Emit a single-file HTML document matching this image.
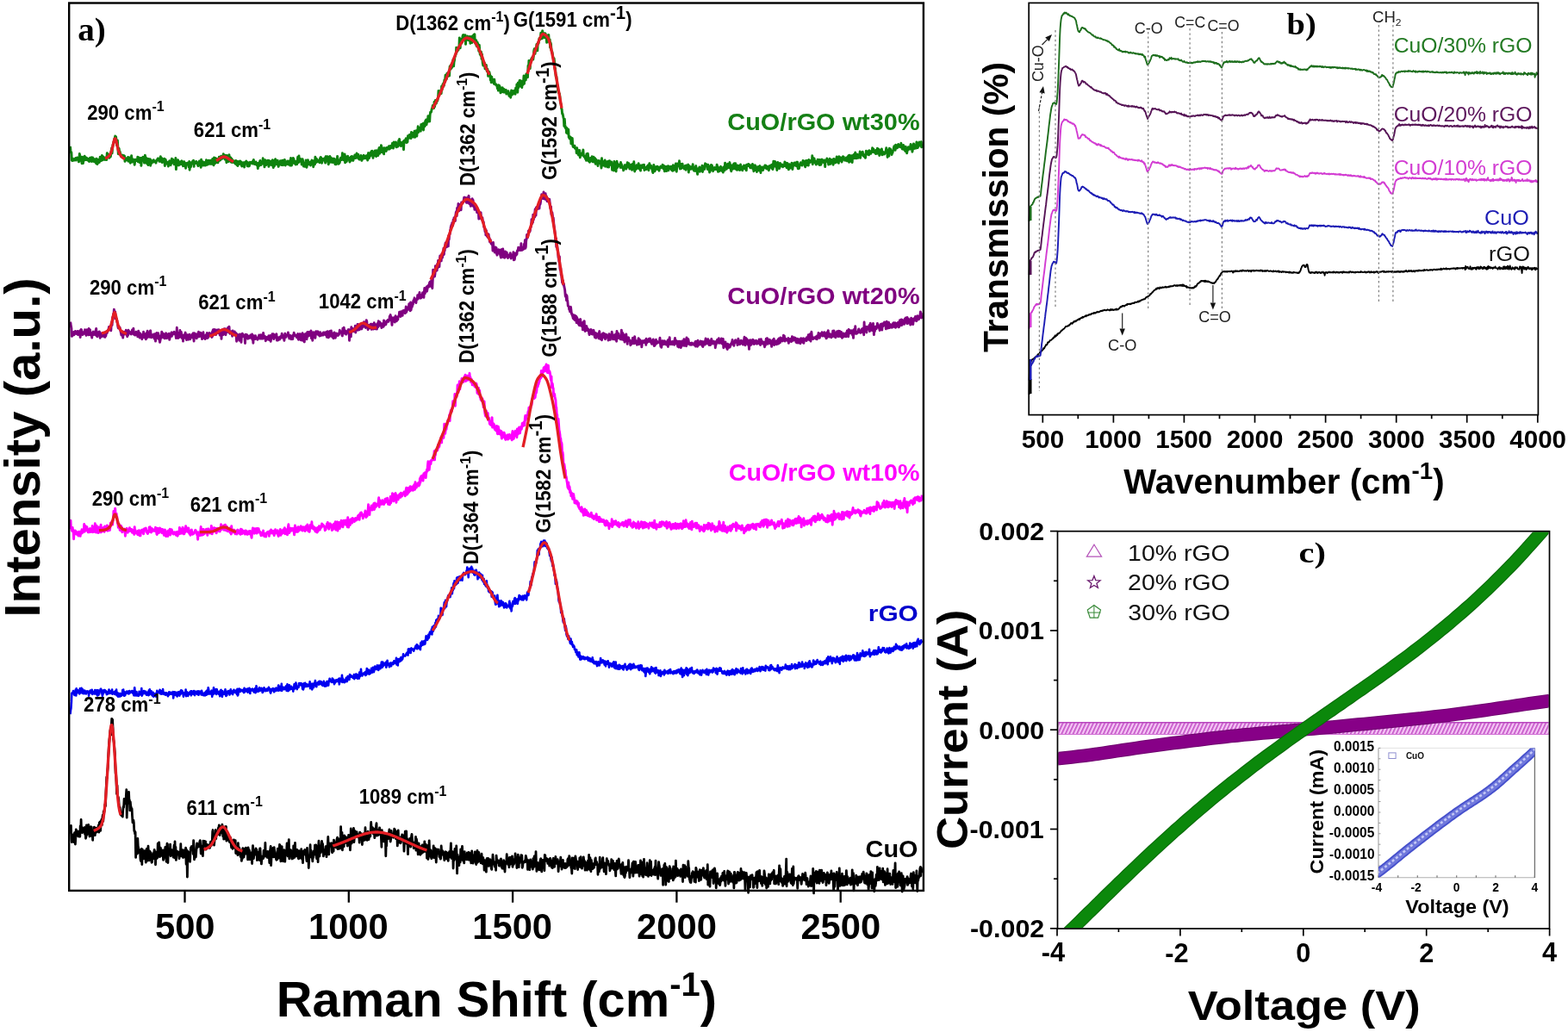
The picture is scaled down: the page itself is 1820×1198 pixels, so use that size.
<!DOCTYPE html>
<html><head><meta charset="utf-8"><title>Figure</title>
<style>html,body{margin:0;padding:0;background:#fff;width:1820px;height:1198px;overflow:hidden}svg{display:block}</style>
</head><body><svg width="1820" height="1198" viewBox="0 0 1820 1198"><rect width="100%" height="100%" fill="#fff"/><path d="M81.5 169.8L82.0 174.7 82.4 177.3 82.9 177.1 83.3 186.0 83.8 186.5 84.2 184.0 84.7 186.4 85.1 185.8 85.6 185.5 86.0 184.8 86.5 185.9 86.9 184.7 87.4 184.2 87.8 183.5 88.3 186.0 88.7 184.7 89.2 184.0 89.6 182.9 90.1 184.1 90.5 184.7 91.0 184.1 91.4 187.8 91.9 187.1 92.3 178.5 92.8 180.4 93.2 184.4 93.7 183.8 94.1 185.3 94.6 185.3 95.0 189.7 95.5 182.2 95.9 183.9 96.4 189.5 96.8 186.3 97.3 186.4 97.7 183.7 98.2 181.2 98.6 185.6 99.1 185.6 99.5 182.6 100.0 184.0 100.4 185.5 100.9 183.5 101.3 185.6 101.8 186.0 102.2 185.8 102.7 184.5 103.1 186.9 103.6 187.5 104.0 186.0 104.5 183.2 104.9 186.8 105.4 183.9 105.8 187.2 106.3 182.7 106.7 187.5 107.2 185.6 107.6 183.0 108.1 185.5 108.5 186.6 109.0 187.5 109.4 184.8 109.9 184.8 110.3 188.1 110.8 186.7 111.2 185.7 111.7 189.7 112.1 184.1 112.6 188.5 113.0 190.6 113.5 186.9 113.9 185.4 114.4 188.8 114.8 187.3 115.3 188.5 115.7 185.2 116.2 182.2 116.6 185.0 117.1 183.9 117.5 186.5 118.0 184.8 118.4 180.4 118.9 181.2 119.3 185.9 119.8 185.3 120.2 182.1 120.7 183.5 121.1 184.5 121.6 184.5 122.0 185.4 122.5 183.9 122.9 183.0 123.4 182.5 123.8 185.5 124.3 177.6 124.7 182.4 125.2 182.6 125.6 179.0 126.1 182.8 126.5 180.1 127.0 183.2 127.4 180.2 127.9 181.4 128.3 181.9 128.8 178.9 129.2 174.7 129.7 171.7 130.1 177.8 130.6 171.5 131.0 168.0 131.5 167.8 131.9 164.7 132.4 165.1 132.8 161.3 133.3 160.1 133.7 157.9 134.2 161.2 134.6 158.7 135.1 164.4 135.5 168.5 136.0 163.2 136.4 163.1 136.9 172.4 137.3 178.7 137.8 171.9 138.2 172.7 138.7 178.3 139.1 176.0 139.6 177.7 140.0 178.9 140.5 181.6 140.9 180.0 141.4 182.1 141.8 181.4 142.3 180.2 142.7 181.8 143.2 180.6 143.6 183.1 144.1 180.7 144.5 181.1 145.0 187.3 145.4 184.0 145.9 184.3 146.3 185.8 146.8 183.8 147.2 184.4 147.7 186.1 148.1 185.8 148.6 182.5 149.0 187.2 149.5 183.9 149.9 182.9 150.4 183.2 150.8 184.4 151.3 189.2 151.7 182.7 152.2 185.9 152.6 180.6 153.1 185.7 153.5 188.0 154.0 185.4 154.4 184.7 154.9 186.8 155.3 188.1 155.8 188.1 156.2 191.2 156.7 187.1 157.1 185.2 157.6 186.3 158.0 186.3 158.5 186.6 158.9 186.2 159.4 186.5 159.8 182.1 160.3 187.8 160.7 184.4 161.2 182.9 161.6 187.1 162.1 188.6 162.5 186.7 163.0 185.9 163.4 183.4 163.9 192.3 164.3 187.7 164.8 183.1 165.2 184.0 165.7 186.1 166.1 182.3 166.6 186.4 167.0 185.1 167.5 189.1 167.9 188.5 168.4 180.1 168.8 186.6 169.3 182.8 169.7 189.2 170.2 187.0 170.6 187.9 171.1 184.2 171.5 191.0 172.0 191.5 172.4 184.5 172.9 187.9 173.3 185.7 173.8 187.4 174.2 184.7 174.7 192.2 175.1 185.8 175.6 187.5 176.0 189.5 176.5 186.9 176.9 187.9 177.4 187.2 177.8 188.1 178.3 185.6 178.7 187.2 179.2 187.6 179.6 187.1 180.1 187.9 180.5 186.9 181.0 189.2 181.4 186.5 181.9 186.8 182.3 185.5 182.8 185.7 183.2 183.9 183.7 184.4 184.1 184.0 184.6 184.9 185.0 187.4 185.5 187.4 185.9 185.5 186.4 181.8 186.8 187.5 187.3 187.1 187.7 183.4 188.2 188.6 188.6 185.3 189.1 184.5 189.5 187.6 190.0 187.2 190.4 188.3 190.9 184.3 191.3 192.5 191.8 187.1 192.2 185.1 192.7 190.2 193.1 188.1 193.6 189.7 194.0 188.2 194.5 188.9 194.9 189.6 195.4 193.0 195.8 190.6 196.3 187.8 196.7 186.8 197.2 188.9 197.6 189.6 198.1 191.8 198.5 186.4 199.0 189.7 199.4 184.2 199.9 185.8 200.3 188.3 200.8 185.1 201.2 188.4 201.7 188.3 202.1 190.7 202.6 186.6 203.0 187.4 203.5 189.8 203.9 183.5 204.4 196.6 204.8 187.9 205.3 187.9 205.7 191.8 206.2 189.7 206.6 185.7 207.1 191.3 207.5 191.9 208.0 188.8 208.4 189.1 208.9 190.9 209.3 187.6 209.8 190.8 210.2 190.3 210.7 188.3 211.1 186.8 211.6 189.6 212.0 188.3 212.5 192.8 212.9 191.0 213.4 192.6 213.8 187.6 214.3 191.6 214.7 189.2 215.2 192.6 215.6 195.2 216.1 190.3 216.5 189.6 217.0 190.5 217.4 189.7 217.9 189.1 218.3 191.0 218.8 189.9 219.2 193.9 219.7 187.5 220.1 197.2 220.6 192.6 221.0 189.7 221.5 193.7 221.9 188.9 222.4 188.5 222.8 189.5 223.3 190.0 223.7 187.0 224.2 190.1 224.6 186.3 225.1 193.4 225.5 189.9 226.0 188.6 226.4 187.9 226.9 189.1 227.3 189.4 227.8 187.5 228.2 187.8 228.7 189.5 229.1 188.7 229.6 192.1 230.0 192.6 230.5 190.0 230.9 191.1 231.4 187.0 231.8 191.7 232.3 190.3 232.7 191.6 233.2 194.3 233.6 185.3 234.1 191.3 234.5 188.2 235.0 192.1 235.4 187.7 235.9 189.5 236.3 191.1 236.8 191.9 237.2 190.5 237.7 188.4 238.1 188.8 238.6 192.0 239.0 189.7 239.5 185.7 239.9 191.4 240.4 190.2 240.8 191.1 241.3 188.2 241.7 190.7 242.2 186.1 242.6 189.8 243.1 187.1 243.5 189.7 244.0 190.3 244.4 186.1 244.9 187.6 245.3 187.7 245.8 190.3 246.2 189.0 246.7 184.4 247.1 188.2 247.6 188.8 248.0 191.9 248.5 183.0 248.9 185.6 249.4 189.8 249.8 183.5 250.3 183.7 250.7 187.6 251.2 188.6 251.6 184.5 252.1 187.1 252.5 185.9 253.0 188.9 253.4 185.0 253.9 187.0 254.3 182.2 254.8 183.5 255.2 183.4 255.7 186.0 256.1 184.5 256.6 181.1 257.0 184.3 257.5 184.4 257.9 182.3 258.4 181.9 258.8 182.1 259.3 178.7 259.7 183.2 260.2 183.5 260.6 181.0 261.1 185.0 261.5 180.2 262.0 182.4 262.4 182.8 262.9 188.7 263.3 180.5 263.8 185.8 264.2 186.8 264.7 185.6 265.1 187.6 265.6 182.6 266.0 179.8 266.5 187.0 266.9 182.5 267.4 184.7 267.8 182.8 268.3 188.2 268.7 188.0 269.2 184.5 269.6 188.5 270.1 186.9 270.5 186.5 271.0 187.2 271.4 186.8 271.9 188.9 272.3 188.3 272.8 186.9 273.2 190.2 273.7 186.5 274.1 188.7 274.6 189.1 275.0 191.6 275.5 187.2 275.9 192.5 276.4 189.1 276.8 188.4 277.3 187.5 277.7 190.6 278.2 189.5 278.6 187.0 279.1 187.1 279.5 188.5 280.0 188.3 280.4 192.4 280.9 193.0 281.3 191.8 281.8 190.5 282.2 188.6 282.7 189.6 283.1 191.4 283.6 194.1 284.0 191.1 284.5 188.3 284.9 188.9 285.4 187.6 285.8 186.9 286.3 188.2 286.7 189.1 287.2 192.9 287.6 188.8 288.1 191.9 288.5 192.9 289.0 189.1 289.4 192.7 289.9 190.7 290.3 188.1 290.8 189.7 291.2 189.1 291.7 188.5 292.1 188.6 292.6 189.4 293.0 190.0 293.5 186.9 293.9 189.0 294.4 185.5 294.8 189.7 295.3 190.6 295.7 189.6 296.2 190.0 296.6 190.7 297.1 187.9 297.5 189.0 298.0 190.8 298.4 192.0 298.9 190.6 299.3 195.6 299.8 189.4 300.2 191.9 300.7 192.4 301.1 189.1 301.6 187.4 302.0 186.4 302.5 189.5 302.9 191.6 303.4 189.6 303.8 189.3 304.3 188.0 304.7 190.1 305.2 183.8 305.6 189.3 306.1 188.9 306.5 185.7 307.0 193.9 307.4 185.6 307.9 186.4 308.3 186.1 308.8 191.5 309.2 187.0 309.7 190.6 310.1 190.5 310.6 189.9 311.0 186.3 311.5 188.0 311.9 193.4 312.4 186.5 312.8 187.6 313.3 189.2 313.7 191.4 314.2 190.1 314.6 191.2 315.1 186.9 315.5 191.5 316.0 190.6 316.4 185.6 316.9 192.8 317.3 194.6 317.8 187.5 318.2 189.4 318.7 192.5 319.1 185.9 319.6 184.7 320.0 186.4 320.5 188.1 320.9 188.0 321.4 190.7 321.8 189.9 322.3 186.3 322.7 190.4 323.2 193.4 323.6 191.7 324.1 191.2 324.5 188.9 325.0 191.1 325.4 186.6 325.9 190.6 326.3 188.6 326.8 191.5 327.2 189.9 327.7 186.3 328.1 189.1 328.6 191.7 329.0 186.2 329.5 187.5 329.9 187.1 330.4 185.4 330.8 191.1 331.3 191.9 331.7 190.7 332.2 189.3 332.6 188.6 333.1 190.3 333.5 186.9 334.0 190.6 334.4 190.9 334.9 190.5 335.3 187.0 335.8 188.3 336.2 187.6 336.7 192.1 337.1 188.3 337.6 183.4 338.0 188.7 338.5 192.1 338.9 189.4 339.4 189.9 339.8 188.1 340.3 183.5 340.7 184.1 341.2 185.5 341.6 188.2 342.1 189.3 342.5 190.3 343.0 188.0 343.4 191.0 343.9 188.1 344.3 187.1 344.8 190.6 345.2 186.4 345.7 182.1 346.1 185.9 346.6 188.5 347.0 181.0 347.5 187.2 347.9 187.2 348.4 184.7 348.8 184.5 349.3 186.9 349.7 186.8 350.2 191.0 350.6 189.1 351.1 184.6 351.5 186.4 352.0 190.2 352.4 193.1 352.9 189.7 353.3 189.6 353.8 193.3 354.2 189.0 354.7 188.4 355.1 185.9 355.6 192.2 356.0 194.3 356.5 191.2 356.9 189.1 357.4 185.7 357.8 189.2 358.3 190.8 358.7 188.0 359.2 190.1 359.6 190.0 360.1 189.2 360.5 192.0 361.0 189.2 361.4 187.1 361.9 186.1 362.3 188.9 362.8 188.6 363.2 186.7 363.7 193.7 364.1 191.5 364.6 186.6 365.0 186.2 365.5 190.8 365.9 182.3 366.4 185.5 366.8 188.6 367.3 184.2 367.7 185.1 368.2 185.3 368.6 187.7 369.1 186.4 369.5 187.0 370.0 187.5 370.4 186.2 370.9 188.8 371.3 184.6 371.8 183.1 372.2 182.4 372.7 182.8 373.1 185.4 373.6 189.2 374.0 187.3 374.5 185.6 374.9 184.5 375.4 185.8 375.8 186.1 376.3 185.6 376.7 183.6 377.2 185.7 377.6 189.1 378.1 181.6 378.5 186.1 379.0 181.6 379.4 187.0 379.9 184.8 380.3 181.6 380.8 186.7 381.2 190.7 381.7 186.8 382.1 189.2 382.6 186.4 383.0 181.5 383.5 187.7 383.9 185.5 384.4 183.1 384.8 188.3 385.3 187.1 385.7 185.2 386.2 188.5 386.6 184.5 387.1 184.0 387.5 184.5 388.0 188.1 388.4 184.4 388.9 190.6 389.3 187.9 389.8 190.8 390.2 185.6 390.7 186.5 391.1 189.7 391.6 181.4 392.0 185.3 392.5 190.3 392.9 188.9 393.4 190.1 393.8 187.0 394.3 188.9 394.7 185.8 395.2 184.1 395.6 183.2 396.1 185.6 396.5 185.4 397.0 184.9 397.4 177.8 397.9 181.0 398.3 184.2 398.8 185.8 399.2 183.5 399.7 182.5 400.1 178.9 400.6 188.9 401.0 181.4 401.5 187.8 401.9 187.5 402.4 187.3 402.8 182.4 403.3 184.1 403.7 181.1 404.2 184.5 404.6 183.9 405.1 185.2 405.5 186.2 406.0 188.1 406.4 183.1 406.9 186.5 407.3 182.1 407.8 181.8 408.2 182.4 408.7 181.5 409.1 186.0 409.6 185.8 410.0 186.4 410.5 183.2 410.9 183.8 411.4 181.6 411.8 180.0 412.3 183.6 412.7 183.0 413.2 179.6 413.6 183.4 414.1 177.9 414.5 181.5 415.0 180.4 415.4 180.7 415.9 179.4 416.3 184.3 416.8 183.6 417.2 185.2 417.7 183.0 418.1 184.8 418.6 182.2 419.0 180.5 419.5 184.5 419.9 186.4 420.4 184.4 420.8 182.3 421.3 182.8 421.7 184.2 422.2 180.2 422.6 183.9 423.1 183.9 423.5 182.0 424.0 182.1 424.4 183.4 424.9 180.9 425.3 180.7 425.8 184.3 426.2 182.8 426.7 186.0 427.1 179.6 427.6 177.6 428.0 183.8 428.5 183.7 428.9 179.6 429.4 177.8 429.8 181.0 430.3 176.9 430.7 180.0 431.2 175.5 431.6 179.9 432.1 175.3 432.5 179.5 433.0 183.4 433.4 178.9 433.9 181.1 434.3 177.5 434.8 176.6 435.2 174.9 435.7 180.6 436.1 177.8 436.6 181.6 437.0 174.6 437.5 176.6 437.9 177.0 438.4 179.9 438.8 180.6 439.3 174.5 439.7 173.0 440.2 171.4 440.6 178.4 441.1 174.9 441.5 173.4 442.0 174.6 442.4 168.6 442.9 170.5 443.3 176.8 443.8 175.5 444.2 174.9 444.7 172.2 445.1 176.0 445.6 178.8 446.0 171.6 446.5 174.5 446.9 173.3 447.4 175.1 447.8 174.1 448.3 175.4 448.7 171.4 449.2 173.1 449.6 171.3 450.1 172.0 450.5 171.8 451.0 173.2 451.4 169.8 451.9 170.1 452.3 173.1 452.8 169.7 453.2 169.4 453.7 171.8 454.1 170.2 454.6 169.6 455.0 169.8 455.5 166.2 455.9 170.1 456.4 172.1 456.8 170.2 457.3 164.9 457.7 169.2 458.2 166.2 458.6 167.6 459.1 168.3 459.5 164.9 460.0 170.8 460.4 167.3 460.9 169.2 461.3 168.6 461.8 170.2 462.2 169.7 462.7 163.1 463.1 166.7 463.6 161.4 464.0 165.5 464.5 168.2 464.9 168.7 465.4 169.5 465.8 165.4 466.3 166.9 466.7 166.1 467.2 168.7 467.6 169.1 468.1 164.1 468.5 173.7 469.0 164.2 469.4 162.9 469.9 164.8 470.3 164.8 470.8 164.0 471.2 160.8 471.7 165.6 472.1 161.9 472.6 165.2 473.0 164.6 473.5 157.8 473.9 158.1 474.4 157.7 474.8 160.3 475.3 156.4 475.7 159.4 476.2 156.3 476.6 158.8 477.1 160.7 477.5 153.5 478.0 155.8 478.4 156.5 478.9 155.1 479.3 154.6 479.8 159.0 480.2 157.6 480.7 156.2 481.1 152.1 481.6 159.3 482.0 154.5 482.5 152.0 482.9 152.4 483.4 151.9 483.8 158.1 484.3 153.2 484.7 152.6 485.2 146.8 485.6 153.6 486.1 148.8 486.5 148.2 487.0 152.1 487.4 148.1 487.9 151.8 488.3 152.1 488.8 144.5 489.2 148.2 489.7 144.2 490.1 147.6 490.6 149.6 491.0 143.5 491.5 151.0 491.9 145.3 492.4 142.7 492.8 144.8 493.3 146.5 493.7 140.4 494.2 143.2 494.6 139.0 495.1 144.6 495.5 141.1 496.0 138.8 496.4 141.5 496.9 134.7 497.3 136.0 497.8 140.6 498.2 134.6 498.7 141.0 499.1 133.4 499.6 130.1 500.0 130.3 500.5 130.1 500.9 127.9 501.4 125.9 501.8 125.1 502.3 122.4 502.7 125.7 503.2 125.6 503.6 125.7 504.1 118.2 504.5 124.1 505.0 121.1 505.4 116.4 505.9 119.4 506.3 120.1 506.8 118.3 507.2 117.6 507.7 117.0 508.1 115.6 508.6 112.0 509.0 105.4 509.5 107.7 509.9 109.5 510.4 106.3 510.8 108.3 511.3 107.6 511.7 104.6 512.2 108.5 512.6 100.1 513.1 104.2 513.5 99.6 514.0 97.8 514.4 100.6 514.9 96.4 515.3 99.4 515.8 93.0 516.2 95.2 516.7 91.9 517.1 87.2 517.6 91.0 518.0 87.8 518.5 91.5 518.9 85.2 519.4 84.8 519.8 88.7 520.3 87.7 520.7 85.8 521.2 83.7 521.6 88.0 522.1 77.3 522.5 77.6 523.0 75.9 523.4 80.1 523.9 77.4 524.3 78.8 524.8 77.4 525.2 73.2 525.7 70.5 526.1 69.0 526.6 76.8 527.0 72.2 527.5 70.0 527.9 66.2 528.4 65.3 528.8 63.6 529.3 62.4 529.7 55.2 530.2 60.5 530.6 58.3 531.1 58.9 531.5 57.5 532.0 58.1 532.4 54.6 532.9 55.9 533.3 43.9 533.8 48.5 534.2 55.7 534.7 46.4 535.1 48.3 535.6 50.4 536.0 45.2 536.5 49.2 536.9 42.5 537.4 40.7 537.8 41.9 538.3 40.6 538.7 45.0 539.2 43.9 539.6 45.5 540.1 40.7 540.5 51.4 541.0 43.7 541.4 43.7 541.9 45.1 542.3 43.1 542.8 42.0 543.2 44.1 543.7 46.6 544.1 45.9 544.6 46.9 545.0 42.7 545.5 42.2 545.9 50.4 546.4 44.1 546.8 46.4 547.3 47.4 547.7 49.6 548.2 41.9 548.6 44.7 549.1 45.2 549.5 45.9 550.0 40.2 550.4 47.2 550.9 39.6 551.3 49.1 551.8 50.3 552.2 51.1 552.7 46.6 553.1 53.5 553.6 49.1 554.0 49.0 554.5 50.7 554.9 52.1 555.4 56.2 555.8 59.2 556.3 52.2 556.7 57.8 557.2 63.2 557.6 62.5 558.1 64.6 558.5 60.2 559.0 68.4 559.4 62.6 559.9 68.8 560.3 73.4 560.8 76.1 561.2 73.5 561.7 75.7 562.1 72.7 562.6 74.2 563.0 79.8 563.5 77.6 563.9 78.1 564.4 75.5 564.8 80.7 565.3 82.9 565.7 79.9 566.2 81.7 566.6 88.3 567.1 85.4 567.5 85.1 568.0 83.7 568.4 86.0 568.9 87.8 569.3 93.0 569.8 88.4 570.2 95.7 570.7 89.1 571.1 91.4 571.6 95.3 572.0 93.2 572.5 92.4 572.9 95.1 573.4 97.4 573.8 92.3 574.3 97.0 574.7 98.0 575.2 97.8 575.6 97.7 576.1 98.4 576.5 99.3 577.0 100.6 577.4 102.7 577.9 100.3 578.3 105.1 578.8 98.8 579.2 104.9 579.7 99.4 580.1 101.4 580.6 103.1 581.0 107.9 581.5 105.1 581.9 101.9 582.4 106.7 582.8 103.0 583.3 101.8 583.7 105.3 584.2 104.6 584.6 107.1 585.1 103.4 585.5 106.1 586.0 107.1 586.4 106.4 586.9 105.9 587.3 104.5 587.8 109.1 588.2 107.4 588.7 108.7 589.1 106.9 589.6 108.2 590.0 105.8 590.5 109.1 590.9 111.2 591.4 109.6 591.8 111.8 592.3 108.1 592.7 113.2 593.2 109.0 593.6 105.0 594.1 110.2 594.5 108.2 595.0 105.6 595.4 109.4 595.9 107.8 596.3 107.7 596.8 105.1 597.2 106.0 597.7 105.6 598.1 109.2 598.6 102.2 599.0 103.5 599.5 104.0 599.9 97.9 600.4 97.7 600.8 107.2 601.3 96.2 601.7 101.9 602.2 97.6 602.6 97.3 603.1 93.5 603.5 95.9 604.0 100.0 604.4 93.8 604.9 98.7 605.3 97.5 605.8 101.6 606.2 94.5 606.7 98.7 607.1 97.2 607.6 93.5 608.0 88.0 608.5 97.2 608.9 88.8 609.4 90.4 609.8 93.2 610.3 92.8 610.7 86.3 611.2 87.2 611.6 85.2 612.1 87.6 612.5 89.7 613.0 76.3 613.4 82.3 613.9 70.4 614.3 76.9 614.8 72.4 615.2 79.6 615.7 73.3 616.1 69.6 616.6 69.1 617.0 67.7 617.5 68.6 617.9 66.5 618.4 67.6 618.8 69.0 619.3 65.5 619.7 59.0 620.2 56.8 620.6 58.2 621.1 62.3 621.5 57.4 622.0 55.4 622.4 56.7 622.9 51.4 623.3 51.1 623.8 58.8 624.2 51.1 624.7 49.4 625.1 50.2 625.6 46.3 626.0 44.6 626.5 44.0 626.9 45.7 627.4 43.0 627.8 38.3 628.3 39.9 628.7 41.9 629.2 44.8 629.6 35.7 630.1 39.7 630.5 38.0 631.0 41.3 631.4 40.4 631.9 43.7 632.3 41.4 632.8 38.7 633.2 39.3 633.7 42.5 634.1 43.0 634.6 49.3 635.0 47.8 635.5 42.9 635.9 45.0 636.4 40.6 636.8 40.4 637.3 48.3 637.7 49.0 638.2 45.9 638.6 55.3 639.1 49.7 639.5 51.1 640.0 58.3 640.4 59.2 640.9 60.2 641.3 62.6 641.8 65.8 642.2 67.2 642.7 69.8 643.1 67.7 643.6 71.9 644.0 80.1 644.5 79.2 644.9 85.4 645.4 90.0 645.8 88.4 646.3 92.8 646.7 100.4 647.2 99.4 647.6 105.2 648.1 107.1 648.5 107.7 649.0 108.1 649.4 108.8 649.9 112.0 650.3 117.4 650.8 120.0 651.2 121.0 651.7 126.3 652.1 126.6 652.6 132.1 653.0 131.9 653.5 134.0 653.9 136.3 654.4 138.1 654.8 146.5 655.3 138.0 655.7 144.2 656.2 148.5 656.6 148.7 657.1 147.7 657.5 154.2 658.0 148.6 658.4 149.3 658.9 155.1 659.3 151.3 659.8 150.2 660.2 159.2 660.7 159.9 661.1 160.8 661.6 158.7 662.0 161.3 662.5 159.4 662.9 166.8 663.4 165.4 663.8 166.1 664.3 160.5 664.7 167.9 665.2 170.4 665.6 170.5 666.1 170.3 666.5 169.2 667.0 169.2 667.4 172.2 667.9 172.4 668.3 172.8 668.8 172.2 669.2 177.7 669.7 171.6 670.1 174.9 670.6 174.2 671.0 178.6 671.5 180.0 671.9 180.0 672.4 179.2 672.8 174.4 673.3 182.9 673.7 179.5 674.2 178.2 674.6 178.7 675.1 178.1 675.5 180.1 676.0 180.1 676.4 178.8 676.9 173.9 677.3 180.2 677.8 181.7 678.2 182.2 678.7 181.0 679.1 182.9 679.6 184.6 680.0 181.5 680.5 186.4 680.9 178.7 681.4 180.6 681.8 181.6 682.3 178.2 682.7 181.7 683.2 187.1 683.6 187.2 684.1 184.5 684.5 188.4 685.0 185.0 685.4 183.4 685.9 185.2 686.3 184.5 686.8 186.7 687.2 181.6 687.7 187.7 688.1 184.5 688.6 187.7 689.0 182.3 689.5 185.1 689.9 186.4 690.4 188.5 690.8 183.6 691.3 190.4 691.7 187.7 692.2 185.5 692.6 189.6 693.1 187.1 693.5 189.7 694.0 192.6 694.4 189.2 694.9 186.4 695.3 186.9 695.8 189.6 696.2 189.2 696.7 186.9 697.1 187.6 697.6 190.9 698.0 195.0 698.5 183.7 698.9 191.6 699.4 189.5 699.8 191.9 700.3 192.1 700.7 190.3 701.2 187.8 701.6 187.0 702.1 185.9 702.5 193.2 703.0 189.9 703.4 189.3 703.9 190.0 704.3 187.6 704.8 191.5 705.2 193.9 705.7 193.5 706.1 187.3 706.6 194.1 707.0 189.2 707.5 186.6 707.9 188.3 708.4 188.9 708.8 191.2 709.3 188.9 709.7 187.9 710.2 190.9 710.6 197.4 711.1 190.1 711.5 192.8 712.0 192.0 712.4 198.0 712.9 187.4 713.3 194.3 713.8 188.8 714.2 190.3 714.7 191.4 715.1 199.0 715.6 189.8 716.0 187.2 716.5 194.6 716.9 189.7 717.4 191.2 717.8 191.8 718.3 192.2 718.7 191.7 719.2 192.8 719.6 193.2 720.1 194.5 720.5 188.4 721.0 191.1 721.4 190.6 721.9 194.6 722.3 193.3 722.8 194.9 723.2 195.1 723.7 197.9 724.1 194.7 724.6 196.1 725.0 191.7 725.5 192.1 725.9 193.9 726.4 191.8 726.8 196.1 727.3 191.4 727.7 194.5 728.2 188.6 728.6 191.6 729.1 193.3 729.5 193.4 730.0 189.8 730.4 194.1 730.9 196.1 731.3 195.3 731.8 192.3 732.2 192.5 732.7 191.2 733.1 195.4 733.6 197.3 734.0 192.8 734.5 190.1 734.9 194.5 735.4 195.7 735.8 187.8 736.3 194.3 736.7 199.0 737.2 195.9 737.6 195.3 738.1 194.9 738.5 196.4 739.0 191.8 739.4 192.1 739.9 195.0 740.3 192.5 740.8 193.5 741.2 189.7 741.7 195.9 742.1 196.2 742.6 194.4 743.0 194.7 743.5 198.1 743.9 191.9 744.4 192.4 744.8 192.0 745.3 193.6 745.7 191.6 746.2 194.8 746.6 193.2 747.1 191.4 747.5 191.2 748.0 197.6 748.4 194.7 748.9 194.3 749.3 194.9 749.8 194.6 750.2 196.5 750.7 196.0 751.1 193.3 751.6 192.7 752.0 192.1 752.5 191.7 752.9 197.7 753.4 192.3 753.8 189.7 754.3 192.3 754.7 192.4 755.2 194.9 755.6 192.1 756.1 195.3 756.5 195.0 757.0 197.0 757.4 199.0 757.9 200.6 758.3 197.2 758.8 191.4 759.2 193.2 759.7 194.7 760.1 198.9 760.6 195.7 761.0 197.0 761.5 193.8 761.9 195.6 762.4 195.9 762.8 193.2 763.3 196.1 763.7 196.8 764.2 194.0 764.6 196.7 765.1 198.2 765.5 194.6 766.0 194.4 766.4 193.8 766.9 193.1 767.3 194.9 767.8 193.7 768.2 194.0 768.7 193.0 769.1 191.3 769.6 192.7 770.0 195.7 770.5 192.3 770.9 196.2 771.4 198.8 771.8 197.6 772.3 193.4 772.7 196.3 773.2 193.4 773.6 198.6 774.1 193.4 774.5 194.9 775.0 197.9 775.4 192.8 775.9 197.8 776.3 193.0 776.8 195.5 777.2 194.4 777.7 195.0 778.1 195.6 778.6 195.2 779.0 193.1 779.5 197.4 779.9 197.0 780.4 198.2 780.8 198.3 781.3 191.8 781.7 197.6 782.2 197.4 782.6 192.9 783.1 196.2 783.5 197.0 784.0 192.1 784.4 190.0 784.9 192.1 785.3 199.2 785.8 193.3 786.2 189.9 786.7 192.0 787.1 190.3 787.6 191.7 788.0 192.9 788.5 186.8 788.9 193.6 789.4 196.0 789.8 192.4 790.3 192.1 790.7 195.6 791.2 190.3 791.6 190.4 792.1 190.3 792.5 193.2 793.0 194.7 793.4 193.7 793.9 195.3 794.3 196.1 794.8 195.4 795.2 192.5 795.7 193.7 796.1 197.2 796.6 191.9 797.0 193.7 797.5 193.3 797.9 193.8 798.4 191.7 798.8 191.1 799.3 200.0 799.7 196.3 800.2 192.6 800.6 194.2 801.1 196.0 801.5 193.9 802.0 196.3 802.4 193.8 802.9 194.7 803.3 195.6 803.8 195.0 804.2 190.7 804.7 196.7 805.1 197.5 805.6 198.2 806.0 195.0 806.5 198.2 806.9 198.0 807.4 193.5 807.8 192.5 808.3 198.7 808.7 195.4 809.2 199.8 809.6 202.4 810.1 196.0 810.5 195.6 811.0 197.0 811.4 198.4 811.9 194.0 812.3 199.2 812.8 198.4 813.2 197.4 813.7 194.4 814.1 197.5 814.6 197.1 815.0 192.2 815.5 199.5 815.9 193.8 816.4 195.1 816.8 192.9 817.3 194.8 817.7 196.5 818.2 191.8 818.6 189.8 819.1 192.5 819.5 190.5 820.0 191.7 820.4 193.1 820.9 193.3 821.3 196.5 821.8 191.2 822.2 194.5 822.7 192.7 823.1 197.1 823.6 200.0 824.0 195.1 824.5 198.5 824.9 193.7 825.4 191.5 825.8 192.4 826.3 191.9 826.7 193.5 827.2 195.3 827.6 198.7 828.1 197.7 828.5 197.2 829.0 195.2 829.4 194.5 829.9 196.2 830.3 196.4 830.8 196.6 831.2 196.7 831.7 195.5 832.1 191.2 832.6 193.0 833.0 193.6 833.5 199.3 833.9 194.4 834.4 197.0 834.8 198.8 835.3 196.3 835.7 194.7 836.2 194.9 836.6 193.3 837.1 196.4 837.5 198.3 838.0 197.0 838.4 197.4 838.9 197.2 839.3 200.1 839.8 193.9 840.2 195.6 840.7 196.7 841.1 197.8 841.6 189.2 842.0 193.4 842.5 194.0 842.9 192.0 843.4 196.2 843.8 194.7 844.3 194.3 844.7 190.2 845.2 190.8 845.6 191.5 846.1 194.7 846.5 190.7 847.0 188.6 847.4 191.9 847.9 191.8 848.3 197.0 848.8 198.8 849.2 192.0 849.7 195.3 850.1 196.4 850.6 196.2 851.0 193.1 851.5 190.5 851.9 192.6 852.4 189.6 852.8 194.5 853.3 195.9 853.7 189.8 854.2 194.1 854.6 194.9 855.1 197.1 855.5 197.3 856.0 191.9 856.4 192.4 856.9 193.1 857.3 196.7 857.8 192.5 858.2 193.8 858.7 197.6 859.1 194.4 859.6 191.0 860.0 193.7 860.5 195.9 860.9 194.2 861.4 197.4 861.8 197.8 862.3 193.4 862.7 193.8 863.2 194.6 863.6 192.0 864.1 195.6 864.5 194.1 865.0 196.1 865.4 192.7 865.9 191.8 866.3 197.8 866.8 191.3 867.2 191.7 867.7 191.2 868.1 192.0 868.6 190.5 869.0 192.5 869.5 191.0 869.9 191.8 870.4 193.8 870.8 194.8 871.3 194.5 871.7 191.9 872.2 194.8 872.6 193.8 873.1 194.1 873.5 190.5 874.0 196.2 874.4 194.4 874.9 198.8 875.3 196.3 875.8 192.3 876.2 191.7 876.7 197.5 877.1 192.8 877.6 196.3 878.0 194.0 878.5 199.5 878.9 194.8 879.4 198.1 879.8 197.6 880.3 193.5 880.7 193.8 881.2 198.0 881.6 194.6 882.1 192.6 882.5 197.4 883.0 200.5 883.4 194.5 883.9 197.8 884.3 194.1 884.8 197.6 885.2 193.9 885.7 197.5 886.1 195.7 886.6 194.0 887.0 195.0 887.5 193.3 887.9 192.0 888.4 192.2 888.8 194.6 889.3 192.3 889.7 195.8 890.2 196.1 890.6 195.9 891.1 193.7 891.5 194.9 892.0 194.7 892.4 197.7 892.9 192.6 893.3 193.4 893.8 193.5 894.2 193.5 894.7 191.8 895.1 191.7 895.6 195.2 896.0 191.1 896.5 194.3 896.9 196.6 897.4 194.6 897.8 187.3 898.3 193.1 898.7 192.3 899.2 192.4 899.6 187.4 900.1 192.9 900.5 188.7 901.0 194.3 901.4 194.0 901.9 197.5 902.3 190.9 902.8 188.4 903.2 194.5 903.7 194.3 904.1 191.5 904.6 195.6 905.0 194.1 905.5 189.5 905.9 191.7 906.4 191.5 906.8 192.3 907.3 193.0 907.7 190.9 908.2 192.0 908.6 193.8 909.1 192.3 909.5 191.8 910.0 191.8 910.4 192.2 910.9 188.0 911.3 192.9 911.8 190.1 912.2 192.8 912.7 189.2 913.1 194.7 913.6 193.2 914.0 189.5 914.5 193.2 914.9 190.9 915.4 196.8 915.8 193.7 916.3 190.6 916.7 192.9 917.2 192.2 917.6 195.0 918.1 192.9 918.5 193.2 919.0 189.3 919.4 193.6 919.9 196.5 920.3 193.1 920.8 191.5 921.2 191.9 921.7 189.3 922.1 192.0 922.6 189.0 923.0 191.7 923.5 190.7 923.9 189.6 924.4 192.9 924.8 188.1 925.3 191.4 925.7 188.3 926.2 195.6 926.6 195.8 927.1 193.1 927.5 195.5 928.0 192.4 928.4 192.2 928.9 189.9 929.3 188.7 929.8 191.0 930.2 189.4 930.7 189.5 931.1 192.1 931.6 190.0 932.0 186.5 932.5 189.5 932.9 188.1 933.4 189.1 933.8 187.1 934.3 192.3 934.7 193.8 935.2 186.7 935.6 190.7 936.1 190.4 936.5 186.4 937.0 189.0 937.4 191.9 937.9 190.5 938.3 192.1 938.8 185.5 939.2 186.3 939.7 188.5 940.1 188.5 940.6 187.6 941.0 186.5 941.5 186.3 941.9 185.7 942.4 188.1 942.8 180.6 943.3 190.7 943.7 185.8 944.2 183.7 944.6 188.4 945.1 184.0 945.5 188.4 946.0 186.7 946.4 189.2 946.9 189.8 947.3 191.1 947.8 187.1 948.2 187.6 948.7 188.4 949.1 185.2 949.6 189.9 950.0 188.8 950.5 185.4 950.9 191.3 951.4 191.6 951.8 185.4 952.3 189.8 952.7 191.3 953.2 190.4 953.6 186.1 954.1 185.0 954.5 187.9 955.0 186.9 955.4 187.9 955.9 187.4 956.3 188.7 956.8 185.9 957.2 186.6 957.7 193.6 958.1 186.2 958.6 188.0 959.0 186.8 959.5 186.5 959.9 183.9 960.4 187.2 960.8 185.9 961.3 188.1 961.7 191.1 962.2 186.8 962.6 188.3 963.1 184.3 963.5 187.0 964.0 190.4 964.4 186.7 964.9 185.4 965.3 187.3 965.8 186.3 966.2 186.1 966.7 185.7 967.1 191.2 967.6 184.4 968.0 185.3 968.5 184.9 968.9 189.0 969.4 185.3 969.8 188.9 970.3 186.1 970.7 185.5 971.2 182.0 971.6 188.1 972.1 186.3 972.5 185.9 973.0 184.5 973.4 189.4 973.9 181.7 974.3 186.8 974.8 185.1 975.2 183.6 975.7 182.9 976.1 184.6 976.6 184.1 977.0 188.1 977.5 186.1 977.9 182.9 978.4 181.7 978.8 183.7 979.3 182.2 979.7 184.6 980.2 185.5 980.6 186.1 981.1 185.7 981.5 184.4 982.0 186.3 982.4 182.9 982.9 184.8 983.3 186.9 983.8 185.5 984.2 181.8 984.7 181.9 985.1 180.5 985.6 188.3 986.0 180.1 986.5 183.1 986.9 187.3 987.4 185.2 987.8 185.4 988.3 180.8 988.7 183.4 989.2 188.5 989.6 181.0 990.1 181.9 990.5 180.0 991.0 180.6 991.4 179.2 991.9 183.8 992.3 178.4 992.8 177.1 993.2 180.6 993.7 181.1 994.1 183.9 994.6 182.3 995.0 179.2 995.5 182.0 995.9 183.3 996.4 181.3 996.8 179.8 997.3 182.1 997.7 179.6 998.2 175.9 998.6 183.3 999.1 177.0 999.5 179.1 1000.0 179.1 1000.4 178.9 1000.9 179.0 1001.3 176.1 1001.8 180.7 1002.2 179.4 1002.7 179.4 1003.1 181.7 1003.6 181.7 1004.0 182.2 1004.5 183.3 1004.9 179.9 1005.4 175.1 1005.8 179.1 1006.3 178.4 1006.7 178.4 1007.2 176.6 1007.6 175.8 1008.1 179.6 1008.5 179.8 1009.0 174.7 1009.4 178.5 1009.9 176.7 1010.3 176.0 1010.8 178.4 1011.2 176.6 1011.7 175.3 1012.1 176.7 1012.6 171.7 1013.0 175.0 1013.5 175.3 1013.9 173.0 1014.4 176.7 1014.8 176.9 1015.3 174.8 1015.7 175.7 1016.2 177.7 1016.6 178.5 1017.1 174.1 1017.5 176.7 1018.0 178.3 1018.4 172.2 1018.9 173.9 1019.3 173.9 1019.8 174.9 1020.2 173.3 1020.7 180.5 1021.1 174.4 1021.6 176.7 1022.0 176.3 1022.5 177.4 1022.9 175.0 1023.4 172.9 1023.8 179.9 1024.3 175.8 1024.7 176.3 1025.2 176.5 1025.6 179.1 1026.1 177.9 1026.5 178.9 1027.0 178.1 1027.4 176.5 1027.9 176.8 1028.3 174.4 1028.8 171.6 1029.2 175.7 1029.7 173.8 1030.1 182.5 1030.6 180.1 1031.0 179.1 1031.5 175.0 1031.9 181.1 1032.4 172.1 1032.8 173.1 1033.3 174.0 1033.7 173.3 1034.2 175.7 1034.6 175.6 1035.1 179.5 1035.5 177.1 1036.0 177.4 1036.4 175.2 1036.9 173.6 1037.3 172.0 1037.8 169.8 1038.2 171.0 1038.7 171.8 1039.1 174.3 1039.6 168.1 1040.0 168.6 1040.5 172.1 1040.9 168.9 1041.4 171.9 1041.8 170.0 1042.3 169.0 1042.7 167.5 1043.2 170.3 1043.6 168.7 1044.1 168.9 1044.5 168.8 1045.0 170.7 1045.4 170.6 1045.9 166.2 1046.3 169.9 1046.8 171.4 1047.2 173.0 1047.7 172.6 1048.1 171.4 1048.6 168.4 1049.0 169.6 1049.5 173.8 1049.9 170.3 1050.4 174.6 1050.8 175.5 1051.3 170.1 1051.7 173.9 1052.2 172.7 1052.6 177.9 1053.1 175.1 1053.5 171.9 1054.0 174.0 1054.4 170.7 1054.9 172.4 1055.3 173.1 1055.8 172.8 1056.2 173.0 1056.7 169.9 1057.1 167.4 1057.6 170.7 1058.0 169.2 1058.5 169.5 1058.9 176.2 1059.4 173.5 1059.8 170.1 1060.3 166.9 1060.7 167.1 1061.2 170.9 1061.6 172.4 1062.1 169.0 1062.5 169.9 1063.0 170.1 1063.4 172.0 1063.9 164.9 1064.3 169.7 1064.8 170.2 1065.2 171.5 1065.7 170.0 1066.1 166.3 1066.6 167.4 1067.0 165.0 1067.5 168.9 1067.9 168.6 1068.4 169.1 1068.8 165.3 1069.3 164.6 1069.7 170.8 1070.2 167.3" fill="none" stroke="#0e820e" stroke-width="2.9" stroke-linejoin="round"/><path d="M122.0 183.9L123.0 183.5 124.0 183.0 125.0 182.4 126.0 181.5 127.0 180.4 128.0 178.8 129.0 176.5 130.0 173.4 131.0 169.4 132.0 164.8 133.0 161.2 134.0 160.9 135.0 164.0 136.0 168.6 137.0 172.9 138.0 176.2 139.0 178.7 140.0 180.5 141.0 181.8 142.0 182.7 143.0 183.5 144.0 184.0 145.0 184.5" fill="none" stroke="#e31e24" stroke-width="3.3" stroke-linejoin="round"/><path d="M251.0 186.6L252.0 186.0 253.0 185.4 254.0 184.7 255.0 184.0 256.0 183.3 257.0 182.8 258.0 182.3 259.0 182.1 260.0 182.0 261.0 182.1 262.0 182.4 263.0 182.8 264.0 183.4 265.0 184.1 266.0 184.8 267.0 185.5 268.0 186.2 269.0 186.8 270.0 187.3 271.0 187.8" fill="none" stroke="#e31e24" stroke-width="3.3" stroke-linejoin="round"/><path d="M502.0 126.2L503.0 124.2 504.0 122.3 505.0 120.4 506.0 118.4 507.0 116.4 508.0 114.4 509.0 112.3 510.0 110.2 511.0 108.0 512.0 105.7 513.0 103.4 514.0 101.0 515.0 98.5 516.0 96.1 517.0 93.6 518.0 91.1 519.0 88.5 520.0 85.8 521.0 83.2 522.0 80.5 523.0 77.8 524.0 75.1 525.0 72.6 526.0 70.0 527.0 67.4 528.0 64.8 529.0 62.2 530.0 59.8 531.0 57.6 532.0 55.6 533.0 54.0 534.0 52.3 535.0 50.7 536.0 49.1 537.0 47.6 538.0 46.4 539.0 45.3 540.0 44.5 541.0 44.1 542.0 44.0 543.0 44.1 544.0 44.4 545.0 44.8 546.0 45.3 547.0 45.9 548.0 46.5 549.0 47.3 550.0 48.0 551.0 48.9 552.0 50.0 553.0 51.5 554.0 53.3 555.0 55.2 556.0 57.4 557.0 59.6 558.0 61.8 559.0 64.2 560.0 66.9 561.0 69.9 562.0 72.9 563.0 75.8 564.0 78.4 565.0 80.6 566.0 82.8 567.0 84.8 568.0 86.8" fill="none" stroke="#e31e24" stroke-width="3.3" stroke-linejoin="round"/><path d="M612.0 85.7L613.0 82.5 614.0 79.2 615.0 76.2 616.0 73.3 617.0 70.3 618.0 67.4 619.0 64.5 620.0 61.6 621.0 58.9 622.0 56.3 623.0 53.9 624.0 51.3 625.0 48.7 626.0 46.1 627.0 43.7 628.0 41.7 629.0 40.2 630.0 39.5 631.0 39.6 632.0 40.0 633.0 40.7 634.0 41.6 635.0 42.8 636.0 44.1 637.0 45.9 638.0 49.2 639.0 53.5 640.0 58.2 641.0 62.9 642.0 68.1 643.0 73.9 644.0 79.9 645.0 85.9 646.0 91.6 647.0 97.3 648.0 103.1 649.0 108.7 650.0 114.3 651.0 120.0 652.0 125.6" fill="none" stroke="#e31e24" stroke-width="3.3" stroke-linejoin="round"/><path d="M81.5 373.7L82.0 375.3 82.4 378.8 82.9 380.9 83.3 390.4 83.8 390.2 84.2 386.5 84.7 388.9 85.1 387.6 85.6 385.5 86.0 388.9 86.5 385.7 86.9 385.6 87.4 384.4 87.8 387.3 88.3 386.0 88.7 387.5 89.2 384.9 89.6 386.7 90.1 384.4 90.5 388.5 91.0 387.1 91.4 387.5 91.9 387.7 92.3 384.4 92.8 388.6 93.2 391.5 93.7 382.8 94.1 382.5 94.6 382.9 95.0 388.2 95.5 386.4 95.9 388.5 96.4 387.5 96.8 386.2 97.3 386.2 97.7 385.0 98.2 387.4 98.6 382.6 99.1 384.2 99.5 385.8 100.0 389.4 100.4 383.5 100.9 382.8 101.3 384.1 101.8 387.8 102.2 385.0 102.7 388.8 103.1 381.4 103.6 388.5 104.0 388.4 104.5 382.7 104.9 386.5 105.4 389.1 105.8 386.5 106.3 388.8 106.7 392.1 107.2 387.3 107.6 386.1 108.1 385.1 108.5 388.5 109.0 386.6 109.4 386.7 109.9 386.9 110.3 388.7 110.8 384.7 111.2 383.6 111.7 381.4 112.1 390.0 112.6 387.4 113.0 390.8 113.5 387.3 113.9 385.7 114.4 388.7 114.8 387.5 115.3 384.9 115.7 385.9 116.2 392.3 116.6 389.1 117.1 389.3 117.5 387.8 118.0 386.9 118.4 390.6 118.9 388.3 119.3 386.7 119.8 388.2 120.2 386.3 120.7 388.9 121.1 391.0 121.6 386.3 122.0 391.4 122.5 386.3 122.9 389.8 123.4 385.3 123.8 386.3 124.3 386.5 124.7 384.8 125.2 383.6 125.6 383.0 126.1 381.9 126.5 379.4 127.0 381.6 127.4 382.2 127.9 382.4 128.3 380.7 128.8 383.7 129.2 377.2 129.7 373.7 130.1 377.5 130.6 368.5 131.0 371.3 131.5 364.7 131.9 366.1 132.4 359.1 132.8 365.4 133.3 363.0 133.7 361.9 134.2 369.9 134.6 369.6 135.1 370.0 135.5 370.2 136.0 374.0 136.4 375.5 136.9 379.3 137.3 380.9 137.8 378.7 138.2 380.1 138.7 381.2 139.1 380.1 139.6 382.7 140.0 384.6 140.5 387.0 140.9 389.0 141.4 384.5 141.8 388.0 142.3 386.0 142.7 392.1 143.2 387.2 143.6 388.6 144.1 385.2 144.5 385.4 145.0 387.7 145.4 386.2 145.9 387.9 146.3 383.3 146.8 388.4 147.2 384.6 147.7 390.7 148.1 386.0 148.6 389.2 149.0 383.3 149.5 387.6 149.9 384.5 150.4 385.3 150.8 386.5 151.3 385.6 151.7 386.9 152.2 388.0 152.6 387.7 153.1 385.9 153.5 382.9 154.0 384.2 154.4 385.7 154.9 381.3 155.3 388.2 155.8 386.0 156.2 386.1 156.7 389.1 157.1 388.7 157.6 387.8 158.0 385.2 158.5 388.5 158.9 388.8 159.4 386.1 159.8 390.8 160.3 389.8 160.7 384.2 161.2 389.3 161.6 386.3 162.1 392.1 162.5 391.5 163.0 387.2 163.4 387.8 163.9 390.2 164.3 389.5 164.8 393.7 165.2 391.8 165.7 389.4 166.1 391.4 166.6 385.2 167.0 390.6 167.5 391.7 167.9 389.2 168.4 387.8 168.8 390.7 169.3 393.8 169.7 389.6 170.2 386.4 170.6 392.2 171.1 384.3 171.5 389.8 172.0 387.2 172.4 390.6 172.9 386.4 173.3 391.4 173.8 389.0 174.2 384.3 174.7 383.8 175.1 387.8 175.6 391.8 176.0 389.3 176.5 389.4 176.9 388.9 177.4 391.4 177.8 390.8 178.3 390.8 178.7 388.0 179.2 393.2 179.6 393.7 180.1 387.6 180.5 396.1 181.0 392.5 181.4 389.7 181.9 386.4 182.3 392.4 182.8 392.2 183.2 389.5 183.7 386.7 184.1 393.5 184.6 389.5 185.0 393.5 185.5 397.4 185.9 395.7 186.4 392.9 186.8 389.6 187.3 392.2 187.7 385.3 188.2 390.9 188.6 388.9 189.1 387.7 189.5 387.1 190.0 392.0 190.4 391.1 190.9 391.3 191.3 392.9 191.8 389.0 192.2 388.1 192.7 386.8 193.1 390.1 193.6 392.7 194.0 390.5 194.5 392.2 194.9 387.9 195.4 389.4 195.8 388.6 196.3 387.3 196.7 394.4 197.2 391.9 197.6 388.0 198.1 387.9 198.5 389.4 199.0 386.0 199.4 390.3 199.9 386.2 200.3 388.3 200.8 386.7 201.2 387.9 201.7 385.9 202.1 385.3 202.6 386.7 203.0 387.3 203.5 388.2 203.9 389.0 204.4 392.5 204.8 390.8 205.3 380.3 205.7 390.8 206.2 387.5 206.6 392.6 207.1 390.6 207.5 386.3 208.0 391.5 208.4 391.5 208.9 383.4 209.3 388.0 209.8 388.6 210.2 385.3 210.7 387.3 211.1 392.5 211.6 391.0 212.0 390.6 212.5 396.1 212.9 389.1 213.4 392.8 213.8 390.0 214.3 391.0 214.7 387.8 215.2 386.1 215.6 388.9 216.1 392.5 216.5 394.5 217.0 392.2 217.4 391.9 217.9 388.7 218.3 394.2 218.8 393.7 219.2 389.3 219.7 390.4 220.1 388.1 220.6 393.9 221.0 391.4 221.5 390.3 221.9 391.6 222.4 391.7 222.8 389.8 223.3 387.9 223.7 387.9 224.2 386.8 224.6 391.9 225.1 396.0 225.5 386.8 226.0 391.0 226.4 391.5 226.9 388.1 227.3 390.8 227.8 387.6 228.2 392.8 228.7 388.5 229.1 389.9 229.6 391.1 230.0 388.4 230.5 385.1 230.9 387.9 231.4 390.8 231.8 388.7 232.3 389.4 232.7 386.3 233.2 389.2 233.6 390.6 234.1 389.1 234.5 393.6 235.0 388.8 235.4 386.9 235.9 385.7 236.3 392.3 236.8 389.5 237.2 392.1 237.7 390.8 238.1 393.5 238.6 392.6 239.0 388.7 239.5 390.1 239.9 391.9 240.4 386.4 240.8 392.6 241.3 392.0 241.7 391.4 242.2 388.6 242.6 389.7 243.1 386.4 243.5 389.2 244.0 387.6 244.4 389.2 244.9 387.8 245.3 389.5 245.8 391.5 246.2 385.4 246.7 390.4 247.1 383.3 247.6 382.6 248.0 387.0 248.5 387.0 248.9 387.7 249.4 382.5 249.8 385.9 250.3 386.1 250.7 388.6 251.2 385.2 251.6 386.6 252.1 382.9 252.5 384.7 253.0 384.0 253.4 386.6 253.9 382.6 254.3 382.9 254.8 386.1 255.2 389.0 255.7 385.6 256.1 385.4 256.6 383.8 257.0 393.4 257.5 385.9 257.9 388.7 258.4 385.4 258.8 382.4 259.3 388.5 259.7 382.3 260.2 381.7 260.6 387.6 261.1 386.5 261.5 381.6 262.0 388.7 262.4 385.1 262.9 382.3 263.3 385.5 263.8 384.5 264.2 382.9 264.7 380.2 265.1 385.0 265.6 385.8 266.0 379.2 266.5 386.8 266.9 387.2 267.4 384.9 267.8 386.5 268.3 385.8 268.7 384.7 269.2 386.0 269.6 390.2 270.1 383.9 270.5 388.0 271.0 388.1 271.4 386.2 271.9 387.0 272.3 385.0 272.8 386.4 273.2 388.6 273.7 389.5 274.1 386.8 274.6 396.2 275.0 387.9 275.5 389.6 275.9 388.9 276.4 388.7 276.8 392.8 277.3 388.8 277.7 395.2 278.2 392.9 278.6 388.0 279.1 393.0 279.5 389.3 280.0 397.4 280.4 390.4 280.9 389.3 281.3 387.2 281.8 388.8 282.2 390.6 282.7 389.8 283.1 389.3 283.6 390.6 284.0 391.8 284.5 398.5 284.9 388.2 285.4 390.8 285.8 389.8 286.3 388.4 286.7 388.9 287.2 389.6 287.6 393.3 288.1 391.1 288.5 390.2 289.0 392.7 289.4 391.9 289.9 390.6 290.3 391.9 290.8 389.0 291.2 392.3 291.7 391.9 292.1 389.9 292.6 388.0 293.0 394.4 293.5 391.2 293.9 398.2 294.4 389.6 294.8 393.3 295.3 390.4 295.7 392.1 296.2 393.6 296.6 389.8 297.1 391.5 297.5 392.2 298.0 392.1 298.4 393.3 298.9 394.2 299.3 393.8 299.8 392.4 300.2 390.9 300.7 389.0 301.1 389.8 301.6 390.3 302.0 393.1 302.5 390.6 302.9 388.6 303.4 393.0 303.8 389.7 304.3 389.9 304.7 391.2 305.2 393.0 305.6 386.4 306.1 389.5 306.5 392.6 307.0 391.5 307.4 390.3 307.9 391.1 308.3 395.7 308.8 391.4 309.2 394.1 309.7 394.3 310.1 391.4 310.6 393.5 311.0 391.4 311.5 391.0 311.9 389.8 312.4 394.5 312.8 391.5 313.3 391.0 313.7 389.6 314.2 396.3 314.6 393.6 315.1 391.4 315.5 389.9 316.0 387.7 316.4 391.8 316.9 391.7 317.3 387.6 317.8 393.6 318.2 392.7 318.7 388.6 319.1 389.7 319.6 390.1 320.0 391.6 320.5 391.0 320.9 387.7 321.4 395.1 321.8 392.5 322.3 394.8 322.7 394.9 323.2 391.6 323.6 393.0 324.1 393.9 324.5 394.1 325.0 391.9 325.4 390.8 325.9 392.3 326.3 390.3 326.8 390.8 327.2 387.2 327.7 392.0 328.1 389.2 328.6 390.2 329.0 391.1 329.5 391.8 329.9 395.3 330.4 391.2 330.8 387.3 331.3 390.8 331.7 389.1 332.2 391.3 332.6 388.8 333.1 388.7 333.5 389.1 334.0 388.8 334.4 386.0 334.9 388.7 335.3 390.2 335.8 393.0 336.2 389.5 336.7 389.3 337.1 391.5 337.6 391.3 338.0 393.8 338.5 391.4 338.9 390.0 339.4 393.1 339.8 393.6 340.3 388.9 340.7 390.4 341.2 386.1 341.6 389.2 342.1 388.1 342.5 389.7 343.0 389.1 343.4 389.9 343.9 390.1 344.3 391.6 344.8 391.0 345.2 389.2 345.7 387.6 346.1 393.6 346.6 394.1 347.0 389.9 347.5 392.3 347.9 387.6 348.4 387.6 348.8 390.7 349.3 394.8 349.7 388.9 350.2 389.4 350.6 395.1 351.1 386.8 351.5 392.7 352.0 392.2 352.4 390.5 352.9 396.3 353.3 396.9 353.8 388.0 354.2 389.8 354.7 389.8 355.1 388.6 355.6 387.0 356.0 393.7 356.5 390.3 356.9 385.5 357.4 387.3 357.8 390.1 358.3 389.9 358.7 385.4 359.2 388.4 359.6 389.1 360.1 389.3 360.5 389.2 361.0 384.0 361.4 392.6 361.9 388.8 362.3 392.6 362.8 395.2 363.2 388.2 363.7 385.7 364.1 390.6 364.6 388.2 365.0 387.5 365.5 386.0 365.9 392.3 366.4 387.2 366.8 384.8 367.3 386.8 367.7 385.0 368.2 387.9 368.6 386.5 369.1 384.8 369.5 388.6 370.0 385.7 370.4 388.8 370.9 390.1 371.3 386.3 371.8 385.7 372.2 387.7 372.7 389.4 373.1 387.4 373.6 387.8 374.0 387.5 374.5 388.3 374.9 389.1 375.4 386.0 375.8 386.5 376.3 387.7 376.7 386.0 377.2 387.8 377.6 388.7 378.1 387.3 378.5 385.9 379.0 385.4 379.4 391.3 379.9 389.3 380.3 384.6 380.8 385.4 381.2 391.8 381.7 391.1 382.1 388.0 382.6 390.5 383.0 384.4 383.5 388.1 383.9 389.9 384.4 383.9 384.8 386.6 385.3 390.3 385.7 391.3 386.2 387.3 386.6 389.5 387.1 392.7 387.5 388.1 388.0 386.0 388.4 389.0 388.9 388.2 389.3 392.2 389.8 389.4 390.2 387.0 390.7 388.6 391.1 387.3 391.6 389.3 392.0 389.5 392.5 389.5 392.9 387.7 393.4 388.4 393.8 386.6 394.3 383.2 394.7 385.9 395.2 385.8 395.6 385.8 396.1 386.5 396.5 384.8 397.0 389.3 397.4 389.9 397.9 381.1 398.3 386.3 398.8 384.6 399.2 380.1 399.7 387.0 400.1 384.5 400.6 384.9 401.0 384.1 401.5 388.0 401.9 388.1 402.4 385.6 402.8 386.4 403.3 384.4 403.7 385.6 404.2 382.6 404.6 384.4 405.1 382.6 405.5 395.3 406.0 386.3 406.4 385.1 406.9 387.3 407.3 390.9 407.8 379.7 408.2 384.8 408.7 383.4 409.1 383.7 409.6 381.6 410.0 384.9 410.5 384.0 410.9 383.0 411.4 383.7 411.8 382.7 412.3 378.3 412.7 386.0 413.2 382.4 413.6 380.5 414.1 383.1 414.5 380.4 415.0 376.4 415.4 383.2 415.9 376.7 416.3 379.8 416.8 380.2 417.2 382.8 417.7 382.0 418.1 379.2 418.6 376.6 419.0 377.2 419.5 380.5 419.9 381.9 420.4 378.7 420.8 375.7 421.3 379.6 421.7 376.2 422.2 376.1 422.6 373.6 423.1 378.6 423.5 377.8 424.0 379.6 424.4 380.4 424.9 378.5 425.3 371.7 425.8 373.3 426.2 377.7 426.7 377.2 427.1 382.6 427.6 377.5 428.0 377.4 428.5 380.2 428.9 380.8 429.4 377.9 429.8 379.8 430.3 376.3 430.7 376.9 431.2 382.3 431.6 376.1 432.1 381.8 432.5 381.3 433.0 381.6 433.4 382.0 433.9 381.2 434.3 374.7 434.8 377.4 435.2 378.3 435.7 381.8 436.1 376.8 436.6 377.7 437.0 378.3 437.5 382.0 437.9 376.6 438.4 375.2 438.8 379.6 439.3 372.8 439.7 378.5 440.2 376.4 440.6 373.6 441.1 376.2 441.5 374.7 442.0 377.4 442.4 377.9 442.9 380.5 443.3 376.9 443.8 377.2 444.2 375.5 444.7 376.8 445.1 379.2 445.6 371.9 446.0 377.8 446.5 374.7 446.9 375.8 447.4 376.0 447.8 376.8 448.3 374.8 448.7 372.8 449.2 373.9 449.6 372.6 450.1 371.6 450.5 372.1 451.0 373.3 451.4 371.1 451.9 370.9 452.3 367.2 452.8 369.8 453.2 365.5 453.7 371.7 454.1 367.7 454.6 373.2 455.0 377.4 455.5 369.3 455.9 373.6 456.4 370.7 456.8 371.1 457.3 368.6 457.7 372.0 458.2 374.0 458.6 371.4 459.1 366.7 459.5 367.6 460.0 369.3 460.4 372.8 460.9 369.8 461.3 369.5 461.8 371.2 462.2 367.3 462.7 367.2 463.1 366.5 463.6 362.2 464.0 367.1 464.5 366.6 464.9 367.5 465.4 361.8 465.8 362.3 466.3 366.1 466.7 364.2 467.2 366.4 467.6 360.6 468.1 362.8 468.5 360.4 469.0 362.5 469.4 360.3 469.9 362.6 470.3 363.6 470.8 362.4 471.2 356.0 471.7 362.4 472.1 360.9 472.6 356.9 473.0 356.8 473.5 358.5 473.9 359.3 474.4 356.2 474.8 352.7 475.3 356.8 475.7 355.9 476.2 360.8 476.6 351.0 477.1 359.8 477.5 357.3 478.0 353.2 478.4 356.1 478.9 351.8 479.3 353.5 479.8 348.9 480.2 350.6 480.7 347.5 481.1 345.8 481.6 348.7 482.0 347.4 482.5 350.2 482.9 351.5 483.4 347.6 483.8 347.8 484.3 347.7 484.7 342.6 485.2 347.0 485.6 345.9 486.1 345.3 486.5 342.2 487.0 339.5 487.4 343.3 487.9 344.2 488.3 346.2 488.8 345.2 489.2 345.4 489.7 342.1 490.1 343.6 490.6 339.6 491.0 341.1 491.5 341.4 491.9 345.3 492.4 338.7 492.8 334.4 493.3 340.7 493.7 334.7 494.2 336.1 494.6 335.1 495.1 333.0 495.5 338.2 496.0 335.8 496.4 332.1 496.9 333.2 497.3 331.2 497.8 333.1 498.2 329.7 498.7 327.8 499.1 327.2 499.6 326.8 500.0 327.6 500.5 332.5 500.9 324.6 501.4 325.0 501.8 334.7 502.3 324.0 502.7 313.1 503.2 318.5 503.6 317.9 504.1 318.8 504.5 321.1 505.0 317.9 505.4 308.8 505.9 314.6 506.3 313.0 506.8 312.6 507.2 314.0 507.7 306.3 508.1 310.9 508.6 302.4 509.0 305.8 509.5 305.6 509.9 309.6 510.4 300.6 510.8 297.0 511.3 302.4 511.7 297.8 512.2 302.8 512.6 295.7 513.1 294.3 513.5 299.0 514.0 294.7 514.4 296.1 514.9 288.3 515.3 295.5 515.8 288.2 516.2 290.8 516.7 284.6 517.1 281.9 517.6 284.2 518.0 284.2 518.5 286.8 518.9 282.2 519.4 281.9 519.8 280.4 520.3 285.9 520.7 273.6 521.2 277.9 521.6 272.5 522.1 272.1 522.5 268.3 523.0 265.6 523.4 263.1 523.9 261.3 524.3 262.8 524.8 258.6 525.2 262.4 525.7 261.5 526.1 255.3 526.6 258.3 527.0 252.8 527.5 253.3 527.9 252.3 528.4 256.5 528.8 250.1 529.3 246.5 529.7 245.5 530.2 250.6 530.6 241.4 531.1 243.9 531.5 243.3 532.0 236.4 532.4 241.2 532.9 244.7 533.3 241.6 533.8 237.5 534.2 241.3 534.7 240.0 535.1 243.7 535.6 235.0 536.0 235.5 536.5 236.2 536.9 235.1 537.4 235.3 537.8 234.3 538.3 232.2 538.7 229.2 539.2 231.9 539.6 229.1 540.1 229.9 540.5 231.2 541.0 234.2 541.4 235.2 541.9 229.7 542.3 233.7 542.8 235.3 543.2 233.0 543.7 228.5 544.1 227.3 544.6 236.2 545.0 236.9 545.5 235.3 545.9 231.7 546.4 239.3 546.8 238.9 547.3 235.5 547.7 235.3 548.2 230.6 548.6 238.9 549.1 232.3 549.5 239.4 550.0 240.0 550.4 238.6 550.9 243.4 551.3 238.9 551.8 241.7 552.2 243.0 552.7 242.1 553.1 241.0 553.6 246.6 554.0 245.2 554.5 244.3 554.9 245.2 555.4 247.0 555.8 254.1 556.3 248.8 556.7 248.7 557.2 247.3 557.6 247.8 558.1 246.8 558.5 253.9 559.0 254.4 559.4 252.6 559.9 252.6 560.3 257.2 560.8 258.1 561.2 257.4 561.7 263.3 562.1 264.2 562.6 265.1 563.0 268.8 563.5 266.1 563.9 272.9 564.4 267.4 564.8 272.8 565.3 274.2 565.7 272.7 566.2 275.4 566.6 271.8 567.1 272.1 567.5 275.6 568.0 276.1 568.4 280.6 568.9 279.9 569.3 278.3 569.8 282.4 570.2 282.9 570.7 283.4 571.1 282.9 571.6 283.5 572.0 291.1 572.5 281.5 572.9 286.6 573.4 290.5 573.8 289.6 574.3 293.0 574.7 291.3 575.2 286.9 575.6 290.0 576.1 287.6 576.5 294.5 577.0 296.2 577.4 291.5 577.9 294.5 578.3 292.2 578.8 289.8 579.2 292.8 579.7 290.1 580.1 293.2 580.6 295.6 581.0 297.3 581.5 299.1 581.9 289.6 582.4 296.7 582.8 297.4 583.3 297.9 583.7 288.9 584.2 294.6 584.6 298.9 585.1 293.8 585.5 297.6 586.0 299.2 586.4 291.9 586.9 296.5 587.3 297.7 587.8 297.1 588.2 293.0 588.7 298.1 589.1 295.7 589.6 299.5 590.0 298.6 590.5 296.1 590.9 298.1 591.4 295.9 591.8 296.0 592.3 293.6 592.7 297.3 593.2 300.0 593.6 298.1 594.1 297.6 594.5 295.7 595.0 295.8 595.4 298.9 595.9 292.6 596.3 301.9 596.8 295.2 597.2 301.5 597.7 298.5 598.1 293.9 598.6 296.6 599.0 294.9 599.5 295.0 599.9 295.3 600.4 291.1 600.8 290.4 601.3 290.3 601.7 287.1 602.2 289.5 602.6 290.4 603.1 290.0 603.5 289.4 604.0 287.6 604.4 290.6 604.9 282.7 605.3 287.1 605.8 287.1 606.2 290.3 606.7 289.5 607.1 289.6 607.6 287.1 608.0 289.1 608.5 283.2 608.9 285.5 609.4 278.7 609.8 288.2 610.3 286.7 610.7 279.4 611.2 277.4 611.6 272.4 612.1 272.5 612.5 275.5 613.0 273.2 613.4 268.0 613.9 269.2 614.3 267.3 614.8 269.0 615.2 268.3 615.7 264.4 616.1 263.9 616.6 262.1 617.0 254.8 617.5 259.7 617.9 257.5 618.4 258.2 618.8 249.3 619.3 255.2 619.7 249.7 620.2 250.9 620.6 252.2 621.1 243.2 621.5 242.4 622.0 250.1 622.4 240.8 622.9 240.4 623.3 243.0 623.8 240.0 624.2 242.5 624.7 240.0 625.1 237.9 625.6 239.7 626.0 242.0 626.5 234.0 626.9 237.4 627.4 235.1 627.8 230.9 628.3 230.8 628.7 225.8 629.2 225.9 629.6 228.0 630.1 226.7 630.5 230.6 631.0 222.9 631.4 226.0 631.9 225.3 632.3 227.0 632.8 231.3 633.2 224.8 633.7 231.3 634.1 227.6 634.6 229.0 635.0 233.5 635.5 230.3 635.9 233.8 636.4 232.8 636.8 232.9 637.3 233.6 637.7 231.1 638.2 235.7 638.6 240.2 639.1 242.4 639.5 239.6 640.0 249.0 640.4 249.9 640.9 246.6 641.3 249.6 641.8 256.4 642.2 252.6 642.7 258.2 643.1 263.0 643.6 265.7 644.0 268.9 644.5 273.2 644.9 280.7 645.4 276.7 645.8 286.7 646.3 280.2 646.7 285.8 647.2 290.3 647.6 291.3 648.1 299.4 648.5 299.2 649.0 304.0 649.4 297.8 649.9 310.7 650.3 313.3 650.8 311.0 651.2 319.1 651.7 319.1 652.1 323.4 652.6 328.2 653.0 326.3 653.5 325.8 653.9 330.6 654.4 329.4 654.8 332.6 655.3 334.7 655.7 336.8 656.2 343.4 656.6 344.4 657.1 341.8 657.5 348.7 658.0 343.3 658.4 347.5 658.9 350.3 659.3 355.1 659.8 355.3 660.2 355.9 660.7 359.2 661.1 359.0 661.6 361.7 662.0 357.5 662.5 356.3 662.9 359.7 663.4 364.4 663.8 364.0 664.3 366.4 664.7 366.8 665.2 369.6 665.6 368.7 666.1 365.7 666.5 370.8 667.0 366.4 667.4 371.7 667.9 366.5 668.3 371.7 668.8 367.2 669.2 374.7 669.7 368.5 670.1 372.8 670.6 372.2 671.0 370.9 671.5 376.4 671.9 372.7 672.4 377.7 672.8 372.1 673.3 370.9 673.7 370.5 674.2 377.0 674.6 378.2 675.1 376.9 675.5 376.3 676.0 374.8 676.4 382.9 676.9 379.4 677.3 373.6 677.8 377.6 678.2 372.6 678.7 383.0 679.1 384.5 679.6 383.8 680.0 380.7 680.5 379.9 680.9 378.6 681.4 383.6 681.8 381.1 682.3 382.4 682.7 382.2 683.2 383.3 683.6 386.5 684.1 388.6 684.5 385.2 685.0 385.1 685.4 382.6 685.9 382.5 686.3 383.0 686.8 387.7 687.2 386.3 687.7 388.1 688.1 386.9 688.6 385.1 689.0 383.3 689.5 385.5 689.9 388.9 690.4 391.5 690.8 387.7 691.3 386.5 691.7 392.3 692.2 387.0 692.6 389.5 693.1 388.1 693.5 389.6 694.0 388.1 694.4 390.4 694.9 392.8 695.3 386.7 695.8 384.6 696.2 393.2 696.7 390.5 697.1 392.3 697.6 389.6 698.0 394.0 698.5 394.7 698.9 387.7 699.4 392.0 699.8 389.0 700.3 386.7 700.7 389.8 701.2 391.9 701.6 387.4 702.1 387.7 702.5 393.7 703.0 391.0 703.4 391.9 703.9 388.4 704.3 389.6 704.8 391.5 705.2 391.7 705.7 391.6 706.1 395.1 706.6 391.7 707.0 387.7 707.5 389.3 707.9 391.2 708.4 394.3 708.8 389.7 709.3 390.4 709.7 391.3 710.2 385.2 710.6 389.5 711.1 390.9 711.5 393.9 712.0 392.7 712.4 391.0 712.9 392.6 713.3 388.7 713.8 394.1 714.2 393.4 714.7 392.3 715.1 387.7 715.6 396.2 716.0 384.4 716.5 388.8 716.9 388.9 717.4 392.5 717.8 387.2 718.3 391.2 718.7 390.2 719.2 389.8 719.6 392.5 720.1 393.8 720.5 391.4 721.0 389.8 721.4 383.1 721.9 394.1 722.3 390.0 722.8 386.5 723.2 391.4 723.7 394.6 724.1 391.0 724.6 388.8 725.0 397.1 725.5 393.5 725.9 393.2 726.4 395.1 726.8 388.0 727.3 393.2 727.7 393.4 728.2 399.4 728.6 393.1 729.1 393.5 729.5 391.8 730.0 393.4 730.4 395.0 730.9 396.3 731.3 395.4 731.8 400.7 732.2 397.2 732.7 397.5 733.1 399.3 733.6 397.5 734.0 394.7 734.5 392.3 734.9 396.7 735.4 393.9 735.8 398.9 736.3 394.0 736.7 390.6 737.2 395.9 737.6 398.4 738.1 395.5 738.5 396.5 739.0 397.1 739.4 400.3 739.9 397.0 740.3 396.2 740.8 395.0 741.2 392.6 741.7 399.8 742.1 399.2 742.6 394.3 743.0 398.0 743.5 397.4 743.9 395.8 744.4 396.1 744.8 402.9 745.3 399.2 745.7 395.8 746.2 396.9 746.6 397.1 747.1 396.6 747.5 397.6 748.0 395.4 748.4 395.0 748.9 397.2 749.3 395.6 749.8 400.3 750.2 393.3 750.7 395.8 751.1 397.8 751.6 395.4 752.0 395.2 752.5 394.6 752.9 396.6 753.4 393.2 753.8 395.8 754.3 395.9 754.7 392.9 755.2 397.2 755.6 395.8 756.1 397.8 756.5 399.3 757.0 398.3 757.4 394.9 757.9 398.5 758.3 394.0 758.8 395.9 759.2 401.5 759.7 397.5 760.1 401.0 760.6 396.7 761.0 397.0 761.5 394.3 761.9 399.0 762.4 396.2 762.8 398.0 763.3 397.6 763.7 397.8 764.2 397.4 764.6 396.6 765.1 396.8 765.5 395.3 766.0 392.1 766.4 398.4 766.9 402.3 767.3 400.1 767.8 403.2 768.2 399.0 768.7 395.7 769.1 395.7 769.6 399.8 770.0 398.8 770.5 397.6 770.9 399.6 771.4 395.7 771.8 398.9 772.3 396.9 772.7 397.8 773.2 400.1 773.6 397.0 774.1 400.4 774.5 400.3 775.0 395.3 775.4 402.5 775.9 394.2 776.3 396.8 776.8 398.8 777.2 391.7 777.7 399.5 778.1 399.7 778.6 396.8 779.0 397.8 779.5 397.7 779.9 396.7 780.4 399.8 780.8 396.5 781.3 397.3 781.7 398.4 782.2 399.6 782.6 400.3 783.1 394.3 783.5 392.5 784.0 397.6 784.4 397.9 784.9 395.5 785.3 398.9 785.8 399.7 786.2 399.2 786.7 402.3 787.1 396.1 787.6 398.6 788.0 403.1 788.5 400.3 788.9 396.1 789.4 399.2 789.8 401.5 790.3 403.6 790.7 400.2 791.2 401.4 791.6 396.0 792.1 397.9 792.5 401.1 793.0 396.0 793.4 397.9 793.9 393.6 794.3 401.3 794.8 397.4 795.2 398.9 795.7 394.0 796.1 394.4 796.6 401.7 797.0 391.9 797.5 396.3 797.9 398.9 798.4 399.2 798.8 393.6 799.3 396.1 799.7 398.8 800.2 399.0 800.6 400.0 801.1 398.5 801.5 399.0 802.0 400.3 802.4 398.3 802.9 398.0 803.3 398.7 803.8 400.0 804.2 399.6 804.7 398.8 805.1 399.3 805.6 399.7 806.0 400.5 806.5 400.6 806.9 396.8 807.4 402.1 807.8 396.1 808.3 401.1 808.7 398.2 809.2 401.2 809.6 402.2 810.1 395.3 810.5 400.9 811.0 400.0 811.4 398.1 811.9 399.9 812.3 397.7 812.8 398.9 813.2 396.0 813.7 400.1 814.1 399.5 814.6 399.8 815.0 396.5 815.5 402.2 815.9 402.4 816.4 397.6 816.8 396.8 817.3 396.8 817.7 399.3 818.2 400.1 818.6 395.9 819.1 392.9 819.5 398.7 820.0 397.5 820.4 398.0 820.9 398.8 821.3 395.1 821.8 393.7 822.2 396.9 822.7 398.5 823.1 400.5 823.6 397.6 824.0 395.7 824.5 400.5 824.9 399.3 825.4 397.2 825.8 393.5 826.3 395.7 826.7 398.1 827.2 399.0 827.6 396.5 828.1 398.7 828.5 396.2 829.0 396.7 829.4 398.9 829.9 397.0 830.3 403.7 830.8 399.5 831.2 400.1 831.7 396.0 832.1 396.8 832.6 394.2 833.0 394.2 833.5 397.9 833.9 395.9 834.4 392.8 834.8 398.3 835.3 395.1 835.7 396.4 836.2 398.1 836.6 398.1 837.1 397.2 837.5 392.9 838.0 399.0 838.4 396.6 838.9 395.0 839.3 393.4 839.8 403.8 840.2 399.5 840.7 399.8 841.1 401.2 841.6 399.9 842.0 396.9 842.5 402.1 842.9 403.0 843.4 402.1 843.8 404.6 844.3 405.5 844.7 399.3 845.2 400.2 845.6 403.3 846.1 401.6 846.5 401.6 847.0 403.2 847.4 402.6 847.9 399.6 848.3 400.7 848.8 398.5 849.2 399.3 849.7 396.9 850.1 394.5 850.6 397.5 851.0 396.9 851.5 400.0 851.9 401.3 852.4 397.4 852.8 398.2 853.3 395.5 853.7 394.7 854.2 396.1 854.6 396.0 855.1 397.3 855.5 396.9 856.0 400.5 856.4 396.3 856.9 393.1 857.3 397.3 857.8 395.6 858.2 397.7 858.7 399.9 859.1 395.9 859.6 397.2 860.0 398.6 860.5 395.3 860.9 398.0 861.4 398.7 861.8 399.3 862.3 400.0 862.7 398.7 863.2 398.3 863.6 394.2 864.1 391.3 864.5 395.3 865.0 400.8 865.4 397.9 865.9 392.5 866.3 396.8 866.8 398.8 867.2 393.8 867.7 399.4 868.1 395.6 868.6 400.7 869.0 398.4 869.5 405.4 869.9 395.2 870.4 398.9 870.8 394.7 871.3 400.7 871.7 398.2 872.2 399.9 872.6 397.8 873.1 394.7 873.5 395.8 874.0 394.3 874.4 394.7 874.9 397.4 875.3 399.5 875.8 399.0 876.2 398.2 876.7 395.8 877.1 398.3 877.6 395.2 878.0 397.7 878.5 399.2 878.9 396.9 879.4 396.3 879.8 396.3 880.3 398.7 880.7 396.5 881.2 393.9 881.6 396.2 882.1 394.6 882.5 400.5 883.0 397.1 883.4 393.7 883.9 397.8 884.3 398.9 884.8 398.2 885.2 396.6 885.7 397.8 886.1 398.2 886.6 399.9 887.0 398.4 887.5 402.7 887.9 397.0 888.4 400.9 888.8 397.3 889.3 393.2 889.7 394.3 890.2 392.6 890.6 392.7 891.1 399.4 891.5 395.0 892.0 397.9 892.4 394.5 892.9 396.5 893.3 394.2 893.8 398.7 894.2 396.3 894.7 396.0 895.1 396.8 895.6 402.3 896.0 398.4 896.5 399.4 896.9 394.7 897.4 396.1 897.8 398.3 898.3 393.3 898.7 400.6 899.2 398.0 899.6 397.3 900.1 396.7 900.5 396.5 901.0 395.7 901.4 399.9 901.9 398.1 902.3 399.2 902.8 395.5 903.2 394.0 903.7 399.0 904.1 392.9 904.6 394.1 905.0 397.0 905.5 397.7 905.9 392.0 906.4 394.3 906.8 394.9 907.3 394.4 907.7 392.6 908.2 396.1 908.6 393.3 909.1 393.9 909.5 389.2 910.0 394.1 910.4 389.9 910.9 396.0 911.3 395.5 911.8 393.1 912.2 394.7 912.7 394.6 913.1 394.0 913.6 395.2 914.0 394.1 914.5 393.3 914.9 392.6 915.4 398.3 915.8 394.9 916.3 394.4 916.7 396.0 917.2 393.5 917.6 393.4 918.1 395.8 918.5 396.6 919.0 395.7 919.4 390.7 919.9 394.2 920.3 394.0 920.8 395.2 921.2 392.1 921.7 391.8 922.1 394.1 922.6 392.5 923.0 392.2 923.5 394.7 923.9 397.1 924.4 395.5 924.8 397.9 925.3 393.2 925.7 397.2 926.2 398.0 926.6 393.8 927.1 394.9 927.5 393.9 928.0 395.5 928.4 394.3 928.9 398.9 929.3 395.1 929.8 392.6 930.2 395.3 930.7 396.5 931.1 394.7 931.6 397.2 932.0 392.9 932.5 392.8 932.9 398.3 933.4 394.3 933.8 395.3 934.3 395.0 934.7 394.9 935.2 393.5 935.6 392.8 936.1 395.5 936.5 391.7 937.0 393.0 937.4 394.1 937.9 391.4 938.3 388.7 938.8 393.1 939.2 394.4 939.7 392.4 940.1 387.9 940.6 393.1 941.0 396.1 941.5 388.0 941.9 385.3 942.4 391.0 942.8 391.8 943.3 393.4 943.7 393.5 944.2 391.9 944.6 393.0 945.1 392.5 945.5 392.0 946.0 391.6 946.4 391.3 946.9 393.2 947.3 392.5 947.8 390.5 948.2 393.8 948.7 389.6 949.1 390.6 949.6 391.3 950.0 386.5 950.5 389.8 950.9 392.4 951.4 392.1 951.8 387.4 952.3 388.0 952.7 387.3 953.2 389.1 953.6 389.4 954.1 385.8 954.5 390.1 955.0 389.6 955.4 389.3 955.9 388.0 956.3 389.1 956.8 385.6 957.2 390.3 957.7 390.3 958.1 389.7 958.6 387.3 959.0 392.9 959.5 392.5 959.9 385.7 960.4 390.8 960.8 390.1 961.3 383.8 961.7 390.8 962.2 390.9 962.6 391.0 963.1 389.6 963.5 387.7 964.0 388.0 964.4 390.3 964.9 391.8 965.3 388.0 965.8 388.4 966.2 390.6 966.7 384.1 967.1 390.0 967.6 388.4 968.0 383.9 968.5 390.6 968.9 386.8 969.4 387.3 969.8 391.9 970.3 385.9 970.7 385.9 971.2 388.6 971.6 384.6 972.1 390.2 972.5 389.0 973.0 390.7 973.4 384.3 973.9 388.9 974.3 389.5 974.8 384.4 975.2 390.5 975.7 385.4 976.1 388.9 976.6 385.5 977.0 390.3 977.5 392.3 977.9 389.2 978.4 388.3 978.8 391.0 979.3 386.9 979.7 387.8 980.2 389.3 980.6 388.1 981.1 390.5 981.5 389.4 982.0 390.8 982.4 386.1 982.9 388.5 983.3 383.9 983.8 387.7 984.2 389.5 984.7 390.8 985.1 382.5 985.6 384.9 986.0 387.0 986.5 383.4 986.9 386.7 987.4 386.8 987.8 384.5 988.3 384.5 988.7 383.7 989.2 386.6 989.6 388.9 990.1 386.7 990.5 392.4 991.0 382.6 991.4 384.6 991.9 387.4 992.3 383.1 992.8 378.7 993.2 387.3 993.7 385.7 994.1 385.4 994.6 387.2 995.0 385.8 995.5 386.4 995.9 385.9 996.4 383.0 996.8 381.9 997.3 383.5 997.7 384.7 998.2 383.7 998.6 386.3 999.1 384.6 999.5 386.1 1000.0 384.0 1000.4 381.9 1000.9 385.3 1001.3 384.3 1001.8 380.9 1002.2 381.6 1002.7 388.7 1003.1 374.0 1003.6 384.2 1004.0 381.4 1004.5 380.8 1004.9 380.1 1005.4 379.4 1005.8 386.0 1006.3 379.4 1006.7 379.7 1007.2 382.3 1007.6 381.3 1008.1 380.1 1008.5 379.9 1009.0 377.5 1009.4 384.6 1009.9 378.3 1010.3 375.1 1010.8 383.2 1011.2 382.6 1011.7 381.6 1012.1 379.5 1012.6 383.5 1013.0 378.1 1013.5 375.4 1013.9 380.8 1014.4 388.6 1014.8 381.6 1015.3 384.9 1015.7 381.9 1016.2 379.3 1016.6 379.3 1017.1 381.8 1017.5 379.5 1018.0 379.4 1018.4 375.5 1018.9 379.0 1019.3 376.6 1019.8 380.2 1020.2 379.9 1020.7 381.2 1021.1 383.6 1021.6 378.8 1022.0 382.4 1022.5 376.2 1022.9 379.1 1023.4 380.8 1023.8 383.0 1024.3 375.7 1024.7 377.6 1025.2 378.4 1025.6 377.8 1026.1 375.7 1026.5 374.0 1027.0 375.0 1027.4 377.6 1027.9 374.6 1028.3 381.9 1028.8 380.6 1029.2 373.1 1029.7 376.5 1030.1 380.7 1030.6 381.0 1031.0 380.2 1031.5 374.2 1031.9 377.2 1032.4 380.6 1032.8 377.8 1033.3 376.5 1033.7 378.8 1034.2 380.0 1034.6 377.9 1035.1 378.2 1035.5 380.2 1036.0 376.2 1036.4 375.4 1036.9 379.4 1037.3 374.7 1037.8 378.7 1038.2 375.8 1038.7 379.5 1039.1 374.7 1039.6 380.3 1040.0 378.2 1040.5 376.8 1040.9 375.5 1041.4 377.1 1041.8 375.2 1042.3 374.4 1042.7 379.7 1043.2 378.3 1043.6 379.7 1044.1 373.3 1044.5 371.6 1045.0 372.3 1045.4 377.4 1045.9 377.5 1046.3 371.0 1046.8 377.6 1047.2 375.0 1047.7 371.8 1048.1 374.3 1048.6 375.6 1049.0 373.5 1049.5 376.3 1049.9 371.5 1050.4 369.9 1050.8 372.2 1051.3 369.0 1051.7 374.1 1052.2 370.5 1052.6 375.5 1053.1 368.5 1053.5 375.6 1054.0 370.0 1054.4 370.0 1054.9 372.9 1055.3 374.3 1055.8 372.1 1056.2 371.4 1056.7 377.0 1057.1 373.5 1057.6 369.3 1058.0 371.5 1058.5 376.1 1058.9 372.7 1059.4 373.8 1059.8 376.5 1060.3 370.0 1060.7 372.2 1061.2 369.5 1061.6 370.9 1062.1 372.0 1062.5 367.4 1063.0 370.8 1063.4 370.7 1063.9 372.7 1064.3 368.6 1064.8 366.8 1065.2 370.7 1065.7 366.9 1066.1 369.9 1066.6 370.6 1067.0 367.0 1067.5 368.7 1067.9 366.4 1068.4 362.0 1068.8 365.3 1069.3 363.8 1069.7 369.0 1070.2 366.5" fill="none" stroke="#800080" stroke-width="2.9" stroke-linejoin="round"/><path d="M118.0 386.8L119.0 386.6 120.0 386.4 121.0 386.1 122.0 385.8 123.0 385.3 124.0 384.8 125.0 384.0 126.0 383.0 127.0 381.5 128.0 379.6 129.0 376.8 130.0 373.2 131.0 368.7 132.0 364.4 133.0 362.6 134.0 364.5 135.0 368.8 136.0 373.3 137.0 377.0 138.0 379.8 139.0 381.9 140.0 383.3 141.0 384.4 142.0 385.2 143.0 385.9 144.0 386.3 145.0 386.7 146.0 387.1 147.0 387.3" fill="none" stroke="#e31e24" stroke-width="3.3" stroke-linejoin="round"/><path d="M243.0 389.9L244.0 389.8 245.0 389.6 246.0 389.3 247.0 388.9 248.0 388.5 249.0 388.1 250.0 387.5 251.0 386.9 252.0 386.3 253.0 385.6 254.0 384.9 255.0 384.2 256.0 383.7 257.0 383.2 258.0 382.8 259.0 382.6 260.0 382.5 261.0 382.6 262.0 382.8 263.0 383.2 264.0 383.7 265.0 384.3 266.0 385.0 267.0 385.7 268.0 386.4 269.0 387.1 270.0 387.7 271.0 388.3 272.0 388.8 273.0 389.2 274.0 389.5 275.0 389.8" fill="none" stroke="#e31e24" stroke-width="3.3" stroke-linejoin="round"/><path d="M405.0 385.7L406.0 385.4 407.0 385.1 408.0 384.7 409.0 384.2 410.0 383.6 411.0 382.9 412.0 382.1 413.0 381.1 414.0 380.2 415.0 379.1 416.0 378.1 417.0 377.2 418.0 376.4 419.0 375.7 420.0 375.3 421.0 375.2 422.0 375.2 423.0 375.5 424.0 376.0 425.0 376.6 426.0 377.3 427.0 378.0 428.0 378.7 429.0 379.3 430.0 379.9 431.0 380.2 432.0 380.5 433.0 380.6 434.0 380.5 435.0 380.3 436.0 380.1 437.0 379.7" fill="none" stroke="#e31e24" stroke-width="3.3" stroke-linejoin="round"/><path d="M500.0 324.5L501.0 322.2 502.0 320.1 503.0 318.0 504.0 315.9 505.0 313.8 506.0 311.7 507.0 309.6 508.0 307.4 509.0 305.1 510.0 302.8 511.0 300.4 512.0 298.0 513.0 295.4 514.0 292.9 515.0 290.2 516.0 287.6 517.0 284.9 518.0 282.2 519.0 279.4 520.0 276.5 521.0 273.6 522.0 270.7 523.0 267.8 524.0 265.0 525.0 262.2 526.0 259.4 527.0 256.6 528.0 253.8 529.0 251.0 530.0 248.4 531.0 246.0 532.0 243.9 533.0 242.1 534.0 240.3 535.0 238.5 536.0 236.8 537.0 235.3 538.0 233.9 539.0 232.7 540.0 231.9 541.0 231.4 542.0 231.3 543.0 231.5 544.0 231.8 545.0 232.2 546.0 232.7 547.0 233.4 548.0 234.1 549.0 234.8 550.0 235.7 551.0 236.6 552.0 237.8 553.0 239.4 554.0 241.3 555.0 243.5 556.0 245.7 557.0 248.1 558.0 250.5 559.0 253.1 560.0 256.1 561.0 259.3 562.0 262.6 563.0 265.7 564.0 268.4 565.0 270.9 566.0 273.2 567.0 275.4 568.0 277.5 569.0 279.5 570.0 281.3" fill="none" stroke="#e31e24" stroke-width="3.3" stroke-linejoin="round"/><path d="M612.0 276.4L613.0 272.9 614.0 269.4 615.0 266.1 616.0 263.0 617.0 259.8 618.0 256.6 619.0 253.4 620.0 250.3 621.0 247.4 622.0 244.6 623.0 242.0 624.0 239.3 625.0 236.4 626.0 233.6 627.0 231.0 628.0 228.8 629.0 227.3 630.0 226.5 631.0 226.6 632.0 227.0 633.0 227.7 634.0 228.7 635.0 230.0 636.0 231.4 637.0 233.4 638.0 236.9 639.0 241.5 640.0 246.7 641.0 251.8 642.0 257.4 643.0 263.6 644.0 270.1 645.0 276.5 646.0 282.7 647.0 288.9 648.0 295.1 649.0 301.2 650.0 307.3 651.0 313.4 652.0 319.5 653.0 325.3 654.0 330.6" fill="none" stroke="#e31e24" stroke-width="3.3" stroke-linejoin="round"/><path d="M81.5 612.7L82.0 604.1 82.4 613.1 82.9 612.9 83.3 615.2 83.8 616.6 84.2 612.5 84.7 616.6 85.1 615.2 85.6 625.7 86.0 617.8 86.5 616.5 86.9 616.8 87.4 616.0 87.8 619.8 88.3 616.9 88.7 619.1 89.2 617.6 89.6 620.5 90.1 617.9 90.5 618.5 91.0 622.0 91.4 619.7 91.9 617.2 92.3 617.8 92.8 619.3 93.2 622.3 93.7 617.0 94.1 616.8 94.6 619.4 95.0 614.8 95.5 615.9 95.9 618.3 96.4 617.3 96.8 615.9 97.3 616.9 97.7 608.5 98.2 617.2 98.6 612.4 99.1 610.5 99.5 614.9 100.0 615.8 100.4 613.1 100.9 611.7 101.3 614.3 101.8 614.3 102.2 617.8 102.7 616.5 103.1 615.5 103.6 617.8 104.0 615.0 104.5 613.6 104.9 617.2 105.4 617.4 105.8 615.6 106.3 614.3 106.7 616.7 107.2 610.4 107.6 617.7 108.1 617.1 108.5 612.1 109.0 616.0 109.4 613.5 109.9 617.4 110.3 607.8 110.8 613.4 111.2 617.0 111.7 618.0 112.1 610.3 112.6 614.0 113.0 615.9 113.5 613.6 113.9 618.6 114.4 612.0 114.8 615.5 115.3 612.1 115.7 617.7 116.2 614.2 116.6 613.3 117.1 609.1 117.5 617.9 118.0 615.8 118.4 615.7 118.9 616.6 119.3 614.8 119.8 612.6 120.2 612.3 120.7 612.3 121.1 617.4 121.6 610.9 122.0 612.9 122.5 613.6 122.9 614.8 123.4 615.5 123.8 611.2 124.3 609.9 124.7 613.7 125.2 616.2 125.6 614.8 126.1 613.1 126.5 611.4 127.0 612.2 127.4 615.5 127.9 611.9 128.3 607.3 128.8 608.5 129.2 606.8 129.7 607.1 130.1 605.0 130.6 609.0 131.0 604.9 131.5 603.3 131.9 593.4 132.4 596.0 132.8 594.4 133.3 596.6 133.7 590.1 134.2 599.1 134.6 600.2 135.1 596.2 135.5 598.8 136.0 601.0 136.4 607.4 136.9 607.7 137.3 612.3 137.8 608.3 138.2 608.5 138.7 610.9 139.1 615.4 139.6 613.7 140.0 615.7 140.5 610.5 140.9 613.1 141.4 612.1 141.8 617.9 142.3 616.3 142.7 614.5 143.2 614.5 143.6 616.9 144.1 614.5 144.5 614.1 145.0 617.5 145.4 622.2 145.9 616.0 146.3 615.3 146.8 613.9 147.2 613.4 147.7 617.7 148.1 618.3 148.6 616.3 149.0 617.0 149.5 616.4 149.9 616.5 150.4 612.6 150.8 615.1 151.3 616.4 151.7 614.4 152.2 615.2 152.6 614.4 153.1 615.6 153.5 618.4 154.0 615.5 154.4 616.1 154.9 618.3 155.3 617.9 155.8 620.4 156.2 611.6 156.7 618.4 157.1 615.4 157.6 616.8 158.0 618.5 158.5 619.1 158.9 619.1 159.4 617.2 159.8 620.6 160.3 616.3 160.7 616.6 161.2 618.8 161.6 615.7 162.1 621.9 162.5 619.2 163.0 621.8 163.4 616.6 163.9 615.7 164.3 616.8 164.8 618.0 165.2 614.9 165.7 617.0 166.1 616.0 166.6 619.7 167.0 614.4 167.5 613.8 167.9 614.3 168.4 613.6 168.8 614.1 169.3 613.0 169.7 616.1 170.2 618.1 170.6 616.1 171.1 617.2 171.5 619.5 172.0 616.4 172.4 616.2 172.9 615.1 173.3 612.0 173.8 617.4 174.2 611.6 174.7 617.1 175.1 615.5 175.6 618.0 176.0 615.3 176.5 613.6 176.9 616.4 177.4 614.4 177.8 615.4 178.3 616.2 178.7 616.0 179.2 616.1 179.6 614.9 180.1 616.6 180.5 612.3 181.0 617.0 181.4 614.8 181.9 620.2 182.3 620.5 182.8 613.1 183.2 617.9 183.7 617.2 184.1 614.9 184.6 618.5 185.0 616.1 185.5 613.0 185.9 616.4 186.4 616.6 186.8 617.2 187.3 614.1 187.7 618.4 188.2 618.7 188.6 614.4 189.1 615.6 189.5 617.0 190.0 615.9 190.4 621.3 190.9 617.8 191.3 615.0 191.8 615.5 192.2 617.2 192.7 622.6 193.1 616.9 193.6 617.6 194.0 618.5 194.5 617.2 194.9 622.5 195.4 616.0 195.8 618.9 196.3 617.5 196.7 618.5 197.2 614.3 197.6 621.0 198.1 616.6 198.5 616.9 199.0 614.7 199.4 615.2 199.9 618.2 200.3 619.3 200.8 618.9 201.2 620.1 201.7 619.1 202.1 617.7 202.6 619.8 203.0 619.4 203.5 617.9 203.9 619.9 204.4 621.3 204.8 618.8 205.3 617.4 205.7 619.7 206.2 622.2 206.6 617.1 207.1 617.2 207.5 616.8 208.0 619.7 208.4 612.4 208.9 617.2 209.3 618.9 209.8 614.1 210.2 619.3 210.7 617.0 211.1 614.4 211.6 616.1 212.0 612.1 212.5 614.3 212.9 619.8 213.4 613.6 213.8 619.9 214.3 615.5 214.7 618.0 215.2 615.8 215.6 610.6 216.1 614.5 216.5 616.9 217.0 613.4 217.4 613.1 217.9 617.2 218.3 615.1 218.8 612.9 219.2 615.4 219.7 619.2 220.1 616.3 220.6 619.7 221.0 621.3 221.5 618.0 221.9 615.4 222.4 615.1 222.8 618.1 223.3 620.3 223.7 619.0 224.2 619.7 224.6 618.5 225.1 619.3 225.5 617.6 226.0 618.0 226.4 615.9 226.9 615.4 227.3 618.0 227.8 616.7 228.2 617.1 228.7 620.9 229.1 619.2 229.6 626.2 230.0 621.6 230.5 618.0 230.9 621.2 231.4 620.1 231.8 617.6 232.3 621.5 232.7 617.0 233.2 611.5 233.6 620.1 234.1 616.6 234.5 621.2 235.0 616.0 235.4 614.6 235.9 620.6 236.3 614.4 236.8 617.1 237.2 619.8 237.7 616.6 238.1 616.1 238.6 616.4 239.0 618.0 239.5 614.2 239.9 617.4 240.4 617.3 240.8 621.3 241.3 615.2 241.7 613.8 242.2 617.7 242.6 615.1 243.1 616.8 243.5 616.5 244.0 619.0 244.4 614.8 244.9 616.2 245.3 610.5 245.8 614.3 246.2 619.8 246.7 613.9 247.1 614.5 247.6 613.1 248.0 617.1 248.5 616.0 248.9 612.7 249.4 616.8 249.8 615.7 250.3 616.7 250.7 613.4 251.2 618.8 251.6 615.6 252.1 614.3 252.5 613.3 253.0 613.9 253.4 616.4 253.9 613.7 254.3 616.7 254.8 615.4 255.2 617.0 255.7 615.5 256.1 613.3 256.6 608.8 257.0 613.7 257.5 614.6 257.9 613.0 258.4 613.8 258.8 611.2 259.3 611.3 259.7 610.0 260.2 615.3 260.6 612.5 261.1 611.0 261.5 609.1 262.0 612.0 262.4 615.8 262.9 613.7 263.3 611.1 263.8 616.3 264.2 616.6 264.7 615.8 265.1 615.6 265.6 616.7 266.0 615.6 266.5 616.4 266.9 613.0 267.4 618.5 267.8 615.7 268.3 620.0 268.7 610.7 269.2 617.2 269.6 618.0 270.1 615.0 270.5 617.0 271.0 617.8 271.4 617.6 271.9 615.1 272.3 616.2 272.8 619.0 273.2 619.8 273.7 617.3 274.1 617.4 274.6 617.9 275.0 620.0 275.5 615.4 275.9 615.0 276.4 618.5 276.8 615.8 277.3 617.1 277.7 618.7 278.2 619.6 278.6 616.0 279.1 620.3 279.5 614.3 280.0 619.5 280.4 614.5 280.9 615.1 281.3 619.5 281.8 617.0 282.2 616.0 282.7 616.8 283.1 618.9 283.6 617.6 284.0 617.6 284.5 620.1 284.9 615.9 285.4 616.4 285.8 616.3 286.3 620.1 286.7 619.7 287.2 620.4 287.6 617.4 288.1 617.1 288.5 619.6 289.0 616.8 289.4 619.8 289.9 619.7 290.3 616.5 290.8 618.1 291.2 618.1 291.7 622.7 292.1 624.4 292.6 618.2 293.0 616.0 293.5 612.9 293.9 618.5 294.4 617.8 294.8 615.1 295.3 619.2 295.7 613.6 296.2 616.5 296.6 617.1 297.1 613.8 297.5 618.6 298.0 619.0 298.4 613.4 298.9 613.4 299.3 618.1 299.8 616.7 300.2 613.8 300.7 616.3 301.1 616.9 301.6 616.9 302.0 619.3 302.5 618.4 302.9 621.7 303.4 620.9 303.8 619.5 304.3 618.1 304.7 621.4 305.2 620.1 305.6 615.9 306.1 620.8 306.5 619.2 307.0 622.8 307.4 619.4 307.9 620.4 308.3 619.9 308.8 623.0 309.2 619.4 309.7 618.3 310.1 619.4 310.6 617.5 311.0 618.7 311.5 618.2 311.9 618.6 312.4 622.3 312.8 616.8 313.3 617.7 313.7 617.2 314.2 619.1 314.6 614.9 315.1 616.1 315.5 617.7 316.0 619.1 316.4 617.8 316.9 616.9 317.3 616.2 317.8 619.4 318.2 621.6 318.7 619.1 319.1 618.8 319.6 614.8 320.0 616.3 320.5 617.7 320.9 617.9 321.4 619.2 321.8 618.5 322.3 615.8 322.7 621.2 323.2 622.5 323.6 617.9 324.1 619.3 324.5 618.9 325.0 619.9 325.4 614.5 325.9 621.4 326.3 616.4 326.8 620.1 327.2 617.2 327.7 616.0 328.1 616.4 328.6 618.8 329.0 614.6 329.5 615.8 329.9 615.5 330.4 612.7 330.8 619.7 331.3 618.1 331.7 616.8 332.2 619.6 332.6 614.7 333.1 616.7 333.5 620.8 334.0 619.0 334.4 611.5 334.9 608.8 335.3 613.9 335.8 618.5 336.2 615.0 336.7 615.2 337.1 616.9 337.6 613.2 338.0 615.6 338.5 613.7 338.9 615.9 339.4 615.7 339.8 613.4 340.3 615.9 340.7 613.8 341.2 617.9 341.6 620.8 342.1 613.2 342.5 610.0 343.0 614.0 343.4 615.8 343.9 617.3 344.3 617.3 344.8 612.8 345.2 612.6 345.7 617.2 346.1 611.6 346.6 616.4 347.0 613.2 347.5 612.3 347.9 615.0 348.4 615.0 348.8 615.0 349.3 610.8 349.7 613.7 350.2 613.1 350.6 613.8 351.1 616.1 351.5 612.7 352.0 611.8 352.4 611.9 352.9 612.9 353.3 615.5 353.8 611.9 354.2 616.5 354.7 614.5 355.1 613.2 355.6 610.5 356.0 614.0 356.5 614.9 356.9 609.0 357.4 615.6 357.8 616.4 358.3 613.1 358.7 615.0 359.2 617.4 359.6 614.5 360.1 609.4 360.5 611.3 361.0 610.9 361.4 610.9 361.9 605.8 362.3 613.2 362.8 610.1 363.2 612.1 363.7 611.7 364.1 614.3 364.6 611.9 365.0 612.1 365.5 614.4 365.9 616.8 366.4 613.1 366.8 617.3 367.3 614.9 367.7 613.2 368.2 618.0 368.6 612.5 369.1 616.6 369.5 612.9 370.0 614.8 370.4 610.6 370.9 611.1 371.3 615.1 371.8 612.7 372.2 612.0 372.7 610.6 373.1 612.4 373.6 608.0 374.0 608.5 374.5 610.7 374.9 609.2 375.4 609.6 375.8 611.2 376.3 611.2 376.7 611.2 377.2 615.7 377.6 614.3 378.1 614.8 378.5 611.9 379.0 610.7 379.4 608.3 379.9 610.7 380.3 606.4 380.8 609.6 381.2 612.5 381.7 614.2 382.1 612.5 382.6 608.0 383.0 611.0 383.5 607.9 383.9 611.5 384.4 609.3 384.8 611.5 385.3 615.5 385.7 611.6 386.2 614.9 386.6 609.8 387.1 608.5 387.5 612.3 388.0 613.2 388.4 607.8 388.9 609.2 389.3 605.6 389.8 615.1 390.2 611.0 390.7 608.8 391.1 607.7 391.6 605.8 392.0 616.1 392.5 611.2 392.9 609.3 393.4 610.1 393.8 606.5 394.3 613.6 394.7 609.4 395.2 609.1 395.6 611.1 396.1 604.2 396.5 609.0 397.0 608.7 397.4 609.7 397.9 611.9 398.3 609.7 398.8 604.2 399.2 607.5 399.7 608.7 400.1 608.5 400.6 605.1 401.0 604.1 401.5 609.2 401.9 608.7 402.4 606.6 402.8 603.7 403.3 611.8 403.7 600.7 404.2 606.5 404.6 612.1 405.1 606.7 405.5 607.4 406.0 603.8 406.4 609.5 406.9 603.0 407.3 606.4 407.8 605.9 408.2 602.8 408.7 607.1 409.1 601.4 409.6 602.9 410.0 604.1 410.5 603.0 410.9 602.2 411.4 605.6 411.8 602.5 412.3 601.7 412.7 601.5 413.2 601.6 413.6 604.1 414.1 601.4 414.5 602.6 415.0 601.1 415.4 599.0 415.9 602.7 416.3 597.9 416.8 600.0 417.2 603.2 417.7 596.8 418.1 599.0 418.6 595.1 419.0 597.4 419.5 594.9 419.9 597.4 420.4 596.9 420.8 598.4 421.3 601.8 421.7 598.6 422.2 599.5 422.6 597.7 423.1 597.1 423.5 595.5 424.0 593.0 424.4 597.1 424.9 600.5 425.3 597.3 425.8 594.5 426.2 599.2 426.7 593.8 427.1 592.8 427.6 585.7 428.0 591.1 428.5 592.4 428.9 597.5 429.4 591.8 429.8 589.5 430.3 590.2 430.7 590.8 431.2 586.9 431.6 591.0 432.1 592.0 432.5 590.7 433.0 591.0 433.4 586.0 433.9 584.6 434.3 591.5 434.8 590.6 435.2 584.0 435.7 587.9 436.1 587.2 436.6 588.2 437.0 587.1 437.5 585.2 437.9 586.7 438.4 586.3 438.8 585.6 439.3 580.9 439.7 577.8 440.2 588.5 440.6 580.4 441.1 584.6 441.5 585.4 442.0 584.0 442.4 582.1 442.9 582.9 443.3 585.4 443.8 580.6 444.2 584.5 444.7 583.9 445.1 582.7 445.6 585.5 446.0 582.6 446.5 584.1 446.9 579.5 447.4 579.8 447.8 579.0 448.3 582.5 448.7 579.0 449.2 581.3 449.6 578.3 450.1 583.6 450.5 585.4 451.0 581.4 451.4 584.8 451.9 582.1 452.3 585.9 452.8 580.7 453.2 576.5 453.7 583.8 454.1 579.6 454.6 577.1 455.0 577.8 455.5 572.8 455.9 578.4 456.4 575.9 456.8 581.9 457.3 579.6 457.7 573.6 458.2 573.8 458.6 575.9 459.1 572.4 459.5 576.7 460.0 583.3 460.4 574.7 460.9 575.2 461.3 577.6 461.8 579.8 462.2 579.9 462.7 576.2 463.1 578.1 463.6 574.0 464.0 576.8 464.5 573.2 464.9 577.3 465.4 572.2 465.8 572.7 466.3 574.8 466.7 575.9 467.2 573.1 467.6 572.6 468.1 573.9 468.5 573.9 469.0 570.9 469.4 573.0 469.9 571.9 470.3 575.8 470.8 573.5 471.2 568.6 471.7 566.2 472.1 571.7 472.6 574.1 473.0 571.3 473.5 572.7 473.9 568.9 474.4 566.3 474.8 571.2 475.3 569.1 475.7 570.2 476.2 564.7 476.6 568.2 477.1 565.8 477.5 569.1 478.0 565.4 478.4 565.1 478.9 564.9 479.3 569.3 479.8 565.9 480.2 566.6 480.7 562.8 481.1 562.4 481.6 568.3 482.0 559.7 482.5 561.7 482.9 565.0 483.4 565.9 483.8 562.1 484.3 563.9 484.7 563.4 485.2 563.4 485.6 560.5 486.1 564.0 486.5 559.9 487.0 562.7 487.4 555.5 487.9 560.1 488.3 554.0 488.8 552.8 489.2 557.3 489.7 553.4 490.1 556.1 490.6 551.7 491.0 558.0 491.5 553.3 491.9 549.8 492.4 552.6 492.8 553.7 493.3 548.8 493.7 551.3 494.2 554.5 494.6 550.6 495.1 547.4 495.5 545.1 496.0 547.1 496.4 540.7 496.9 535.8 497.3 541.0 497.8 539.0 498.2 545.4 498.7 540.3 499.1 536.5 499.6 535.2 500.0 538.6 500.5 534.3 500.9 534.0 501.4 534.3 501.8 533.8 502.3 532.8 502.7 531.8 503.2 531.9 503.6 533.8 504.1 523.8 504.5 533.9 505.0 526.4 505.4 528.3 505.9 522.1 506.3 524.0 506.8 522.8 507.2 521.7 507.7 522.8 508.1 521.4 508.6 516.2 509.0 517.7 509.5 519.1 509.9 518.0 510.4 514.3 510.8 513.4 511.3 512.6 511.7 508.9 512.2 507.3 512.6 513.9 513.1 507.3 513.5 507.4 514.0 503.9 514.4 508.3 514.9 508.3 515.3 501.6 515.8 492.1 516.2 497.7 516.7 503.4 517.1 499.9 517.6 493.8 518.0 498.4 518.5 494.7 518.9 493.6 519.4 492.2 519.8 488.1 520.3 487.1 520.7 489.0 521.2 485.7 521.6 481.7 522.1 488.6 522.5 480.7 523.0 478.1 523.4 476.1 523.9 478.4 524.3 477.5 524.8 473.9 525.2 474.1 525.7 465.8 526.1 467.6 526.6 465.9 527.0 465.9 527.5 468.8 527.9 457.5 528.4 471.2 528.8 458.4 529.3 460.8 529.7 461.1 530.2 460.1 530.6 457.2 531.1 447.0 531.5 451.2 532.0 455.4 532.4 449.3 532.9 447.7 533.3 442.6 533.8 451.9 534.2 448.6 534.7 443.2 535.1 444.4 535.6 443.4 536.0 439.4 536.5 441.0 536.9 441.8 537.4 442.0 537.8 443.6 538.3 439.5 538.7 437.7 539.2 440.1 539.6 437.0 540.1 435.2 540.5 442.5 541.0 438.0 541.4 439.6 541.9 441.3 542.3 436.1 542.8 441.3 543.2 440.8 543.7 439.2 544.1 440.8 544.6 437.5 545.0 433.3 545.5 439.3 545.9 437.7 546.4 443.4 546.8 442.0 547.3 440.2 547.7 442.4 548.2 446.9 548.6 446.8 549.1 445.2 549.5 446.0 550.0 444.6 550.4 445.7 550.9 448.6 551.3 447.3 551.8 449.4 552.2 446.0 552.7 445.1 553.1 445.9 553.6 450.4 554.0 456.3 554.5 456.7 554.9 451.0 555.4 450.2 555.8 457.9 556.3 457.7 556.7 453.2 557.2 461.2 557.6 459.7 558.1 464.0 558.5 462.3 559.0 465.1 559.4 464.8 559.9 462.6 560.3 466.3 560.8 466.8 561.2 472.8 561.7 469.3 562.1 466.0 562.6 477.5 563.0 480.4 563.5 482.7 563.9 483.1 564.4 477.0 564.8 480.5 565.3 482.0 565.7 484.5 566.2 479.4 566.6 486.2 567.1 487.8 567.5 485.0 568.0 488.6 568.4 492.1 568.9 489.5 569.3 493.0 569.8 493.4 570.2 492.3 570.7 492.7 571.1 484.6 571.6 496.1 572.0 491.8 572.5 491.6 572.9 496.0 573.4 492.5 573.8 496.2 574.3 498.5 574.7 498.6 575.2 497.1 575.6 499.9 576.1 500.1 576.5 494.4 577.0 495.6 577.4 503.5 577.9 503.8 578.3 495.1 578.8 497.6 579.2 501.8 579.7 499.5 580.1 503.8 580.6 503.0 581.0 504.4 581.5 500.1 581.9 505.3 582.4 509.1 582.8 501.8 583.3 507.8 583.7 507.1 584.2 506.5 584.6 504.9 585.1 502.2 585.5 503.3 586.0 508.2 586.4 509.2 586.9 510.3 587.3 510.0 587.8 506.0 588.2 506.8 588.7 505.0 589.1 509.0 589.6 510.0 590.0 508.9 590.5 504.6 590.9 507.2 591.4 504.5 591.8 508.8 592.3 505.4 592.7 507.5 593.2 508.6 593.6 507.8 594.1 510.8 594.5 503.8 595.0 500.4 595.4 508.6 595.9 509.5 596.3 509.2 596.8 505.7 597.2 506.1 597.7 504.6 598.1 500.3 598.6 502.0 599.0 504.6 599.5 501.3 599.9 507.7 600.4 497.9 600.8 500.5 601.3 504.0 601.7 499.1 602.2 497.2 602.6 496.1 603.1 497.3 603.5 502.8 604.0 499.2 604.4 498.8 604.9 495.2 605.3 498.2 605.8 495.3 606.2 491.5 606.7 491.8 607.1 492.7 607.6 494.3 608.0 489.9 608.5 490.4 608.9 493.6 609.4 484.7 609.8 482.4 610.3 487.6 610.7 485.0 611.2 482.4 611.6 482.4 612.1 481.7 612.5 481.1 613.0 477.7 613.4 479.9 613.9 473.3 614.3 473.3 614.8 475.0 615.2 472.4 615.7 474.8 616.1 471.7 616.6 469.3 617.0 470.3 617.5 467.0 617.9 462.8 618.4 462.6 618.8 462.1 619.3 461.6 619.7 461.6 620.2 462.4 620.6 459.7 621.1 461.6 621.5 458.5 622.0 452.5 622.4 456.3 622.9 453.4 623.3 447.0 623.8 447.8 624.2 448.8 624.7 445.0 625.1 446.1 625.6 443.2 626.0 443.1 626.5 438.9 626.9 439.9 627.4 436.6 627.8 438.6 628.3 430.4 628.7 435.4 629.2 437.1 629.6 434.1 630.1 431.4 630.5 432.2 631.0 427.3 631.4 426.6 631.9 427.5 632.3 427.7 632.8 430.8 633.2 425.0 633.7 430.7 634.1 423.0 634.6 425.7 635.0 428.5 635.5 432.6 635.9 428.0 636.4 424.2 636.8 432.9 637.3 432.6 637.7 430.6 638.2 432.0 638.6 434.4 639.1 438.3 639.5 441.6 640.0 436.9 640.4 449.9 640.9 444.8 641.3 445.6 641.8 450.5 642.2 450.9 642.7 459.8 643.1 458.8 643.6 457.3 644.0 460.3 644.5 463.1 644.9 464.2 645.4 473.2 645.8 472.9 646.3 482.8 646.7 481.4 647.2 491.0 647.6 491.1 648.1 486.1 648.5 492.1 649.0 499.4 649.4 500.9 649.9 504.1 650.3 508.4 650.8 509.0 651.2 513.5 651.7 513.6 652.1 515.6 652.6 527.3 653.0 524.8 653.5 528.6 653.9 537.4 654.4 539.7 654.8 538.6 655.3 541.5 655.7 545.4 656.2 545.7 656.6 551.9 657.1 553.1 657.5 555.1 658.0 558.8 658.4 560.6 658.9 565.4 659.3 566.3 659.8 559.9 660.2 568.0 660.7 564.4 661.1 565.1 661.6 571.7 662.0 569.4 662.5 571.4 662.9 575.8 663.4 572.4 663.8 572.6 664.3 576.3 664.7 579.2 665.2 578.0 665.6 573.5 666.1 576.3 666.5 578.2 667.0 583.9 667.4 582.0 667.9 582.6 668.3 584.2 668.8 581.3 669.2 582.7 669.7 584.7 670.1 581.9 670.6 585.0 671.0 587.2 671.5 583.9 671.9 589.1 672.4 589.6 672.8 590.8 673.3 591.2 673.7 589.6 674.2 593.3 674.6 592.1 675.1 588.7 675.5 591.5 676.0 594.7 676.4 591.4 676.9 592.5 677.3 598.4 677.8 592.5 678.2 592.7 678.7 590.9 679.1 592.2 679.6 597.7 680.0 594.3 680.5 592.3 680.9 593.3 681.4 596.0 681.8 598.3 682.3 595.0 682.7 598.9 683.2 596.3 683.6 598.6 684.1 599.1 684.5 599.5 685.0 597.1 685.4 597.8 685.9 599.5 686.3 595.3 686.8 598.9 687.2 598.6 687.7 601.2 688.1 598.9 688.6 598.7 689.0 599.8 689.5 602.6 689.9 599.6 690.4 601.4 690.8 601.4 691.3 598.6 691.7 600.7 692.2 596.7 692.6 603.9 693.1 601.0 693.5 603.1 694.0 600.2 694.4 602.7 694.9 604.2 695.3 605.6 695.8 600.2 696.2 605.6 696.7 603.4 697.1 602.1 697.6 605.3 698.0 603.7 698.5 603.9 698.9 603.2 699.4 605.6 699.8 605.4 700.3 605.2 700.7 603.6 701.2 604.9 701.6 607.2 702.1 609.5 702.5 606.6 703.0 610.1 703.4 606.8 703.9 604.4 704.3 608.6 704.8 604.9 705.2 608.3 705.7 610.0 706.1 606.9 706.6 607.6 707.0 613.7 707.5 608.6 707.9 608.8 708.4 610.1 708.8 608.1 709.3 608.2 709.7 609.3 710.2 602.7 710.6 611.6 711.1 605.8 711.5 605.7 712.0 609.4 712.4 608.2 712.9 605.2 713.3 608.6 713.8 605.5 714.2 606.5 714.7 604.7 715.1 606.3 715.6 609.1 716.0 608.5 716.5 608.9 716.9 610.3 717.4 608.0 717.8 606.6 718.3 607.4 718.7 611.9 719.2 608.1 719.6 608.8 720.1 607.9 720.5 608.7 721.0 609.2 721.4 608.3 721.9 608.0 722.3 606.6 722.8 606.5 723.2 609.5 723.7 610.3 724.1 610.7 724.6 608.6 725.0 606.5 725.5 609.8 725.9 609.6 726.4 604.6 726.8 609.8 727.3 609.2 727.7 611.6 728.2 605.0 728.6 604.6 729.1 609.4 729.5 603.4 730.0 605.9 730.4 605.1 730.9 605.4 731.3 603.4 731.8 607.4 732.2 610.4 732.7 609.3 733.1 609.6 733.6 607.9 734.0 612.3 734.5 610.4 734.9 611.9 735.4 606.0 735.8 610.6 736.3 607.2 736.7 610.8 737.2 610.6 737.6 607.6 738.1 610.7 738.5 613.0 739.0 611.6 739.4 611.9 739.9 608.5 740.3 609.0 740.8 605.7 741.2 611.0 741.7 613.5 742.1 611.8 742.6 610.7 743.0 608.0 743.5 611.5 743.9 609.8 744.4 605.7 744.8 605.9 745.3 608.9 745.7 607.4 746.2 613.1 746.6 609.1 747.1 606.4 747.5 607.6 748.0 612.3 748.4 606.3 748.9 610.2 749.3 609.4 749.8 611.9 750.2 609.7 750.7 607.6 751.1 609.8 751.6 608.7 752.0 610.9 752.5 608.5 752.9 613.2 753.4 608.3 753.8 609.6 754.3 607.0 754.7 608.8 755.2 608.6 755.6 608.9 756.1 610.7 756.5 607.5 757.0 606.9 757.4 611.7 757.9 608.7 758.3 608.0 758.8 612.5 759.2 611.9 759.7 604.1 760.1 609.6 760.6 612.4 761.0 612.6 761.5 609.5 761.9 614.2 762.4 608.7 762.8 609.8 763.3 610.4 763.7 609.8 764.2 611.4 764.6 611.6 765.1 608.8 765.5 611.7 766.0 606.5 766.4 607.3 766.9 611.4 767.3 607.4 767.8 610.6 768.2 605.8 768.7 606.0 769.1 608.2 769.6 607.1 770.0 606.0 770.5 607.0 770.9 608.8 771.4 610.3 771.8 608.1 772.3 609.7 772.7 610.7 773.2 606.4 773.6 605.6 774.1 613.2 774.5 612.8 775.0 610.0 775.4 610.8 775.9 607.8 776.3 606.8 776.8 610.8 777.2 606.5 777.7 612.0 778.1 608.3 778.6 610.5 779.0 614.3 779.5 614.1 779.9 609.1 780.4 612.2 780.8 611.5 781.3 608.5 781.7 610.8 782.2 613.3 782.6 608.8 783.1 611.5 783.5 610.6 784.0 607.5 784.4 610.1 784.9 613.9 785.3 610.1 785.8 611.4 786.2 612.0 786.7 608.3 787.1 612.7 787.6 613.2 788.0 613.3 788.5 612.6 788.9 608.4 789.4 608.2 789.8 607.8 790.3 607.7 790.7 608.1 791.2 612.5 791.6 613.8 792.1 609.2 792.5 612.8 793.0 607.9 793.4 604.8 793.9 609.1 794.3 607.7 794.8 611.6 795.2 611.6 795.7 610.4 796.1 603.8 796.6 608.9 797.0 610.8 797.5 609.6 797.9 611.4 798.4 608.0 798.8 611.2 799.3 611.8 799.7 613.5 800.2 613.1 800.6 611.1 801.1 609.1 801.5 606.5 802.0 610.8 802.4 614.2 802.9 614.8 803.3 605.1 803.8 609.3 804.2 610.3 804.7 608.7 805.1 611.6 805.6 611.2 806.0 609.9 806.5 611.0 806.9 607.3 807.4 608.7 807.8 608.9 808.3 613.1 808.7 607.2 809.2 610.5 809.6 612.9 810.1 611.0 810.5 613.1 811.0 609.8 811.4 612.4 811.9 613.5 812.3 616.6 812.8 613.1 813.2 614.7 813.7 611.4 814.1 611.5 814.6 614.9 815.0 612.6 815.5 614.5 815.9 612.9 816.4 616.2 816.8 616.8 817.3 609.4 817.7 615.8 818.2 612.6 818.6 612.8 819.1 611.5 819.5 613.6 820.0 609.4 820.4 610.3 820.9 610.3 821.3 612.8 821.8 614.2 822.2 607.3 822.7 612.9 823.1 610.7 823.6 608.0 824.0 613.1 824.5 612.6 824.9 613.2 825.4 615.8 825.8 612.3 826.3 612.4 826.7 607.6 827.2 614.4 827.6 613.1 828.1 611.5 828.5 614.1 829.0 610.6 829.4 611.7 829.9 617.3 830.3 614.2 830.8 614.4 831.2 613.8 831.7 613.3 832.1 612.0 832.6 616.7 833.0 611.1 833.5 612.9 833.9 610.6 834.4 610.3 834.8 605.5 835.3 606.8 835.7 615.0 836.2 615.0 836.6 610.7 837.1 611.8 837.5 613.4 838.0 609.9 838.4 616.4 838.9 610.0 839.3 610.9 839.8 606.2 840.2 616.2 840.7 612.9 841.1 616.6 841.6 610.5 842.0 613.6 842.5 613.0 842.9 613.3 843.4 617.6 843.8 618.1 844.3 616.0 844.7 611.8 845.2 614.8 845.6 615.9 846.1 614.0 846.5 614.0 847.0 613.8 847.4 610.5 847.9 613.1 848.3 616.2 848.8 610.1 849.2 612.5 849.7 614.2 850.1 609.1 850.6 611.9 851.0 608.3 851.5 610.8 851.9 609.0 852.4 610.2 852.8 611.2 853.3 611.7 853.7 611.9 854.2 606.8 854.6 616.1 855.1 607.5 855.5 609.9 856.0 610.9 856.4 613.1 856.9 610.0 857.3 611.4 857.8 611.2 858.2 613.6 858.7 610.6 859.1 613.4 859.6 613.2 860.0 612.1 860.5 615.4 860.9 612.6 861.4 610.0 861.8 613.5 862.3 613.3 862.7 613.1 863.2 613.8 863.6 618.9 864.1 614.1 864.5 614.7 865.0 613.1 865.4 616.7 865.9 613.5 866.3 611.7 866.8 610.6 867.2 614.5 867.7 614.9 868.1 609.4 868.6 611.3 869.0 614.3 869.5 615.1 869.9 609.6 870.4 611.6 870.8 614.4 871.3 611.1 871.7 611.2 872.2 610.9 872.6 608.9 873.1 611.9 873.5 612.3 874.0 608.1 874.4 611.4 874.9 613.6 875.3 611.3 875.8 612.3 876.2 609.3 876.7 613.7 877.1 608.7 877.6 614.9 878.0 609.4 878.5 608.7 878.9 608.3 879.4 609.3 879.8 609.0 880.3 608.4 880.7 609.1 881.2 611.2 881.6 611.5 882.1 608.5 882.5 611.9 883.0 606.4 883.4 606.1 883.9 605.6 884.3 609.4 884.8 604.2 885.2 604.3 885.7 610.4 886.1 611.2 886.6 610.2 887.0 603.5 887.5 606.9 887.9 608.8 888.4 607.1 888.8 603.1 889.3 606.2 889.7 603.1 890.2 604.3 890.6 612.3 891.1 609.1 891.5 604.2 892.0 604.2 892.4 607.7 892.9 606.6 893.3 609.5 893.8 606.7 894.2 607.8 894.7 608.9 895.1 606.0 895.6 603.9 896.0 605.7 896.5 606.9 896.9 608.1 897.4 608.5 897.8 608.5 898.3 609.9 898.7 606.7 899.2 612.1 899.6 613.5 900.1 609.7 900.5 609.3 901.0 611.7 901.4 610.3 901.9 609.1 902.3 608.1 902.8 606.7 903.2 605.5 903.7 609.7 904.1 610.8 904.6 605.4 905.0 607.6 905.5 608.2 905.9 606.7 906.4 605.9 906.8 606.8 907.3 603.2 907.7 607.8 908.2 607.4 908.6 613.2 909.1 610.5 909.5 607.6 910.0 608.5 910.4 612.5 910.9 612.2 911.3 608.8 911.8 607.9 912.2 604.7 912.7 607.1 913.1 607.3 913.6 605.7 914.0 611.3 914.5 602.7 914.9 606.7 915.4 607.9 915.8 607.9 916.3 610.9 916.7 603.7 917.2 605.2 917.6 607.2 918.1 607.3 918.5 606.1 919.0 605.2 919.4 609.4 919.9 604.3 920.3 605.3 920.8 609.9 921.2 608.4 921.7 608.1 922.1 603.8 922.6 603.5 923.0 602.5 923.5 602.3 923.9 603.8 924.4 607.5 924.8 604.9 925.3 602.5 925.7 602.4 926.2 601.4 926.6 607.0 927.1 599.5 927.5 605.0 928.0 601.1 928.4 602.1 928.9 601.3 929.3 607.2 929.8 605.0 930.2 611.8 930.7 603.2 931.1 603.3 931.6 607.4 932.0 607.6 932.5 605.8 932.9 601.8 933.4 610.1 933.8 608.1 934.3 607.7 934.7 605.3 935.2 608.0 935.6 605.0 936.1 606.3 936.5 605.5 937.0 608.6 937.4 604.4 937.9 604.5 938.3 607.7 938.8 605.5 939.2 604.8 939.7 604.2 940.1 607.0 940.6 603.2 941.0 605.7 941.5 609.3 941.9 605.3 942.4 602.4 942.8 601.2 943.3 604.1 943.7 600.6 944.2 599.5 944.6 601.2 945.1 600.1 945.5 604.5 946.0 598.9 946.4 605.9 946.9 600.2 947.3 602.2 947.8 603.4 948.2 602.3 948.7 603.4 949.1 599.4 949.6 596.3 950.0 601.1 950.5 597.6 950.9 600.1 951.4 603.6 951.8 600.8 952.3 599.8 952.7 598.5 953.2 600.4 953.6 600.7 954.1 597.3 954.5 601.8 955.0 598.6 955.4 601.7 955.9 600.2 956.3 603.8 956.8 603.6 957.2 601.8 957.7 601.6 958.1 603.1 958.6 605.5 959.0 604.8 959.5 602.7 959.9 603.1 960.4 606.1 960.8 598.4 961.3 603.5 961.7 599.9 962.2 605.1 962.6 600.5 963.1 601.1 963.5 598.6 964.0 600.9 964.4 602.5 964.9 604.4 965.3 597.2 965.8 599.0 966.2 609.2 966.7 602.0 967.1 599.7 967.6 600.9 968.0 593.3 968.5 603.4 968.9 599.9 969.4 596.1 969.8 602.3 970.3 598.0 970.7 597.0 971.2 600.6 971.6 600.3 972.1 598.2 972.5 599.1 973.0 596.1 973.4 595.9 973.9 601.5 974.3 602.5 974.8 600.3 975.2 600.2 975.7 598.3 976.1 598.9 976.6 596.8 977.0 603.1 977.5 594.4 977.9 599.5 978.4 598.2 978.8 594.7 979.3 602.4 979.7 596.6 980.2 595.5 980.6 597.5 981.1 594.9 981.5 597.0 982.0 594.6 982.4 598.3 982.9 597.0 983.3 593.7 983.8 599.4 984.2 597.4 984.7 594.3 985.1 597.7 985.6 597.8 986.0 601.1 986.5 594.5 986.9 598.5 987.4 596.0 987.8 597.5 988.3 595.1 988.7 595.4 989.2 596.4 989.6 592.0 990.1 589.5 990.5 594.2 991.0 592.8 991.4 593.8 991.9 594.9 992.3 592.6 992.8 595.8 993.2 592.8 993.7 593.1 994.1 594.9 994.6 594.4 995.0 592.9 995.5 593.6 995.9 591.6 996.4 592.1 996.8 593.9 997.3 595.7 997.7 592.7 998.2 595.8 998.6 598.4 999.1 598.9 999.5 593.7 1000.0 596.1 1000.4 594.9 1000.9 595.3 1001.3 595.3 1001.8 594.4 1002.2 595.1 1002.7 593.4 1003.1 592.3 1003.6 593.4 1004.0 594.0 1004.5 595.7 1004.9 593.6 1005.4 594.5 1005.8 596.1 1006.3 590.4 1006.7 592.0 1007.2 593.9 1007.6 592.6 1008.1 590.0 1008.5 594.8 1009.0 592.1 1009.4 589.8 1009.9 596.6 1010.3 588.9 1010.8 591.8 1011.2 590.1 1011.7 591.9 1012.1 592.8 1012.6 589.4 1013.0 591.0 1013.5 590.8 1013.9 588.5 1014.4 593.5 1014.8 590.9 1015.3 589.6 1015.7 588.4 1016.2 589.0 1016.6 589.9 1017.1 588.2 1017.5 592.0 1018.0 582.6 1018.4 583.4 1018.9 587.7 1019.3 583.7 1019.8 587.8 1020.2 586.1 1020.7 588.9 1021.1 588.4 1021.6 590.4 1022.0 589.3 1022.5 590.0 1022.9 588.1 1023.4 589.0 1023.8 588.0 1024.3 585.4 1024.7 583.8 1025.2 584.0 1025.6 588.1 1026.1 581.3 1026.5 587.6 1027.0 585.4 1027.4 589.1 1027.9 587.9 1028.3 585.6 1028.8 587.4 1029.2 581.8 1029.7 587.9 1030.1 588.3 1030.6 582.6 1031.0 588.9 1031.5 586.4 1031.9 587.0 1032.4 582.9 1032.8 587.7 1033.3 587.5 1033.7 585.9 1034.2 583.4 1034.6 587.4 1035.1 588.4 1035.5 586.2 1036.0 587.4 1036.4 583.3 1036.9 584.9 1037.3 585.1 1037.8 584.3 1038.2 590.5 1038.7 584.5 1039.1 581.9 1039.6 585.2 1040.0 580.5 1040.5 584.0 1040.9 585.1 1041.4 582.2 1041.8 582.9 1042.3 581.6 1042.7 584.5 1043.2 582.8 1043.6 588.9 1044.1 586.4 1044.5 584.5 1045.0 581.7 1045.4 590.2 1045.9 588.5 1046.3 586.5 1046.8 585.8 1047.2 585.7 1047.7 584.0 1048.1 589.7 1048.6 585.5 1049.0 581.4 1049.5 583.3 1049.9 578.5 1050.4 586.3 1050.8 586.5 1051.3 588.9 1051.7 589.7 1052.2 582.6 1052.6 585.7 1053.1 594.7 1053.5 586.2 1054.0 582.9 1054.4 585.9 1054.9 585.0 1055.3 586.9 1055.8 583.3 1056.2 582.7 1056.7 581.8 1057.1 582.0 1057.6 580.9 1058.0 581.9 1058.5 583.8 1058.9 583.6 1059.4 585.5 1059.8 584.8 1060.3 583.5 1060.7 578.9 1061.2 582.8 1061.6 584.0 1062.1 577.7 1062.5 577.9 1063.0 578.1 1063.4 577.6 1063.9 579.3 1064.3 577.5 1064.8 580.6 1065.2 576.6 1065.7 579.2 1066.1 578.2 1066.6 577.0 1067.0 581.9 1067.5 579.4 1067.9 580.7 1068.4 578.5 1068.8 581.0 1069.3 580.7 1069.7 578.7 1070.2 574.6" fill="none" stroke="#ff00ff" stroke-width="2.9" stroke-linejoin="round"/><path d="M115.0 615.8L116.0 615.7 117.0 615.7 118.0 615.6 119.0 615.4 120.0 615.3 121.0 615.1 122.0 614.9 123.0 614.6 124.0 614.2 125.0 613.6 126.0 613.0 127.0 612.0 128.0 610.7 129.0 608.9 130.0 606.5 131.0 603.3 132.0 599.7 133.0 597.2 134.0 597.2 135.0 599.8 136.0 603.3 137.0 606.6 138.0 609.0 139.0 610.9 140.0 612.2 141.0 613.1 142.0 613.9 143.0 614.4 144.0 614.8 145.0 615.2 146.0 615.4 147.0 615.6" fill="none" stroke="#e31e24" stroke-width="3.3" stroke-linejoin="round"/><path d="M232.0 617.7L233.0 617.7 234.0 617.7 235.0 617.7 236.0 617.7 237.0 617.7 238.0 617.7 239.0 617.7 240.0 617.7 241.0 617.7 242.0 617.6 243.0 617.5 244.0 617.4 245.0 617.2 246.0 617.0 247.0 616.8 248.0 616.5 249.0 616.1 250.0 615.7 251.0 615.3 252.0 614.8 253.0 614.3 254.0 613.8 255.0 613.3 256.0 612.8 257.0 612.5 258.0 612.2 259.0 612.0 260.0 612.0 261.0 612.1 262.0 612.2 263.0 612.5 264.0 612.9 265.0 613.4 266.0 613.9 267.0 614.4 268.0 615.0 269.0 615.5 270.0 616.0 271.0 616.4 272.0 616.8 273.0 617.1 274.0 617.4" fill="none" stroke="#e31e24" stroke-width="3.3" stroke-linejoin="round"/><path d="M502.0 532.9L503.0 530.6 504.0 528.3 505.0 525.9 506.0 523.5 507.0 521.0 508.0 518.5 509.0 516.0 510.0 513.4 511.0 510.9 512.0 508.4 513.0 506.0 514.0 503.5 515.0 501.1 516.0 498.7 517.0 496.2 518.0 493.7 519.0 491.2 520.0 488.6 521.0 486.0 522.0 483.2 523.0 480.3 524.0 477.2 525.0 474.0 526.0 470.8 527.0 467.7 528.0 464.6 529.0 461.6 530.0 458.9 531.0 456.4 532.0 453.9 533.0 451.2 534.0 448.5 535.0 445.9 536.0 443.6 537.0 441.5 538.0 439.9 539.0 438.9 540.0 438.5 541.0 438.6 542.0 438.8 543.0 439.1 544.0 439.6 545.0 440.1 546.0 440.7 547.0 441.4 548.0 442.2 549.0 442.9 550.0 443.9 551.0 445.2 552.0 446.8 553.0 448.7 554.0 450.8 555.0 453.0 556.0 455.4 557.0 457.9 558.0 460.3 559.0 462.8 560.0 465.6 561.0 468.8 562.0 472.2 563.0 475.7 564.0 479.2 565.0 482.4 566.0 485.4 567.0 487.8" fill="none" stroke="#e31e24" stroke-width="3.3" stroke-linejoin="round"/><path d="M607.0 519.2L608.0 514.6 609.0 509.9 610.0 505.0 611.0 500.1 612.0 495.0 613.0 489.6 614.0 483.8 615.0 477.9 616.0 472.2 617.0 466.8 618.0 462.0 619.0 457.5 620.0 453.1 621.0 448.9 622.0 445.1 623.0 442.1 624.0 440.0 625.0 438.5 626.0 437.1 627.0 436.0 628.0 435.2 629.0 435.0 630.0 435.3 631.0 436.1 632.0 437.2 633.0 438.5 634.0 440.0 635.0 441.9 636.0 444.7 637.0 448.0 638.0 451.8 639.0 455.9 640.0 460.0 641.0 464.4 642.0 469.2 643.0 474.5 644.0 480.1 645.0 486.0 646.0 492.0 647.0 498.5 648.0 505.7 649.0 513.1 650.0 520.3 651.0 527.0 652.0 533.2 653.0 539.1 654.0 544.8 655.0 550.3 656.0 555.5" fill="none" stroke="#e31e24" stroke-width="3.3" stroke-linejoin="round"/><path d="M81.5 829.2L82.0 824.6 82.4 822.5 82.9 814.9 83.3 804.8 83.8 805.2 84.2 803.9 84.7 805.2 85.1 802.1 85.6 804.9 86.0 804.7 86.5 807.0 86.9 804.4 87.4 804.6 87.8 800.6 88.3 807.5 88.7 799.4 89.2 805.1 89.6 801.2 90.1 801.1 90.5 801.5 91.0 801.5 91.4 803.4 91.9 802.5 92.3 805.5 92.8 799.2 93.2 802.7 93.7 801.1 94.1 804.3 94.6 798.8 95.0 802.3 95.5 803.4 95.9 800.2 96.4 805.0 96.8 803.6 97.3 805.2 97.7 805.2 98.2 801.6 98.6 802.1 99.1 803.3 99.5 805.1 100.0 805.4 100.4 802.5 100.9 802.7 101.3 802.3 101.8 802.7 102.2 803.3 102.7 803.5 103.1 807.6 103.6 802.6 104.0 802.9 104.5 804.2 104.9 801.5 105.4 802.6 105.8 803.2 106.3 804.7 106.7 800.7 107.2 805.9 107.6 802.6 108.1 803.7 108.5 805.0 109.0 804.7 109.4 805.5 109.9 803.9 110.3 801.0 110.8 804.2 111.2 801.7 111.7 805.9 112.1 802.1 112.6 801.2 113.0 807.5 113.5 803.3 113.9 801.3 114.4 807.0 114.8 802.8 115.3 805.4 115.7 801.8 116.2 802.8 116.6 800.1 117.1 799.6 117.5 801.4 118.0 803.1 118.4 804.8 118.9 808.0 119.3 801.5 119.8 805.5 120.2 802.5 120.7 803.5 121.1 801.0 121.6 801.1 122.0 802.4 122.5 801.7 122.9 803.9 123.4 802.5 123.8 806.1 124.3 803.9 124.7 803.8 125.2 805.5 125.6 804.2 126.1 803.0 126.5 800.5 127.0 802.7 127.4 804.9 127.9 804.4 128.3 804.7 128.8 804.5 129.2 802.0 129.7 804.1 130.1 800.5 130.6 805.8 131.0 803.5 131.5 803.8 131.9 804.6 132.4 803.5 132.8 803.1 133.3 805.9 133.7 803.9 134.2 802.0 134.6 804.6 135.1 800.6 135.5 807.1 136.0 803.8 136.4 804.3 136.9 808.7 137.3 808.7 137.8 805.0 138.2 806.1 138.7 807.2 139.1 808.5 139.6 805.1 140.0 805.8 140.5 807.9 140.9 806.2 141.4 807.1 141.8 806.8 142.3 801.0 142.7 804.0 143.2 800.5 143.6 804.9 144.1 807.8 144.5 803.0 145.0 807.3 145.4 806.7 145.9 804.6 146.3 804.5 146.8 804.5 147.2 802.6 147.7 803.6 148.1 803.9 148.6 805.1 149.0 805.3 149.5 802.3 149.9 805.2 150.4 802.1 150.8 803.1 151.3 804.1 151.7 803.3 152.2 803.0 152.6 803.7 153.1 802.2 153.5 802.0 154.0 802.9 154.4 805.1 154.9 803.2 155.3 807.2 155.8 804.1 156.2 798.2 156.7 803.2 157.1 807.4 157.6 804.4 158.0 803.8 158.5 803.1 158.9 807.4 159.4 806.9 159.8 806.4 160.3 807.5 160.7 807.9 161.2 806.7 161.6 802.8 162.1 806.5 162.5 805.3 163.0 804.0 163.4 806.2 163.9 804.8 164.3 799.1 164.8 807.6 165.2 806.6 165.7 804.3 166.1 803.8 166.6 804.9 167.0 802.0 167.5 805.0 167.9 804.0 168.4 803.7 168.8 802.6 169.3 803.0 169.7 806.3 170.2 806.7 170.6 805.1 171.1 804.0 171.5 803.6 172.0 805.5 172.4 807.2 172.9 801.2 173.3 806.6 173.8 800.4 174.2 804.0 174.7 805.5 175.1 802.3 175.6 802.2 176.0 805.6 176.5 807.0 176.9 804.5 177.4 808.0 177.8 803.9 178.3 808.7 178.7 805.5 179.2 805.6 179.6 806.1 180.1 805.4 180.5 808.2 181.0 808.7 181.4 805.4 181.9 803.9 182.3 801.8 182.8 802.5 183.2 803.8 183.7 803.5 184.1 803.5 184.6 803.6 185.0 804.4 185.5 800.9 185.9 801.4 186.4 805.5 186.8 804.9 187.3 802.3 187.7 805.8 188.2 802.0 188.6 802.9 189.1 800.0 189.5 805.2 190.0 803.7 190.4 805.9 190.9 805.3 191.3 804.3 191.8 804.6 192.2 806.7 192.7 804.2 193.1 804.3 193.6 804.8 194.0 806.2 194.5 806.4 194.9 808.3 195.4 804.5 195.8 807.0 196.3 803.3 196.7 805.7 197.2 804.8 197.6 805.6 198.1 805.7 198.5 803.7 199.0 805.7 199.4 805.4 199.9 804.2 200.3 804.3 200.8 803.2 201.2 810.4 201.7 805.5 202.1 807.2 202.6 803.3 203.0 803.5 203.5 805.3 203.9 805.4 204.4 807.2 204.8 803.8 205.3 806.7 205.7 808.4 206.2 803.7 206.6 807.0 207.1 803.2 207.5 805.5 208.0 805.3 208.4 807.6 208.9 802.8 209.3 804.2 209.8 805.6 210.2 801.3 210.7 803.4 211.1 801.7 211.6 802.0 212.0 804.7 212.5 804.9 212.9 808.6 213.4 806.5 213.8 806.5 214.3 804.0 214.7 803.9 215.2 804.9 215.6 800.5 216.1 808.1 216.5 803.8 217.0 803.2 217.4 804.4 217.9 807.0 218.3 807.8 218.8 804.7 219.2 805.0 219.7 805.4 220.1 803.6 220.6 805.8 221.0 805.5 221.5 802.4 221.9 807.3 222.4 802.2 222.8 805.5 223.3 802.9 223.7 803.2 224.2 803.3 224.6 805.9 225.1 802.0 225.5 803.9 226.0 807.1 226.4 802.8 226.9 804.0 227.3 805.2 227.8 802.8 228.2 804.8 228.7 802.7 229.1 806.0 229.6 804.1 230.0 802.3 230.5 806.8 230.9 804.0 231.4 803.7 231.8 802.5 232.3 803.4 232.7 804.2 233.2 804.7 233.6 806.5 234.1 801.9 234.5 803.7 235.0 806.6 235.4 804.7 235.9 805.1 236.3 807.3 236.8 804.8 237.2 805.0 237.7 804.0 238.1 807.4 238.6 806.0 239.0 802.7 239.5 806.7 239.9 801.8 240.4 806.1 240.8 805.3 241.3 803.7 241.7 798.2 242.2 800.6 242.6 805.5 243.1 805.3 243.5 803.5 244.0 805.5 244.4 802.9 244.9 803.0 245.3 802.8 245.8 801.6 246.2 808.8 246.7 803.8 247.1 803.5 247.6 805.9 248.0 798.2 248.5 804.1 248.9 802.4 249.4 802.3 249.8 805.0 250.3 800.3 250.7 804.2 251.2 805.9 251.6 800.1 252.1 801.7 252.5 804.3 253.0 804.7 253.4 803.6 253.9 805.7 254.3 805.6 254.8 802.7 255.2 808.1 255.7 802.9 256.1 801.4 256.6 800.8 257.0 807.2 257.5 804.9 257.9 808.8 258.4 802.2 258.8 804.3 259.3 805.5 259.7 804.6 260.2 805.8 260.6 805.1 261.1 803.6 261.5 800.3 262.0 802.9 262.4 807.9 262.9 805.9 263.3 807.0 263.8 803.1 264.2 803.7 264.7 802.2 265.1 804.4 265.6 803.6 266.0 804.2 266.5 806.6 266.9 801.5 267.4 804.4 267.8 800.3 268.3 805.0 268.7 802.0 269.2 802.7 269.6 803.2 270.1 806.1 270.5 802.9 271.0 802.1 271.4 800.8 271.9 803.6 272.3 801.5 272.8 802.1 273.2 803.0 273.7 804.2 274.1 801.5 274.6 804.1 275.0 806.0 275.5 799.7 275.9 807.5 276.4 806.4 276.8 801.1 277.3 803.3 277.7 799.5 278.2 802.8 278.6 801.6 279.1 802.9 279.5 800.6 280.0 800.9 280.4 801.7 280.9 801.3 281.3 801.6 281.8 802.5 282.2 800.9 282.7 802.8 283.1 804.0 283.6 798.7 284.0 803.4 284.5 801.5 284.9 800.7 285.4 800.1 285.8 800.9 286.3 800.9 286.7 802.7 287.2 799.5 287.6 803.6 288.1 800.4 288.5 802.6 289.0 803.2 289.4 798.7 289.9 803.0 290.3 805.0 290.8 800.0 291.2 801.9 291.7 800.5 292.1 800.9 292.6 800.3 293.0 799.7 293.5 802.0 293.9 802.3 294.4 800.6 294.8 803.5 295.3 802.6 295.7 801.9 296.2 799.1 296.6 804.1 297.1 803.0 297.5 796.4 298.0 798.3 298.4 799.6 298.9 802.3 299.3 802.9 299.8 800.1 300.2 801.1 300.7 802.1 301.1 798.4 301.6 802.0 302.0 800.4 302.5 801.3 302.9 800.9 303.4 798.7 303.8 799.1 304.3 801.0 304.7 804.0 305.2 800.3 305.6 802.7 306.1 799.9 306.5 798.2 307.0 799.7 307.4 799.9 307.9 799.9 308.3 802.3 308.8 801.0 309.2 801.9 309.7 801.1 310.1 799.5 310.6 801.8 311.0 799.3 311.5 800.3 311.9 797.9 312.4 800.0 312.8 799.3 313.3 800.7 313.7 803.5 314.2 804.6 314.6 802.1 315.1 800.2 315.5 801.9 316.0 800.8 316.4 799.3 316.9 800.4 317.3 800.1 317.8 799.5 318.2 803.3 318.7 799.7 319.1 799.8 319.6 802.1 320.0 799.5 320.5 798.6 320.9 799.2 321.4 801.6 321.8 801.3 322.3 801.1 322.7 799.5 323.2 795.6 323.6 801.8 324.1 797.2 324.5 799.4 325.0 797.1 325.4 798.8 325.9 799.2 326.3 801.7 326.8 793.9 327.2 801.9 327.7 797.6 328.1 799.9 328.6 798.8 329.0 797.9 329.5 799.2 329.9 800.2 330.4 799.1 330.8 797.9 331.3 799.6 331.7 799.4 332.2 796.3 332.6 801.7 333.1 799.5 333.5 794.4 334.0 797.3 334.4 802.1 334.9 801.7 335.3 799.1 335.8 795.3 336.2 798.0 336.7 800.4 337.1 799.0 337.6 798.8 338.0 796.8 338.5 799.7 338.9 797.7 339.4 798.6 339.8 798.9 340.3 802.7 340.7 798.1 341.2 798.2 341.6 794.2 342.1 799.5 342.5 798.9 343.0 797.0 343.4 792.5 343.9 795.5 344.3 796.5 344.8 800.2 345.2 797.1 345.7 797.3 346.1 797.2 346.6 798.0 347.0 793.2 347.5 793.7 347.9 793.0 348.4 794.7 348.8 794.6 349.3 795.5 349.7 793.4 350.2 795.6 350.6 793.8 351.1 799.6 351.5 794.5 352.0 800.5 352.4 798.8 352.9 793.4 353.3 797.5 353.8 796.9 354.2 792.8 354.7 797.0 355.1 795.7 355.6 796.6 356.0 794.3 356.5 795.9 356.9 796.8 357.4 795.7 357.8 794.9 358.3 795.8 358.7 794.3 359.2 796.8 359.6 791.3 360.1 799.1 360.5 796.3 361.0 797.1 361.4 797.8 361.9 793.7 362.3 800.4 362.8 793.8 363.2 796.8 363.7 796.4 364.1 798.1 364.6 795.4 365.0 792.5 365.5 795.7 365.9 790.1 366.4 794.3 366.8 793.6 367.3 797.3 367.7 794.0 368.2 793.2 368.6 792.5 369.1 792.2 369.5 792.7 370.0 794.8 370.4 791.1 370.9 793.3 371.3 790.9 371.8 793.4 372.2 794.1 372.7 791.4 373.1 792.8 373.6 794.1 374.0 795.4 374.5 795.8 374.9 793.7 375.4 792.0 375.8 790.8 376.3 795.4 376.7 796.5 377.2 794.5 377.6 796.6 378.1 792.5 378.5 792.5 379.0 796.3 379.4 791.0 379.9 793.9 380.3 793.3 380.8 792.7 381.2 795.6 381.7 790.4 382.1 791.1 382.6 787.8 383.0 789.7 383.5 790.6 383.9 790.8 384.4 791.1 384.8 792.0 385.3 790.1 385.7 787.5 386.2 791.5 386.6 791.9 387.1 788.8 387.5 789.4 388.0 794.2 388.4 792.7 388.9 792.7 389.3 791.8 389.8 790.6 390.2 789.3 390.7 791.3 391.1 789.7 391.6 789.1 392.0 789.8 392.5 789.6 392.9 791.4 393.4 787.8 393.8 794.4 394.3 787.6 394.7 788.7 395.2 791.3 395.6 787.8 396.1 788.5 396.5 789.5 397.0 783.7 397.4 792.0 397.9 787.6 398.3 789.0 398.8 790.4 399.2 790.6 399.7 792.2 400.1 792.0 400.6 791.1 401.0 788.9 401.5 790.9 401.9 786.7 402.4 788.3 402.8 791.1 403.3 789.6 403.7 785.1 404.2 786.4 404.6 786.3 405.1 788.3 405.5 788.9 406.0 783.1 406.4 783.9 406.9 785.6 407.3 784.0 407.8 785.7 408.2 785.6 408.7 786.2 409.1 785.2 409.6 786.5 410.0 787.0 410.5 785.8 410.9 783.1 411.4 788.1 411.8 786.0 412.3 786.5 412.7 786.0 413.2 782.5 413.6 786.7 414.1 784.2 414.5 783.0 415.0 787.8 415.4 784.5 415.9 785.4 416.3 786.4 416.8 787.6 417.2 780.6 417.7 782.5 418.1 785.1 418.6 782.2 419.0 776.9 419.5 783.5 419.9 783.5 420.4 784.5 420.8 783.2 421.3 781.8 421.7 783.0 422.2 782.4 422.6 781.3 423.1 782.7 423.5 782.8 424.0 780.0 424.4 784.0 424.9 783.4 425.3 783.2 425.8 776.1 426.2 781.6 426.7 780.9 427.1 779.0 427.6 781.9 428.0 777.5 428.5 782.6 428.9 780.6 429.4 778.5 429.8 782.0 430.3 779.8 430.7 779.3 431.2 775.7 431.6 779.1 432.1 780.6 432.5 779.7 433.0 774.8 433.4 779.9 433.9 780.1 434.3 778.5 434.8 775.9 435.2 773.5 435.7 774.5 436.1 775.0 436.6 776.6 437.0 777.0 437.5 774.3 437.9 772.4 438.4 774.7 438.8 772.8 439.3 777.9 439.7 772.6 440.2 775.8 440.6 776.3 441.1 772.5 441.5 776.2 442.0 773.6 442.4 772.0 442.9 768.5 443.3 772.5 443.8 774.7 444.2 768.5 444.7 773.2 445.1 771.4 445.6 769.9 446.0 771.0 446.5 771.0 446.9 770.8 447.4 772.4 447.8 768.9 448.3 774.7 448.7 772.5 449.2 769.5 449.6 766.8 450.1 770.6 450.5 769.8 451.0 772.0 451.4 772.0 451.9 774.3 452.3 770.2 452.8 772.0 453.2 769.5 453.7 769.5 454.1 773.3 454.6 769.9 455.0 769.9 455.5 769.3 455.9 770.6 456.4 771.0 456.8 769.5 457.3 767.3 457.7 770.1 458.2 767.6 458.6 768.4 459.1 769.3 459.5 769.1 460.0 763.7 460.4 771.5 460.9 769.5 461.3 771.5 461.8 772.4 462.2 765.1 462.7 765.6 463.1 767.0 463.6 768.1 464.0 764.8 464.5 764.9 464.9 767.4 465.4 763.1 465.8 765.0 466.3 766.4 466.7 763.3 467.2 765.0 467.6 762.8 468.1 759.4 468.5 761.2 469.0 761.5 469.4 760.8 469.9 761.1 470.3 761.5 470.8 760.8 471.2 760.2 471.7 758.5 472.1 758.5 472.6 757.8 473.0 757.0 473.5 760.6 473.9 753.5 474.4 757.4 474.8 753.2 475.3 755.0 475.7 757.5 476.2 754.9 476.6 758.0 477.1 752.9 477.5 752.4 478.0 753.1 478.4 754.2 478.9 753.3 479.3 753.6 479.8 753.8 480.2 755.8 480.7 753.7 481.1 753.3 481.6 752.5 482.0 751.5 482.5 749.8 482.9 750.4 483.4 752.5 483.8 748.2 484.3 753.3 484.7 750.8 485.2 749.5 485.6 750.3 486.1 752.1 486.5 751.2 487.0 750.6 487.4 753.3 487.9 754.1 488.3 746.2 488.8 750.2 489.2 746.3 489.7 744.6 490.1 745.9 490.6 748.6 491.0 745.4 491.5 744.6 491.9 748.1 492.4 745.8 492.8 744.1 493.3 747.6 493.7 744.4 494.2 741.5 494.6 738.3 495.1 741.2 495.5 741.9 496.0 743.0 496.4 742.2 496.9 740.1 497.3 736.7 497.8 740.5 498.2 738.0 498.7 734.8 499.1 733.7 499.6 736.0 500.0 735.5 500.5 735.7 500.9 730.6 501.4 736.5 501.8 727.8 502.3 730.8 502.7 732.9 503.2 731.5 503.6 726.4 504.1 728.9 504.5 729.4 505.0 727.5 505.4 722.9 505.9 727.7 506.3 719.7 506.8 722.4 507.2 719.0 507.7 719.5 508.1 718.8 508.6 719.6 509.0 714.9 509.5 717.3 509.9 718.8 510.4 715.4 510.8 715.7 511.3 714.6 511.7 705.7 512.2 711.3 512.6 711.4 513.1 711.5 513.5 714.0 514.0 708.1 514.4 706.6 514.9 705.6 515.3 703.2 515.8 699.3 516.2 706.2 516.7 703.4 517.1 696.8 517.6 700.1 518.0 704.3 518.5 699.1 518.9 698.2 519.4 696.5 519.8 693.3 520.3 691.4 520.7 691.2 521.2 692.4 521.6 690.5 522.1 691.7 522.5 693.1 523.0 689.5 523.4 689.1 523.9 685.4 524.3 682.3 524.8 689.3 525.2 685.1 525.7 685.3 526.1 680.8 526.6 677.0 527.0 683.2 527.5 674.4 527.9 678.3 528.4 676.7 528.8 677.8 529.3 678.6 529.7 678.0 530.2 670.7 530.6 677.4 531.1 670.1 531.5 676.8 532.0 672.7 532.4 670.6 532.9 671.6 533.3 669.3 533.8 671.9 534.2 673.6 534.7 672.8 535.1 670.5 535.6 672.4 536.0 670.5 536.5 673.8 536.9 669.4 537.4 666.3 537.8 666.5 538.3 664.9 538.7 665.6 539.2 665.5 539.6 667.1 540.1 667.1 540.5 665.1 541.0 665.8 541.4 662.9 541.9 663.2 542.3 658.5 542.8 662.4 543.2 662.9 543.7 670.1 544.1 660.7 544.6 664.0 545.0 662.9 545.5 659.9 545.9 664.1 546.4 663.4 546.8 659.8 547.3 657.7 547.7 663.0 548.2 659.7 548.6 664.6 549.1 662.4 549.5 664.4 550.0 662.6 550.4 667.2 550.9 665.4 551.3 667.6 551.8 664.6 552.2 662.3 552.7 661.7 553.1 664.2 553.6 666.5 554.0 664.6 554.5 672.3 554.9 666.6 555.4 668.1 555.8 667.5 556.3 664.5 556.7 670.3 557.2 669.6 557.6 670.5 558.1 666.6 558.5 669.3 559.0 669.7 559.4 673.1 559.9 667.7 560.3 673.2 560.8 675.3 561.2 673.3 561.7 672.0 562.1 677.8 562.6 676.1 563.0 678.9 563.5 678.9 563.9 680.4 564.4 678.2 564.8 674.4 565.3 681.5 565.7 679.2 566.2 682.8 566.6 680.8 567.1 686.5 567.5 682.9 568.0 686.1 568.4 687.6 568.9 685.6 569.3 687.4 569.8 687.5 570.2 686.3 570.7 692.7 571.1 688.1 571.6 687.5 572.0 690.9 572.5 693.3 572.9 694.0 573.4 694.0 573.8 694.6 574.3 691.5 574.7 698.6 575.2 701.8 575.6 696.8 576.1 694.9 576.5 701.1 577.0 699.3 577.4 690.8 577.9 698.2 578.3 696.6 578.8 697.2 579.2 704.3 579.7 702.0 580.1 699.3 580.6 699.7 581.0 703.3 581.5 697.3 581.9 701.5 582.4 698.5 582.8 702.1 583.3 700.9 583.7 698.9 584.2 703.3 584.6 702.3 585.1 705.5 585.5 700.7 586.0 702.1 586.4 700.4 586.9 704.9 587.3 700.5 587.8 702.3 588.2 705.4 588.7 703.7 589.1 703.1 589.6 703.1 590.0 703.3 590.5 704.0 590.9 701.8 591.4 697.9 591.8 705.5 592.3 700.0 592.7 706.6 593.2 702.9 593.6 709.4 594.1 704.7 594.5 702.7 595.0 703.6 595.4 698.0 595.9 701.3 596.3 699.7 596.8 698.9 597.2 695.0 597.7 694.2 598.1 700.9 598.6 698.5 599.0 696.9 599.5 697.3 599.9 695.6 600.4 695.6 600.8 701.0 601.3 695.6 601.7 697.4 602.2 693.9 602.6 691.1 603.1 693.5 603.5 695.5 604.0 692.0 604.4 693.5 604.9 693.0 605.3 696.2 605.8 695.8 606.2 696.3 606.7 691.8 607.1 694.3 607.6 696.4 608.0 693.7 608.5 693.0 608.9 691.2 609.4 694.8 609.8 693.0 610.3 694.6 610.7 691.6 611.2 696.4 611.6 691.0 612.1 687.6 612.5 690.3 613.0 690.2 613.4 691.0 613.9 685.6 614.3 684.0 614.8 683.0 615.2 680.9 615.7 675.0 616.1 679.7 616.6 679.0 617.0 672.3 617.5 669.8 617.9 669.8 618.4 666.3 618.8 668.3 619.3 663.1 619.7 664.3 620.2 658.2 620.6 652.3 621.1 652.3 621.5 651.8 622.0 654.2 622.4 653.0 622.9 649.1 623.3 647.0 623.8 639.0 624.2 645.2 624.7 637.6 625.1 642.3 625.6 643.7 626.0 636.8 626.5 637.4 626.9 636.5 627.4 631.0 627.8 630.7 628.3 628.9 628.7 631.0 629.2 634.2 629.6 632.0 630.1 634.2 630.5 629.9 631.0 627.5 631.4 631.1 631.9 630.9 632.3 627.5 632.8 633.9 633.2 629.3 633.7 630.4 634.1 633.3 634.6 630.8 635.0 635.9 635.5 636.2 635.9 637.3 636.4 637.3 636.8 637.2 637.3 637.7 637.7 641.5 638.2 645.3 638.6 645.2 639.1 645.6 639.5 648.8 640.0 651.3 640.4 646.9 640.9 651.8 641.3 657.0 641.8 654.4 642.2 657.0 642.7 661.9 643.1 662.1 643.6 667.8 644.0 666.5 644.5 670.9 644.9 677.8 645.4 676.8 645.8 673.4 646.3 676.7 646.7 679.4 647.2 684.3 647.6 683.9 648.1 691.2 648.5 696.6 649.0 698.9 649.4 696.1 649.9 699.8 650.3 702.2 650.8 703.3 651.2 711.2 651.7 707.9 652.1 709.0 652.6 714.2 653.0 716.0 653.5 720.6 653.9 722.5 654.4 720.5 654.8 718.2 655.3 726.1 655.7 728.2 656.2 732.1 656.6 726.5 657.1 729.0 657.5 736.5 658.0 738.2 658.4 739.0 658.9 737.5 659.3 741.6 659.8 738.8 660.2 738.4 660.7 741.8 661.1 742.1 661.6 745.4 662.0 746.8 662.5 741.5 662.9 746.6 663.4 747.9 663.8 745.0 664.3 747.9 664.7 749.4 665.2 751.0 665.6 749.1 666.1 750.5 666.5 750.3 667.0 754.1 667.4 753.5 667.9 753.7 668.3 757.1 668.8 756.1 669.2 754.2 669.7 760.2 670.1 760.5 670.6 760.0 671.0 757.5 671.5 762.5 671.9 759.4 672.4 757.2 672.8 761.3 673.3 765.6 673.7 761.3 674.2 765.5 674.6 765.5 675.1 763.2 675.5 762.4 676.0 763.2 676.4 764.5 676.9 762.3 677.3 764.2 677.8 764.8 678.2 763.0 678.7 765.3 679.1 765.1 679.6 763.5 680.0 763.9 680.5 764.6 680.9 764.3 681.4 764.3 681.8 762.8 682.3 765.3 682.7 766.7 683.2 766.7 683.6 763.9 684.1 767.0 684.5 767.3 685.0 764.5 685.4 767.6 685.9 766.5 686.3 766.4 686.8 767.9 687.2 767.2 687.7 763.4 688.1 768.6 688.6 766.2 689.0 768.5 689.5 770.2 689.9 768.6 690.4 768.3 690.8 769.7 691.3 770.5 691.7 768.0 692.2 768.5 692.6 770.8 693.1 773.1 693.5 769.9 694.0 771.6 694.4 768.4 694.9 772.1 695.3 769.8 695.8 772.4 696.2 769.4 696.7 768.9 697.1 764.0 697.6 768.8 698.0 769.4 698.5 769.2 698.9 769.3 699.4 766.5 699.8 766.3 700.3 769.0 700.7 767.2 701.2 768.1 701.6 771.6 702.1 767.6 702.5 768.9 703.0 773.4 703.4 769.7 703.9 768.1 704.3 770.8 704.8 770.8 705.2 770.8 705.7 767.3 706.1 771.2 706.6 771.4 707.0 774.8 707.5 772.0 707.9 769.8 708.4 771.3 708.8 772.1 709.3 770.5 709.7 770.8 710.2 773.7 710.6 772.1 711.1 772.3 711.5 769.6 712.0 772.6 712.4 768.3 712.9 774.8 713.3 771.7 713.8 774.2 714.2 775.9 714.7 768.5 715.1 775.9 715.6 774.2 716.0 776.2 716.5 773.3 716.9 772.7 717.4 776.6 717.8 774.9 718.3 774.2 718.7 771.9 719.2 776.8 719.6 773.5 720.1 773.8 720.5 772.9 721.0 774.2 721.4 775.4 721.9 774.1 722.3 774.0 722.8 773.1 723.2 777.0 723.7 777.3 724.1 773.5 724.6 772.3 725.0 774.5 725.5 770.8 725.9 774.4 726.4 774.4 726.8 774.2 727.3 777.0 727.7 777.5 728.2 774.8 728.6 773.3 729.1 774.4 729.5 776.3 730.0 771.8 730.4 772.7 730.9 773.6 731.3 770.9 731.8 771.9 732.2 777.2 732.7 771.5 733.1 775.5 733.6 772.2 734.0 775.6 734.5 774.2 734.9 775.3 735.4 770.8 735.8 774.1 736.3 772.4 736.7 775.1 737.2 775.1 737.6 774.2 738.1 773.8 738.5 774.1 739.0 774.8 739.4 773.5 739.9 773.8 740.3 773.5 740.8 772.9 741.2 777.1 741.7 772.7 742.1 777.9 742.6 776.9 743.0 772.4 743.5 772.3 743.9 776.0 744.4 774.0 744.8 772.6 745.3 778.2 745.7 777.1 746.2 776.1 746.6 776.2 747.1 779.5 747.5 776.0 748.0 780.1 748.4 780.8 748.9 776.3 749.3 785.0 749.8 780.5 750.2 775.9 750.7 778.2 751.1 779.5 751.6 775.6 752.0 778.4 752.5 778.0 752.9 776.8 753.4 780.8 753.8 777.6 754.3 782.3 754.7 779.3 755.2 776.5 755.6 778.4 756.1 774.3 756.5 779.4 757.0 779.1 757.4 775.5 757.9 777.0 758.3 778.8 758.8 778.1 759.2 776.1 759.7 780.3 760.1 780.9 760.6 775.6 761.0 781.6 761.5 775.0 761.9 780.7 762.4 778.2 762.8 778.7 763.3 780.4 763.7 778.0 764.2 780.3 764.6 784.0 765.1 781.8 765.5 784.0 766.0 782.9 766.4 778.3 766.9 785.0 767.3 783.3 767.8 783.0 768.2 781.1 768.7 780.8 769.1 779.8 769.6 781.5 770.0 782.0 770.5 781.4 770.9 783.5 771.4 777.7 771.8 779.8 772.3 779.5 772.7 781.4 773.2 779.8 773.6 779.6 774.1 780.4 774.5 779.2 775.0 779.4 775.4 782.0 775.9 779.5 776.3 778.0 776.8 780.8 777.2 781.2 777.7 780.8 778.1 777.1 778.6 781.4 779.0 779.6 779.5 779.8 779.9 779.7 780.4 780.3 780.8 780.4 781.3 782.2 781.7 779.9 782.2 779.2 782.6 780.6 783.1 779.2 783.5 781.5 784.0 779.8 784.4 781.0 784.9 778.6 785.3 781.5 785.8 780.9 786.2 778.1 786.7 779.1 787.1 779.9 787.6 777.2 788.0 777.7 788.5 780.6 788.9 780.6 789.4 782.1 789.8 777.1 790.3 778.8 790.7 775.6 791.2 782.8 791.6 777.0 792.1 786.0 792.5 783.3 793.0 782.4 793.4 778.1 793.9 784.1 794.3 780.7 794.8 777.9 795.2 780.3 795.7 780.9 796.1 780.8 796.6 775.4 797.0 782.8 797.5 776.1 797.9 778.6 798.4 784.1 798.8 779.5 799.3 778.6 799.7 777.5 800.2 779.7 800.6 781.2 801.1 776.1 801.5 779.5 802.0 778.1 802.4 778.1 802.9 775.0 803.3 779.6 803.8 781.0 804.2 779.1 804.7 781.5 805.1 779.9 805.6 782.0 806.0 780.1 806.5 779.2 806.9 779.0 807.4 780.2 807.8 780.6 808.3 778.6 808.7 779.8 809.2 777.5 809.6 778.2 810.1 781.3 810.5 780.7 811.0 781.7 811.4 780.2 811.9 780.4 812.3 783.3 812.8 778.2 813.2 780.3 813.7 781.2 814.1 783.6 814.6 780.8 815.0 779.5 815.5 777.8 815.9 779.5 816.4 780.1 816.8 779.8 817.3 780.8 817.7 780.9 818.2 779.0 818.6 778.2 819.1 779.3 819.5 780.7 820.0 783.0 820.4 776.8 820.9 781.9 821.3 779.4 821.8 782.0 822.2 783.5 822.7 780.9 823.1 777.8 823.6 779.1 824.0 780.5 824.5 779.1 824.9 779.5 825.4 778.0 825.8 778.9 826.3 778.0 826.7 780.6 827.2 779.4 827.6 780.1 828.1 775.5 828.5 777.6 829.0 777.0 829.4 777.5 829.9 776.6 830.3 776.9 830.8 781.2 831.2 777.7 831.7 775.9 832.1 777.7 832.6 782.6 833.0 779.7 833.5 776.7 833.9 778.0 834.4 778.4 834.8 778.7 835.3 775.2 835.7 777.0 836.2 778.6 836.6 775.8 837.1 778.8 837.5 779.4 838.0 779.2 838.4 781.6 838.9 779.4 839.3 780.3 839.8 781.3 840.2 782.0 840.7 780.4 841.1 778.9 841.6 781.5 842.0 782.1 842.5 780.8 842.9 781.6 843.4 783.6 843.8 779.7 844.3 779.3 844.7 778.6 845.2 781.2 845.6 782.3 846.1 779.5 846.5 783.7 847.0 779.1 847.4 780.6 847.9 779.7 848.3 782.4 848.8 778.6 849.2 782.7 849.7 779.2 850.1 777.0 850.6 778.4 851.0 779.1 851.5 782.5 851.9 778.4 852.4 779.2 852.8 783.1 853.3 779.5 853.7 778.0 854.2 777.7 854.6 776.2 855.1 779.8 855.5 781.4 856.0 778.4 856.4 777.2 856.9 779.7 857.3 779.3 857.8 779.1 858.2 780.2 858.7 779.5 859.1 778.8 859.6 781.4 860.0 776.0 860.5 777.4 860.9 779.0 861.4 777.0 861.8 782.3 862.3 775.4 862.7 780.9 863.2 780.7 863.6 780.3 864.1 780.5 864.5 778.7 865.0 778.4 865.4 782.5 865.9 779.5 866.3 777.0 866.8 777.4 867.2 776.8 867.7 780.1 868.1 781.6 868.6 778.7 869.0 779.5 869.5 778.1 869.9 780.6 870.4 780.4 870.8 780.4 871.3 782.0 871.7 776.2 872.2 780.0 872.6 775.5 873.1 779.8 873.5 779.9 874.0 779.7 874.4 779.8 874.9 778.0 875.3 777.0 875.8 777.0 876.2 776.8 876.7 779.1 877.1 777.2 877.6 778.2 878.0 778.0 878.5 775.8 878.9 776.6 879.4 778.9 879.8 777.2 880.3 778.0 880.7 776.0 881.2 777.2 881.6 774.1 882.1 775.4 882.5 779.2 883.0 777.8 883.4 776.7 883.9 776.9 884.3 774.1 884.8 777.3 885.2 774.2 885.7 775.1 886.1 777.7 886.6 774.9 887.0 775.3 887.5 776.0 887.9 776.3 888.4 778.6 888.8 772.8 889.3 775.2 889.7 775.3 890.2 775.0 890.6 775.1 891.1 774.2 891.5 775.1 892.0 776.9 892.4 778.0 892.9 776.3 893.3 778.2 893.8 775.8 894.2 772.6 894.7 777.1 895.1 772.0 895.6 775.8 896.0 776.0 896.5 774.0 896.9 775.9 897.4 775.4 897.8 776.9 898.3 776.2 898.7 778.0 899.2 776.3 899.6 778.3 900.1 777.2 900.5 777.6 901.0 777.4 901.4 776.2 901.9 779.0 902.3 777.9 902.8 772.4 903.2 774.2 903.7 779.4 904.1 775.6 904.6 781.2 905.0 776.7 905.5 776.7 905.9 775.0 906.4 775.5 906.8 776.2 907.3 777.7 907.7 776.3 908.2 776.1 908.6 774.4 909.1 775.5 909.5 775.6 910.0 776.1 910.4 775.0 910.9 774.3 911.3 775.7 911.8 771.6 912.2 773.2 912.7 774.4 913.1 776.4 913.6 774.2 914.0 773.3 914.5 776.4 914.9 774.7 915.4 777.2 915.8 774.1 916.3 773.0 916.7 773.5 917.2 777.3 917.6 776.8 918.1 774.1 918.5 775.7 919.0 771.1 919.4 776.0 919.9 774.2 920.3 773.4 920.8 773.6 921.2 774.0 921.7 772.6 922.1 772.7 922.6 771.1 923.0 776.2 923.5 771.6 923.9 772.9 924.4 775.1 924.8 775.4 925.3 775.8 925.7 772.0 926.2 772.2 926.6 772.8 927.1 769.4 927.5 774.4 928.0 769.6 928.4 772.3 928.9 774.1 929.3 773.8 929.8 771.3 930.2 773.7 930.7 773.9 931.1 768.6 931.6 771.2 932.0 772.8 932.5 772.4 932.9 771.2 933.4 771.3 933.8 775.9 934.3 770.9 934.7 773.5 935.2 769.3 935.6 772.5 936.1 773.5 936.5 771.8 937.0 770.3 937.4 774.9 937.9 771.0 938.3 773.2 938.8 768.5 939.2 774.3 939.7 767.3 940.1 769.2 940.6 769.7 941.0 770.7 941.5 771.1 941.9 773.7 942.4 774.5 942.8 774.1 943.3 772.1 943.7 770.9 944.2 766.5 944.6 771.5 945.1 769.0 945.5 771.2 946.0 768.0 946.4 768.2 946.9 768.2 947.3 770.7 947.8 769.7 948.2 767.4 948.7 766.0 949.1 768.2 949.6 768.0 950.0 768.2 950.5 769.3 950.9 770.5 951.4 770.7 951.8 767.9 952.3 767.7 952.7 772.0 953.2 768.7 953.6 770.4 954.1 769.4 954.5 769.7 955.0 771.9 955.4 768.3 955.9 770.8 956.3 769.6 956.8 768.2 957.2 767.4 957.7 767.2 958.1 770.2 958.6 769.8 959.0 766.2 959.5 768.4 959.9 764.1 960.4 767.6 960.8 771.3 961.3 762.2 961.7 767.8 962.2 766.0 962.6 767.2 963.1 765.0 963.5 767.2 964.0 762.4 964.4 766.2 964.9 766.0 965.3 766.3 965.8 770.2 966.2 764.1 966.7 765.0 967.1 763.7 967.6 767.3 968.0 766.4 968.5 764.2 968.9 766.3 969.4 767.0 969.8 769.3 970.3 768.0 970.7 766.7 971.2 765.0 971.6 762.3 972.1 765.2 972.5 768.4 973.0 765.7 973.4 764.4 973.9 766.4 974.3 767.2 974.8 770.9 975.2 763.5 975.7 764.6 976.1 763.0 976.6 763.6 977.0 766.6 977.5 764.5 977.9 761.8 978.4 767.1 978.8 767.8 979.3 765.9 979.7 762.3 980.2 762.1 980.6 766.5 981.1 761.9 981.5 762.7 982.0 760.8 982.4 767.2 982.9 762.2 983.3 763.1 983.8 762.0 984.2 762.1 984.7 761.3 985.1 765.7 985.6 762.4 986.0 766.6 986.5 761.5 986.9 765.0 987.4 766.0 987.8 762.0 988.3 764.7 988.7 763.2 989.2 762.1 989.6 763.4 990.1 760.5 990.5 763.4 991.0 760.5 991.4 764.9 991.9 766.4 992.3 766.0 992.8 761.7 993.2 762.6 993.7 766.6 994.1 765.0 994.6 763.6 995.0 758.0 995.5 761.4 995.9 766.2 996.4 762.6 996.8 760.7 997.3 761.5 997.7 765.9 998.2 763.6 998.6 758.4 999.1 758.6 999.5 760.8 1000.0 761.5 1000.4 759.1 1000.9 759.4 1001.3 755.4 1001.8 759.2 1002.2 761.6 1002.7 761.6 1003.1 757.5 1003.6 761.9 1004.0 758.6 1004.5 757.4 1004.9 761.1 1005.4 756.7 1005.8 758.8 1006.3 757.9 1006.7 759.1 1007.2 759.6 1007.6 758.1 1008.1 757.1 1008.5 757.6 1009.0 753.7 1009.4 758.1 1009.9 762.3 1010.3 758.9 1010.8 760.4 1011.2 758.1 1011.7 758.1 1012.1 759.0 1012.6 759.4 1013.0 759.4 1013.5 756.4 1013.9 758.1 1014.4 755.0 1014.8 760.0 1015.3 757.7 1015.7 757.1 1016.2 755.0 1016.6 758.4 1017.1 759.3 1017.5 758.2 1018.0 759.3 1018.4 755.4 1018.9 758.7 1019.3 756.7 1019.8 751.2 1020.2 757.0 1020.7 754.3 1021.1 755.8 1021.6 754.6 1022.0 754.0 1022.5 757.6 1022.9 754.2 1023.4 755.4 1023.8 756.3 1024.3 753.9 1024.7 752.0 1025.2 754.5 1025.6 754.0 1026.1 752.3 1026.5 754.4 1027.0 756.7 1027.4 756.1 1027.9 757.4 1028.3 757.2 1028.8 754.9 1029.2 754.6 1029.7 752.5 1030.1 757.2 1030.6 753.8 1031.0 756.2 1031.5 758.4 1031.9 755.3 1032.4 752.1 1032.8 752.9 1033.3 754.3 1033.7 757.6 1034.2 754.2 1034.6 754.5 1035.1 752.5 1035.5 755.3 1036.0 754.7 1036.4 756.0 1036.9 752.3 1037.3 755.2 1037.8 750.9 1038.2 752.2 1038.7 752.2 1039.1 752.7 1039.6 753.7 1040.0 747.9 1040.5 752.3 1040.9 751.5 1041.4 749.5 1041.8 751.4 1042.3 752.9 1042.7 751.0 1043.2 751.0 1043.6 753.4 1044.1 750.5 1044.5 754.2 1045.0 752.9 1045.4 753.0 1045.9 753.4 1046.3 754.7 1046.8 750.7 1047.2 754.5 1047.7 750.2 1048.1 752.7 1048.6 753.0 1049.0 751.9 1049.5 749.1 1049.9 748.7 1050.4 748.8 1050.8 750.8 1051.3 751.1 1051.7 751.7 1052.2 747.3 1052.6 752.4 1053.1 752.2 1053.5 750.3 1054.0 749.8 1054.4 751.4 1054.9 752.8 1055.3 752.5 1055.8 752.4 1056.2 746.6 1056.7 752.0 1057.1 748.3 1057.6 750.6 1058.0 747.6 1058.5 749.5 1058.9 747.6 1059.4 748.1 1059.8 752.6 1060.3 746.2 1060.7 750.6 1061.2 748.6 1061.6 746.1 1062.1 750.9 1062.5 748.1 1063.0 746.6 1063.4 748.2 1063.9 745.6 1064.3 750.3 1064.8 743.5 1065.2 745.2 1065.7 741.8 1066.1 746.1 1066.6 747.0 1067.0 747.0 1067.5 748.1 1067.9 744.8 1068.4 743.8 1068.8 746.5 1069.3 743.4 1069.7 745.3 1070.2 743.7" fill="none" stroke="#0000f0" stroke-width="2.6" stroke-linejoin="round"/><path d="M502.0 732.1L503.0 730.5 504.0 728.9 505.0 727.2 506.0 725.5 507.0 723.7 508.0 721.8 509.0 719.9 510.0 718.0 511.0 715.9 512.0 713.7 513.0 711.4 514.0 709.0 515.0 706.5 516.0 704.0 517.0 701.5 518.0 699.0 519.0 696.6 520.0 694.2 521.0 692.0 522.0 690.0 523.0 688.0 524.0 686.1 525.0 684.2 526.0 682.3 527.0 680.5 528.0 678.8 529.0 677.2 530.0 675.7 531.0 674.3 532.0 673.0 533.0 671.8 534.0 670.6 535.0 669.5 536.0 668.5 537.0 667.5 538.0 666.7 539.0 666.0 540.0 665.5 541.0 665.1 542.0 664.7 543.0 664.3 544.0 664.0 545.0 663.8 546.0 663.6 547.0 663.5 548.0 663.5 549.0 663.7 550.0 663.9 551.0 664.3 552.0 664.7 553.0 665.2 554.0 665.8 555.0 666.4 556.0 667.0 557.0 667.8 558.0 668.8 559.0 670.0 560.0 671.4 561.0 672.9 562.0 674.5 563.0 676.2 564.0 677.8 565.0 679.5 566.0 681.0 567.0 682.6 568.0 684.4 569.0 686.3 570.0 688.3 571.0 690.3 572.0 692.3 573.0 694.2 574.0 695.9 575.0 697.4 576.0 698.6 577.0 699.5 578.0 700.0" fill="none" stroke="#e31e24" stroke-width="3.3" stroke-linejoin="round"/><path d="M613.0 688.1L614.0 685.9 615.0 682.8 616.0 679.1 617.0 674.8 618.0 670.4 619.0 666.0 620.0 662.0 621.0 657.9 622.0 653.3 623.0 648.7 624.0 644.3 625.0 640.7 626.0 638.0 627.0 636.0 628.0 634.1 629.0 632.4 630.0 631.0 631.0 630.1 632.0 629.8 633.0 630.2 634.0 631.4 635.0 633.1 636.0 635.2 637.0 637.5 638.0 640.0 639.0 643.0 640.0 646.8 641.0 651.3 642.0 656.3 643.0 661.6 644.0 666.9 645.0 672.0 646.0 677.2 647.0 682.8 648.0 688.5 649.0 694.3 650.0 699.9 651.0 705.2 652.0 710.0 653.0 714.5 654.0 718.9 655.0 723.2 656.0 727.3 657.0 731.2 658.0 734.8 659.0 738.1 660.0 741.0 661.0 743.5" fill="none" stroke="#e31e24" stroke-width="3.3" stroke-linejoin="round"/><path d="M81.5 967.7L82.0 967.6 82.4 958.5 82.9 974.0 83.3 977.7 83.8 972.9 84.2 969.9 84.7 968.9 85.1 976.6 85.6 977.5 86.0 974.2 86.5 966.7 86.9 967.8 87.4 980.0 87.8 972.7 88.3 962.8 88.7 970.3 89.2 964.5 89.6 966.6 90.1 966.8 90.5 965.3 91.0 971.0 91.4 967.7 91.9 964.8 92.3 969.4 92.8 971.2 93.2 958.9 93.7 965.5 94.1 951.5 94.6 965.7 95.0 960.2 95.5 966.6 95.9 966.3 96.4 965.1 96.8 961.6 97.3 964.9 97.7 961.6 98.2 960.5 98.6 968.4 99.1 962.0 99.5 973.3 100.0 971.2 100.4 958.0 100.9 969.1 101.3 962.3 101.8 967.8 102.2 967.7 102.7 957.5 103.1 965.8 103.6 965.4 104.0 971.0 104.5 960.1 104.9 969.0 105.4 959.6 105.8 963.0 106.3 960.1 106.7 971.0 107.2 966.4 107.6 975.3 108.1 966.4 108.5 967.3 109.0 967.2 109.4 960.1 109.9 962.8 110.3 969.7 110.8 961.2 111.2 964.0 111.7 963.0 112.1 966.0 112.6 961.2 113.0 962.1 113.5 963.8 113.9 962.9 114.4 957.9 114.8 966.2 115.3 955.0 115.7 955.0 116.2 954.0 116.6 964.3 117.1 957.0 117.5 953.1 118.0 951.2 118.4 957.6 118.9 948.9 119.3 946.1 119.8 953.3 120.2 942.0 120.7 943.5 121.1 941.8 121.6 936.0 122.0 933.6 122.5 935.6 122.9 921.0 123.4 911.4 123.8 902.1 124.3 903.2 124.7 895.2 125.2 890.7 125.6 879.6 126.1 872.1 126.5 863.9 127.0 858.4 127.4 855.9 127.9 848.3 128.3 846.8 128.8 853.0 129.2 844.6 129.7 834.4 130.1 851.8 130.6 835.4 131.0 844.6 131.5 858.3 131.9 859.4 132.4 862.4 132.8 869.0 133.3 874.2 133.7 886.3 134.2 898.3 134.6 898.3 135.1 908.4 135.5 921.5 136.0 911.8 136.4 923.8 136.9 925.3 137.3 925.3 137.8 928.5 138.2 936.0 138.7 940.3 139.1 937.1 139.6 941.2 140.0 945.3 140.5 943.7 140.9 946.5 141.4 943.9 141.8 943.0 142.3 948.2 142.7 940.6 143.2 936.3 143.6 937.2 144.1 927.3 144.5 928.2 145.0 932.0 145.4 929.7 145.9 932.9 146.3 924.4 146.8 916.7 147.2 949.2 147.7 929.4 148.1 919.6 148.6 932.5 149.0 927.1 149.5 919.4 149.9 927.8 150.4 929.0 150.8 940.9 151.3 931.0 151.7 935.4 152.2 937.1 152.6 938.8 153.1 938.8 153.5 947.3 154.0 954.8 154.4 953.9 154.9 952.2 155.3 954.9 155.8 964.8 156.2 964.3 156.7 968.1 157.1 966.0 157.6 995.4 158.0 984.1 158.5 976.9 158.9 987.7 159.4 991.0 159.8 973.3 160.3 982.7 160.7 984.0 161.2 989.6 161.6 986.4 162.1 986.4 162.5 987.8 163.0 997.6 163.4 999.6 163.9 986.9 164.3 985.4 164.8 1003.5 165.2 985.9 165.7 988.2 166.1 991.5 166.6 993.9 167.0 996.8 167.5 993.8 167.9 987.7 168.4 994.5 168.8 993.2 169.3 1001.2 169.7 991.9 170.2 985.4 170.6 986.9 171.1 999.2 171.5 989.6 172.0 982.1 172.4 989.7 172.9 992.8 173.3 998.8 173.8 988.1 174.2 996.4 174.7 997.1 175.1 989.6 175.6 992.0 176.0 1001.3 176.5 1000.8 176.9 996.2 177.4 993.3 177.8 996.9 178.3 990.3 178.7 990.3 179.2 986.4 179.6 990.4 180.1 989.9 180.5 1003.8 181.0 989.2 181.4 996.4 181.9 996.6 182.3 989.1 182.8 995.7 183.2 979.2 183.7 990.3 184.1 993.9 184.6 977.9 185.0 983.9 185.5 994.7 185.9 988.3 186.4 984.2 186.8 987.8 187.3 987.0 187.7 993.4 188.2 992.2 188.6 988.7 189.1 986.9 189.5 998.3 190.0 996.8 190.4 992.0 190.9 993.3 191.3 989.3 191.8 983.5 192.2 986.0 192.7 992.4 193.1 1000.3 193.6 984.0 194.0 979.1 194.5 980.2 194.9 1001.5 195.4 985.3 195.8 985.2 196.3 988.1 196.7 988.2 197.2 991.5 197.6 980.1 198.1 993.8 198.5 991.5 199.0 986.3 199.4 988.0 199.9 991.0 200.3 987.4 200.8 992.0 201.2 995.2 201.7 985.8 202.1 981.2 202.6 995.8 203.0 976.9 203.5 993.4 203.9 983.4 204.4 998.4 204.8 993.5 205.3 989.3 205.7 988.2 206.2 990.6 206.6 989.3 207.1 988.9 207.5 989.6 208.0 996.7 208.4 990.5 208.9 991.3 209.3 991.5 209.8 979.6 210.2 993.9 210.7 989.7 211.1 990.0 211.6 991.7 212.0 986.6 212.5 995.5 212.9 987.9 213.4 986.9 213.8 987.1 214.3 992.2 214.7 995.1 215.2 988.6 215.6 984.2 216.1 1003.3 216.5 986.5 217.0 997.6 217.4 1018.0 217.9 988.2 218.3 994.5 218.8 993.5 219.2 995.3 219.7 989.7 220.1 995.0 220.6 1000.3 221.0 988.8 221.5 984.0 221.9 984.3 222.4 982.5 222.8 986.0 223.3 985.4 223.7 982.3 224.2 991.3 224.6 975.7 225.1 981.7 225.5 997.8 226.0 992.6 226.4 989.7 226.9 989.0 227.3 995.0 227.8 988.5 228.2 983.7 228.7 978.9 229.1 984.1 229.6 980.4 230.0 980.1 230.5 979.7 230.9 982.6 231.4 980.9 231.8 976.9 232.3 975.6 232.7 981.1 233.2 991.0 233.6 982.0 234.1 987.8 234.5 989.4 235.0 988.7 235.4 993.6 235.9 976.1 236.3 981.9 236.8 981.8 237.2 976.4 237.7 982.1 238.1 978.6 238.6 976.9 239.0 986.2 239.5 985.1 239.9 981.9 240.4 980.4 240.8 982.2 241.3 982.5 241.7 982.0 242.2 983.2 242.6 980.8 243.1 984.3 243.5 984.4 244.0 982.9 244.4 977.3 244.9 977.0 245.3 981.5 245.8 977.8 246.2 977.9 246.7 965.3 247.1 963.5 247.6 977.7 248.0 976.9 248.5 981.2 248.9 977.0 249.4 973.6 249.8 971.6 250.3 963.5 250.7 973.7 251.2 965.3 251.6 969.7 252.1 967.1 252.5 966.5 253.0 968.6 253.4 961.0 253.9 960.8 254.3 957.9 254.8 959.8 255.2 969.5 255.7 959.4 256.1 967.0 256.6 964.7 257.0 965.0 257.5 965.7 257.9 957.2 258.4 964.4 258.8 970.8 259.3 960.0 259.7 974.2 260.2 961.0 260.6 966.4 261.1 960.0 261.5 973.7 262.0 964.5 262.4 959.3 262.9 976.2 263.3 972.2 263.8 971.1 264.2 971.9 264.7 968.2 265.1 969.5 265.6 974.9 266.0 976.6 266.5 977.5 266.9 974.7 267.4 972.2 267.8 974.3 268.3 981.5 268.7 983.9 269.2 975.9 269.6 976.1 270.1 985.3 270.5 983.5 271.0 984.1 271.4 975.0 271.9 980.3 272.3 980.2 272.8 984.3 273.2 975.6 273.7 990.5 274.1 986.2 274.6 987.2 275.0 986.1 275.5 985.6 275.9 992.6 276.4 978.7 276.8 988.1 277.3 990.4 277.7 983.9 278.2 991.6 278.6 986.4 279.1 994.4 279.5 991.4 280.0 990.3 280.4 999.4 280.9 994.0 281.3 996.6 281.8 984.6 282.2 987.4 282.7 994.7 283.1 995.1 283.6 990.3 284.0 989.2 284.5 985.0 284.9 991.0 285.4 984.2 285.8 991.2 286.3 987.0 286.7 986.1 287.2 989.4 287.6 997.9 288.1 984.0 288.5 986.0 289.0 994.3 289.4 987.0 289.9 997.8 290.3 990.3 290.8 989.7 291.2 991.1 291.7 997.9 292.1 995.8 292.6 1002.5 293.0 990.6 293.5 981.6 293.9 984.9 294.4 996.5 294.8 993.2 295.3 991.7 295.7 992.3 296.2 986.6 296.6 991.0 297.1 985.0 297.5 991.5 298.0 986.3 298.4 998.7 298.9 992.6 299.3 989.1 299.8 994.2 300.2 993.6 300.7 993.4 301.1 998.5 301.6 985.1 302.0 984.7 302.5 995.8 302.9 997.5 303.4 1002.9 303.8 996.8 304.3 997.2 304.7 993.8 305.2 996.8 305.6 996.3 306.1 987.4 306.5 988.5 307.0 992.3 307.4 994.2 307.9 978.4 308.3 993.1 308.8 993.9 309.2 992.0 309.7 994.3 310.1 995.3 310.6 988.3 311.0 995.5 311.5 992.4 311.9 989.2 312.4 995.1 312.8 1001.6 313.3 987.4 313.7 986.6 314.2 982.4 314.6 1004.6 315.1 993.7 315.5 994.6 316.0 990.8 316.4 989.9 316.9 984.3 317.3 994.8 317.8 994.9 318.2 983.6 318.7 987.8 319.1 989.0 319.6 992.2 320.0 993.3 320.5 997.4 320.9 998.3 321.4 996.6 321.8 997.7 322.3 985.2 322.7 988.0 323.2 996.2 323.6 991.8 324.1 990.4 324.5 980.5 325.0 981.1 325.4 993.9 325.9 999.8 326.3 989.1 326.8 988.8 327.2 982.6 327.7 999.3 328.1 989.3 328.6 999.8 329.0 992.2 329.5 991.0 329.9 986.6 330.4 997.9 330.8 1000.2 331.3 988.7 331.7 992.9 332.2 991.8 332.6 988.3 333.1 978.8 333.5 989.1 334.0 993.8 334.4 983.7 334.9 986.7 335.3 974.6 335.8 996.9 336.2 992.9 336.7 990.5 337.1 988.7 337.6 986.6 338.0 989.1 338.5 987.7 338.9 997.0 339.4 988.7 339.8 989.4 340.3 996.4 340.7 981.8 341.2 990.4 341.6 986.4 342.1 995.3 342.5 978.5 343.0 993.5 343.4 986.0 343.9 987.5 344.3 993.7 344.8 986.3 345.2 991.9 345.7 991.5 346.1 995.9 346.6 996.9 347.0 987.7 347.5 996.4 347.9 991.4 348.4 987.8 348.8 990.7 349.3 995.5 349.7 985.7 350.2 992.9 350.6 997.4 351.1 990.2 351.5 1001.6 352.0 988.1 352.4 992.8 352.9 989.4 353.3 988.8 353.8 986.4 354.2 989.3 354.7 991.7 355.1 988.1 355.6 996.4 356.0 999.5 356.5 984.5 356.9 996.1 357.4 992.9 357.8 993.1 358.3 1007.5 358.7 997.6 359.2 993.2 359.6 992.3 360.1 980.7 360.5 994.9 361.0 987.2 361.4 991.5 361.9 990.8 362.3 994.8 362.8 999.8 363.2 994.4 363.7 995.5 364.1 987.8 364.6 990.9 365.0 992.2 365.5 981.1 365.9 990.9 366.4 984.0 366.8 981.0 367.3 994.9 367.7 996.9 368.2 982.7 368.6 982.8 369.1 1000.7 369.5 985.6 370.0 976.2 370.4 981.4 370.9 994.0 371.3 987.2 371.8 987.5 372.2 989.8 372.7 987.1 373.1 982.4 373.6 976.4 374.0 986.7 374.5 979.4 374.9 985.0 375.4 993.9 375.8 988.7 376.3 986.6 376.7 986.8 377.2 990.2 377.6 991.2 378.1 982.6 378.5 987.3 379.0 994.6 379.4 989.5 379.9 981.6 380.3 981.8 380.8 971.5 381.2 980.5 381.7 991.9 382.1 983.4 382.6 979.2 383.0 980.3 383.5 982.3 383.9 982.2 384.4 980.8 384.8 978.6 385.3 988.7 385.7 989.8 386.2 979.4 386.6 979.6 387.1 988.1 387.5 975.1 388.0 979.4 388.4 980.4 388.9 983.1 389.3 981.0 389.8 978.0 390.2 983.8 390.7 976.4 391.1 973.7 391.6 972.2 392.0 985.7 392.5 973.4 392.9 983.9 393.4 984.8 393.8 985.2 394.3 980.1 394.7 978.0 395.2 980.7 395.6 959.6 396.1 973.1 396.5 985.1 397.0 966.4 397.4 986.8 397.9 980.2 398.3 975.0 398.8 979.1 399.2 982.7 399.7 969.8 400.1 971.9 400.6 971.2 401.0 977.1 401.5 978.3 401.9 976.4 402.4 972.1 402.8 973.7 403.3 982.0 403.7 981.6 404.2 976.6 404.6 969.3 405.1 978.5 405.5 976.5 406.0 975.9 406.4 986.8 406.9 977.8 407.3 961.8 407.8 968.0 408.2 979.0 408.7 972.8 409.1 975.6 409.6 970.3 410.0 965.8 410.5 961.5 410.9 977.6 411.4 971.6 411.8 964.3 412.3 968.2 412.7 967.2 413.2 970.6 413.6 970.9 414.1 965.6 414.5 971.4 415.0 968.4 415.4 971.1 415.9 971.1 416.3 969.2 416.8 971.6 417.2 978.2 417.7 966.1 418.1 974.7 418.6 973.1 419.0 967.3 419.5 974.5 419.9 969.6 420.4 980.5 420.8 974.1 421.3 972.1 421.7 967.9 422.2 969.4 422.6 975.5 423.1 967.8 423.5 974.8 424.0 960.7 424.4 971.9 424.9 974.8 425.3 972.3 425.8 970.5 426.2 975.3 426.7 966.0 427.1 965.3 427.6 970.4 428.0 974.7 428.5 971.7 428.9 968.4 429.4 970.6 429.8 971.0 430.3 962.5 430.7 954.5 431.2 962.9 431.6 960.2 432.1 964.2 432.5 960.7 433.0 961.9 433.4 967.8 433.9 965.7 434.3 964.7 434.8 972.6 435.2 961.9 435.7 962.0 436.1 969.9 436.6 958.2 437.0 955.7 437.5 970.2 437.9 965.7 438.4 967.2 438.8 967.8 439.3 969.4 439.7 963.1 440.2 965.5 440.6 960.9 441.1 967.5 441.5 968.5 442.0 965.6 442.4 971.6 442.9 983.3 443.3 963.6 443.8 973.8 444.2 974.7 444.7 975.7 445.1 966.8 445.6 976.9 446.0 974.4 446.5 970.6 446.9 969.6 447.4 972.4 447.8 993.8 448.3 975.3 448.7 981.9 449.2 968.8 449.6 973.3 450.1 967.9 450.5 973.7 451.0 970.3 451.4 966.6 451.9 963.0 452.3 965.8 452.8 970.8 453.2 977.0 453.7 973.8 454.1 964.3 454.6 968.0 455.0 970.8 455.5 970.3 455.9 971.4 456.4 968.5 456.8 972.4 457.3 968.1 457.7 962.1 458.2 971.0 458.6 963.5 459.1 971.1 459.5 973.5 460.0 965.5 460.4 971.5 460.9 970.7 461.3 981.9 461.8 975.1 462.2 963.9 462.7 975.6 463.1 975.9 463.6 978.2 464.0 972.8 464.5 978.0 464.9 978.7 465.4 977.9 465.8 971.2 466.3 975.1 466.7 968.8 467.2 969.2 467.6 973.7 468.1 971.2 468.5 974.2 469.0 988.2 469.4 978.3 469.9 971.4 470.3 965.1 470.8 971.4 471.2 968.6 471.7 965.0 472.1 979.4 472.6 973.7 473.0 978.5 473.5 991.7 473.9 978.1 474.4 977.6 474.8 978.9 475.3 976.0 475.7 973.3 476.2 976.4 476.6 983.2 477.1 976.4 477.5 971.1 478.0 968.3 478.4 973.0 478.9 978.3 479.3 980.8 479.8 981.0 480.2 984.7 480.7 978.1 481.1 983.5 481.6 981.3 482.0 983.5 482.5 971.5 482.9 987.1 483.4 973.9 483.8 976.4 484.3 986.2 484.7 980.9 485.2 991.9 485.6 984.3 486.1 978.8 486.5 984.8 487.0 982.6 487.4 991.8 487.9 992.3 488.3 990.5 488.8 982.4 489.2 990.9 489.7 989.7 490.1 980.8 490.6 981.1 491.0 989.4 491.5 989.1 491.9 984.6 492.4 984.7 492.8 976.8 493.3 988.4 493.7 986.3 494.2 980.2 494.6 981.9 495.1 983.2 495.5 996.2 496.0 991.4 496.4 981.7 496.9 997.5 497.3 995.1 497.8 983.6 498.2 975.9 498.7 993.8 499.1 986.3 499.6 988.7 500.0 986.8 500.5 995.6 500.9 996.7 501.4 990.3 501.8 988.7 502.3 990.8 502.7 992.5 503.2 981.8 503.6 995.7 504.1 988.1 504.5 991.1 505.0 984.6 505.4 994.4 505.9 995.3 506.3 1001.0 506.8 988.5 507.2 985.9 507.7 990.9 508.1 987.1 508.6 990.4 509.0 986.2 509.5 990.8 509.9 994.7 510.4 995.1 510.8 991.1 511.3 997.1 511.7 996.5 512.2 982.0 512.6 988.4 513.1 991.5 513.5 989.3 514.0 987.9 514.4 991.4 514.9 993.4 515.3 993.1 515.8 998.7 516.2 992.3 516.7 989.5 517.1 988.8 517.6 996.8 518.0 989.2 518.5 993.4 518.9 994.9 519.4 997.5 519.8 994.9 520.3 999.3 520.7 989.8 521.2 995.2 521.6 988.6 522.1 992.7 522.5 992.3 523.0 987.1 523.4 978.9 523.9 996.4 524.3 993.6 524.8 992.7 525.2 988.7 525.7 990.7 526.1 1008.0 526.6 993.0 527.0 998.8 527.5 994.0 527.9 985.5 528.4 997.0 528.8 991.1 529.3 995.6 529.7 982.0 530.2 993.2 530.6 1013.9 531.1 992.2 531.5 995.4 532.0 998.5 532.4 996.1 532.9 1004.6 533.3 994.6 533.8 995.0 534.2 1000.9 534.7 986.0 535.1 988.1 535.6 998.1 536.0 993.7 536.5 982.4 536.9 994.1 537.4 993.9 537.8 999.5 538.3 995.6 538.7 1001.9 539.2 988.6 539.6 995.7 540.1 996.6 540.5 995.8 541.0 996.5 541.4 997.8 541.9 992.9 542.3 990.0 542.8 997.7 543.2 993.3 543.7 998.0 544.1 989.3 544.6 995.1 545.0 990.1 545.5 993.7 545.9 999.2 546.4 994.6 546.8 1001.8 547.3 996.5 547.7 987.8 548.2 993.6 548.6 996.2 549.1 1002.1 549.5 995.0 550.0 994.9 550.4 992.7 550.9 1000.2 551.3 988.9 551.8 993.1 552.2 1000.8 552.7 1003.5 553.1 995.6 553.6 1001.6 554.0 987.4 554.5 1001.1 554.9 999.1 555.4 991.9 555.8 989.3 556.3 995.7 556.7 999.5 557.2 1000.0 557.6 998.7 558.1 1001.8 558.5 1001.4 559.0 991.1 559.4 995.9 559.9 995.3 560.3 1002.9 560.8 995.6 561.2 1003.1 561.7 998.8 562.1 1010.2 562.6 998.7 563.0 999.3 563.5 999.0 563.9 1000.6 564.4 1012.1 564.8 998.0 565.3 996.5 565.7 1000.0 566.2 1004.4 566.6 996.5 567.1 1005.3 567.5 1005.2 568.0 1000.7 568.4 1000.3 568.9 997.7 569.3 1000.2 569.8 1002.5 570.2 1007.6 570.7 1009.4 571.1 1000.0 571.6 1001.2 572.0 992.1 572.5 998.8 572.9 1003.1 573.4 1002.9 573.8 1002.4 574.3 1006.1 574.7 1002.6 575.2 1000.4 575.6 1010.3 576.1 993.2 576.5 997.1 577.0 999.1 577.4 999.2 577.9 998.9 578.3 1001.5 578.8 999.0 579.2 1004.8 579.7 1005.2 580.1 1002.4 580.6 1002.9 581.0 997.8 581.5 996.9 581.9 1001.1 582.4 1007.2 582.8 1004.6 583.3 1008.2 583.7 1008.1 584.2 1008.3 584.6 998.7 585.1 1002.3 585.5 1005.9 586.0 1012.0 586.4 1004.4 586.9 1002.7 587.3 1000.0 587.8 1001.0 588.2 991.7 588.7 998.1 589.1 998.7 589.6 1003.4 590.0 1003.9 590.5 998.7 590.9 1006.8 591.4 995.3 591.8 1003.6 592.3 995.5 592.7 997.7 593.2 1000.6 593.6 1002.8 594.1 996.3 594.5 993.9 595.0 1006.3 595.4 999.8 595.9 1002.8 596.3 1003.3 596.8 1002.4 597.2 997.4 597.7 997.9 598.1 990.9 598.6 999.2 599.0 996.1 599.5 998.2 599.9 1007.5 600.4 1001.8 600.8 998.8 601.3 992.2 601.7 1002.5 602.2 1006.6 602.6 995.5 603.1 1001.8 603.5 997.5 604.0 999.4 604.4 998.6 604.9 992.7 605.3 998.1 605.8 992.8 606.2 1007.3 606.7 1005.6 607.1 1000.6 607.6 1001.6 608.0 1000.4 608.5 1001.0 608.9 1000.9 609.4 998.8 609.8 999.5 610.3 993.4 610.7 995.1 611.2 997.1 611.6 1001.1 612.1 998.4 612.5 1009.4 613.0 999.4 613.4 998.7 613.9 1002.6 614.3 1005.5 614.8 1009.6 615.2 1005.4 615.7 998.0 616.1 1000.1 616.6 1006.1 617.0 1002.4 617.5 1005.1 617.9 1000.9 618.4 1009.0 618.8 996.7 619.3 1006.9 619.7 1002.3 620.2 993.9 620.6 995.3 621.1 1003.6 621.5 1005.4 622.0 988.6 622.4 1000.6 622.9 1011.4 623.3 1008.1 623.8 1001.4 624.2 1007.1 624.7 1004.4 625.1 1003.3 625.6 1009.7 626.0 1009.8 626.5 1001.7 626.9 999.5 627.4 997.5 627.8 996.7 628.3 1009.5 628.7 1011.8 629.2 1003.5 629.6 1007.2 630.1 998.5 630.5 1001.1 631.0 1005.5 631.4 1002.3 631.9 1010.6 632.3 992.3 632.8 993.1 633.2 997.9 633.7 997.1 634.1 999.3 634.6 996.6 635.0 998.7 635.5 1000.1 635.9 1002.4 636.4 1000.5 636.8 997.7 637.3 999.2 637.7 1005.1 638.2 999.9 638.6 996.4 639.1 998.7 639.5 1002.5 640.0 1003.8 640.4 1006.9 640.9 999.5 641.3 1007.6 641.8 999.4 642.2 996.4 642.7 998.4 643.1 1003.7 643.6 1006.3 644.0 1001.3 644.5 999.2 644.9 994.3 645.4 1002.4 645.8 1000.1 646.3 1000.8 646.7 998.8 647.2 997.6 647.6 999.6 648.1 1011.7 648.5 1006.1 649.0 1001.4 649.4 1003.0 649.9 1000.5 650.3 1000.9 650.8 995.1 651.2 1005.9 651.7 1004.7 652.1 1009.0 652.6 999.4 653.0 1003.2 653.5 998.5 653.9 1004.4 654.4 1003.0 654.8 1007.1 655.3 1003.5 655.7 1007.5 656.2 1002.3 656.6 1007.6 657.1 1003.3 657.5 1002.7 658.0 1005.1 658.4 1006.2 658.9 997.6 659.3 996.8 659.8 1004.7 660.2 1003.3 660.7 993.7 661.1 995.0 661.6 999.3 662.0 1004.3 662.5 1003.7 662.9 1007.5 663.4 1008.2 663.8 1014.0 664.3 995.9 664.7 1002.6 665.2 1007.9 665.6 996.9 666.1 996.2 666.5 1003.7 667.0 1007.9 667.4 1008.5 667.9 993.9 668.3 996.4 668.8 1001.4 669.2 999.1 669.7 1003.0 670.1 1001.9 670.6 1009.5 671.0 1000.7 671.5 1001.8 671.9 1001.3 672.4 1006.3 672.8 995.8 673.3 1003.1 673.7 997.7 674.2 994.7 674.6 1007.1 675.1 1004.0 675.5 1008.2 676.0 1002.8 676.4 1004.7 676.9 1002.2 677.3 994.9 677.8 999.6 678.2 1005.3 678.7 999.5 679.1 1010.1 679.6 1001.2 680.0 1006.5 680.5 1003.2 680.9 1005.0 681.4 1010.2 681.8 1004.0 682.3 999.1 682.7 1005.0 683.2 1007.1 683.6 992.4 684.1 1008.9 684.5 1009.5 685.0 995.7 685.4 1003.4 685.9 1011.7 686.3 998.3 686.8 1001.7 687.2 1001.9 687.7 1006.0 688.1 1008.5 688.6 1002.8 689.0 1005.8 689.5 1007.2 689.9 1005.3 690.4 1002.1 690.8 997.3 691.3 995.9 691.7 1003.5 692.2 1000.9 692.6 1000.6 693.1 1004.1 693.5 1003.5 694.0 1015.3 694.4 1006.7 694.9 1005.5 695.3 1011.9 695.8 1009.0 696.2 995.2 696.7 1004.9 697.1 1008.0 697.6 1001.6 698.0 1006.0 698.5 1002.5 698.9 1006.6 699.4 997.0 699.8 995.6 700.3 1006.0 700.7 1006.3 701.2 1011.8 701.6 1004.1 702.1 1002.0 702.5 1010.1 703.0 1006.0 703.4 1014.6 703.9 1005.5 704.3 996.6 704.8 1002.1 705.2 1001.4 705.7 999.3 706.1 1002.3 706.6 1002.8 707.0 1004.9 707.5 1003.7 707.9 1010.8 708.4 1008.6 708.8 1007.5 709.3 1007.7 709.7 997.7 710.2 998.7 710.6 1002.5 711.1 1007.8 711.5 999.3 712.0 1004.2 712.4 1007.1 712.9 1009.8 713.3 1006.6 713.8 1002.4 714.2 1010.0 714.7 1016.9 715.1 1002.8 715.6 1009.5 716.0 999.5 716.5 1004.8 716.9 1002.3 717.4 1008.3 717.8 998.5 718.3 997.0 718.7 1002.7 719.2 1003.7 719.6 1005.7 720.1 1004.2 720.5 1008.6 721.0 1014.4 721.4 1008.7 721.9 1003.0 722.3 1014.1 722.8 1001.4 723.2 1008.1 723.7 1015.9 724.1 1006.3 724.6 1017.9 725.0 1018.5 725.5 1016.7 725.9 1011.0 726.4 1013.5 726.8 1006.1 727.3 1010.4 727.7 1010.6 728.2 1008.7 728.6 1009.0 729.1 1007.2 729.5 998.7 730.0 1010.3 730.4 1010.0 730.9 1018.6 731.3 1012.1 731.8 1009.1 732.2 1013.2 732.7 1012.0 733.1 1009.0 733.6 1007.3 734.0 1002.0 734.5 1009.8 734.9 1017.1 735.4 1000.1 735.8 1000.3 736.3 1012.9 736.7 1010.2 737.2 1013.0 737.6 1000.4 738.1 1006.7 738.5 1012.2 739.0 1012.8 739.4 1011.5 739.9 1005.8 740.3 1012.9 740.8 1004.5 741.2 1005.7 741.7 1004.5 742.1 1017.1 742.6 1007.9 743.0 1010.0 743.5 998.8 743.9 1014.6 744.4 1011.4 744.8 1000.9 745.3 1001.1 745.7 1017.0 746.2 1004.4 746.6 1018.1 747.1 1007.0 747.5 997.4 748.0 1015.2 748.4 1012.5 748.9 1013.7 749.3 1008.1 749.8 1009.9 750.2 1015.8 750.7 1007.2 751.1 1001.7 751.6 1015.8 752.0 1008.3 752.5 1017.4 752.9 1008.6 753.4 1008.7 753.8 1009.3 754.3 998.7 754.7 1015.7 755.2 1006.6 755.6 1000.2 756.1 1016.5 756.5 1009.8 757.0 1013.6 757.4 1010.9 757.9 1013.1 758.3 1010.7 758.8 1015.2 759.2 1008.6 759.7 1012.0 760.1 1006.4 760.6 1015.7 761.0 999.2 761.5 1010.8 761.9 1011.7 762.4 1011.5 762.8 1009.8 763.3 1016.4 763.7 1020.2 764.2 1006.9 764.6 1000.6 765.1 1004.7 765.5 1006.3 766.0 1009.8 766.4 1010.5 766.9 1016.4 767.3 1009.4 767.8 1011.8 768.2 1013.0 768.7 1008.6 769.1 1011.8 769.6 1027.3 770.0 1013.8 770.5 1009.9 770.9 1004.2 771.4 1020.1 771.8 1002.4 772.3 1012.1 772.7 1027.2 773.2 1022.2 773.6 1006.7 774.1 1013.2 774.5 1019.7 775.0 1018.8 775.4 1009.1 775.9 1023.2 776.3 1023.5 776.8 1008.9 777.2 1005.7 777.7 1007.5 778.1 1017.6 778.6 1019.6 779.0 1015.2 779.5 1011.4 779.9 1013.9 780.4 1017.2 780.8 1008.4 781.3 1021.9 781.7 1005.9 782.2 1020.2 782.6 1015.0 783.1 1014.9 783.5 1010.4 784.0 1018.0 784.4 999.1 784.9 1012.8 785.3 1010.1 785.8 1012.2 786.2 1008.3 786.7 1016.6 787.1 1012.6 787.6 1010.2 788.0 1015.7 788.5 1013.1 788.9 1015.8 789.4 1010.7 789.8 1017.4 790.3 1009.0 790.7 1012.5 791.2 1012.2 791.6 1014.9 792.1 1012.2 792.5 1023.5 793.0 1004.2 793.4 1015.5 793.9 1012.4 794.3 1018.0 794.8 1004.6 795.2 1018.7 795.7 1006.1 796.1 1016.6 796.6 1016.1 797.0 1014.1 797.5 1010.8 797.9 1010.9 798.4 1017.4 798.8 999.7 799.3 1006.7 799.7 1007.8 800.2 1020.8 800.6 1021.2 801.1 1024.1 801.5 1017.6 802.0 1024.5 802.4 1019.8 802.9 1018.6 803.3 1013.5 803.8 1013.7 804.2 1011.6 804.7 1017.9 805.1 1012.3 805.6 1016.3 806.0 1023.4 806.5 1015.0 806.9 1021.4 807.4 1024.1 807.8 1007.3 808.3 1009.0 808.7 1018.0 809.2 1012.0 809.6 1014.6 810.1 1018.3 810.5 1012.1 811.0 1018.4 811.4 1022.5 811.9 1018.7 812.3 1009.6 812.8 1013.0 813.2 1011.0 813.7 1021.3 814.1 1012.6 814.6 1010.2 815.0 1013.8 815.5 1016.1 815.9 1011.9 816.4 1007.7 816.8 1013.9 817.3 1017.7 817.7 1019.0 818.2 1015.8 818.6 1012.4 819.1 1016.8 819.5 1010.7 820.0 1020.5 820.4 1017.1 820.9 1016.7 821.3 1003.7 821.8 1027.2 822.2 1022.7 822.7 1021.7 823.1 1016.1 823.6 1018.6 824.0 1029.2 824.5 1011.8 824.9 1018.8 825.4 1018.1 825.8 1015.9 826.3 1017.0 826.7 1010.7 827.2 1019.0 827.6 1009.7 828.1 1025.5 828.5 1021.0 829.0 1013.4 829.4 1007.8 829.9 1010.4 830.3 1021.5 830.8 1014.6 831.2 1030.8 831.7 1021.5 832.1 1018.2 832.6 1013.8 833.0 1020.2 833.5 1020.0 833.9 1024.2 834.4 1026.1 834.8 1021.1 835.3 1023.0 835.7 1027.6 836.2 1023.4 836.6 1018.9 837.1 1022.9 837.5 1017.1 838.0 1021.5 838.4 1019.3 838.9 1013.4 839.3 1021.5 839.8 1018.7 840.2 1021.7 840.7 1011.4 841.1 1023.2 841.6 1023.2 842.0 1028.3 842.5 1016.8 842.9 1017.3 843.4 1016.9 843.8 1020.9 844.3 1013.3 844.7 1011.0 845.2 1015.5 845.6 1026.0 846.1 1014.9 846.5 1012.0 847.0 1012.6 847.4 1018.1 847.9 1023.3 848.3 1014.2 848.8 1018.9 849.2 1019.3 849.7 1020.8 850.1 1019.4 850.6 1024.0 851.0 1022.3 851.5 1016.0 851.9 1030.9 852.4 1012.3 852.8 1012.5 853.3 1023.9 853.7 1019.7 854.2 1025.1 854.6 1019.4 855.1 1024.5 855.5 1015.9 856.0 1014.6 856.4 1012.3 856.9 1012.9 857.3 1013.0 857.8 1022.2 858.2 1017.8 858.7 1018.9 859.1 1013.4 859.6 1021.3 860.0 1008.5 860.5 1018.6 860.9 1019.9 861.4 1013.9 861.8 1012.0 862.3 1019.8 862.7 1014.1 863.2 1013.4 863.6 1017.9 864.1 1012.7 864.5 1017.7 865.0 1033.9 865.4 1019.9 865.9 1023.0 866.3 1013.5 866.8 1019.1 867.2 1017.4 867.7 1018.0 868.1 1022.6 868.6 1036.3 869.0 1018.5 869.5 1025.6 869.9 1021.1 870.4 1029.9 870.8 1017.4 871.3 1016.4 871.7 1019.1 872.2 1016.5 872.6 1020.5 873.1 1015.6 873.5 1021.0 874.0 1022.1 874.4 1030.3 874.9 1030.0 875.3 1024.1 875.8 1019.2 876.2 1024.6 876.7 1025.6 877.1 1020.6 877.6 1017.3 878.0 1012.6 878.5 1021.0 878.9 1030.5 879.4 1011.6 879.8 1022.7 880.3 1022.4 880.7 1022.8 881.2 1019.0 881.6 1010.3 882.1 1019.2 882.5 1021.6 883.0 1019.2 883.4 1025.5 883.9 1017.7 884.3 1024.1 884.8 1028.3 885.2 1018.6 885.7 1020.3 886.1 1019.0 886.6 1024.6 887.0 1010.8 887.5 1014.5 887.9 1020.6 888.4 1026.7 888.8 1025.7 889.3 1019.0 889.7 1031.0 890.2 1023.8 890.6 1020.1 891.1 1025.7 891.5 1029.3 892.0 1022.3 892.4 1014.9 892.9 1019.3 893.3 1022.1 893.8 1025.9 894.2 1016.1 894.7 1022.1 895.1 1014.8 895.6 1020.8 896.0 1013.8 896.5 1018.0 896.9 1012.7 897.4 1015.3 897.8 1012.2 898.3 1010.3 898.7 1025.8 899.2 1025.4 899.6 1021.7 900.1 1017.3 900.5 1025.9 901.0 1017.0 901.4 1020.1 901.9 1023.2 902.3 1018.4 902.8 1024.2 903.2 1016.0 903.7 1026.6 904.1 1017.1 904.6 1004.8 905.0 1011.3 905.5 1020.6 905.9 1008.7 906.4 1023.1 906.8 1019.3 907.3 1024.3 907.7 1022.7 908.2 1022.4 908.6 1028.4 909.1 1019.9 909.5 1020.0 910.0 1026.2 910.4 1017.5 910.9 1026.2 911.3 1023.9 911.8 1017.9 912.2 1013.8 912.7 997.1 913.1 1028.8 913.6 1012.1 914.0 1013.4 914.5 1023.5 914.9 1021.5 915.4 1020.3 915.8 1019.7 916.3 1017.3 916.7 1015.0 917.2 1016.0 917.6 1022.6 918.1 1025.0 918.5 1025.5 919.0 1019.5 919.4 1008.5 919.9 1021.9 920.3 1027.6 920.8 1006.0 921.2 1025.9 921.7 1020.8 922.1 1018.7 922.6 1019.9 923.0 1019.6 923.5 1020.2 923.9 1019.7 924.4 1019.3 924.8 1022.1 925.3 1021.1 925.7 1031.3 926.2 1020.2 926.6 1017.1 927.1 1016.7 927.5 1021.5 928.0 1020.2 928.4 1020.7 928.9 1018.5 929.3 1018.6 929.8 1023.2 930.2 1026.3 930.7 1021.4 931.1 1019.4 931.6 1014.5 932.0 1014.8 932.5 1021.1 932.9 1020.0 933.4 1021.1 933.8 1016.5 934.3 1021.8 934.7 1013.2 935.2 1017.2 935.6 1019.5 936.1 1026.6 936.5 1020.9 937.0 1019.5 937.4 1025.6 937.9 1024.0 938.3 1029.1 938.8 1026.2 939.2 1025.7 939.7 1023.7 940.1 1027.8 940.6 1020.9 941.0 1016.8 941.5 1028.5 941.9 1025.3 942.4 1023.8 942.8 1026.4 943.3 1028.0 943.7 1008.4 944.2 1017.1 944.6 1036.9 945.1 1013.1 945.5 1023.5 946.0 1019.0 946.4 1016.0 946.9 1012.9 947.3 1011.5 947.8 1021.5 948.2 1025.0 948.7 1012.0 949.1 1015.5 949.6 1024.5 950.0 1020.3 950.5 1016.8 950.9 1025.4 951.4 1010.1 951.8 1016.9 952.3 1018.7 952.7 1016.7 953.2 1022.3 953.6 1010.2 954.1 1018.7 954.5 1014.6 955.0 1024.5 955.4 1023.8 955.9 1015.0 956.3 1013.3 956.8 1020.0 957.2 1014.6 957.7 1016.0 958.1 1020.9 958.6 1016.5 959.0 1027.6 959.5 1021.2 959.9 1016.0 960.4 1013.0 960.8 1015.9 961.3 1023.8 961.7 1021.0 962.2 1025.4 962.6 1023.1 963.1 1021.1 963.5 1015.0 964.0 1017.8 964.4 1019.1 964.9 1010.8 965.3 1020.7 965.8 1014.1 966.2 1018.9 966.7 1016.9 967.1 1022.4 967.6 1032.6 968.0 1013.8 968.5 1019.7 968.9 1029.3 969.4 1015.3 969.8 1018.9 970.3 1019.6 970.7 1021.7 971.2 1012.3 971.6 1021.9 972.1 1021.5 972.5 1033.1 973.0 1020.3 973.4 1017.9 973.9 1021.4 974.3 1008.0 974.8 1026.1 975.2 1028.4 975.7 1020.6 976.1 1020.5 976.6 1019.4 977.0 1021.1 977.5 1014.2 977.9 1027.8 978.4 1017.7 978.8 1017.6 979.3 1027.8 979.7 1019.6 980.2 1017.3 980.6 1027.4 981.1 1020.2 981.5 1023.9 982.0 1016.5 982.4 1010.7 982.9 1020.4 983.3 1026.8 983.8 1017.7 984.2 1022.0 984.7 1024.0 985.1 1022.0 985.6 1021.3 986.0 1025.0 986.5 1022.5 986.9 1019.1 987.4 1027.1 987.8 1021.0 988.3 1024.3 988.7 1026.2 989.2 1009.9 989.6 1024.5 990.1 1023.5 990.5 1013.7 991.0 1033.9 991.4 1025.6 991.9 1021.8 992.3 1022.2 992.8 1025.4 993.2 1024.0 993.7 1016.1 994.1 1021.9 994.6 1025.9 995.0 1026.6 995.5 1027.6 995.9 1017.8 996.4 1019.7 996.8 1024.3 997.3 1019.2 997.7 1023.0 998.2 1017.6 998.6 1024.3 999.1 1021.5 999.5 1023.8 1000.0 1020.8 1000.4 1016.5 1000.9 1014.1 1001.3 1020.1 1001.8 1016.6 1002.2 1012.1 1002.7 1016.5 1003.1 1022.9 1003.6 1024.9 1004.0 1022.5 1004.5 1025.3 1004.9 1016.8 1005.4 1017.9 1005.8 1014.0 1006.3 1015.0 1006.7 1026.8 1007.2 1021.2 1007.6 1022.5 1008.1 1032.4 1008.5 1028.5 1009.0 1015.7 1009.4 1025.0 1009.9 1016.7 1010.3 1025.5 1010.8 1011.6 1011.2 1016.4 1011.7 1016.7 1012.1 1031.2 1012.6 1012.8 1013.0 1027.2 1013.5 1027.2 1013.9 1022.6 1014.4 1026.2 1014.8 1034.8 1015.3 1023.3 1015.7 1020.5 1016.2 1028.4 1016.6 1025.3 1017.1 1015.5 1017.5 1021.7 1018.0 1021.9 1018.4 1006.5 1018.9 1015.1 1019.3 1016.2 1019.8 1013.3 1020.2 1021.6 1020.7 1020.4 1021.1 1007.8 1021.6 1016.8 1022.0 1019.7 1022.5 1012.3 1022.9 1017.8 1023.4 1020.8 1023.8 1011.1 1024.3 1018.2 1024.7 1008.2 1025.2 1023.9 1025.6 1016.7 1026.1 1013.4 1026.5 1011.6 1027.0 1012.7 1027.4 1027.4 1027.9 1017.0 1028.3 1018.4 1028.8 1019.4 1029.2 1013.8 1029.7 1025.9 1030.1 1008.7 1030.6 1025.5 1031.0 1017.1 1031.5 1020.9 1031.9 1022.0 1032.4 1024.6 1032.8 1014.1 1033.3 1023.2 1033.7 1026.5 1034.2 1019.3 1034.6 1018.6 1035.1 1025.6 1035.5 1022.4 1036.0 1026.4 1036.4 1019.4 1036.9 1010.3 1037.3 1019.8 1037.8 1023.6 1038.2 1015.9 1038.7 1012.2 1039.1 1001.8 1039.6 1030.6 1040.0 1016.2 1040.5 1021.8 1040.9 1015.6 1041.4 1023.2 1041.8 1029.3 1042.3 1013.8 1042.7 1020.8 1043.2 1017.3 1043.6 1011.8 1044.1 1016.8 1044.5 1021.5 1045.0 1027.7 1045.4 1028.0 1045.9 1021.7 1046.3 1013.7 1046.8 1025.5 1047.2 1035.0 1047.7 1022.4 1048.1 1016.8 1048.6 1021.8 1049.0 1032.4 1049.5 1030.1 1049.9 1028.9 1050.4 1025.8 1050.8 1020.4 1051.3 1022.4 1051.7 1023.0 1052.2 1024.1 1052.6 1020.3 1053.1 1017.6 1053.5 1027.4 1054.0 1019.7 1054.4 1025.7 1054.9 1020.4 1055.3 1024.6 1055.8 1023.6 1056.2 1024.7 1056.7 1024.3 1057.1 1016.1 1057.6 1014.0 1058.0 1020.5 1058.5 1029.0 1058.9 1016.5 1059.4 1015.9 1059.8 1031.9 1060.3 1012.6 1060.7 1017.4 1061.2 1018.0 1061.6 1016.5 1062.1 1016.5 1062.5 1024.9 1063.0 1020.5 1063.4 1023.1 1063.9 1010.9 1064.3 1022.9 1064.8 1034.5 1065.2 1019.2 1065.7 1022.3 1066.1 1019.3 1066.6 1017.0 1067.0 1018.5 1067.5 1011.9 1067.9 1008.0 1068.4 1006.4 1068.8 1016.7 1069.3 1007.3 1069.7 1010.1 1070.2 1013.4" fill="none" stroke="#000" stroke-width="2.8" stroke-linejoin="round"/><path d="M108.8 964.4L109.5 964.1 110.2 963.8 110.9 963.4 111.6 963.1 112.3 962.7 113.0 962.3 113.7 961.9 114.4 961.4 115.1 960.8 115.8 960.2 116.5 959.4 117.2 958.3 117.9 956.9 118.6 955.0 119.3 952.5 120.0 949.1 120.7 944.7 121.4 939.2 122.1 932.4 122.8 924.3 123.5 914.9 124.2 904.4 124.9 893.1 125.6 881.6 126.3 870.4 127.0 860.1 127.7 851.6 128.4 845.4 129.1 841.9 129.8 841.6 130.5 844.3 131.2 849.9 131.9 857.8 132.6 867.5 133.3 878.3 134.0 889.4 134.7 900.3 135.4 910.4 136.1 919.4 136.8 927.0 137.5 933.2 138.2 938.1 138.9 941.7 139.6 944.3 140.3 946.0" fill="none" stroke="#e31e24" stroke-width="3.3" stroke-linejoin="round"/><path d="M236.6 986.1L237.3 985.9 238.0 985.6 238.7 985.4 239.4 985.1 240.1 984.8 240.8 984.4 241.5 984.0 242.2 983.5 242.9 983.0 243.6 982.3 244.3 981.6 245.0 980.8 245.7 979.9 246.4 978.8 247.1 977.7 247.8 976.5 248.5 975.3 249.2 973.9 249.9 972.5 250.6 971.1 251.3 969.6 252.0 968.2 252.7 966.8 253.4 965.4 254.1 964.2 254.8 963.1 255.5 962.1 256.2 961.3 256.9 960.6 257.6 960.2 258.3 960.0 259.0 960.0 259.7 960.3 260.4 960.7 261.1 961.4 261.8 962.3 262.5 963.3 263.2 964.5 263.9 965.8 264.6 967.2 265.3 968.7 266.0 970.2 266.7 971.7 267.4 973.2 268.1 974.7 268.8 976.1 269.5 977.4 270.2 978.7 270.9 979.8 271.6 980.9 272.3 981.9 273.0 982.8 273.7 983.6 274.4 984.3 275.1 984.9 275.8 985.4 276.5 985.9 277.2 986.4 277.9 986.7 278.6 987.0 279.3 987.3 280.0 987.6 280.7 987.8 281.4 988.0" fill="none" stroke="#e31e24" stroke-width="3.3" stroke-linejoin="round"/><path d="M386.3 982.0L387.0 981.7 387.7 981.5 388.4 981.3 389.1 981.0 389.8 980.8 390.5 980.6 391.2 980.3 391.9 980.1 392.6 979.8 393.3 979.6 394.0 979.3 394.7 979.0 395.4 978.8 396.1 978.5 396.8 978.2 397.5 978.0 398.2 977.7 398.9 977.4 399.6 977.1 400.3 976.8 401.0 976.6 401.7 976.3 402.4 976.0 403.1 975.7 403.8 975.4 404.5 975.1 405.2 974.8 405.9 974.5 406.6 974.2 407.3 973.9 408.0 973.6 408.7 973.3 409.4 973.0 410.1 972.8 410.8 972.5 411.5 972.2 412.2 971.9 412.9 971.6 413.6 971.3 414.3 971.1 415.0 970.8 415.7 970.5 416.4 970.3 417.1 970.0 417.8 969.8 418.5 969.5 419.2 969.3 419.9 969.1 420.6 968.8 421.3 968.6 422.0 968.4 422.7 968.2 423.4 968.0 424.1 967.8 424.8 967.6 425.5 967.4 426.2 967.3 426.9 967.1 427.6 967.0 428.3 966.8 429.0 966.7 429.7 966.6 430.4 966.5 431.1 966.4 431.8 966.3 432.5 966.2 433.2 966.2 433.9 966.1 434.6 966.1 435.3 966.0 436.0 966.0 436.7 966.0 437.4 966.0 438.1 966.0 438.8 966.0 439.5 966.1 440.2 966.1 440.9 966.2 441.6 966.3 442.3 966.4 443.0 966.5 443.7 966.6 444.4 966.7 445.1 966.8 445.8 967.0 446.5 967.1 447.2 967.3 447.9 967.5 448.6 967.6 449.3 967.8 450.0 968.0 450.7 968.2 451.4 968.5 452.1 968.7 452.8 968.9 453.5 969.2 454.2 969.4 454.9 969.7 455.6 969.9 456.3 970.2 457.0 970.5 457.7 970.8 458.4 971.1 459.1 971.3 459.8 971.6 460.5 971.9 461.2 972.2 461.9 972.5 462.6 972.9 463.3 973.2 464.0 973.5 464.7 973.8 465.4 974.1 466.1 974.4 466.8 974.7 467.5 975.0 468.2 975.4 468.9 975.7 469.6 976.0 470.3 976.3 471.0 976.6 471.7 976.9 472.4 977.3 473.1 977.6 473.8 977.9 474.5 978.2 475.2 978.6 475.9 978.9 476.6 979.2 477.3 979.5 478.0 979.9 478.7 980.2 479.4 980.5 480.1 980.8 480.8 981.1 481.5 981.5 482.2 981.8 482.9 982.1 483.6 982.4 484.3 982.7 485.0 983.0 485.7 983.3 486.4 983.6 487.1 983.9 487.8 984.2 488.5 984.4 489.2 984.7 489.9 985.0 490.6 985.3 491.3 985.5 492.0 985.8 492.7 986.0 493.4 986.3 494.1 986.5 494.8 986.8 495.5 987.0" fill="none" stroke="#e31e24" stroke-width="3.3" stroke-linejoin="round"/><rect x="80.2" y="3.5" width="991.7" height="1030.4" fill="none" stroke="#000" stroke-width="2.4"/><line x1="214.5" y1="1034" x2="214.5" y2="1047.7" stroke="#000" stroke-width="2.3"/><line x1="404.8" y1="1034" x2="404.8" y2="1047.7" stroke="#000" stroke-width="2.3"/><line x1="595.1" y1="1034" x2="595.1" y2="1047.7" stroke="#000" stroke-width="2.3"/><line x1="785.4" y1="1034" x2="785.4" y2="1047.7" stroke="#000" stroke-width="2.3"/><line x1="975.7" y1="1034" x2="975.7" y2="1047.7" stroke="#000" stroke-width="2.3"/><text transform="translate(179.98,1090.18) scale(0.9874,1)" font-family='"Liberation Sans", Arial, sans-serif' font-weight="bold" fill="#000"><tspan x="0.00" y="-0.00" font-size="42.25">500</tspan></text><text transform="translate(357.97,1090.18) scale(0.9874,1)" font-family='"Liberation Sans", Arial, sans-serif' font-weight="bold" fill="#000"><tspan x="0.00" y="-0.00" font-size="42.25">1000</tspan></text><text transform="translate(548.27,1090.18) scale(0.9874,1)" font-family='"Liberation Sans", Arial, sans-serif' font-weight="bold" fill="#000"><tspan x="0.00" y="-0.00" font-size="42.25">1500</tspan></text><text transform="translate(739.09,1090.18) scale(0.9874,1)" font-family='"Liberation Sans", Arial, sans-serif' font-weight="bold" fill="#000"><tspan x="0.00" y="-0.00" font-size="42.25">2000</tspan></text><text transform="translate(929.39,1090.18) scale(0.9874,1)" font-family='"Liberation Sans", Arial, sans-serif' font-weight="bold" fill="#000"><tspan x="0.00" y="-0.00" font-size="42.25">2500</tspan></text><text transform="translate(90.13,47.25) scale(1.0190,1)" font-family='"Liberation Serif", "Times New Roman", serif' font-weight="bold" fill="#000"><tspan x="0.00" y="-0.00" font-size="38.35">a)</tspan></text><text transform="translate(320.84,1179.67) scale(1.0178,1)" font-family='"Liberation Sans", Arial, sans-serif' font-weight="bold" fill="#000"><tspan x="0.00" y="0.00" font-size="56.83">Raman Shift (cm</tspan><tspan x="448.43" y="-23.87" font-size="39.21">-1</tspan><tspan x="483.29" y="0.00" font-size="56.83">)</tspan></text><text transform="translate(45.87,716.78) rotate(-90) scale(1.0080,1)" font-family='"Liberation Sans", Arial, sans-serif' font-weight="bold" fill="#000"><tspan x="0.00" y="-0.00" font-size="57.75">Intensity (a.u.)</tspan></text><text transform="translate(844.34,151.46) scale(1.0771,1)" font-family='"Liberation Sans", Arial, sans-serif' font-weight="bold" fill="#158015"><tspan x="0.00" y="-0.00" font-size="26.85">CuO/rGO wt30%</tspan></text><text transform="translate(844.34,353.16) scale(1.0771,1)" font-family='"Liberation Sans", Arial, sans-serif' font-weight="bold" fill="#800080"><tspan x="0.00" y="-0.00" font-size="26.85">CuO/rGO wt20%</tspan></text><text transform="translate(845.65,557.64) scale(1.0296,1)" font-family='"Liberation Sans", Arial, sans-serif' font-weight="bold" fill="#ff00ff"><tspan x="0.00" y="-0.00" font-size="27.92">CuO/rGO wt10%</tspan></text><text transform="translate(1007.76,721.44) scale(1.1339,1)" font-family='"Liberation Sans", Arial, sans-serif' font-weight="bold" fill="#0000cc"><tspan x="0.00" y="-0.00" font-size="26.34">rGO</tspan></text><text transform="translate(1004.55,995.42) scale(1.0248,1)" font-family='"Liberation Sans", Arial, sans-serif' font-weight="bold" fill="#000"><tspan x="0.00" y="-0.00" font-size="28.17">CuO</tspan></text><text transform="translate(459.26,34.60) scale(0.9604,1)" font-family='"Liberation Sans", Arial, sans-serif' font-weight="bold" fill="#000"><tspan x="0.00" y="0.00" font-size="23.09">D(1362 cm</tspan><tspan x="115.54" y="-9.24" font-size="16.63">-1</tspan><tspan x="130.33" y="0.00" font-size="23.09">)</tspan></text><text transform="translate(595.81,31.30) scale(0.9604,1)" font-family='"Liberation Sans", Arial, sans-serif' font-weight="bold" fill="#000"><tspan x="0.00" y="0.00" font-size="23.09">G(1591 cm</tspan><tspan x="116.82" y="-9.24" font-size="21.25">-1</tspan><tspan x="135.72" y="0.00" font-size="23.09">)</tspan></text><text transform="translate(101.22,138.70) scale(0.9604,1)" font-family='"Liberation Sans", Arial, sans-serif' font-weight="bold" fill="#000"><tspan x="0.00" y="0.00" font-size="23.09">290 cm</tspan><tspan x="78.33" y="-9.24" font-size="16.63">-1</tspan></text><text transform="translate(224.82,158.80) scale(0.9604,1)" font-family='"Liberation Sans", Arial, sans-serif' font-weight="bold" fill="#000"><tspan x="0.00" y="0.00" font-size="23.09">621 cm</tspan><tspan x="78.33" y="-9.24" font-size="16.63">-1</tspan></text><text transform="translate(103.92,341.50) scale(0.9604,1)" font-family='"Liberation Sans", Arial, sans-serif' font-weight="bold" fill="#000"><tspan x="0.00" y="0.00" font-size="23.09">290 cm</tspan><tspan x="78.33" y="-9.24" font-size="16.63">-1</tspan></text><text transform="translate(230.22,359.30) scale(0.9604,1)" font-family='"Liberation Sans", Arial, sans-serif' font-weight="bold" fill="#000"><tspan x="0.00" y="0.00" font-size="23.09">621 cm</tspan><tspan x="78.33" y="-9.24" font-size="16.63">-1</tspan></text><text transform="translate(369.87,358.00) scale(0.9604,1)" font-family='"Liberation Sans", Arial, sans-serif' font-weight="bold" fill="#000"><tspan x="0.00" y="0.00" font-size="23.09">1042 cm</tspan><tspan x="91.17" y="-9.24" font-size="16.63">-1</tspan></text><text transform="translate(106.72,586.80) scale(0.9604,1)" font-family='"Liberation Sans", Arial, sans-serif' font-weight="bold" fill="#000"><tspan x="0.00" y="0.00" font-size="23.09">290 cm</tspan><tspan x="78.33" y="-9.24" font-size="16.63">-1</tspan></text><text transform="translate(220.72,593.70) scale(0.9604,1)" font-family='"Liberation Sans", Arial, sans-serif' font-weight="bold" fill="#000"><tspan x="0.00" y="0.00" font-size="23.09">621 cm</tspan><tspan x="78.33" y="-9.24" font-size="16.63">-1</tspan></text><text transform="translate(97.12,826.00) scale(0.9604,1)" font-family='"Liberation Sans", Arial, sans-serif' font-weight="bold" fill="#000"><tspan x="0.00" y="0.00" font-size="23.09">278 cm</tspan><tspan x="78.33" y="-9.24" font-size="16.63">-1</tspan></text><text transform="translate(216.62,945.60) scale(0.9604,1)" font-family='"Liberation Sans", Arial, sans-serif' font-weight="bold" fill="#000"><tspan x="0.00" y="0.00" font-size="23.09">611 cm</tspan><tspan x="77.05" y="-9.24" font-size="16.63">-1</tspan></text><text transform="translate(416.67,933.20) scale(0.9604,1)" font-family='"Liberation Sans", Arial, sans-serif' font-weight="bold" fill="#000"><tspan x="0.00" y="0.00" font-size="23.09">1089 cm</tspan><tspan x="91.17" y="-9.24" font-size="16.63">-1</tspan></text><text transform="translate(551.10,216.04) rotate(-90) scale(0.9604,1)" font-family='"Liberation Sans", Arial, sans-serif' font-weight="bold" fill="#000"><tspan x="0.00" y="0.00" font-size="23.09">D(1362 cm</tspan><tspan x="115.54" y="-9.24" font-size="16.63">-1</tspan><tspan x="130.33" y="0.00" font-size="23.09">)</tspan></text><text transform="translate(646.20,209.09) rotate(-90) scale(0.9604,1)" font-family='"Liberation Sans", Arial, sans-serif' font-weight="bold" fill="#000"><tspan x="0.00" y="0.00" font-size="23.09">G(1592 cm</tspan><tspan x="116.82" y="-9.24" font-size="21.25">-1</tspan><tspan x="135.72" y="0.00" font-size="23.09">)</tspan></text><text transform="translate(550.40,421.74) rotate(-90) scale(0.9604,1)" font-family='"Liberation Sans", Arial, sans-serif' font-weight="bold" fill="#000"><tspan x="0.00" y="0.00" font-size="23.09">D(1362 cm</tspan><tspan x="115.54" y="-9.24" font-size="16.63">-1</tspan><tspan x="130.33" y="0.00" font-size="23.09">)</tspan></text><text transform="translate(645.50,414.79) rotate(-90) scale(0.9604,1)" font-family='"Liberation Sans", Arial, sans-serif' font-weight="bold" fill="#000"><tspan x="0.00" y="0.00" font-size="23.09">G(1588 cm</tspan><tspan x="116.82" y="-9.24" font-size="21.25">-1</tspan><tspan x="135.72" y="0.00" font-size="23.09">)</tspan></text><text transform="translate(555.10,655.14) rotate(-90) scale(0.9604,1)" font-family='"Liberation Sans", Arial, sans-serif' font-weight="bold" fill="#000"><tspan x="0.00" y="0.00" font-size="23.09">D(1364 cm</tspan><tspan x="115.54" y="-9.24" font-size="16.63">-1</tspan><tspan x="130.33" y="0.00" font-size="23.09">)</tspan></text><text transform="translate(638.60,618.69) rotate(-90) scale(0.9604,1)" font-family='"Liberation Sans", Arial, sans-serif' font-weight="bold" fill="#000"><tspan x="0.00" y="0.00" font-size="23.09">G(1582 cm</tspan><tspan x="116.82" y="-9.24" font-size="21.25">-1</tspan><tspan x="135.72" y="0.00" font-size="23.09">)</tspan></text><path d="M1194.6 457.9L1195.1 430.4 1195.6 423.7 1196.1 420.9 1196.6 419.9 1197.1 418.7 1197.6 417.9 1198.1 417.3 1198.6 416.9 1199.1 417.2 1199.6 416.5 1200.1 416.3 1200.6 415.7 1201.1 415.2 1201.6 414.7 1202.1 414.3 1202.6 414.3 1203.1 413.6 1203.6 413.0 1204.1 412.5 1204.6 411.6 1205.1 412.1 1205.6 410.8 1206.1 410.7 1206.6 410.9 1207.1 408.8 1207.6 408.7 1208.1 408.4 1208.6 408.2 1209.1 406.9 1209.6 406.9 1210.1 406.3 1210.6 405.8 1211.1 404.2 1211.6 404.7 1212.1 404.3 1212.6 403.2 1213.1 402.2 1213.6 401.5 1214.1 400.2 1214.6 400.6 1215.1 400.3 1215.6 399.4 1216.1 397.5 1216.6 397.8 1217.1 397.3 1217.6 396.6 1218.1 396.7 1218.6 395.2 1219.1 395.1 1219.6 395.1 1220.1 394.8 1220.6 394.1 1221.1 393.9 1221.6 393.3 1222.1 392.4 1222.6 392.8 1223.1 391.8 1223.6 391.0 1224.1 391.3 1224.6 389.4 1225.1 390.7 1225.6 390.3 1226.1 389.7 1226.6 388.3 1227.1 389.0 1227.6 388.4 1228.1 387.0 1228.6 387.2 1229.1 386.7 1229.6 386.9 1230.1 386.1 1230.6 385.7 1231.1 385.2 1231.6 384.2 1232.1 383.5 1232.6 383.7 1233.1 383.1 1233.6 382.7 1234.1 382.2 1234.6 381.6 1235.1 381.6 1235.6 381.0 1236.1 380.3 1236.6 379.5 1237.1 378.9 1237.6 378.9 1238.1 379.0 1238.6 379.0 1239.1 378.2 1239.6 378.3 1240.1 378.1 1240.6 378.2 1241.1 377.1 1241.6 377.3 1242.1 376.5 1242.6 375.7 1243.1 375.0 1243.6 375.6 1244.1 375.5 1244.6 375.8 1245.1 374.4 1245.6 374.5 1246.1 374.0 1246.6 373.0 1247.1 373.6 1247.6 373.1 1248.1 372.5 1248.6 373.3 1249.1 372.2 1249.6 372.3 1250.1 371.7 1250.6 371.3 1251.1 371.2 1251.6 371.3 1252.1 370.5 1252.6 369.9 1253.1 370.9 1253.6 370.1 1254.1 369.4 1254.6 369.4 1255.1 368.7 1255.6 368.9 1256.1 369.0 1256.6 367.8 1257.1 368.6 1257.6 368.3 1258.1 367.7 1258.6 367.6 1259.1 367.3 1259.6 367.0 1260.1 366.3 1260.6 367.3 1261.1 366.3 1261.6 366.4 1262.1 366.1 1262.6 366.2 1263.1 366.0 1263.6 365.3 1264.1 365.6 1264.6 365.2 1265.1 364.8 1265.6 365.4 1266.1 365.2 1266.6 364.3 1267.1 364.4 1267.6 364.0 1268.1 363.8 1268.6 363.7 1269.1 364.1 1269.6 363.2 1270.1 363.0 1270.6 363.5 1271.1 363.0 1271.6 363.5 1272.1 362.6 1272.6 362.7 1273.1 362.4 1273.6 361.7 1274.1 362.5 1274.6 362.4 1275.1 362.4 1275.6 361.8 1276.1 362.0 1276.6 361.5 1277.1 361.4 1277.6 361.0 1278.1 361.1 1278.6 360.7 1279.1 361.1 1279.6 360.5 1280.1 360.3 1280.6 360.5 1281.1 360.4 1281.6 359.7 1282.1 359.8 1282.6 359.9 1283.1 360.2 1283.6 360.2 1284.1 360.2 1284.6 359.8 1285.1 359.6 1285.6 359.3 1286.1 359.8 1286.6 359.6 1287.1 359.9 1287.6 360.0 1288.1 360.4 1288.6 359.3 1289.1 359.8 1289.6 359.0 1290.1 360.0 1290.6 359.2 1291.1 359.5 1291.6 359.2 1292.1 360.1 1292.6 359.7 1293.1 359.8 1293.6 359.4 1294.1 359.5 1294.6 359.0 1295.1 359.1 1295.6 359.7 1296.1 358.5 1296.6 359.2 1297.1 359.5 1297.6 359.4 1298.1 358.9 1298.6 358.3 1299.1 358.2 1299.6 357.2 1300.1 356.9 1300.6 356.1 1301.1 356.5 1301.6 356.1 1302.1 356.0 1302.6 355.0 1303.1 355.2 1303.6 355.4 1304.1 354.8 1304.6 355.3 1305.1 355.6 1305.6 354.7 1306.1 354.7 1306.6 354.2 1307.1 354.1 1307.6 353.5 1308.1 354.1 1308.6 352.8 1309.1 353.4 1309.6 353.2 1310.1 352.8 1310.6 352.8 1311.1 352.9 1311.6 353.2 1312.1 352.6 1312.6 353.0 1313.1 352.5 1313.6 352.3 1314.1 352.3 1314.6 351.9 1315.1 352.1 1315.6 351.7 1316.1 351.6 1316.6 352.0 1317.1 351.0 1317.6 350.8 1318.1 351.0 1318.6 350.9 1319.1 350.6 1319.6 350.9 1320.1 350.5 1320.6 350.4 1321.1 349.6 1321.6 350.5 1322.1 349.8 1322.6 349.3 1323.1 349.8 1323.6 349.2 1324.1 348.7 1324.6 348.4 1325.1 348.6 1325.6 348.1 1326.1 347.8 1326.6 347.9 1327.1 347.6 1327.6 347.2 1328.1 347.4 1328.6 347.3 1329.1 347.0 1329.6 346.0 1330.1 345.6 1330.6 344.9 1331.1 345.0 1331.6 344.4 1332.1 344.5 1332.6 343.9 1333.1 343.9 1333.6 343.3 1334.1 343.1 1334.6 342.7 1335.1 341.2 1335.6 341.2 1336.1 341.1 1336.6 340.4 1337.1 339.9 1337.6 339.1 1338.1 339.0 1338.6 338.1 1339.1 337.6 1339.6 337.0 1340.1 337.0 1340.6 336.6 1341.1 336.0 1341.6 335.9 1342.1 334.8 1342.6 335.7 1343.1 334.5 1343.6 334.9 1344.1 334.1 1344.6 334.6 1345.1 334.4 1345.6 335.2 1346.1 334.0 1346.6 333.4 1347.1 334.3 1347.6 334.0 1348.1 334.4 1348.6 334.2 1349.1 333.3 1349.6 333.6 1350.1 333.6 1350.6 333.7 1351.1 333.4 1351.6 333.4 1352.1 333.5 1352.6 332.7 1353.1 332.9 1353.6 333.7 1354.1 333.5 1354.6 333.1 1355.1 333.2 1355.6 333.2 1356.1 333.3 1356.6 332.7 1357.1 332.4 1357.6 333.0 1358.1 332.4 1358.6 332.1 1359.1 332.5 1359.6 332.2 1360.1 332.1 1360.6 332.1 1361.1 332.3 1361.6 332.0 1362.1 331.9 1362.6 331.3 1363.1 331.2 1363.6 331.3 1364.1 331.4 1364.6 331.9 1365.1 331.3 1365.6 331.3 1366.1 332.1 1366.6 331.4 1367.1 331.1 1367.6 331.5 1368.1 331.2 1368.6 331.7 1369.1 331.4 1369.6 330.8 1370.1 331.5 1370.6 330.7 1371.1 331.8 1371.6 331.3 1372.1 330.4 1372.6 331.9 1373.1 330.9 1373.6 330.5 1374.1 332.1 1374.6 331.3 1375.1 331.8 1375.6 332.0 1376.1 332.4 1376.6 332.8 1377.1 332.1 1377.6 333.9 1378.1 333.4 1378.6 333.3 1379.1 333.6 1379.6 333.6 1380.1 334.0 1380.6 334.1 1381.1 334.3 1381.6 334.3 1382.1 334.2 1382.6 334.4 1383.1 334.3 1383.6 334.6 1384.1 334.0 1384.6 333.9 1385.1 334.5 1385.6 333.5 1386.1 333.8 1386.6 333.6 1387.1 332.2 1387.6 332.6 1388.1 332.7 1388.6 331.4 1389.1 331.6 1389.6 330.1 1390.1 329.2 1390.6 329.2 1391.1 328.7 1391.6 328.8 1392.1 327.9 1392.6 327.3 1393.1 326.9 1393.6 327.3 1394.1 325.9 1394.6 325.9 1395.1 326.0 1395.6 326.1 1396.1 326.4 1396.6 326.6 1397.1 325.9 1397.6 326.4 1398.1 325.8 1398.6 327.2 1399.1 326.3 1399.6 325.8 1400.1 326.8 1400.6 326.5 1401.1 327.0 1401.6 327.0 1402.1 326.2 1402.6 327.2 1403.1 327.0 1403.6 327.1 1404.1 327.5 1404.6 327.6 1405.1 327.9 1405.6 328.3 1406.1 328.2 1406.6 328.4 1407.1 328.9 1407.6 328.4 1408.1 328.7 1408.6 328.7 1409.1 329.0 1409.6 328.0 1410.1 328.0 1410.6 327.7 1411.1 326.8 1411.6 326.2 1412.1 325.2 1412.6 324.7 1413.1 323.9 1413.6 323.6 1414.1 322.5 1414.6 321.6 1415.1 321.0 1415.6 320.0 1416.1 320.2 1416.6 318.7 1417.1 317.8 1417.6 317.0 1418.1 316.8 1418.6 315.8 1419.1 315.5 1419.6 315.3 1420.1 315.3 1420.6 315.3 1421.1 315.0 1421.6 315.4 1422.1 314.9 1422.6 315.4 1423.1 315.6 1423.6 315.0 1424.1 315.0 1424.6 315.5 1425.1 314.9 1425.6 315.2 1426.1 315.1 1426.6 315.0 1427.1 314.8 1427.6 315.3 1428.1 315.1 1428.6 314.9 1429.1 314.9 1429.6 314.6 1430.1 315.2 1430.6 315.2 1431.1 316.5 1431.6 314.7 1432.1 315.6 1432.6 315.0 1433.1 315.4 1433.6 314.3 1434.1 315.0 1434.6 315.1 1435.1 314.3 1435.6 315.0 1436.1 315.1 1436.6 314.5 1437.1 315.1 1437.6 314.9 1438.1 315.1 1438.6 314.6 1439.1 314.3 1439.6 314.5 1440.1 314.7 1440.6 313.9 1441.1 314.7 1441.6 314.6 1442.1 314.5 1442.6 313.5 1443.1 314.1 1443.6 314.4 1444.1 314.3 1444.6 314.6 1445.1 314.1 1445.6 314.2 1446.1 314.7 1446.6 314.6 1447.1 314.3 1447.6 314.2 1448.1 313.7 1448.6 314.5 1449.1 314.2 1449.6 314.9 1450.1 314.1 1450.6 314.3 1451.1 314.1 1451.6 314.4 1452.1 315.3 1452.6 314.2 1453.1 314.0 1453.6 314.4 1454.1 314.4 1454.6 313.7 1455.1 314.6 1455.6 313.9 1456.1 314.6 1456.6 314.3 1457.1 314.1 1457.6 314.4 1458.1 314.1 1458.6 313.8 1459.1 314.1 1459.6 314.3 1460.1 313.9 1460.6 314.3 1461.1 314.0 1461.6 314.6 1462.1 314.4 1462.6 314.3 1463.1 313.6 1463.6 314.5 1464.1 313.7 1464.6 314.2 1465.1 313.9 1465.6 315.0 1466.1 314.4 1466.6 314.5 1467.1 314.7 1467.6 314.4 1468.1 314.8 1468.6 314.1 1469.1 314.9 1469.6 314.8 1470.1 314.6 1470.6 313.9 1471.1 314.0 1471.6 314.2 1472.1 314.5 1472.6 314.9 1473.1 314.6 1473.6 314.6 1474.1 314.7 1474.6 314.5 1475.1 314.5 1475.6 314.7 1476.1 315.1 1476.6 314.9 1477.1 315.0 1477.6 315.4 1478.1 314.3 1478.6 314.6 1479.1 315.1 1479.6 315.1 1480.1 314.8 1480.6 314.5 1481.1 315.0 1481.6 315.1 1482.1 315.4 1482.6 314.8 1483.1 315.2 1483.6 314.7 1484.1 314.5 1484.6 315.9 1485.1 315.1 1485.6 315.6 1486.1 315.5 1486.6 315.4 1487.1 315.8 1487.6 316.1 1488.1 315.3 1488.6 315.5 1489.1 315.1 1489.6 315.6 1490.1 315.8 1490.6 315.5 1491.1 315.6 1491.6 315.5 1492.1 315.7 1492.6 316.2 1493.1 315.8 1493.6 315.8 1494.1 315.6 1494.6 316.1 1495.1 316.1 1495.6 315.9 1496.1 316.6 1496.6 315.6 1497.1 316.5 1497.6 316.3 1498.1 315.8 1498.6 316.4 1499.1 316.8 1499.6 316.6 1500.1 316.5 1500.6 316.8 1501.1 315.9 1501.6 316.4 1502.1 316.0 1502.6 316.3 1503.1 316.4 1503.6 316.4 1504.1 316.5 1504.6 316.4 1505.1 316.5 1505.6 316.6 1506.1 317.0 1506.6 316.5 1507.1 317.0 1507.6 316.2 1508.1 316.6 1508.6 315.8 1509.1 314.6 1509.6 314.0 1510.1 311.9 1510.6 310.9 1511.1 309.5 1511.6 308.8 1512.1 308.1 1512.6 308.2 1513.1 307.7 1513.6 307.7 1514.1 308.8 1514.6 310.0 1515.1 309.8 1515.6 310.0 1516.1 308.5 1516.6 307.1 1517.1 307.0 1517.6 307.5 1518.1 310.1 1518.6 312.7 1519.1 314.9 1519.6 316.1 1520.1 316.7 1520.6 316.3 1521.1 316.1 1521.6 317.0 1522.1 316.5 1522.6 316.0 1523.1 316.3 1523.6 316.3 1524.1 316.5 1524.6 316.3 1525.1 316.8 1525.6 316.7 1526.1 317.1 1526.6 315.7 1527.1 316.3 1527.6 316.4 1528.1 315.6 1528.6 316.2 1529.1 317.1 1529.6 316.3 1530.1 316.6 1530.6 316.5 1531.1 315.7 1531.6 316.1 1532.1 316.6 1532.6 316.8 1533.1 317.0 1533.6 316.1 1534.1 316.6 1534.6 316.1 1535.1 316.3 1535.6 315.6 1536.1 316.5 1536.6 317.0 1537.1 316.5 1537.6 319.7 1538.1 316.5 1538.6 316.5 1539.1 315.9 1539.6 316.6 1540.1 316.1 1540.6 317.0 1541.1 316.6 1541.6 316.3 1542.1 316.3 1542.6 315.4 1543.1 316.3 1543.6 316.3 1544.1 316.2 1544.6 316.0 1545.1 316.4 1545.6 316.4 1546.1 316.1 1546.6 316.2 1547.1 315.6 1547.6 316.5 1548.1 316.0 1548.6 315.5 1549.1 316.2 1549.6 316.2 1550.1 316.7 1550.6 316.1 1551.1 315.6 1551.6 315.7 1552.1 316.5 1552.6 316.1 1553.1 315.8 1553.6 316.3 1554.1 316.7 1554.6 316.4 1555.1 316.0 1555.6 316.3 1556.1 315.7 1556.6 315.8 1557.1 316.1 1557.6 315.7 1558.1 316.8 1558.6 316.4 1559.1 315.3 1559.6 315.9 1560.1 315.5 1560.6 316.2 1561.1 315.8 1561.6 316.2 1562.1 316.4 1562.6 315.9 1563.1 316.0 1563.6 316.4 1564.1 316.2 1564.6 316.5 1565.1 316.2 1565.6 315.6 1566.1 316.5 1566.6 315.5 1567.1 315.6 1567.6 315.2 1568.1 315.5 1568.6 316.2 1569.1 315.8 1569.6 316.1 1570.1 315.5 1570.6 316.0 1571.1 316.3 1571.6 316.3 1572.1 315.9 1572.6 316.2 1573.1 316.6 1573.6 315.7 1574.1 316.1 1574.6 316.0 1575.1 315.9 1575.6 315.7 1576.1 315.7 1576.6 315.9 1577.1 316.2 1577.6 315.9 1578.1 316.0 1578.6 316.0 1579.1 316.1 1579.6 315.1 1580.1 315.6 1580.6 315.7 1581.1 315.8 1581.6 316.1 1582.1 316.1 1582.6 316.1 1583.1 316.0 1583.6 315.6 1584.1 315.4 1584.6 315.6 1585.1 316.4 1585.6 315.7 1586.1 315.7 1586.6 316.3 1587.1 315.9 1587.6 315.5 1588.1 315.8 1588.6 315.4 1589.1 315.2 1589.6 316.0 1590.1 316.5 1590.6 316.2 1591.1 315.4 1591.6 315.3 1592.1 316.2 1592.6 316.0 1593.1 316.0 1593.6 316.1 1594.1 315.6 1594.6 316.5 1595.1 315.5 1595.6 316.4 1596.1 315.8 1596.6 315.6 1597.1 315.8 1597.6 315.1 1598.1 315.2 1598.6 315.8 1599.1 315.4 1599.6 315.9 1600.1 317.2 1600.6 315.9 1601.1 315.5 1601.6 315.9 1602.1 315.6 1602.6 315.5 1603.1 315.6 1603.6 315.5 1604.1 315.1 1604.6 314.9 1605.1 314.8 1605.6 315.6 1606.1 314.7 1606.6 315.9 1607.1 315.3 1607.6 315.4 1608.1 315.7 1608.6 316.0 1609.1 315.2 1609.6 315.2 1610.1 315.6 1610.6 315.2 1611.1 315.7 1611.6 315.1 1612.1 315.5 1612.6 315.4 1613.1 315.2 1613.6 315.2 1614.1 315.1 1614.6 315.5 1615.1 315.3 1615.6 315.8 1616.1 314.8 1616.6 315.6 1617.1 315.6 1617.6 315.9 1618.1 315.3 1618.6 315.8 1619.1 315.4 1619.6 315.3 1620.1 315.9 1620.6 315.6 1621.1 315.2 1621.6 314.9 1622.1 315.7 1622.6 315.6 1623.1 314.8 1623.6 315.3 1624.1 315.8 1624.6 315.2 1625.1 315.9 1625.6 315.4 1626.1 314.8 1626.6 315.0 1627.1 315.6 1627.6 315.3 1628.1 315.7 1628.6 314.9 1629.1 315.1 1629.6 315.8 1630.1 315.2 1630.6 314.5 1631.1 315.1 1631.6 314.9 1632.1 313.9 1632.6 315.0 1633.1 315.1 1633.6 315.4 1634.1 314.7 1634.6 315.1 1635.1 314.1 1635.6 315.1 1636.1 314.7 1636.6 314.3 1637.1 314.7 1637.6 314.9 1638.1 314.0 1638.6 315.0 1639.1 315.3 1639.6 314.7 1640.1 315.1 1640.6 314.4 1641.1 314.2 1641.6 314.7 1642.1 315.4 1642.6 314.6 1643.1 314.1 1643.6 314.2 1644.1 314.5 1644.6 314.3 1645.1 313.9 1645.6 314.6 1646.1 314.1 1646.6 314.5 1647.1 313.5 1647.6 314.3 1648.1 313.8 1648.6 314.1 1649.1 314.3 1649.6 314.4 1650.1 314.0 1650.6 314.0 1651.1 313.9 1651.6 313.7 1652.1 314.3 1652.6 314.2 1653.1 313.0 1653.6 313.7 1654.1 313.9 1654.6 313.7 1655.1 313.5 1655.6 313.4 1656.1 313.3 1656.6 313.2 1657.1 313.9 1657.6 313.7 1658.1 313.6 1658.6 313.7 1659.1 313.5 1659.6 313.5 1660.1 313.1 1660.6 313.6 1661.1 313.1 1661.6 313.3 1662.1 313.3 1662.6 313.7 1663.1 313.3 1663.6 313.2 1664.1 312.8 1664.6 312.9 1665.1 312.8 1665.6 313.0 1666.1 313.2 1666.6 313.2 1667.1 312.8 1667.6 312.7 1668.1 313.3 1668.6 312.9 1669.1 312.5 1669.6 312.8 1670.1 312.8 1670.6 312.7 1671.1 312.7 1671.6 312.3 1672.1 313.1 1672.6 311.7 1673.1 313.1 1673.6 312.2 1674.1 312.6 1674.6 312.3 1675.1 312.1 1675.6 311.6 1676.1 312.3 1676.6 311.9 1677.1 312.4 1677.6 312.3 1678.1 312.1 1678.6 311.3 1679.1 312.5 1679.6 312.4 1680.1 312.1 1680.6 312.2 1681.1 312.0 1681.6 312.2 1682.1 312.0 1682.6 312.6 1683.1 312.1 1683.6 312.2 1684.1 311.6 1684.6 311.7 1685.1 311.8 1685.6 311.7 1686.1 311.8 1686.6 311.5 1687.1 311.3 1687.6 311.8 1688.1 311.9 1688.6 311.4 1689.1 311.5 1689.6 312.4 1690.1 311.5 1690.6 311.8 1691.1 310.9 1691.6 312.0 1692.1 311.1 1692.6 311.5 1693.1 311.5 1693.6 311.6 1694.1 311.3 1694.6 311.4 1695.1 311.5 1695.6 311.4 1696.1 311.1 1696.6 311.3 1697.1 311.0 1697.6 311.7 1698.1 310.9 1698.6 311.2 1699.1 311.1 1699.6 311.0 1700.1 310.7 1700.6 313.1 1701.1 309.0 1701.6 312.3 1702.1 310.8 1702.6 310.0 1703.1 310.6 1703.6 309.8 1704.1 311.3 1704.6 311.8 1705.1 311.9 1705.6 312.0 1706.1 311.0 1706.6 309.3 1707.1 312.0 1707.6 312.8 1708.1 312.6 1708.6 312.2 1709.1 310.6 1709.6 312.5 1710.1 311.3 1710.6 311.4 1711.1 310.7 1711.6 310.8 1712.1 311.0 1712.6 312.2 1713.1 310.7 1713.6 312.7 1714.1 310.3 1714.6 311.3 1715.1 311.3 1715.6 310.0 1716.1 310.1 1716.6 312.2 1717.1 311.3 1717.6 310.6 1718.1 311.7 1718.6 309.4 1719.1 310.7 1719.6 310.2 1720.1 311.0 1720.6 312.1 1721.1 310.9 1721.6 312.1 1722.1 310.0 1722.6 311.0 1723.1 309.8 1723.6 311.4 1724.1 311.8 1724.6 310.9 1725.1 310.7 1725.6 312.7 1726.1 312.5 1726.6 309.8 1727.1 312.1 1727.6 309.0 1728.1 309.8 1728.6 310.9 1729.1 311.2 1729.6 309.8 1730.1 311.2 1730.6 311.2 1731.1 311.0 1731.6 310.6 1732.1 311.2 1732.6 311.9 1733.1 311.1 1733.6 310.4 1734.1 311.1 1734.6 310.6 1735.1 310.6 1735.6 309.4 1736.1 311.2 1736.6 310.9 1737.1 311.4 1737.6 311.6 1738.1 311.7 1738.6 312.7 1739.1 311.3 1739.6 310.4 1740.1 311.1 1740.6 310.0 1741.1 312.6 1741.6 311.8 1742.1 311.6 1742.6 310.9 1743.1 311.5 1743.6 312.3 1744.1 312.2 1744.6 310.9 1745.1 309.5 1745.6 312.4 1746.1 311.1 1746.6 309.4 1747.1 311.4 1747.6 312.1 1748.1 310.4 1748.6 309.8 1749.1 310.8 1749.6 312.2 1750.1 308.7 1750.6 310.4 1751.1 310.8 1751.6 312.7 1752.1 309.9 1752.6 308.5 1753.1 310.0 1753.6 311.9 1754.1 312.6 1754.6 312.7 1755.1 311.5 1755.6 310.3 1756.1 311.5 1756.6 311.9 1757.1 311.3 1757.6 311.0 1758.1 312.8 1758.6 310.3 1759.1 310.3 1759.6 311.3 1760.1 310.5 1760.6 310.4 1761.1 310.4 1761.6 312.2 1762.1 312.2 1762.6 312.5 1763.1 312.6 1763.6 312.7 1764.1 309.4 1764.6 309.7 1765.1 311.0 1765.6 310.0 1766.1 313.1 1766.6 317.0 1767.1 310.3 1767.6 309.4 1768.1 309.8 1768.6 310.6 1769.1 312.5 1769.6 310.4 1770.1 312.1 1770.6 312.3 1771.1 310.7 1771.6 313.0 1772.1 312.2 1772.6 312.1 1773.1 310.6 1773.6 309.8 1774.1 310.3 1774.6 311.1 1775.1 312.3 1775.6 311.5 1776.1 311.2 1776.6 311.2 1777.1 312.5 1777.6 311.3 1778.1 313.2 1778.6 311.2 1779.1 311.1 1779.6 312.2 1780.1 312.0 1780.6 311.0 1781.1 311.6 1781.6 310.8 1782.1 313.4 1782.6 312.9 1783.1 311.1 1783.6 311.5 1784.1 312.2 1784.6 311.3" fill="none" stroke="#000" stroke-width="1.9" stroke-linejoin="round"/><path d="M1194.6 257.0L1195.1 244.5 1195.6 241.5 1196.1 239.5 1196.6 238.8 1197.1 238.1 1197.6 238.1 1198.1 237.3 1198.6 236.8 1199.1 234.9 1199.6 234.9 1200.1 233.2 1200.6 232.3 1201.1 231.1 1201.6 230.4 1202.1 230.2 1202.6 230.0 1203.1 229.3 1203.6 229.1 1204.1 229.2 1204.6 228.5 1205.1 228.2 1205.6 228.8 1206.1 228.3 1206.6 227.7 1207.1 227.9 1207.6 227.7 1208.1 224.4 1208.6 219.3 1209.1 215.2 1209.6 211.5 1210.1 207.1 1210.6 202.9 1211.1 199.3 1211.6 195.4 1212.1 191.0 1212.6 187.3 1213.1 183.4 1213.6 178.9 1214.1 174.7 1214.6 171.1 1215.1 167.1 1215.6 163.5 1216.1 158.8 1216.6 154.9 1217.1 150.5 1217.6 145.7 1218.1 141.8 1218.6 137.7 1219.1 133.2 1219.6 130.3 1220.1 127.0 1220.6 124.5 1221.1 122.9 1221.6 121.8 1222.1 119.9 1222.6 119.9 1223.1 119.7 1223.6 119.0 1224.1 119.9 1224.6 120.0 1225.1 120.7 1225.6 120.7 1226.1 120.9 1226.6 118.3 1227.1 112.6 1227.6 106.9 1228.1 97.1 1228.6 85.2 1229.1 72.3 1229.6 58.2 1230.1 43.5 1230.6 33.5 1231.1 27.2 1231.6 22.6 1232.1 20.3 1232.6 17.9 1233.1 17.9 1233.6 17.1 1234.1 16.4 1234.6 15.5 1235.1 15.8 1235.6 14.6 1236.1 15.2 1236.6 15.5 1237.1 14.6 1237.6 15.2 1238.1 15.1 1238.6 15.9 1239.1 16.7 1239.6 17.2 1240.1 16.2 1240.6 16.9 1241.1 17.7 1241.6 18.3 1242.1 18.2 1242.6 18.1 1243.1 18.7 1243.6 18.8 1244.1 19.0 1244.6 19.0 1245.1 19.7 1245.6 19.9 1246.1 20.1 1246.6 20.5 1247.1 20.6 1247.6 21.4 1248.1 22.6 1248.6 23.3 1249.1 24.8 1249.6 27.9 1250.1 29.6 1250.6 32.6 1251.1 34.5 1251.6 36.2 1252.1 36.5 1252.6 37.3 1253.1 37.3 1253.6 35.6 1254.1 35.2 1254.6 34.6 1255.1 33.0 1255.6 32.2 1256.1 31.9 1256.6 32.1 1257.1 32.6 1257.6 32.5 1258.1 33.1 1258.6 33.0 1259.1 33.7 1259.6 33.2 1260.1 33.9 1260.6 35.1 1261.1 35.1 1261.6 35.9 1262.1 36.3 1262.6 36.9 1263.1 37.1 1263.6 37.6 1264.1 37.6 1264.6 37.8 1265.1 38.2 1265.6 38.7 1266.1 38.9 1266.6 39.5 1267.1 40.1 1267.6 40.6 1268.1 40.7 1268.6 40.5 1269.1 41.5 1269.6 41.9 1270.1 42.4 1270.6 42.5 1271.1 42.3 1271.6 42.5 1272.1 43.6 1272.6 43.4 1273.1 43.9 1273.6 44.2 1274.1 43.4 1274.6 44.0 1275.1 44.2 1275.6 44.4 1276.1 44.5 1276.6 44.6 1277.1 44.7 1277.6 44.3 1278.1 45.0 1278.6 45.0 1279.1 45.4 1279.6 45.4 1280.1 45.9 1280.6 46.2 1281.1 46.2 1281.6 46.3 1282.1 46.4 1282.6 46.4 1283.1 46.7 1283.6 46.7 1284.1 47.3 1284.6 47.3 1285.1 47.8 1285.6 47.3 1286.1 48.4 1286.6 48.1 1287.1 48.4 1287.6 49.0 1288.1 49.3 1288.6 50.0 1289.1 50.2 1289.6 50.4 1290.1 51.0 1290.6 52.2 1291.1 52.2 1291.6 52.3 1292.1 53.1 1292.6 53.0 1293.1 54.6 1293.6 53.9 1294.1 55.1 1294.6 55.6 1295.1 55.4 1295.6 56.4 1296.1 57.1 1296.6 57.3 1297.1 57.6 1297.6 58.1 1298.1 58.1 1298.6 58.4 1299.1 57.0 1299.6 58.9 1300.1 58.6 1300.6 59.3 1301.1 59.0 1301.6 59.0 1302.1 59.7 1302.6 60.3 1303.1 60.1 1303.6 59.7 1304.1 60.3 1304.6 60.0 1305.1 60.2 1305.6 60.4 1306.1 59.6 1306.6 60.6 1307.1 60.2 1307.6 60.4 1308.1 60.2 1308.6 60.3 1309.1 60.5 1309.6 61.2 1310.1 61.6 1310.6 61.1 1311.1 61.5 1311.6 61.1 1312.1 60.6 1312.6 61.4 1313.1 61.5 1313.6 61.3 1314.1 61.6 1314.6 61.8 1315.1 61.3 1315.6 61.2 1316.1 61.7 1316.6 61.7 1317.1 61.7 1317.6 62.3 1318.1 62.6 1318.6 61.9 1319.1 62.4 1319.6 62.5 1320.1 62.5 1320.6 62.7 1321.1 62.3 1321.6 62.7 1322.1 63.3 1322.6 62.9 1323.1 62.5 1323.6 63.0 1324.1 63.4 1324.6 63.2 1325.1 63.0 1325.6 63.9 1326.1 63.1 1326.6 64.0 1327.1 64.3 1327.6 64.5 1328.1 66.0 1328.6 66.5 1329.1 65.7 1329.6 68.7 1330.1 70.0 1330.6 71.3 1331.1 73.3 1331.6 74.8 1332.1 75.2 1332.6 74.7 1333.1 74.0 1333.6 73.1 1334.1 71.8 1334.6 71.2 1335.1 69.9 1335.6 68.8 1336.1 67.6 1336.6 65.7 1337.1 64.7 1337.6 64.7 1338.1 64.1 1338.6 63.9 1339.1 64.2 1339.6 63.9 1340.1 64.3 1340.6 64.0 1341.1 64.4 1341.6 63.9 1342.1 65.0 1342.6 64.5 1343.1 64.2 1343.6 64.8 1344.1 64.9 1344.6 65.2 1345.1 64.9 1345.6 65.5 1346.1 66.8 1346.6 65.2 1347.1 66.0 1347.6 65.9 1348.1 66.3 1348.6 65.8 1349.1 66.2 1349.6 67.0 1350.1 67.0 1350.6 68.0 1351.1 67.6 1351.6 68.4 1352.1 69.9 1352.6 69.0 1353.1 69.4 1353.6 69.9 1354.1 70.0 1354.6 70.2 1355.1 69.7 1355.6 69.0 1356.1 69.0 1356.6 69.5 1357.1 68.7 1357.6 67.1 1358.1 68.0 1358.6 67.7 1359.1 68.2 1359.6 66.8 1360.1 68.7 1360.6 68.3 1361.1 68.3 1361.6 68.1 1362.1 68.0 1362.6 68.1 1363.1 68.5 1363.6 68.3 1364.1 68.1 1364.6 68.8 1365.1 68.5 1365.6 68.6 1366.1 68.5 1366.6 68.7 1367.1 68.9 1367.6 68.3 1368.1 69.8 1368.6 69.8 1369.1 69.7 1369.6 70.3 1370.1 70.2 1370.6 70.3 1371.1 69.5 1371.6 70.4 1372.1 70.9 1372.6 71.5 1373.1 71.7 1373.6 71.8 1374.1 71.1 1374.6 70.9 1375.1 72.1 1375.6 72.1 1376.1 72.6 1376.6 72.4 1377.1 72.6 1377.6 72.2 1378.1 73.0 1378.6 72.7 1379.1 73.1 1379.6 73.2 1380.1 73.0 1380.6 73.1 1381.1 73.0 1381.6 73.2 1382.1 73.1 1382.6 72.7 1383.1 72.6 1383.6 73.4 1384.1 72.7 1384.6 73.0 1385.1 72.8 1385.6 72.4 1386.1 72.2 1386.6 72.5 1387.1 72.5 1387.6 72.5 1388.1 71.8 1388.6 72.0 1389.1 72.1 1389.6 71.7 1390.1 71.2 1390.6 72.1 1391.1 71.7 1391.6 71.9 1392.1 71.5 1392.6 71.7 1393.1 72.1 1393.6 71.6 1394.1 71.5 1394.6 71.4 1395.1 71.0 1395.6 71.3 1396.1 71.0 1396.6 70.8 1397.1 71.0 1397.6 70.9 1398.1 71.3 1398.6 71.0 1399.1 70.8 1399.6 71.6 1400.1 71.4 1400.6 71.6 1401.1 71.4 1401.6 71.2 1402.1 71.2 1402.6 71.3 1403.1 71.8 1403.6 71.6 1404.1 71.1 1404.6 71.7 1405.1 71.3 1405.6 72.0 1406.1 71.6 1406.6 71.7 1407.1 72.3 1407.6 72.4 1408.1 71.9 1408.6 72.9 1409.1 73.5 1409.6 72.4 1410.1 73.7 1410.6 72.9 1411.1 73.1 1411.6 73.4 1412.1 73.1 1412.6 74.3 1413.1 74.2 1413.6 74.0 1414.1 74.4 1414.6 74.2 1415.1 74.9 1415.6 75.9 1416.1 75.6 1416.6 76.7 1417.1 77.5 1417.6 78.2 1418.1 78.5 1418.6 77.2 1419.1 75.9 1419.6 74.9 1420.1 73.2 1420.6 72.2 1421.1 72.4 1421.6 72.5 1422.1 72.0 1422.6 71.8 1423.1 72.0 1423.6 71.1 1424.1 71.7 1424.6 71.3 1425.1 72.5 1425.6 71.9 1426.1 71.6 1426.6 71.5 1427.1 70.7 1427.6 71.8 1428.1 72.1 1428.6 71.3 1429.1 71.7 1429.6 71.8 1430.1 71.0 1430.6 71.8 1431.1 72.0 1431.6 71.6 1432.1 71.5 1432.6 71.9 1433.1 71.1 1433.6 71.7 1434.1 72.1 1434.6 71.3 1435.1 72.1 1435.6 71.6 1436.1 71.1 1436.6 71.8 1437.1 71.6 1437.6 72.0 1438.1 71.3 1438.6 72.3 1439.1 71.7 1439.6 72.1 1440.1 71.8 1440.6 71.9 1441.1 72.4 1441.6 72.0 1442.1 71.7 1442.6 71.4 1443.1 72.1 1443.6 71.9 1444.1 71.4 1444.6 71.5 1445.1 70.9 1445.6 70.8 1446.1 70.7 1446.6 71.0 1447.1 70.9 1447.6 70.4 1448.1 70.7 1448.6 70.5 1449.1 70.0 1449.6 70.0 1450.1 69.2 1450.6 68.9 1451.1 68.9 1451.6 68.5 1452.1 68.8 1452.6 68.3 1453.1 69.8 1453.6 69.7 1454.1 70.7 1454.6 71.0 1455.1 72.3 1455.6 72.9 1456.1 72.9 1456.6 72.6 1457.1 71.4 1457.6 71.2 1458.1 70.8 1458.6 70.1 1459.1 70.3 1459.6 69.3 1460.1 68.5 1460.6 68.0 1461.1 67.2 1461.6 67.4 1462.1 68.0 1462.6 69.4 1463.1 70.3 1463.6 71.2 1464.1 72.0 1464.6 71.6 1465.1 72.3 1465.6 72.9 1466.1 72.8 1466.6 73.4 1467.1 74.2 1467.6 74.5 1468.1 74.6 1468.6 74.3 1469.1 74.2 1469.6 74.7 1470.1 74.2 1470.6 74.4 1471.1 74.8 1471.6 74.2 1472.1 74.1 1472.6 74.3 1473.1 74.5 1473.6 74.5 1474.1 74.4 1474.6 74.5 1475.1 73.7 1475.6 74.0 1476.1 74.4 1476.6 74.0 1477.1 73.8 1477.6 73.9 1478.1 74.0 1478.6 74.2 1479.1 73.8 1479.6 73.9 1480.1 73.9 1480.6 72.8 1481.1 72.8 1481.6 72.0 1482.1 71.2 1482.6 71.4 1483.1 71.2 1483.6 71.9 1484.1 71.5 1484.6 72.6 1485.1 72.6 1485.6 72.0 1486.1 73.2 1486.6 73.7 1487.1 73.1 1487.6 73.8 1488.1 72.9 1488.6 73.5 1489.1 72.6 1489.6 73.1 1490.1 72.1 1490.6 71.6 1491.1 72.6 1491.6 73.5 1492.1 72.9 1492.6 74.0 1493.1 74.3 1493.6 74.6 1494.1 75.3 1494.6 75.8 1495.1 75.0 1495.6 75.8 1496.1 75.9 1496.6 75.4 1497.1 76.6 1497.6 76.8 1498.1 75.9 1498.6 77.0 1499.1 76.5 1499.6 76.5 1500.1 77.2 1500.6 76.9 1501.1 77.0 1501.6 77.6 1502.1 77.6 1502.6 77.7 1503.1 77.0 1503.6 77.2 1504.1 78.4 1504.6 78.0 1505.1 78.8 1505.6 78.7 1506.1 79.4 1506.6 79.3 1507.1 80.7 1507.6 80.0 1508.1 80.5 1508.6 80.7 1509.1 81.2 1509.6 80.3 1510.1 80.8 1510.6 80.7 1511.1 81.0 1511.6 80.9 1512.1 80.6 1512.6 80.8 1513.1 80.6 1513.6 80.9 1514.1 80.7 1514.6 80.5 1515.1 80.7 1515.6 80.8 1516.1 81.4 1516.6 80.4 1517.1 80.7 1517.6 81.0 1518.1 79.8 1518.6 79.4 1519.1 78.9 1519.6 78.3 1520.1 78.4 1520.6 77.2 1521.1 77.4 1521.6 76.9 1522.1 76.1 1522.6 76.2 1523.1 77.4 1523.6 77.1 1524.1 76.6 1524.6 77.4 1525.1 76.5 1525.6 77.5 1526.1 77.6 1526.6 76.8 1527.1 76.7 1527.6 77.4 1528.1 76.8 1528.6 77.5 1529.1 76.8 1529.6 77.5 1530.1 77.3 1530.6 77.1 1531.1 77.0 1531.6 77.4 1532.1 76.7 1532.6 77.3 1533.1 77.3 1533.6 77.7 1534.1 77.0 1534.6 78.1 1535.1 77.4 1535.6 77.2 1536.1 78.1 1536.6 78.2 1537.1 77.6 1537.6 77.4 1538.1 77.7 1538.6 77.5 1539.1 77.6 1539.6 78.3 1540.1 77.9 1540.6 77.9 1541.1 78.0 1541.6 77.9 1542.1 78.2 1542.6 78.2 1543.1 77.8 1543.6 78.0 1544.1 78.9 1544.6 78.2 1545.1 78.0 1545.6 78.8 1546.1 78.1 1546.6 77.8 1547.1 78.4 1547.6 77.9 1548.1 78.0 1548.6 78.4 1549.1 78.2 1549.6 78.0 1550.1 78.1 1550.6 78.2 1551.1 78.8 1551.6 78.2 1552.1 78.3 1552.6 79.2 1553.1 78.3 1553.6 79.1 1554.1 79.0 1554.6 78.6 1555.1 78.2 1555.6 78.8 1556.1 79.0 1556.6 79.1 1557.1 78.8 1557.6 79.2 1558.1 79.3 1558.6 78.5 1559.1 79.4 1559.6 79.0 1560.1 78.8 1560.6 78.9 1561.1 79.7 1561.6 79.5 1562.1 78.5 1562.6 79.2 1563.1 79.2 1563.6 79.2 1564.1 79.2 1564.6 78.9 1565.1 79.7 1565.6 79.2 1566.1 79.4 1566.6 79.4 1567.1 79.4 1567.6 79.9 1568.1 79.9 1568.6 79.6 1569.1 79.5 1569.6 79.7 1570.1 80.3 1570.6 80.1 1571.1 80.1 1571.6 80.0 1572.1 80.1 1572.6 80.3 1573.1 79.7 1573.6 80.9 1574.1 80.1 1574.6 80.3 1575.1 81.0 1575.6 80.7 1576.1 80.7 1576.6 80.5 1577.1 80.3 1577.6 80.9 1578.1 81.4 1578.6 80.7 1579.1 81.6 1579.6 80.7 1580.1 81.0 1580.6 81.5 1581.1 81.4 1581.6 81.7 1582.1 81.2 1582.6 81.2 1583.1 81.0 1583.6 81.3 1584.1 81.4 1584.6 81.4 1585.1 82.1 1585.6 81.8 1586.1 81.4 1586.6 83.1 1587.1 82.0 1587.6 82.0 1588.1 83.0 1588.6 83.1 1589.1 82.4 1589.6 82.4 1590.1 82.7 1590.6 83.6 1591.1 83.3 1591.6 83.3 1592.1 83.8 1592.6 84.5 1593.1 83.8 1593.6 84.4 1594.1 84.4 1594.6 85.9 1595.1 86.1 1595.6 86.1 1596.1 86.0 1596.6 86.7 1597.1 86.2 1597.6 87.5 1598.1 87.5 1598.6 88.0 1599.1 88.7 1599.6 89.3 1600.1 89.9 1600.6 90.2 1601.1 90.1 1601.6 89.5 1602.1 89.8 1602.6 89.1 1603.1 89.1 1603.6 87.9 1604.1 86.9 1604.6 87.4 1605.1 88.3 1605.6 87.8 1606.1 87.9 1606.6 88.7 1607.1 89.2 1607.6 89.8 1608.1 90.2 1608.6 91.1 1609.1 91.9 1609.6 92.3 1610.1 92.7 1610.6 93.9 1611.1 94.9 1611.6 95.7 1612.1 96.5 1612.6 97.4 1613.1 99.0 1613.6 99.0 1614.1 100.0 1614.6 100.9 1615.1 100.7 1615.6 101.0 1616.1 101.3 1616.6 100.7 1617.1 98.6 1617.6 96.7 1618.1 94.6 1618.6 91.7 1619.1 89.7 1619.6 86.9 1620.1 85.3 1620.6 85.3 1621.1 84.3 1621.6 84.2 1622.1 84.3 1622.6 83.7 1623.1 84.2 1623.6 83.1 1624.1 83.6 1624.6 83.5 1625.1 83.7 1625.6 83.3 1626.1 82.9 1626.6 82.8 1627.1 82.6 1627.6 83.0 1628.1 83.1 1628.6 82.8 1629.1 82.6 1629.6 82.7 1630.1 82.5 1630.6 83.4 1631.1 82.4 1631.6 82.7 1632.1 82.7 1632.6 82.8 1633.1 82.8 1633.6 82.8 1634.1 83.0 1634.6 82.1 1635.1 82.7 1635.6 82.2 1636.1 82.8 1636.6 82.3 1637.1 82.4 1637.6 82.7 1638.1 83.2 1638.6 82.9 1639.1 82.9 1639.6 83.3 1640.1 82.5 1640.6 82.1 1641.1 82.7 1641.6 82.7 1642.1 83.3 1642.6 83.6 1643.1 82.4 1643.6 83.8 1644.1 83.5 1644.6 83.2 1645.1 83.1 1645.6 83.8 1646.1 83.0 1646.6 82.8 1647.1 83.1 1647.6 82.5 1648.1 83.2 1648.6 83.0 1649.1 83.2 1649.6 83.2 1650.1 82.8 1650.6 83.6 1651.1 82.8 1651.6 83.5 1652.1 82.6 1652.6 83.4 1653.1 83.0 1653.6 83.3 1654.1 83.1 1654.6 82.5 1655.1 82.9 1655.6 83.4 1656.1 83.6 1656.6 82.9 1657.1 82.7 1657.6 83.1 1658.1 83.4 1658.6 83.3 1659.1 83.2 1659.6 83.8 1660.1 83.9 1660.6 83.8 1661.1 83.3 1661.6 83.6 1662.1 83.6 1662.6 83.1 1663.1 84.0 1663.6 83.7 1664.1 83.5 1664.6 84.2 1665.1 84.0 1665.6 84.1 1666.1 84.2 1666.6 84.1 1667.1 83.4 1667.6 83.7 1668.1 84.2 1668.6 83.6 1669.1 83.9 1669.6 84.1 1670.1 84.4 1670.6 84.4 1671.1 84.3 1671.6 83.9 1672.1 84.3 1672.6 84.2 1673.1 84.0 1673.6 84.5 1674.1 84.2 1674.6 83.8 1675.1 84.5 1675.6 84.0 1676.1 84.3 1676.6 83.6 1677.1 84.1 1677.6 83.8 1678.1 83.8 1678.6 83.5 1679.1 84.9 1679.6 84.1 1680.1 84.3 1680.6 84.6 1681.1 84.2 1681.6 84.4 1682.1 83.8 1682.6 84.3 1683.1 84.1 1683.6 84.4 1684.1 84.3 1684.6 83.8 1685.1 83.6 1685.6 83.9 1686.1 84.6 1686.6 84.5 1687.1 84.5 1687.6 85.0 1688.1 83.4 1688.6 84.1 1689.1 84.2 1689.6 84.1 1690.1 84.5 1690.6 84.3 1691.1 84.0 1691.6 84.1 1692.1 84.4 1692.6 84.4 1693.1 84.4 1693.6 85.2 1694.1 84.3 1694.6 84.5 1695.1 84.1 1695.6 84.3 1696.1 84.6 1696.6 84.7 1697.1 84.4 1697.6 84.6 1698.1 84.5 1698.6 83.8 1699.1 83.3 1699.6 85.3 1700.1 84.4 1700.6 87.2 1701.1 84.5 1701.6 83.4 1702.1 83.9 1702.6 83.9 1703.1 84.9 1703.6 84.3 1704.1 84.3 1704.6 86.5 1705.1 83.9 1705.6 85.1 1706.1 84.9 1706.6 84.5 1707.1 85.6 1707.6 85.2 1708.1 84.3 1708.6 85.0 1709.1 84.1 1709.6 84.7 1710.1 85.4 1710.6 84.4 1711.1 85.4 1711.6 84.0 1712.1 84.3 1712.6 84.0 1713.1 84.7 1713.6 83.3 1714.1 85.1 1714.6 83.3 1715.1 85.4 1715.6 84.0 1716.1 84.4 1716.6 84.2 1717.1 84.8 1717.6 85.5 1718.1 83.0 1718.6 84.8 1719.1 84.6 1719.6 84.8 1720.1 84.7 1720.6 83.5 1721.1 84.8 1721.6 85.5 1722.1 85.7 1722.6 83.7 1723.1 84.6 1723.6 85.0 1724.1 84.4 1724.6 84.2 1725.1 84.1 1725.6 86.0 1726.1 84.9 1726.6 84.7 1727.1 85.5 1727.6 84.9 1728.1 85.3 1728.6 85.0 1729.1 84.4 1729.6 84.5 1730.1 86.1 1730.6 85.2 1731.1 85.1 1731.6 86.0 1732.1 85.3 1732.6 85.0 1733.1 85.1 1733.6 86.0 1734.1 84.5 1734.6 84.5 1735.1 85.4 1735.6 85.3 1736.1 85.7 1736.6 84.1 1737.1 85.4 1737.6 85.6 1738.1 84.7 1738.6 83.9 1739.1 85.1 1739.6 85.6 1740.1 84.6 1740.6 84.8 1741.1 86.3 1741.6 85.6 1742.1 85.3 1742.6 85.1 1743.1 84.8 1743.6 84.7 1744.1 85.1 1744.6 83.4 1745.1 85.1 1745.6 86.0 1746.1 85.6 1746.6 84.5 1747.1 86.0 1747.6 85.8 1748.1 84.7 1748.6 84.8 1749.1 84.9 1749.6 84.9 1750.1 85.9 1750.6 85.5 1751.1 84.6 1751.6 85.2 1752.1 84.7 1752.6 85.4 1753.1 85.8 1753.6 85.0 1754.1 86.0 1754.6 84.5 1755.1 86.2 1755.6 84.1 1756.1 84.9 1756.6 85.9 1757.1 85.5 1757.6 85.3 1758.1 85.2 1758.6 83.6 1759.1 86.1 1759.6 85.8 1760.1 85.4 1760.6 86.8 1761.1 86.0 1761.6 86.2 1762.1 84.9 1762.6 85.8 1763.1 85.4 1763.6 85.9 1764.1 85.3 1764.6 86.0 1765.1 85.2 1765.6 86.6 1766.1 85.4 1766.6 85.6 1767.1 85.8 1767.6 86.0 1768.1 86.7 1768.6 86.0 1769.1 84.1 1769.6 85.8 1770.1 84.6 1770.6 85.3 1771.1 85.7 1771.6 85.9 1772.1 86.5 1772.6 85.9 1773.1 87.2 1773.6 85.0 1774.1 85.7 1774.6 85.1 1775.1 85.9 1775.6 86.0 1776.1 86.1 1776.6 84.7 1777.1 86.7 1777.6 86.0 1778.1 84.6 1778.6 86.5 1779.1 85.3 1779.6 85.1 1780.1 86.0 1780.6 85.8 1781.1 85.6 1781.6 89.7 1782.1 86.6 1782.6 87.4 1783.1 86.2 1783.6 84.2 1784.1 86.0 1784.6 86.7" fill="none" stroke="#1d6e1d" stroke-width="1.9" stroke-linejoin="round"/><path d="M1194.6 319.1L1195.1 306.5 1195.6 303.4 1196.1 302.0 1196.6 301.5 1197.1 300.0 1197.6 299.8 1198.1 299.0 1198.6 298.6 1199.1 298.0 1199.6 296.5 1200.1 295.5 1200.6 293.5 1201.1 293.3 1201.6 292.3 1202.1 292.8 1202.6 292.1 1203.1 291.9 1203.6 291.2 1204.1 291.3 1204.6 291.1 1205.1 290.7 1205.6 290.6 1206.1 290.6 1206.6 290.3 1207.1 290.1 1207.6 289.8 1208.1 286.6 1208.6 282.1 1209.1 276.7 1209.6 273.6 1210.1 269.1 1210.6 265.1 1211.1 260.8 1211.6 257.2 1212.1 253.2 1212.6 249.3 1213.1 245.0 1213.6 241.1 1214.1 237.7 1214.6 233.2 1215.1 228.9 1215.6 225.5 1216.1 221.3 1216.6 217.4 1217.1 213.1 1217.6 208.2 1218.1 203.2 1218.6 199.5 1219.1 195.7 1219.6 191.8 1220.1 189.0 1220.6 186.8 1221.1 184.6 1221.6 184.0 1222.1 183.1 1222.6 182.2 1223.1 182.0 1223.6 182.1 1224.1 182.7 1224.6 182.2 1225.1 182.5 1225.6 183.2 1226.1 182.7 1226.6 179.8 1227.1 174.7 1227.6 168.9 1228.1 159.4 1228.6 146.6 1229.1 133.9 1229.6 119.8 1230.1 105.3 1230.6 95.6 1231.1 89.4 1231.6 84.7 1232.1 81.9 1232.6 80.8 1233.1 79.3 1233.6 78.6 1234.1 78.6 1234.6 78.2 1235.1 77.8 1235.6 77.4 1236.1 77.4 1236.6 77.4 1237.1 76.7 1237.6 77.2 1238.1 77.8 1238.6 78.1 1239.1 77.7 1239.6 79.0 1240.1 78.7 1240.6 79.1 1241.1 79.6 1241.6 80.1 1242.1 79.7 1242.6 80.8 1243.1 80.7 1243.6 80.6 1244.1 81.0 1244.6 80.6 1245.1 81.4 1245.6 82.0 1246.1 82.0 1246.6 82.5 1247.1 83.0 1247.6 83.6 1248.1 84.6 1248.6 85.5 1249.1 87.3 1249.6 89.7 1250.1 92.2 1250.6 93.8 1251.1 96.7 1251.6 98.0 1252.1 99.6 1252.6 99.1 1253.1 99.0 1253.6 98.0 1254.1 97.1 1254.6 96.8 1255.1 95.6 1255.6 94.1 1256.1 93.6 1256.6 94.3 1257.1 94.3 1257.6 95.5 1258.1 94.7 1258.6 95.1 1259.1 95.6 1259.6 95.5 1260.1 96.2 1260.6 97.5 1261.1 97.4 1261.6 97.6 1262.1 97.7 1262.6 98.7 1263.1 99.2 1263.6 99.4 1264.1 99.6 1264.6 100.2 1265.1 100.7 1265.6 100.7 1266.1 101.6 1266.6 101.1 1267.1 101.7 1267.6 102.5 1268.1 102.9 1268.6 102.9 1269.1 103.7 1269.6 104.3 1270.1 104.3 1270.6 104.5 1271.1 104.9 1271.6 105.0 1272.1 104.6 1272.6 105.2 1273.1 105.9 1273.6 105.2 1274.1 105.8 1274.6 105.8 1275.1 105.8 1275.6 105.9 1276.1 106.5 1276.6 106.7 1277.1 106.9 1277.6 106.4 1278.1 107.0 1278.6 107.4 1279.1 107.8 1279.6 107.9 1280.1 108.1 1280.6 108.4 1281.1 108.4 1281.6 108.0 1282.1 108.5 1282.6 108.4 1283.1 108.0 1283.6 108.4 1284.1 110.0 1284.6 109.0 1285.1 108.9 1285.6 109.7 1286.1 110.7 1286.6 110.4 1287.1 110.9 1287.6 111.1 1288.1 111.5 1288.6 112.5 1289.1 112.7 1289.6 112.9 1290.1 113.7 1290.6 114.2 1291.1 114.2 1291.6 114.9 1292.1 115.3 1292.6 115.4 1293.1 116.5 1293.6 116.5 1294.1 116.8 1294.6 116.9 1295.1 117.5 1295.6 118.9 1296.1 118.4 1296.6 119.4 1297.1 119.5 1297.6 120.1 1298.1 120.4 1298.6 120.1 1299.1 120.5 1299.6 120.8 1300.1 121.0 1300.6 121.1 1301.1 121.2 1301.6 121.7 1302.1 122.1 1302.6 121.9 1303.1 121.6 1303.6 122.1 1304.1 122.1 1304.6 122.4 1305.1 123.0 1305.6 122.3 1306.1 122.5 1306.6 122.3 1307.1 122.6 1307.6 122.6 1308.1 123.4 1308.6 123.0 1309.1 122.8 1309.6 123.7 1310.1 122.6 1310.6 123.5 1311.1 123.6 1311.6 123.5 1312.1 123.3 1312.6 123.4 1313.1 123.4 1313.6 123.8 1314.1 122.8 1314.6 123.5 1315.1 123.8 1315.6 123.6 1316.1 123.2 1316.6 123.8 1317.1 123.7 1317.6 124.3 1318.1 124.6 1318.6 124.2 1319.1 123.6 1319.6 124.2 1320.1 124.1 1320.6 124.7 1321.1 125.1 1321.6 124.7 1322.1 125.4 1322.6 125.3 1323.1 125.1 1323.6 124.6 1324.1 125.1 1324.6 124.7 1325.1 125.7 1325.6 125.5 1326.1 126.2 1326.6 126.1 1327.1 125.8 1327.6 127.3 1328.1 128.1 1328.6 129.1 1329.1 129.0 1329.6 130.3 1330.1 132.3 1330.6 133.7 1331.1 135.2 1331.6 136.5 1332.1 138.0 1332.6 136.6 1333.1 135.7 1333.6 135.0 1334.1 134.0 1334.6 133.4 1335.1 132.3 1335.6 131.1 1336.1 129.5 1336.6 128.3 1337.1 126.9 1337.6 125.8 1338.1 126.8 1338.6 126.0 1339.1 126.5 1339.6 126.1 1340.1 126.3 1340.6 126.3 1341.1 126.0 1341.6 126.6 1342.1 126.8 1342.6 127.1 1343.1 127.1 1343.6 127.4 1344.1 127.3 1344.6 127.3 1345.1 126.7 1345.6 127.3 1346.1 128.2 1346.6 127.9 1347.1 128.3 1347.6 128.1 1348.1 128.1 1348.6 129.2 1349.1 128.9 1349.6 129.5 1350.1 129.4 1350.6 129.4 1351.1 129.2 1351.6 130.5 1352.1 130.4 1352.6 130.7 1353.1 132.3 1353.6 132.3 1354.1 132.3 1354.6 132.0 1355.1 131.7 1355.6 131.6 1356.1 131.1 1356.6 130.7 1357.1 130.6 1357.6 129.3 1358.1 130.4 1358.6 129.9 1359.1 130.4 1359.6 130.5 1360.1 129.8 1360.6 130.4 1361.1 130.4 1361.6 129.9 1362.1 129.9 1362.6 130.2 1363.1 129.4 1363.6 130.1 1364.1 130.4 1364.6 130.3 1365.1 130.0 1365.6 130.6 1366.1 131.4 1366.6 131.5 1367.1 131.1 1367.6 131.1 1368.1 131.5 1368.6 131.7 1369.1 131.6 1369.6 131.9 1370.1 132.3 1370.6 132.6 1371.1 131.6 1371.6 133.0 1372.1 132.8 1372.6 133.4 1373.1 133.2 1373.6 133.5 1374.1 134.2 1374.6 132.7 1375.1 134.5 1375.6 134.2 1376.1 133.7 1376.6 133.6 1377.1 134.8 1377.6 134.4 1378.1 135.2 1378.6 135.1 1379.1 135.0 1379.6 135.4 1380.1 135.2 1380.6 135.4 1381.1 135.4 1381.6 135.2 1382.1 135.3 1382.6 135.3 1383.1 134.5 1383.6 134.8 1384.1 134.8 1384.6 134.7 1385.1 134.2 1385.6 134.5 1386.1 134.7 1386.6 134.6 1387.1 135.0 1387.6 134.2 1388.1 134.2 1388.6 134.1 1389.1 134.1 1389.6 133.9 1390.1 133.4 1390.6 134.1 1391.1 134.3 1391.6 134.3 1392.1 133.4 1392.6 133.7 1393.1 134.3 1393.6 133.5 1394.1 133.6 1394.6 133.3 1395.1 133.7 1395.6 133.6 1396.1 134.0 1396.6 133.3 1397.1 133.3 1397.6 132.7 1398.1 133.0 1398.6 132.9 1399.1 133.0 1399.6 132.7 1400.1 133.6 1400.6 132.9 1401.1 133.4 1401.6 132.9 1402.1 133.5 1402.6 134.1 1403.1 133.3 1403.6 133.8 1404.1 133.7 1404.6 133.9 1405.1 134.1 1405.6 133.8 1406.1 134.1 1406.6 134.1 1407.1 134.1 1407.6 134.1 1408.1 135.0 1408.6 134.5 1409.1 135.1 1409.6 135.2 1410.1 134.8 1410.6 135.6 1411.1 135.1 1411.6 135.8 1412.1 136.2 1412.6 135.7 1413.1 135.8 1413.6 136.0 1414.1 137.4 1414.6 136.7 1415.1 136.7 1415.6 137.9 1416.1 138.2 1416.6 138.9 1417.1 139.2 1417.6 139.2 1418.1 139.8 1418.6 139.1 1419.1 137.7 1419.6 136.5 1420.1 135.1 1420.6 134.7 1421.1 134.3 1421.6 134.2 1422.1 133.8 1422.6 133.5 1423.1 134.0 1423.6 134.0 1424.1 134.1 1424.6 133.7 1425.1 133.7 1425.6 133.8 1426.1 133.3 1426.6 133.4 1427.1 133.9 1427.6 133.2 1428.1 133.6 1428.6 133.9 1429.1 133.7 1429.6 133.7 1430.1 133.2 1430.6 133.6 1431.1 133.5 1431.6 133.8 1432.1 133.8 1432.6 133.7 1433.1 134.4 1433.6 133.9 1434.1 133.7 1434.6 133.6 1435.1 133.8 1435.6 133.7 1436.1 134.5 1436.6 134.2 1437.1 133.9 1437.6 133.8 1438.1 133.7 1438.6 134.0 1439.1 134.6 1439.6 134.4 1440.1 134.1 1440.6 134.1 1441.1 133.4 1441.6 134.3 1442.1 133.9 1442.6 134.4 1443.1 133.8 1443.6 133.6 1444.1 133.7 1444.6 133.3 1445.1 133.9 1445.6 133.4 1446.1 133.3 1446.6 133.1 1447.1 132.7 1447.6 132.9 1448.1 132.6 1448.6 133.0 1449.1 132.1 1449.6 131.9 1450.1 131.2 1450.6 131.0 1451.1 130.7 1451.6 131.1 1452.1 130.7 1452.6 131.2 1453.1 131.3 1453.6 132.0 1454.1 132.2 1454.6 133.9 1455.1 134.9 1455.6 134.5 1456.1 135.1 1456.6 134.7 1457.1 133.8 1457.6 133.9 1458.1 132.8 1458.6 132.4 1459.1 132.5 1459.6 131.4 1460.1 130.2 1460.6 130.5 1461.1 129.3 1461.6 129.8 1462.1 130.3 1462.6 131.3 1463.1 132.0 1463.6 132.6 1464.1 134.4 1464.6 133.8 1465.1 134.3 1465.6 134.2 1466.1 135.4 1466.6 136.2 1467.1 136.5 1467.6 137.2 1468.1 136.9 1468.6 136.6 1469.1 136.4 1469.6 136.9 1470.1 136.4 1470.6 136.5 1471.1 136.1 1471.6 136.5 1472.1 137.1 1472.6 136.4 1473.1 136.6 1473.6 135.6 1474.1 136.9 1474.6 136.6 1475.1 136.9 1475.6 136.5 1476.1 136.1 1476.6 136.0 1477.1 136.6 1477.6 136.4 1478.1 136.1 1478.6 136.4 1479.1 136.0 1479.6 136.2 1480.1 135.3 1480.6 134.5 1481.1 134.0 1481.6 133.8 1482.1 134.2 1482.6 133.4 1483.1 133.2 1483.6 133.8 1484.1 133.9 1484.6 134.3 1485.1 134.6 1485.6 134.4 1486.1 135.0 1486.6 135.2 1487.1 135.0 1487.6 135.4 1488.1 135.7 1488.6 134.9 1489.1 134.9 1489.6 134.9 1490.1 134.8 1490.6 134.8 1491.1 134.1 1491.6 134.9 1492.1 135.4 1492.6 136.3 1493.1 136.2 1493.6 136.5 1494.1 136.6 1494.6 137.5 1495.1 138.0 1495.6 137.4 1496.1 138.0 1496.6 138.3 1497.1 138.4 1497.6 138.1 1498.1 138.6 1498.6 138.4 1499.1 138.2 1499.6 138.8 1500.1 138.9 1500.6 138.6 1501.1 139.2 1501.6 139.8 1502.1 138.8 1502.6 139.7 1503.1 140.0 1503.6 139.9 1504.1 140.3 1504.6 140.4 1505.1 141.3 1505.6 140.9 1506.1 141.5 1506.6 141.2 1507.1 142.3 1507.6 142.6 1508.1 142.1 1508.6 142.5 1509.1 143.1 1509.6 142.7 1510.1 142.5 1510.6 142.0 1511.1 143.0 1511.6 143.5 1512.1 142.7 1512.6 143.0 1513.1 143.0 1513.6 142.8 1514.1 142.8 1514.6 142.8 1515.1 142.5 1515.6 143.6 1516.1 143.7 1516.6 142.8 1517.1 143.3 1517.6 142.3 1518.1 142.5 1518.6 142.5 1519.1 141.0 1519.6 140.0 1520.1 139.7 1520.6 138.4 1521.1 139.7 1521.6 139.4 1522.1 139.2 1522.6 139.3 1523.1 138.8 1523.6 138.8 1524.1 139.4 1524.6 139.5 1525.1 139.2 1525.6 139.2 1526.1 139.0 1526.6 139.7 1527.1 138.7 1527.6 139.0 1528.1 139.1 1528.6 138.8 1529.1 138.9 1529.6 139.0 1530.1 139.7 1530.6 140.0 1531.1 139.5 1531.6 138.9 1532.1 139.3 1532.6 139.5 1533.1 139.4 1533.6 139.4 1534.1 139.8 1534.6 138.9 1535.1 139.4 1535.6 139.7 1536.1 139.9 1536.6 139.8 1537.1 139.8 1537.6 139.7 1538.1 139.6 1538.6 139.9 1539.1 139.8 1539.6 139.6 1540.1 140.3 1540.6 140.4 1541.1 139.8 1541.6 140.2 1542.1 140.4 1542.6 140.1 1543.1 140.1 1543.6 140.3 1544.1 139.5 1544.6 139.6 1545.1 140.4 1545.6 140.3 1546.1 140.7 1546.6 140.1 1547.1 140.7 1547.6 140.7 1548.1 141.0 1548.6 140.1 1549.1 140.3 1549.6 140.5 1550.1 140.5 1550.6 140.1 1551.1 140.3 1551.6 140.1 1552.1 141.4 1552.6 140.6 1553.1 140.6 1553.6 140.5 1554.1 140.7 1554.6 141.0 1555.1 140.6 1555.6 140.8 1556.1 141.6 1556.6 141.2 1557.1 141.0 1557.6 140.8 1558.1 141.0 1558.6 140.8 1559.1 141.1 1559.6 140.9 1560.1 140.9 1560.6 141.0 1561.1 140.8 1561.6 141.3 1562.1 142.2 1562.6 141.1 1563.1 140.8 1563.6 141.7 1564.1 141.4 1564.6 142.2 1565.1 141.7 1565.6 141.9 1566.1 141.4 1566.6 141.1 1567.1 141.7 1567.6 142.0 1568.1 141.5 1568.6 141.3 1569.1 141.7 1569.6 141.8 1570.1 141.9 1570.6 142.1 1571.1 143.0 1571.6 142.2 1572.1 142.1 1572.6 141.9 1573.1 142.7 1573.6 141.9 1574.1 143.0 1574.6 142.6 1575.1 142.1 1575.6 142.8 1576.1 142.7 1576.6 143.2 1577.1 142.4 1577.6 143.0 1578.1 143.0 1578.6 143.4 1579.1 142.8 1579.6 142.9 1580.1 144.0 1580.6 143.6 1581.1 142.9 1581.6 143.6 1582.1 143.3 1582.6 143.4 1583.1 143.3 1583.6 144.1 1584.1 143.7 1584.6 144.0 1585.1 144.0 1585.6 143.6 1586.1 143.9 1586.6 144.6 1587.1 143.8 1587.6 144.6 1588.1 144.6 1588.6 144.9 1589.1 145.1 1589.6 145.3 1590.1 145.1 1590.6 145.3 1591.1 145.2 1591.6 145.5 1592.1 146.2 1592.6 145.9 1593.1 146.7 1593.6 147.0 1594.1 146.6 1594.6 147.4 1595.1 147.2 1595.6 147.9 1596.1 147.9 1596.6 148.6 1597.1 149.0 1597.6 149.1 1598.1 150.8 1598.6 150.9 1599.1 150.5 1599.6 151.6 1600.1 151.7 1600.6 152.7 1601.1 152.1 1601.6 152.1 1602.1 151.6 1602.6 151.4 1603.1 150.6 1603.6 150.0 1604.1 149.7 1604.6 149.5 1605.1 149.8 1605.6 149.8 1606.1 149.9 1606.6 150.4 1607.1 150.7 1607.6 151.8 1608.1 151.7 1608.6 153.1 1609.1 154.3 1609.6 154.5 1610.1 154.8 1610.6 155.9 1611.1 156.4 1611.6 157.3 1612.1 158.6 1612.6 159.1 1613.1 160.8 1613.6 161.2 1614.1 161.6 1614.6 162.1 1615.1 162.7 1615.6 162.2 1616.1 163.1 1616.6 162.6 1617.1 160.8 1617.6 158.5 1618.1 156.9 1618.6 154.5 1619.1 151.4 1619.6 149.2 1620.1 148.3 1620.6 147.6 1621.1 146.9 1621.6 146.7 1622.1 146.4 1622.6 145.5 1623.1 145.9 1623.6 145.7 1624.1 144.0 1624.6 144.8 1625.1 145.9 1625.6 145.1 1626.1 145.4 1626.6 144.7 1627.1 145.3 1627.6 144.9 1628.1 144.5 1628.6 144.8 1629.1 145.2 1629.6 145.5 1630.1 144.9 1630.6 144.5 1631.1 144.4 1631.6 145.0 1632.1 145.1 1632.6 144.8 1633.1 144.7 1633.6 145.0 1634.1 144.9 1634.6 144.9 1635.1 144.2 1635.6 144.7 1636.1 145.4 1636.6 144.8 1637.1 145.7 1637.6 145.0 1638.1 144.7 1638.6 144.9 1639.1 145.1 1639.6 144.6 1640.1 145.0 1640.6 144.7 1641.1 144.9 1641.6 144.8 1642.1 145.0 1642.6 144.4 1643.1 144.5 1643.6 145.0 1644.1 144.7 1644.6 144.9 1645.1 145.1 1645.6 145.2 1646.1 144.6 1646.6 145.0 1647.1 145.3 1647.6 144.9 1648.1 144.7 1648.6 144.9 1649.1 145.7 1649.6 145.2 1650.1 145.8 1650.6 145.1 1651.1 145.7 1651.6 144.8 1652.1 145.2 1652.6 145.4 1653.1 146.0 1653.6 145.5 1654.1 145.8 1654.6 145.3 1655.1 145.3 1655.6 145.9 1656.1 146.0 1656.6 145.9 1657.1 145.9 1657.6 145.3 1658.1 146.3 1658.6 145.6 1659.1 146.0 1659.6 145.9 1660.1 145.0 1660.6 145.0 1661.1 145.1 1661.6 145.7 1662.1 146.1 1662.6 145.7 1663.1 146.1 1663.6 145.3 1664.1 145.6 1664.6 145.5 1665.1 145.9 1665.6 145.5 1666.1 145.8 1666.6 146.1 1667.1 145.8 1667.6 145.6 1668.1 145.8 1668.6 145.5 1669.1 145.6 1669.6 146.3 1670.1 146.1 1670.6 145.5 1671.1 146.0 1671.6 146.2 1672.1 146.4 1672.6 146.3 1673.1 146.5 1673.6 146.1 1674.1 146.2 1674.6 146.1 1675.1 146.6 1675.6 146.5 1676.1 146.8 1676.6 147.0 1677.1 146.0 1677.6 145.7 1678.1 145.8 1678.6 146.0 1679.1 146.5 1679.6 145.8 1680.1 145.6 1680.6 146.2 1681.1 146.6 1681.6 146.6 1682.1 146.9 1682.6 146.3 1683.1 146.2 1683.6 146.3 1684.1 145.9 1684.6 146.1 1685.1 146.8 1685.6 147.1 1686.1 146.8 1686.6 146.5 1687.1 146.3 1687.6 146.5 1688.1 145.8 1688.6 146.6 1689.1 146.7 1689.6 146.4 1690.1 146.5 1690.6 145.9 1691.1 146.7 1691.6 146.8 1692.1 145.5 1692.6 146.3 1693.1 146.6 1693.6 147.1 1694.1 146.2 1694.6 146.5 1695.1 147.0 1695.6 146.7 1696.1 146.5 1696.6 146.4 1697.1 146.6 1697.6 146.3 1698.1 146.9 1698.6 146.3 1699.1 146.8 1699.6 146.9 1700.1 146.4 1700.6 145.8 1701.1 146.3 1701.6 146.5 1702.1 146.1 1702.6 146.9 1703.1 146.5 1703.6 146.1 1704.1 146.9 1704.6 146.3 1705.1 146.2 1705.6 146.1 1706.1 147.8 1706.6 146.2 1707.1 146.6 1707.6 146.6 1708.1 146.5 1708.6 147.3 1709.1 147.6 1709.6 146.4 1710.1 148.4 1710.6 146.9 1711.1 146.9 1711.6 146.5 1712.1 145.5 1712.6 147.3 1713.1 146.6 1713.6 147.4 1714.1 146.7 1714.6 146.6 1715.1 146.7 1715.6 146.3 1716.1 147.0 1716.6 146.7 1717.1 147.3 1717.6 147.6 1718.1 146.5 1718.6 146.9 1719.1 148.4 1719.6 147.0 1720.1 148.0 1720.6 146.8 1721.1 146.6 1721.6 147.2 1722.1 147.8 1722.6 147.6 1723.1 147.3 1723.6 144.9 1724.1 147.3 1724.6 146.6 1725.1 146.8 1725.6 145.9 1726.1 146.6 1726.6 146.9 1727.1 146.7 1727.6 147.0 1728.1 148.0 1728.6 147.8 1729.1 147.2 1729.6 147.7 1730.1 147.2 1730.6 147.0 1731.1 145.7 1731.6 146.0 1732.1 147.5 1732.6 148.0 1733.1 146.3 1733.6 148.4 1734.1 147.5 1734.6 147.1 1735.1 146.7 1735.6 147.2 1736.1 148.0 1736.6 146.5 1737.1 146.4 1737.6 146.4 1738.1 145.4 1738.6 146.7 1739.1 146.8 1739.6 147.0 1740.1 146.5 1740.6 146.6 1741.1 148.5 1741.6 146.9 1742.1 146.4 1742.6 147.0 1743.1 147.9 1743.6 147.6 1744.1 147.0 1744.6 147.3 1745.1 148.4 1745.6 147.3 1746.1 147.4 1746.6 147.4 1747.1 147.5 1747.6 146.6 1748.1 147.4 1748.6 147.2 1749.1 146.8 1749.6 147.4 1750.1 148.2 1750.6 147.3 1751.1 147.7 1751.6 148.2 1752.1 147.8 1752.6 147.5 1753.1 147.8 1753.6 148.0 1754.1 147.4 1754.6 147.1 1755.1 146.5 1755.6 147.5 1756.1 147.8 1756.6 147.5 1757.1 147.5 1757.6 147.8 1758.1 148.3 1758.6 147.1 1759.1 146.8 1759.6 147.9 1760.1 147.1 1760.6 147.4 1761.1 147.2 1761.6 147.3 1762.1 146.7 1762.6 148.1 1763.1 148.1 1763.6 146.9 1764.1 147.7 1764.6 147.6 1765.1 148.1 1765.6 146.7 1766.1 146.3 1766.6 149.2 1767.1 146.7 1767.6 148.0 1768.1 147.8 1768.6 147.7 1769.1 148.7 1769.6 148.2 1770.1 148.1 1770.6 148.2 1771.1 148.7 1771.6 148.4 1772.1 148.8 1772.6 147.6 1773.1 148.6 1773.6 148.2 1774.1 148.5 1774.6 149.3 1775.1 147.2 1775.6 148.0 1776.1 148.7 1776.6 147.3 1777.1 148.4 1777.6 148.1 1778.1 146.7 1778.6 147.4 1779.1 148.7 1779.6 147.7 1780.1 147.6 1780.6 147.4 1781.1 147.1 1781.6 148.4 1782.1 147.9 1782.6 148.8 1783.1 148.8 1783.6 148.5 1784.1 149.1 1784.6 149.2" fill="none" stroke="#561456" stroke-width="1.9" stroke-linejoin="round"/><path d="M1194.6 381.6L1195.1 367.0 1195.6 365.4 1196.1 363.7 1196.6 363.3 1197.1 362.5 1197.6 362.6 1198.1 361.4 1198.6 360.4 1199.1 359.7 1199.6 358.5 1200.1 357.1 1200.6 356.0 1201.1 355.4 1201.6 354.7 1202.1 353.9 1202.6 353.6 1203.1 352.8 1203.6 353.8 1204.1 352.9 1204.6 353.3 1205.1 352.9 1205.6 353.3 1206.1 353.1 1206.6 352.5 1207.1 352.7 1207.6 351.5 1208.1 349.2 1208.6 343.3 1209.1 339.3 1209.6 335.6 1210.1 331.3 1210.6 327.1 1211.1 322.9 1211.6 319.1 1212.1 315.5 1212.6 311.4 1213.1 306.9 1213.6 302.6 1214.1 299.2 1214.6 294.5 1215.1 290.8 1215.6 286.8 1216.1 283.5 1216.6 279.2 1217.1 274.9 1217.6 270.4 1218.1 265.6 1218.6 261.7 1219.1 257.9 1219.6 253.8 1220.1 250.9 1220.6 248.3 1221.1 247.1 1221.6 245.7 1222.1 244.7 1222.6 243.8 1223.1 244.1 1223.6 243.5 1224.1 243.7 1224.6 243.8 1225.1 244.7 1225.6 244.6 1226.1 244.7 1226.6 242.5 1227.1 237.4 1227.6 230.8 1228.1 220.2 1228.6 208.7 1229.1 196.1 1229.6 181.4 1230.1 167.1 1230.6 158.2 1231.1 150.9 1231.6 145.9 1232.1 143.9 1232.6 142.5 1233.1 141.6 1233.6 140.7 1234.1 140.4 1234.6 140.0 1235.1 138.7 1235.6 138.5 1236.1 139.4 1236.6 139.3 1237.1 139.0 1237.6 139.0 1238.1 139.5 1238.6 139.4 1239.1 140.0 1239.6 141.0 1240.1 140.8 1240.6 141.5 1241.1 141.4 1241.6 141.9 1242.1 142.5 1242.6 141.9 1243.1 142.4 1243.6 142.7 1244.1 143.1 1244.6 143.8 1245.1 143.8 1245.6 143.3 1246.1 144.1 1246.6 144.2 1247.1 144.7 1247.6 146.2 1248.1 145.8 1248.6 147.5 1249.1 149.0 1249.6 151.7 1250.1 153.5 1250.6 155.9 1251.1 158.4 1251.6 160.8 1252.1 160.7 1252.6 160.6 1253.1 160.0 1253.6 160.4 1254.1 159.3 1254.6 158.1 1255.1 157.1 1255.6 157.2 1256.1 156.0 1256.6 156.4 1257.1 156.4 1257.6 156.5 1258.1 156.5 1258.6 157.0 1259.1 157.4 1259.6 157.2 1260.1 159.3 1260.6 159.2 1261.1 159.3 1261.6 159.6 1262.1 159.8 1262.6 160.8 1263.1 160.8 1263.6 161.4 1264.1 161.1 1264.6 162.2 1265.1 163.2 1265.6 162.8 1266.1 163.6 1266.6 163.7 1267.1 164.5 1267.6 164.8 1268.1 164.9 1268.6 165.0 1269.1 165.6 1269.6 165.8 1270.1 165.8 1270.6 166.4 1271.1 166.7 1271.6 166.4 1272.1 166.9 1272.6 168.1 1273.1 167.6 1273.6 167.5 1274.1 168.5 1274.6 167.7 1275.1 167.1 1275.6 167.5 1276.1 167.8 1276.6 168.6 1277.1 169.0 1277.6 168.1 1278.1 169.4 1278.6 168.8 1279.1 169.5 1279.6 169.7 1280.1 169.9 1280.6 169.9 1281.1 170.1 1281.6 169.8 1282.1 170.5 1282.6 170.9 1283.1 171.1 1283.6 171.8 1284.1 171.5 1284.6 171.6 1285.1 172.1 1285.6 171.9 1286.1 171.6 1286.6 171.6 1287.1 173.1 1287.6 173.3 1288.1 173.8 1288.6 173.8 1289.1 174.5 1289.6 175.5 1290.1 175.4 1290.6 175.4 1291.1 176.1 1291.6 177.1 1292.1 176.7 1292.6 176.6 1293.1 177.2 1293.6 178.0 1294.1 179.2 1294.6 179.4 1295.1 179.6 1295.6 179.9 1296.1 180.7 1296.6 181.1 1297.1 181.3 1297.6 182.1 1298.1 181.8 1298.6 182.9 1299.1 181.7 1299.6 182.7 1300.1 182.5 1300.6 183.3 1301.1 183.1 1301.6 183.5 1302.1 183.7 1302.6 183.7 1303.1 184.1 1303.6 183.4 1304.1 184.4 1304.6 184.1 1305.1 184.4 1305.6 184.9 1306.1 184.8 1306.6 185.2 1307.1 183.8 1307.6 184.3 1308.1 185.1 1308.6 184.4 1309.1 186.1 1309.6 185.5 1310.1 185.3 1310.6 184.7 1311.1 185.3 1311.6 185.4 1312.1 185.3 1312.6 185.3 1313.1 185.4 1313.6 184.9 1314.1 185.5 1314.6 185.2 1315.1 185.8 1315.6 185.8 1316.1 185.4 1316.6 186.0 1317.1 186.0 1317.6 185.9 1318.1 186.3 1318.6 186.0 1319.1 186.1 1319.6 186.2 1320.1 186.3 1320.6 186.7 1321.1 185.6 1321.6 186.4 1322.1 185.8 1322.6 186.5 1323.1 186.8 1323.6 186.8 1324.1 187.3 1324.6 187.2 1325.1 186.2 1325.6 187.0 1326.1 188.1 1326.6 188.4 1327.1 188.3 1327.6 188.3 1328.1 190.3 1328.6 189.6 1329.1 191.3 1329.6 192.4 1330.1 194.2 1330.6 195.5 1331.1 197.4 1331.6 199.0 1332.1 198.8 1332.6 198.1 1333.1 197.9 1333.6 197.0 1334.1 195.8 1334.6 194.5 1335.1 194.0 1335.6 192.6 1336.1 190.9 1336.6 190.1 1337.1 188.9 1337.6 188.2 1338.1 187.4 1338.6 187.7 1339.1 188.2 1339.6 188.7 1340.1 188.3 1340.6 188.3 1341.1 188.6 1341.6 188.8 1342.1 189.2 1342.6 188.8 1343.1 188.6 1343.6 189.1 1344.1 188.3 1344.6 189.1 1345.1 189.1 1345.6 189.4 1346.1 189.7 1346.6 189.7 1347.1 189.3 1347.6 189.9 1348.1 189.9 1348.6 190.4 1349.1 190.7 1349.6 190.5 1350.1 191.3 1350.6 191.8 1351.1 191.7 1351.6 192.6 1352.1 192.3 1352.6 193.1 1353.1 194.0 1353.6 193.3 1354.1 193.8 1354.6 193.6 1355.1 194.0 1355.6 193.7 1356.1 192.7 1356.6 192.6 1357.1 191.3 1357.6 192.4 1358.1 192.1 1358.6 192.5 1359.1 191.2 1359.6 192.1 1360.1 191.9 1360.6 191.1 1361.1 191.8 1361.6 192.0 1362.1 192.3 1362.6 192.1 1363.1 191.9 1363.6 192.3 1364.1 192.2 1364.6 192.1 1365.1 192.1 1365.6 192.7 1366.1 192.8 1366.6 193.6 1367.1 192.9 1367.6 193.8 1368.1 193.5 1368.6 194.0 1369.1 193.4 1369.6 193.6 1370.1 193.9 1370.6 194.5 1371.1 194.4 1371.6 194.8 1372.1 194.8 1372.6 195.2 1373.1 195.2 1373.6 195.1 1374.1 195.7 1374.6 195.7 1375.1 196.5 1375.6 196.0 1376.1 196.3 1376.6 196.3 1377.1 197.0 1377.6 197.0 1378.1 197.0 1378.6 196.4 1379.1 196.4 1379.6 197.1 1380.1 197.3 1380.6 197.5 1381.1 196.3 1381.6 196.9 1382.1 196.3 1382.6 196.6 1383.1 196.8 1383.6 197.1 1384.1 196.6 1384.6 196.4 1385.1 196.5 1385.6 197.0 1386.1 197.3 1386.6 195.9 1387.1 196.3 1387.6 196.1 1388.1 196.6 1388.6 196.3 1389.1 196.6 1389.6 195.7 1390.1 196.0 1390.6 195.8 1391.1 195.5 1391.6 195.7 1392.1 195.3 1392.6 196.4 1393.1 195.7 1393.6 195.1 1394.1 195.2 1394.6 195.9 1395.1 195.1 1395.6 195.4 1396.1 195.3 1396.6 195.4 1397.1 194.9 1397.6 194.9 1398.1 194.8 1398.6 194.4 1399.1 195.0 1399.6 195.1 1400.1 195.0 1400.6 195.1 1401.1 194.8 1401.6 196.0 1402.1 195.1 1402.6 195.0 1403.1 195.3 1403.6 195.5 1404.1 195.9 1404.6 194.9 1405.1 196.0 1405.6 195.7 1406.1 196.0 1406.6 196.5 1407.1 196.6 1407.6 196.2 1408.1 196.5 1408.6 197.3 1409.1 197.3 1409.6 197.2 1410.1 197.0 1410.6 197.5 1411.1 197.4 1411.6 197.3 1412.1 197.3 1412.6 198.0 1413.1 198.2 1413.6 198.7 1414.1 198.3 1414.6 199.3 1415.1 198.9 1415.6 200.0 1416.1 200.4 1416.6 200.7 1417.1 201.1 1417.6 201.8 1418.1 201.9 1418.6 201.7 1419.1 200.0 1419.6 198.2 1420.1 197.3 1420.6 197.0 1421.1 196.6 1421.6 195.7 1422.1 195.8 1422.6 195.9 1423.1 195.5 1423.6 195.6 1424.1 195.6 1424.6 195.3 1425.1 195.4 1425.6 195.4 1426.1 195.7 1426.6 195.1 1427.1 195.6 1427.6 195.2 1428.1 195.2 1428.6 195.1 1429.1 196.9 1429.6 195.9 1430.1 196.0 1430.6 195.8 1431.1 195.4 1431.6 195.6 1432.1 195.7 1432.6 195.7 1433.1 195.8 1433.6 196.2 1434.1 194.6 1434.6 195.5 1435.1 196.0 1435.6 195.7 1436.1 195.8 1436.6 196.4 1437.1 196.0 1437.6 196.6 1438.1 195.9 1438.6 196.1 1439.1 195.6 1439.6 195.3 1440.1 195.9 1440.6 196.0 1441.1 195.8 1441.6 195.4 1442.1 196.1 1442.6 195.8 1443.1 195.7 1443.6 195.3 1444.1 196.1 1444.6 195.9 1445.1 195.4 1445.6 195.1 1446.1 195.1 1446.6 195.5 1447.1 195.7 1447.6 194.6 1448.1 194.3 1448.6 193.6 1449.1 194.9 1449.6 193.2 1450.1 193.6 1450.6 193.1 1451.1 193.2 1451.6 192.2 1452.1 191.9 1452.6 192.8 1453.1 193.4 1453.6 194.4 1454.1 194.1 1454.6 195.3 1455.1 196.0 1455.6 196.0 1456.1 196.4 1456.6 196.6 1457.1 195.9 1457.6 195.0 1458.1 195.1 1458.6 194.7 1459.1 194.1 1459.6 193.5 1460.1 191.9 1460.6 192.0 1461.1 191.7 1461.6 191.5 1462.1 192.3 1462.6 192.9 1463.1 194.6 1463.6 194.9 1464.1 195.3 1464.6 196.1 1465.1 196.5 1465.6 197.1 1466.1 197.0 1466.6 197.4 1467.1 198.0 1467.6 198.9 1468.1 198.4 1468.6 197.8 1469.1 198.4 1469.6 198.0 1470.1 197.7 1470.6 198.1 1471.1 198.1 1471.6 198.4 1472.1 198.8 1472.6 198.7 1473.1 198.6 1473.6 198.1 1474.1 198.4 1474.6 198.3 1475.1 198.8 1475.6 198.1 1476.1 198.1 1476.6 198.8 1477.1 198.5 1477.6 198.1 1478.1 198.4 1478.6 198.3 1479.1 198.2 1479.6 198.1 1480.1 197.5 1480.6 196.8 1481.1 196.2 1481.6 195.3 1482.1 195.5 1482.6 195.9 1483.1 195.6 1483.6 195.5 1484.1 195.8 1484.6 195.8 1485.1 196.5 1485.6 197.4 1486.1 197.6 1486.6 197.6 1487.1 197.6 1487.6 197.4 1488.1 197.1 1488.6 197.4 1489.1 197.0 1489.6 197.2 1490.1 196.8 1490.6 196.4 1491.1 196.7 1491.6 197.7 1492.1 196.8 1492.6 198.1 1493.1 198.5 1493.6 198.7 1494.1 198.8 1494.6 199.3 1495.1 199.5 1495.6 199.9 1496.1 200.0 1496.6 200.0 1497.1 199.8 1497.6 200.3 1498.1 200.1 1498.6 200.0 1499.1 200.8 1499.6 200.6 1500.1 200.3 1500.6 200.8 1501.1 200.2 1501.6 201.0 1502.1 201.4 1502.6 201.2 1503.1 201.6 1503.6 202.5 1504.1 202.6 1504.6 202.7 1505.1 202.9 1505.6 202.9 1506.1 203.4 1506.6 203.7 1507.1 204.1 1507.6 204.4 1508.1 204.3 1508.6 205.3 1509.1 204.4 1509.6 204.9 1510.1 205.2 1510.6 204.8 1511.1 204.6 1511.6 204.8 1512.1 205.5 1512.6 205.0 1513.1 204.7 1513.6 204.9 1514.1 204.7 1514.6 204.0 1515.1 204.8 1515.6 205.0 1516.1 205.0 1516.6 204.6 1517.1 204.1 1517.6 205.0 1518.1 204.4 1518.6 204.3 1519.1 203.7 1519.6 202.5 1520.1 201.5 1520.6 200.8 1521.1 200.8 1521.6 201.0 1522.1 200.8 1522.6 201.1 1523.1 200.3 1523.6 200.7 1524.1 201.0 1524.6 200.8 1525.1 200.9 1525.6 200.7 1526.1 201.3 1526.6 201.7 1527.1 200.8 1527.6 201.6 1528.1 200.7 1528.6 201.2 1529.1 200.5 1529.6 201.4 1530.1 201.3 1530.6 201.3 1531.1 201.7 1531.6 201.5 1532.1 201.4 1532.6 201.1 1533.1 201.4 1533.6 201.2 1534.1 201.3 1534.6 202.0 1535.1 201.8 1535.6 201.7 1536.1 201.8 1536.6 201.1 1537.1 201.7 1537.6 201.1 1538.1 201.5 1538.6 201.8 1539.1 201.9 1539.6 202.0 1540.1 201.8 1540.6 201.8 1541.1 201.8 1541.6 202.4 1542.1 202.3 1542.6 201.4 1543.1 202.0 1543.6 202.4 1544.1 201.9 1544.6 202.1 1545.1 201.8 1545.6 201.6 1546.1 202.1 1546.6 202.0 1547.1 202.1 1547.6 201.7 1548.1 201.8 1548.6 202.2 1549.1 202.1 1549.6 202.5 1550.1 201.9 1550.6 202.6 1551.1 202.6 1551.6 202.4 1552.1 202.6 1552.6 202.4 1553.1 202.4 1553.6 202.5 1554.1 202.1 1554.6 202.5 1555.1 202.9 1555.6 202.1 1556.1 202.9 1556.6 202.5 1557.1 202.6 1557.6 202.8 1558.1 202.9 1558.6 203.3 1559.1 202.8 1559.6 203.5 1560.1 203.0 1560.6 203.2 1561.1 203.3 1561.6 202.8 1562.1 202.7 1562.6 203.2 1563.1 203.4 1563.6 203.6 1564.1 203.2 1564.6 204.0 1565.1 203.4 1565.6 203.2 1566.1 203.9 1566.6 204.0 1567.1 203.3 1567.6 204.0 1568.1 203.3 1568.6 203.8 1569.1 204.6 1569.6 204.3 1570.1 204.2 1570.6 204.2 1571.1 203.8 1571.6 204.2 1572.1 204.3 1572.6 203.9 1573.1 204.4 1573.6 204.6 1574.1 204.5 1574.6 204.6 1575.1 204.5 1575.6 204.2 1576.1 204.7 1576.6 204.1 1577.1 204.6 1577.6 205.3 1578.1 205.6 1578.6 205.2 1579.1 204.2 1579.6 205.6 1580.1 205.4 1580.6 205.2 1581.1 205.6 1581.6 205.6 1582.1 205.1 1582.6 205.1 1583.1 206.0 1583.6 204.9 1584.1 206.0 1584.6 206.0 1585.1 206.3 1585.6 206.7 1586.1 206.6 1586.6 206.8 1587.1 206.6 1587.6 206.6 1588.1 206.9 1588.6 206.7 1589.1 206.5 1589.6 206.9 1590.1 206.5 1590.6 207.0 1591.1 208.1 1591.6 207.8 1592.1 207.8 1592.6 207.9 1593.1 207.7 1593.6 208.4 1594.1 208.6 1594.6 209.2 1595.1 209.5 1595.6 209.7 1596.1 209.4 1596.6 211.0 1597.1 211.1 1597.6 211.4 1598.1 211.9 1598.6 212.7 1599.1 213.4 1599.6 213.5 1600.1 213.4 1600.6 213.5 1601.1 213.2 1601.6 213.9 1602.1 213.8 1602.6 213.6 1603.1 212.7 1603.6 212.5 1604.1 211.5 1604.6 211.8 1605.1 211.5 1605.6 211.4 1606.1 211.4 1606.6 212.8 1607.1 212.2 1607.6 213.9 1608.1 214.1 1608.6 215.3 1609.1 215.6 1609.6 216.8 1610.1 217.0 1610.6 217.4 1611.1 218.4 1611.6 218.9 1612.1 220.4 1612.6 221.6 1613.1 222.2 1613.6 222.9 1614.1 224.0 1614.6 223.8 1615.1 224.8 1615.6 224.9 1616.1 224.8 1616.6 224.3 1617.1 222.1 1617.6 220.5 1618.1 218.7 1618.6 215.7 1619.1 213.3 1619.6 211.2 1620.1 210.2 1620.6 209.0 1621.1 209.2 1621.6 208.5 1622.1 208.3 1622.6 207.8 1623.1 208.1 1623.6 207.4 1624.1 207.6 1624.6 207.4 1625.1 207.4 1625.6 206.6 1626.1 207.1 1626.6 206.8 1627.1 207.2 1627.6 206.5 1628.1 206.4 1628.6 206.6 1629.1 206.5 1629.6 206.5 1630.1 206.2 1630.6 205.9 1631.1 206.1 1631.6 206.4 1632.1 206.8 1632.6 206.5 1633.1 206.3 1633.6 206.6 1634.1 206.7 1634.6 207.6 1635.1 207.1 1635.6 206.7 1636.1 206.2 1636.6 206.6 1637.1 206.6 1637.6 206.9 1638.1 207.5 1638.6 206.7 1639.1 206.1 1639.6 206.7 1640.1 206.2 1640.6 207.1 1641.1 207.2 1641.6 206.9 1642.1 206.3 1642.6 206.8 1643.1 207.3 1643.6 206.5 1644.1 206.7 1644.6 207.0 1645.1 207.1 1645.6 207.0 1646.1 207.1 1646.6 207.1 1647.1 206.8 1647.6 207.0 1648.1 207.1 1648.6 206.7 1649.1 207.1 1649.6 207.1 1650.1 207.3 1650.6 207.3 1651.1 206.8 1651.6 206.7 1652.1 207.3 1652.6 207.2 1653.1 207.3 1653.6 207.1 1654.1 206.8 1654.6 207.4 1655.1 207.3 1655.6 207.6 1656.1 207.7 1656.6 207.8 1657.1 207.8 1657.6 207.1 1658.1 206.7 1658.6 207.3 1659.1 207.1 1659.6 207.0 1660.1 207.8 1660.6 207.0 1661.1 207.9 1661.6 208.0 1662.1 208.5 1662.6 208.0 1663.1 208.4 1663.6 207.5 1664.1 207.5 1664.6 208.1 1665.1 207.3 1665.6 208.2 1666.1 207.7 1666.6 207.1 1667.1 208.5 1667.6 207.4 1668.1 208.7 1668.6 207.4 1669.1 207.6 1669.6 208.0 1670.1 207.9 1670.6 207.4 1671.1 208.0 1671.6 208.0 1672.1 208.2 1672.6 207.4 1673.1 207.8 1673.6 208.0 1674.1 208.3 1674.6 208.1 1675.1 208.0 1675.6 207.9 1676.1 208.6 1676.6 207.8 1677.1 208.2 1677.6 207.4 1678.1 208.8 1678.6 208.3 1679.1 207.6 1679.6 208.4 1680.1 208.7 1680.6 208.5 1681.1 208.2 1681.6 208.5 1682.1 208.0 1682.6 208.2 1683.1 208.1 1683.6 208.3 1684.1 207.9 1684.6 208.8 1685.1 208.2 1685.6 207.9 1686.1 208.2 1686.6 208.4 1687.1 208.3 1687.6 208.7 1688.1 208.2 1688.6 208.1 1689.1 208.5 1689.6 208.8 1690.1 208.0 1690.6 207.8 1691.1 208.2 1691.6 208.4 1692.1 208.0 1692.6 208.5 1693.1 208.1 1693.6 208.7 1694.1 208.0 1694.6 208.1 1695.1 208.6 1695.6 208.7 1696.1 208.8 1696.6 208.2 1697.1 208.5 1697.6 208.6 1698.1 209.0 1698.6 208.2 1699.1 208.0 1699.6 208.7 1700.1 208.8 1700.6 210.4 1701.1 207.5 1701.6 208.6 1702.1 207.0 1702.6 209.3 1703.1 209.8 1703.6 208.6 1704.1 208.8 1704.6 211.2 1705.1 209.0 1705.6 209.4 1706.1 207.9 1706.6 207.7 1707.1 208.2 1707.6 208.4 1708.1 209.3 1708.6 208.3 1709.1 207.9 1709.6 208.8 1710.1 209.2 1710.6 208.9 1711.1 208.3 1711.6 208.7 1712.1 208.6 1712.6 208.9 1713.1 208.3 1713.6 209.8 1714.1 209.6 1714.6 209.3 1715.1 208.9 1715.6 209.0 1716.1 208.7 1716.6 208.7 1717.1 208.2 1717.6 209.0 1718.1 208.2 1718.6 208.4 1719.1 209.3 1719.6 207.6 1720.1 208.3 1720.6 208.9 1721.1 209.1 1721.6 207.7 1722.1 209.0 1722.6 209.4 1723.1 207.9 1723.6 209.6 1724.1 208.5 1724.6 208.4 1725.1 209.2 1725.6 209.6 1726.1 207.8 1726.6 207.9 1727.1 206.1 1727.6 209.1 1728.1 209.0 1728.6 209.4 1729.1 209.5 1729.6 209.1 1730.1 210.3 1730.6 209.1 1731.1 210.0 1731.6 208.5 1732.1 208.5 1732.6 209.8 1733.1 207.7 1733.6 210.0 1734.1 209.4 1734.6 209.0 1735.1 208.8 1735.6 208.8 1736.1 209.2 1736.6 208.4 1737.1 209.3 1737.6 209.4 1738.1 208.3 1738.6 208.5 1739.1 209.6 1739.6 208.3 1740.1 209.3 1740.6 208.6 1741.1 207.0 1741.6 209.0 1742.1 208.2 1742.6 207.7 1743.1 209.0 1743.6 208.8 1744.1 208.9 1744.6 210.0 1745.1 208.6 1745.6 208.6 1746.1 210.0 1746.6 209.7 1747.1 209.0 1747.6 209.6 1748.1 208.9 1748.6 208.5 1749.1 210.2 1749.6 209.9 1750.1 207.9 1750.6 209.0 1751.1 208.7 1751.6 208.2 1752.1 210.7 1752.6 209.5 1753.1 209.8 1753.6 208.6 1754.1 209.4 1754.6 206.0 1755.1 207.0 1755.6 209.9 1756.1 209.5 1756.6 209.5 1757.1 208.9 1757.6 208.6 1758.1 210.2 1758.6 209.0 1759.1 209.5 1759.6 212.0 1760.1 209.1 1760.6 209.0 1761.1 208.8 1761.6 209.8 1762.1 209.0 1762.6 209.9 1763.1 208.7 1763.6 209.4 1764.1 210.3 1764.6 209.9 1765.1 209.6 1765.6 209.9 1766.1 209.2 1766.6 209.3 1767.1 207.9 1767.6 209.7 1768.1 210.3 1768.6 210.1 1769.1 210.0 1769.6 209.4 1770.1 209.5 1770.6 209.2 1771.1 210.1 1771.6 209.9 1772.1 209.4 1772.6 208.1 1773.1 210.1 1773.6 210.2 1774.1 209.6 1774.6 209.1 1775.1 209.7 1775.6 209.5 1776.1 210.9 1776.6 211.0 1777.1 209.6 1777.6 210.6 1778.1 211.5 1778.6 211.2 1779.1 209.8 1779.6 210.9 1780.1 210.3 1780.6 210.0 1781.1 210.4 1781.6 210.0 1782.1 209.4 1782.6 209.1 1783.1 210.9 1783.6 209.8 1784.1 211.3 1784.6 210.7" fill="none" stroke="#d23cd2" stroke-width="1.9" stroke-linejoin="round"/><path d="M1194.6 441.8L1195.1 428.3 1195.6 425.1 1196.1 423.3 1196.6 423.3 1197.1 424.0 1197.6 422.5 1198.1 422.1 1198.6 421.5 1199.1 419.8 1199.6 419.9 1200.1 417.5 1200.6 416.8 1201.1 416.7 1201.6 415.1 1202.1 414.7 1202.6 414.1 1203.1 414.1 1203.6 413.0 1204.1 413.3 1204.6 414.0 1205.1 413.4 1205.6 413.1 1206.1 413.3 1206.6 413.2 1207.1 412.9 1207.6 412.6 1208.1 408.8 1208.6 404.6 1209.1 399.6 1209.6 396.1 1210.1 391.8 1210.6 387.5 1211.1 383.8 1211.6 379.4 1212.1 376.1 1212.6 371.7 1213.1 367.9 1213.6 363.2 1214.1 360.1 1214.6 355.5 1215.1 352.1 1215.6 348.0 1216.1 343.4 1216.6 339.8 1217.1 335.2 1217.6 331.0 1218.1 326.9 1218.6 322.3 1219.1 318.4 1219.6 314.0 1220.1 311.4 1220.6 308.7 1221.1 307.7 1221.6 305.9 1222.1 305.2 1222.6 304.4 1223.1 303.6 1223.6 303.8 1224.1 304.6 1224.6 304.2 1225.1 304.6 1225.6 305.8 1226.1 305.6 1226.6 302.7 1227.1 297.6 1227.6 291.1 1228.1 281.6 1228.6 269.4 1229.1 257.2 1229.6 242.9 1230.1 227.7 1230.6 218.1 1231.1 211.5 1231.6 206.3 1232.1 204.4 1232.6 203.4 1233.1 201.9 1233.6 201.0 1234.1 200.8 1234.6 200.9 1235.1 200.4 1235.6 199.6 1236.1 198.9 1236.6 199.5 1237.1 199.3 1237.6 199.5 1238.1 200.1 1238.6 200.9 1239.1 200.7 1239.6 201.0 1240.1 200.7 1240.6 201.5 1241.1 201.6 1241.6 202.5 1242.1 202.5 1242.6 202.9 1243.1 203.2 1243.6 203.3 1244.1 204.0 1244.6 204.0 1245.1 204.0 1245.6 204.5 1246.1 205.0 1246.6 205.6 1247.1 205.6 1247.6 206.6 1248.1 206.5 1248.6 207.9 1249.1 209.4 1249.6 212.3 1250.1 213.6 1250.6 216.1 1251.1 219.3 1251.6 220.8 1252.1 221.3 1252.6 221.7 1253.1 221.0 1253.6 220.8 1254.1 219.8 1254.6 219.3 1255.1 218.2 1255.6 216.9 1256.1 217.2 1256.6 216.5 1257.1 216.8 1257.6 217.1 1258.1 217.7 1258.6 217.7 1259.1 218.0 1259.6 218.7 1260.1 219.5 1260.6 219.3 1261.1 219.5 1261.6 220.3 1262.1 220.9 1262.6 220.8 1263.1 221.5 1263.6 221.2 1264.1 222.2 1264.6 222.7 1265.1 223.3 1265.6 223.6 1266.1 224.2 1266.6 223.9 1267.1 224.9 1267.6 224.5 1268.1 225.2 1268.6 226.2 1269.1 226.4 1269.6 225.7 1270.1 226.9 1270.6 226.7 1271.1 226.8 1271.6 227.4 1272.1 227.6 1272.6 228.2 1273.1 227.4 1273.6 227.9 1274.1 228.2 1274.6 227.8 1275.1 229.0 1275.6 229.4 1276.1 228.7 1276.6 229.2 1277.1 229.2 1277.6 229.5 1278.1 229.4 1278.6 230.1 1279.1 229.6 1279.6 230.6 1280.1 230.5 1280.6 231.3 1281.1 230.1 1281.6 230.8 1282.1 230.5 1282.6 231.1 1283.1 231.5 1283.6 231.2 1284.1 231.2 1284.6 231.3 1285.1 232.2 1285.6 232.8 1286.1 233.1 1286.6 233.0 1287.1 233.0 1287.6 233.5 1288.1 233.6 1288.6 234.0 1289.1 235.3 1289.6 235.3 1290.1 236.0 1290.6 236.3 1291.1 237.3 1291.6 237.8 1292.1 237.4 1292.6 238.0 1293.1 238.3 1293.6 240.1 1294.1 240.0 1294.6 239.9 1295.1 241.3 1295.6 240.9 1296.1 240.9 1296.6 241.0 1297.1 242.0 1297.6 242.5 1298.1 242.4 1298.6 243.0 1299.1 243.5 1299.6 243.3 1300.1 243.8 1300.6 244.2 1301.1 244.0 1301.6 243.8 1302.1 244.3 1302.6 244.4 1303.1 245.1 1303.6 244.4 1304.1 244.1 1304.6 244.8 1305.1 244.9 1305.6 244.8 1306.1 245.2 1306.6 245.2 1307.1 245.6 1307.6 245.0 1308.1 245.1 1308.6 245.4 1309.1 245.3 1309.6 246.0 1310.1 245.8 1310.6 245.7 1311.1 246.3 1311.6 246.0 1312.1 246.2 1312.6 246.2 1313.1 245.9 1313.6 246.0 1314.1 246.1 1314.6 245.8 1315.1 246.1 1315.6 246.6 1316.1 246.4 1316.6 246.1 1317.1 247.3 1317.6 246.2 1318.1 246.8 1318.6 246.9 1319.1 247.2 1319.6 246.5 1320.1 246.9 1320.6 246.9 1321.1 247.4 1321.6 247.2 1322.1 247.3 1322.6 247.4 1323.1 248.0 1323.6 247.7 1324.1 247.9 1324.6 247.3 1325.1 248.1 1325.6 247.5 1326.1 248.5 1326.6 248.5 1327.1 248.6 1327.6 249.1 1328.1 250.2 1328.6 251.0 1329.1 251.6 1329.6 253.0 1330.1 254.7 1330.6 256.4 1331.1 258.1 1331.6 259.4 1332.1 260.1 1332.6 259.5 1333.1 258.4 1333.6 258.2 1334.1 256.9 1334.6 255.3 1335.1 254.8 1335.6 253.1 1336.1 251.7 1336.6 250.4 1337.1 250.2 1337.6 248.9 1338.1 248.7 1338.6 248.7 1339.1 248.6 1339.6 248.9 1340.1 249.1 1340.6 249.6 1341.1 248.7 1341.6 249.6 1342.1 249.4 1342.6 248.7 1343.1 249.8 1343.6 250.1 1344.1 250.1 1344.6 249.9 1345.1 250.0 1345.6 249.3 1346.1 250.3 1346.6 250.4 1347.1 250.2 1347.6 250.7 1348.1 250.6 1348.6 251.8 1349.1 250.8 1349.6 251.1 1350.1 250.9 1350.6 251.9 1351.1 252.5 1351.6 253.0 1352.1 253.2 1352.6 254.2 1353.1 254.4 1353.6 255.0 1354.1 254.6 1354.6 253.9 1355.1 254.2 1355.6 253.6 1356.1 253.8 1356.6 253.0 1357.1 252.8 1357.6 252.7 1358.1 252.1 1358.6 252.5 1359.1 252.9 1359.6 252.4 1360.1 252.6 1360.6 252.7 1361.1 252.4 1361.6 252.5 1362.1 252.8 1362.6 252.5 1363.1 252.7 1363.6 252.7 1364.1 252.5 1364.6 252.5 1365.1 253.8 1365.6 253.7 1366.1 253.3 1366.6 253.9 1367.1 254.1 1367.6 254.2 1368.1 253.9 1368.6 253.7 1369.1 253.9 1369.6 254.4 1370.1 255.1 1370.6 254.2 1371.1 254.9 1371.6 255.0 1372.1 255.7 1372.6 256.2 1373.1 255.4 1373.6 256.1 1374.1 256.1 1374.6 256.2 1375.1 256.4 1375.6 256.6 1376.1 256.8 1376.6 256.5 1377.1 257.2 1377.6 257.6 1378.1 257.7 1378.6 257.8 1379.1 257.7 1379.6 257.7 1380.1 258.3 1380.6 257.5 1381.1 257.6 1381.6 258.0 1382.1 257.5 1382.6 257.0 1383.1 257.3 1383.6 257.3 1384.1 257.3 1384.6 257.1 1385.1 257.6 1385.6 257.4 1386.1 257.3 1386.6 256.9 1387.1 257.3 1387.6 257.3 1388.1 257.6 1388.6 256.6 1389.1 256.7 1389.6 257.1 1390.1 256.2 1390.6 256.6 1391.1 256.5 1391.6 256.4 1392.1 256.0 1392.6 256.2 1393.1 255.6 1393.6 256.5 1394.1 255.8 1394.6 256.0 1395.1 255.8 1395.6 255.8 1396.1 255.8 1396.6 255.8 1397.1 255.5 1397.6 255.6 1398.1 255.2 1398.6 255.3 1399.1 255.3 1399.6 255.3 1400.1 255.2 1400.6 255.5 1401.1 256.0 1401.6 256.0 1402.1 255.8 1402.6 256.1 1403.1 256.2 1403.6 257.1 1404.1 255.7 1404.6 256.4 1405.1 256.0 1405.6 257.0 1406.1 256.6 1406.6 256.9 1407.1 257.0 1407.6 257.3 1408.1 256.1 1408.6 256.9 1409.1 257.4 1409.6 257.1 1410.1 257.8 1410.6 258.2 1411.1 257.5 1411.6 257.9 1412.1 258.5 1412.6 259.1 1413.1 259.0 1413.6 259.1 1414.1 258.8 1414.6 259.4 1415.1 259.7 1415.6 259.9 1416.1 260.9 1416.6 261.4 1417.1 261.9 1417.6 263.2 1418.1 262.5 1418.6 262.7 1419.1 260.7 1419.6 259.3 1420.1 257.5 1420.6 256.7 1421.1 257.1 1421.6 256.5 1422.1 255.8 1422.6 256.9 1423.1 256.1 1423.6 256.2 1424.1 256.3 1424.6 255.6 1425.1 256.8 1425.6 256.7 1426.1 256.1 1426.6 256.3 1427.1 256.0 1427.6 255.9 1428.1 256.0 1428.6 255.6 1429.1 256.0 1429.6 255.9 1430.1 256.8 1430.6 255.6 1431.1 256.6 1431.6 256.4 1432.1 256.2 1432.6 256.0 1433.1 256.8 1433.6 256.8 1434.1 256.3 1434.6 256.3 1435.1 256.4 1435.6 257.0 1436.1 256.1 1436.6 256.5 1437.1 256.9 1437.6 256.0 1438.1 256.5 1438.6 257.0 1439.1 256.4 1439.6 256.6 1440.1 256.1 1440.6 256.7 1441.1 256.1 1441.6 256.4 1442.1 256.6 1442.6 256.2 1443.1 256.6 1443.6 256.5 1444.1 256.3 1444.6 256.3 1445.1 255.8 1445.6 255.0 1446.1 255.9 1446.6 255.8 1447.1 255.2 1447.6 254.9 1448.1 255.5 1448.6 254.7 1449.1 254.4 1449.6 254.1 1450.1 254.7 1450.6 253.3 1451.1 252.4 1451.6 253.1 1452.1 252.7 1452.6 252.7 1453.1 253.9 1453.6 254.4 1454.1 255.6 1454.6 255.9 1455.1 257.0 1455.6 257.3 1456.1 257.1 1456.6 257.1 1457.1 257.1 1457.6 256.3 1458.1 255.0 1458.6 255.0 1459.1 255.6 1459.6 254.2 1460.1 253.0 1460.6 252.8 1461.1 252.0 1461.6 252.2 1462.1 252.8 1462.6 253.8 1463.1 254.7 1463.6 255.7 1464.1 255.9 1464.6 256.2 1465.1 257.0 1465.6 257.5 1466.1 257.7 1466.6 258.3 1467.1 258.6 1467.6 259.2 1468.1 258.3 1468.6 259.5 1469.1 258.0 1469.6 258.2 1470.1 258.9 1470.6 258.5 1471.1 258.7 1471.6 258.7 1472.1 258.4 1472.6 258.4 1473.1 258.7 1473.6 258.9 1474.1 259.0 1474.6 258.9 1475.1 258.7 1475.6 259.2 1476.1 258.1 1476.6 258.8 1477.1 259.3 1477.6 259.4 1478.1 259.2 1478.6 259.3 1479.1 259.0 1479.6 258.4 1480.1 257.1 1480.6 257.2 1481.1 256.8 1481.6 257.0 1482.1 256.0 1482.6 255.9 1483.1 256.3 1483.6 255.9 1484.1 256.4 1484.6 256.8 1485.1 256.8 1485.6 257.2 1486.1 256.9 1486.6 257.3 1487.1 257.8 1487.6 258.4 1488.1 257.8 1488.6 257.6 1489.1 257.5 1489.6 257.7 1490.1 256.8 1490.6 257.1 1491.1 256.9 1491.6 257.3 1492.1 257.4 1492.6 258.3 1493.1 259.3 1493.6 259.2 1494.1 259.4 1494.6 258.9 1495.1 260.1 1495.6 259.9 1496.1 260.4 1496.6 260.5 1497.1 260.3 1497.6 260.5 1498.1 260.3 1498.6 261.6 1499.1 261.3 1499.6 261.4 1500.1 261.6 1500.6 261.8 1501.1 261.8 1501.6 262.0 1502.1 262.6 1502.6 261.3 1503.1 262.2 1503.6 262.1 1504.1 262.6 1504.6 262.1 1505.1 262.9 1505.6 263.9 1506.1 263.6 1506.6 264.5 1507.1 264.4 1507.6 264.9 1508.1 264.6 1508.6 265.1 1509.1 264.8 1509.6 265.6 1510.1 264.8 1510.6 265.5 1511.1 265.2 1511.6 265.3 1512.1 265.9 1512.6 265.3 1513.1 265.1 1513.6 265.3 1514.1 265.5 1514.6 265.1 1515.1 265.9 1515.6 265.3 1516.1 265.1 1516.6 265.0 1517.1 265.1 1517.6 265.3 1518.1 265.4 1518.6 264.7 1519.1 263.7 1519.6 262.9 1520.1 261.4 1520.6 262.0 1521.1 261.9 1521.6 261.5 1522.1 261.9 1522.6 261.3 1523.1 262.3 1523.6 261.6 1524.1 261.5 1524.6 262.4 1525.1 261.4 1525.6 261.9 1526.1 261.5 1526.6 261.6 1527.1 261.7 1527.6 261.6 1528.1 262.4 1528.6 262.3 1529.1 261.7 1529.6 262.8 1530.1 261.9 1530.6 261.9 1531.1 262.2 1531.6 261.7 1532.1 262.5 1532.6 261.8 1533.1 261.7 1533.6 262.5 1534.1 261.8 1534.6 262.1 1535.1 261.8 1535.6 262.1 1536.1 262.3 1536.6 261.5 1537.1 262.3 1537.6 262.1 1538.1 262.8 1538.6 263.1 1539.1 262.6 1539.6 262.6 1540.1 262.8 1540.6 262.8 1541.1 262.0 1541.6 262.1 1542.1 262.4 1542.6 262.1 1543.1 262.5 1543.6 262.6 1544.1 262.4 1544.6 262.8 1545.1 263.2 1545.6 262.7 1546.1 262.9 1546.6 262.7 1547.1 262.8 1547.6 262.6 1548.1 262.4 1548.6 263.1 1549.1 263.3 1549.6 262.9 1550.1 263.0 1550.6 262.5 1551.1 262.9 1551.6 263.1 1552.1 263.0 1552.6 263.1 1553.1 262.8 1553.6 262.7 1554.1 263.1 1554.6 263.7 1555.1 263.1 1555.6 262.8 1556.1 263.1 1556.6 263.3 1557.1 263.8 1557.6 263.8 1558.1 263.2 1558.6 263.1 1559.1 263.4 1559.6 263.6 1560.1 263.3 1560.6 264.0 1561.1 263.5 1561.6 263.8 1562.1 263.7 1562.6 264.0 1563.1 263.8 1563.6 264.0 1564.1 264.4 1564.6 264.1 1565.1 264.5 1565.6 263.6 1566.1 264.1 1566.6 263.8 1567.1 263.7 1567.6 264.3 1568.1 265.0 1568.6 264.5 1569.1 264.8 1569.6 263.8 1570.1 264.6 1570.6 264.2 1571.1 264.7 1571.6 265.1 1572.1 264.6 1572.6 265.2 1573.1 264.6 1573.6 265.0 1574.1 264.8 1574.6 265.1 1575.1 265.1 1575.6 264.4 1576.1 265.1 1576.6 265.1 1577.1 265.9 1577.6 264.6 1578.1 265.5 1578.6 265.8 1579.1 266.3 1579.6 266.1 1580.1 265.8 1580.6 266.3 1581.1 265.9 1581.6 265.9 1582.1 265.9 1582.6 266.0 1583.1 266.7 1583.6 265.7 1584.1 265.8 1584.6 266.7 1585.1 266.7 1585.6 266.9 1586.1 266.6 1586.6 267.0 1587.1 266.8 1587.6 266.8 1588.1 266.9 1588.6 267.2 1589.1 267.3 1589.6 267.3 1590.1 268.1 1590.6 267.9 1591.1 267.8 1591.6 267.6 1592.1 268.3 1592.6 268.0 1593.1 268.5 1593.6 268.7 1594.1 269.1 1594.6 269.7 1595.1 269.3 1595.6 270.8 1596.1 270.7 1596.6 270.8 1597.1 271.2 1597.6 272.2 1598.1 272.4 1598.6 273.6 1599.1 273.4 1599.6 273.6 1600.1 273.8 1600.6 274.4 1601.1 274.9 1601.6 273.9 1602.1 274.5 1602.6 273.9 1603.1 273.1 1603.6 273.2 1604.1 271.7 1604.6 271.3 1605.1 272.1 1605.6 272.3 1606.1 272.6 1606.6 272.9 1607.1 273.0 1607.6 274.3 1608.1 274.7 1608.6 275.9 1609.1 276.4 1609.6 276.6 1610.1 277.8 1610.6 278.6 1611.1 279.4 1611.6 279.7 1612.1 280.5 1612.6 282.0 1613.1 282.6 1613.6 283.3 1614.1 284.5 1614.6 285.1 1615.1 285.3 1615.6 285.4 1616.1 286.0 1616.6 284.3 1617.1 283.0 1617.6 281.2 1618.1 278.6 1618.6 276.4 1619.1 274.2 1619.6 271.5 1620.1 270.0 1620.6 270.4 1621.1 269.5 1621.6 269.1 1622.1 269.4 1622.6 268.0 1623.1 268.1 1623.6 267.8 1624.1 268.4 1624.6 267.5 1625.1 268.5 1625.6 269.1 1626.1 267.5 1626.6 267.6 1627.1 267.1 1627.6 267.3 1628.1 266.9 1628.6 267.1 1629.1 266.8 1629.6 267.2 1630.1 266.9 1630.6 267.1 1631.1 267.1 1631.6 267.7 1632.1 268.0 1632.6 267.8 1633.1 267.1 1633.6 267.0 1634.1 267.6 1634.6 267.7 1635.1 267.6 1635.6 267.1 1636.1 267.4 1636.6 267.2 1637.1 267.7 1637.6 267.6 1638.1 267.4 1638.6 267.2 1639.1 268.0 1639.6 267.4 1640.1 267.7 1640.6 267.6 1641.1 267.7 1641.6 267.8 1642.1 267.3 1642.6 267.3 1643.1 267.7 1643.6 266.4 1644.1 267.5 1644.6 267.4 1645.1 267.8 1645.6 267.7 1646.1 267.5 1646.6 267.2 1647.1 267.6 1647.6 267.5 1648.1 267.7 1648.6 267.8 1649.1 267.4 1649.6 267.9 1650.1 267.5 1650.6 267.9 1651.1 267.9 1651.6 268.2 1652.1 267.8 1652.6 268.4 1653.1 267.7 1653.6 267.6 1654.1 268.1 1654.6 267.5 1655.1 268.1 1655.6 268.1 1656.1 268.0 1656.6 268.1 1657.1 268.1 1657.6 268.5 1658.1 268.0 1658.6 267.4 1659.1 268.0 1659.6 268.4 1660.1 268.5 1660.6 268.4 1661.1 268.2 1661.6 267.9 1662.1 268.8 1662.6 268.0 1663.1 267.9 1663.6 267.4 1664.1 269.0 1664.6 268.3 1665.1 267.7 1665.6 268.7 1666.1 268.6 1666.6 267.8 1667.1 268.7 1667.6 268.4 1668.1 268.7 1668.6 269.0 1669.1 268.3 1669.6 269.3 1670.1 268.5 1670.6 268.3 1671.1 269.0 1671.6 268.3 1672.1 268.5 1672.6 268.9 1673.1 268.3 1673.6 268.2 1674.1 268.7 1674.6 268.6 1675.1 268.5 1675.6 269.0 1676.1 268.3 1676.6 269.0 1677.1 268.3 1677.6 268.9 1678.1 268.3 1678.6 269.0 1679.1 268.7 1679.6 268.6 1680.1 268.8 1680.6 268.7 1681.1 269.1 1681.6 268.5 1682.1 268.9 1682.6 268.7 1683.1 268.6 1683.6 268.6 1684.1 268.4 1684.6 268.9 1685.1 268.9 1685.6 269.0 1686.1 268.3 1686.6 268.7 1687.1 269.4 1687.6 269.3 1688.1 268.8 1688.6 268.9 1689.1 269.0 1689.6 269.3 1690.1 269.4 1690.6 269.0 1691.1 269.0 1691.6 268.9 1692.1 269.1 1692.6 269.6 1693.1 268.7 1693.6 269.2 1694.1 268.6 1694.6 268.6 1695.1 268.4 1695.6 268.8 1696.1 269.5 1696.6 269.6 1697.1 269.3 1697.6 269.0 1698.1 269.4 1698.6 268.7 1699.1 268.5 1699.6 268.7 1700.1 268.7 1700.6 268.3 1701.1 267.9 1701.6 270.0 1702.1 269.8 1702.6 269.7 1703.1 268.2 1703.6 269.3 1704.1 269.1 1704.6 268.9 1705.1 269.2 1705.6 267.8 1706.1 267.8 1706.6 268.5 1707.1 268.3 1707.6 269.5 1708.1 268.9 1708.6 269.9 1709.1 269.8 1709.6 268.5 1710.1 268.7 1710.6 268.9 1711.1 270.3 1711.6 269.4 1712.1 269.2 1712.6 270.1 1713.1 268.9 1713.6 268.4 1714.1 270.2 1714.6 268.8 1715.1 268.6 1715.6 267.8 1716.1 269.9 1716.6 269.5 1717.1 270.2 1717.6 270.2 1718.1 270.7 1718.6 269.5 1719.1 270.7 1719.6 269.4 1720.1 268.6 1720.6 270.3 1721.1 269.6 1721.6 269.1 1722.1 269.2 1722.6 268.8 1723.1 270.4 1723.6 271.2 1724.1 269.9 1724.6 269.0 1725.1 268.5 1725.6 269.8 1726.1 268.9 1726.6 268.9 1727.1 270.5 1727.6 269.1 1728.1 269.3 1728.6 268.9 1729.1 269.2 1729.6 270.2 1730.1 269.3 1730.6 270.2 1731.1 269.3 1731.6 270.5 1732.1 269.8 1732.6 268.5 1733.1 270.2 1733.6 270.0 1734.1 270.6 1734.6 270.6 1735.1 269.1 1735.6 269.8 1736.1 269.7 1736.6 270.9 1737.1 269.6 1737.6 269.8 1738.1 269.2 1738.6 269.7 1739.1 269.5 1739.6 269.3 1740.1 270.1 1740.6 269.5 1741.1 269.9 1741.6 269.2 1742.1 269.3 1742.6 270.6 1743.1 269.4 1743.6 270.1 1744.1 268.9 1744.6 269.8 1745.1 270.5 1745.6 270.7 1746.1 270.0 1746.6 270.0 1747.1 269.5 1747.6 270.5 1748.1 268.9 1748.6 269.2 1749.1 271.5 1749.6 269.8 1750.1 270.5 1750.6 270.0 1751.1 270.2 1751.6 268.3 1752.1 269.8 1752.6 270.1 1753.1 270.4 1753.6 270.1 1754.1 268.8 1754.6 270.4 1755.1 270.1 1755.6 269.5 1756.1 270.5 1756.6 272.0 1757.1 270.6 1757.6 269.9 1758.1 269.8 1758.6 270.6 1759.1 271.6 1759.6 271.6 1760.1 269.3 1760.6 270.7 1761.1 271.1 1761.6 269.6 1762.1 270.0 1762.6 270.4 1763.1 270.9 1763.6 270.8 1764.1 269.1 1764.6 269.4 1765.1 270.6 1765.6 269.4 1766.1 270.3 1766.6 270.5 1767.1 270.6 1767.6 269.8 1768.1 270.4 1768.6 270.3 1769.1 270.2 1769.6 270.1 1770.1 270.1 1770.6 269.4 1771.1 270.6 1771.6 270.4 1772.1 270.8 1772.6 272.0 1773.1 270.3 1773.6 271.4 1774.1 270.0 1774.6 270.4 1775.1 269.9 1775.6 271.1 1776.1 270.2 1776.6 269.7 1777.1 269.8 1777.6 271.0 1778.1 270.1 1778.6 271.6 1779.1 270.8 1779.6 270.6 1780.1 270.1 1780.6 272.3 1781.1 270.3 1781.6 270.9 1782.1 269.3 1782.6 268.7 1783.1 270.0 1783.6 269.4 1784.1 270.8 1784.6 271.9" fill="none" stroke="#1c1cb4" stroke-width="1.9" stroke-linejoin="round"/><line x1="1196" y1="240" x2="1196" y2="256" stroke="#1d6e1d" stroke-width="3"/><line x1="1196" y1="303" x2="1196" y2="319" stroke="#561456" stroke-width="3"/><line x1="1196" y1="364" x2="1196" y2="380" stroke="#d23cd2" stroke-width="3"/><line x1="1196" y1="440" x2="1196" y2="457" stroke="#000" stroke-width="3"/><line x1="1196" y1="417" x2="1196" y2="441" stroke="#1c1cb4" stroke-width="3"/><line x1="1206.4" y1="124" x2="1206.4" y2="454" stroke="#808080" stroke-width="1.25" stroke-dasharray="2.4 3"/><line x1="1225" y1="35" x2="1225" y2="357" stroke="#808080" stroke-width="1.25" stroke-dasharray="2.4 3"/><line x1="1332.7" y1="37" x2="1332.7" y2="359" stroke="#808080" stroke-width="1.25" stroke-dasharray="2.4 3"/><line x1="1381.1" y1="33" x2="1381.1" y2="354" stroke="#808080" stroke-width="1.25" stroke-dasharray="2.4 3"/><line x1="1418.4" y1="37" x2="1418.4" y2="358" stroke="#808080" stroke-width="1.25" stroke-dasharray="2.4 3"/><line x1="1600.4" y1="29" x2="1600.4" y2="350" stroke="#808080" stroke-width="1.25" stroke-dasharray="2.4 3"/><line x1="1616.9" y1="29" x2="1616.9" y2="350" stroke="#808080" stroke-width="1.25" stroke-dasharray="2.4 3"/><line x1="1302.7" y1="363.6" x2="1302.7" y2="381.5" stroke="#222" stroke-width="1.2"/><polygon points="1302.7,389.5 1299.5,381.5 1305.9,381.5" fill="#111"/><line x1="1407.9" y1="331" x2="1407.9" y2="351.5" stroke="#222" stroke-width="1.2"/><polygon points="1407.9,359.5 1404.7,351.5 1411.1,351.5" fill="#111"/><line x1="1209.5" y1="52" x2="1215.5" y2="45.8" stroke="#222" stroke-width="1.2"/><polygon points="1221,40 1217.8,48.0 1213.2,43.6" fill="#111"/><line x1="1205.5" y1="129" x2="1209.5" y2="107.9" stroke="#222" stroke-width="1.2" stroke-dasharray="3 2"/><polygon points="1211,100 1212.7,108.5 1206.4,107.3" fill="#111"/><text transform="translate(1316.70,38.62) scale(0.9746,1)" font-family='"Liberation Sans", Arial, sans-serif' font-weight="normal" fill="#222"><tspan x="0.00" y="-0.00" font-size="18.45">C-O</tspan></text><text transform="translate(1363.32,31.61) scale(0.9510,1)" font-family='"Liberation Sans", Arial, sans-serif' font-weight="normal" fill="#222"><tspan x="0.00" y="-0.00" font-size="18.59">C=C</tspan></text><text transform="translate(1401.51,35.61) scale(0.9538,1)" font-family='"Liberation Sans", Arial, sans-serif' font-weight="normal" fill="#222"><tspan x="0.00" y="-0.00" font-size="18.59">C=O</tspan></text><text transform="translate(1593.07,25.53) scale(1.0370,1)" font-family='"Liberation Sans", Arial, sans-serif' font-weight="normal" fill="#222"><tspan x="0.00" y="0.00" font-size="17.89">CH</tspan><tspan x="25.85" y="4.47" font-size="11.63">2</tspan></text><text transform="translate(1286.09,406.72) scale(1.0024,1)" font-family='"Liberation Sans", Arial, sans-serif' font-weight="normal" fill="#222"><tspan x="0.00" y="-0.00" font-size="18.17">C-O</tspan></text><text transform="translate(1391.30,373.82) scale(1.0083,1)" font-family='"Liberation Sans", Arial, sans-serif' font-weight="normal" fill="#222"><tspan x="0.00" y="-0.00" font-size="17.89">C=O</tspan></text><text transform="translate(1211.32,95.10) rotate(-90) scale(1.0194,1)" font-family='"Liberation Sans", Arial, sans-serif' font-weight="normal" fill="#222"><tspan x="0.00" y="-0.00" font-size="17.61">Cu-O</tspan></text><text transform="translate(1617.76,61.26) scale(1.0098,1)" font-family='"Liberation Sans", Arial, sans-serif' font-weight="normal" fill="#237a23"><tspan x="0.00" y="-0.00" font-size="24.49">CuO/30% rGO</tspan></text><text transform="translate(1617.76,141.26) scale(1.0098,1)" font-family='"Liberation Sans", Arial, sans-serif' font-weight="normal" fill="#5c165c"><tspan x="0.00" y="-0.00" font-size="24.49">CuO/20% rGO</tspan></text><text transform="translate(1617.76,202.76) scale(1.0098,1)" font-family='"Liberation Sans", Arial, sans-serif' font-weight="normal" fill="#d23cd2"><tspan x="0.00" y="-0.00" font-size="24.49">CuO/10% rGO</tspan></text><text transform="translate(1722.94,261.27) scale(1.0845,1)" font-family='"Liberation Sans", Arial, sans-serif' font-weight="normal" fill="#1c1cb4"><tspan x="0.00" y="-0.00" font-size="23.24">CuO</tspan></text><text transform="translate(1728.05,303.07) scale(1.0909,1)" font-family='"Liberation Sans", Arial, sans-serif' font-weight="normal" fill="#111"><tspan x="0.00" y="-0.00" font-size="23.24">rGO</tspan></text><rect x="1194.2" y="3.4" width="591.2" height="478.2" fill="none" stroke="#000" stroke-width="1.7"/><line x1="1210.3" y1="481.6" x2="1210.3" y2="490.7" stroke="#000" stroke-width="1.7"/><line x1="1251.3" y1="481.6" x2="1251.3" y2="486.2" stroke="#000" stroke-width="1.7"/><line x1="1292.4" y1="481.6" x2="1292.4" y2="490.7" stroke="#000" stroke-width="1.7"/><line x1="1333.4" y1="481.6" x2="1333.4" y2="486.2" stroke="#000" stroke-width="1.7"/><line x1="1374.4" y1="481.6" x2="1374.4" y2="490.7" stroke="#000" stroke-width="1.7"/><line x1="1415.5" y1="481.6" x2="1415.5" y2="486.2" stroke="#000" stroke-width="1.7"/><line x1="1456.5" y1="481.6" x2="1456.5" y2="490.7" stroke="#000" stroke-width="1.7"/><line x1="1497.5" y1="481.6" x2="1497.5" y2="486.2" stroke="#000" stroke-width="1.7"/><line x1="1538.6" y1="481.6" x2="1538.6" y2="490.7" stroke="#000" stroke-width="1.7"/><line x1="1579.6" y1="481.6" x2="1579.6" y2="486.2" stroke="#000" stroke-width="1.7"/><line x1="1620.7" y1="481.6" x2="1620.7" y2="490.7" stroke="#000" stroke-width="1.7"/><line x1="1661.7" y1="481.6" x2="1661.7" y2="486.2" stroke="#000" stroke-width="1.7"/><line x1="1702.7" y1="481.6" x2="1702.7" y2="490.7" stroke="#000" stroke-width="1.7"/><line x1="1743.8" y1="481.6" x2="1743.8" y2="486.2" stroke="#000" stroke-width="1.7"/><line x1="1784.8" y1="481.6" x2="1784.8" y2="490.7" stroke="#000" stroke-width="1.7"/><text transform="translate(1185.81,520.31) scale(1.0101,1)" font-family='"Liberation Sans", Arial, sans-serif' font-weight="bold" fill="#000"><tspan x="0.00" y="-0.00" font-size="29.30">500</tspan></text><text transform="translate(1259.15,520.31) scale(1.0101,1)" font-family='"Liberation Sans", Arial, sans-serif' font-weight="bold" fill="#000"><tspan x="0.00" y="-0.00" font-size="29.30">1000</tspan></text><text transform="translate(1341.22,520.31) scale(1.0101,1)" font-family='"Liberation Sans", Arial, sans-serif' font-weight="bold" fill="#000"><tspan x="0.00" y="-0.00" font-size="29.30">1500</tspan></text><text transform="translate(1423.66,520.31) scale(1.0101,1)" font-family='"Liberation Sans", Arial, sans-serif' font-weight="bold" fill="#000"><tspan x="0.00" y="-0.00" font-size="29.30">2000</tspan></text><text transform="translate(1505.73,520.31) scale(1.0101,1)" font-family='"Liberation Sans", Arial, sans-serif' font-weight="bold" fill="#000"><tspan x="0.00" y="-0.00" font-size="29.30">2500</tspan></text><text transform="translate(1587.95,520.31) scale(1.0101,1)" font-family='"Liberation Sans", Arial, sans-serif' font-weight="bold" fill="#000"><tspan x="0.00" y="-0.00" font-size="29.30">3000</tspan></text><text transform="translate(1670.02,520.31) scale(1.0101,1)" font-family='"Liberation Sans", Arial, sans-serif' font-weight="bold" fill="#000"><tspan x="0.00" y="-0.00" font-size="29.30">3500</tspan></text><text transform="translate(1752.24,520.31) scale(1.0101,1)" font-family='"Liberation Sans", Arial, sans-serif' font-weight="bold" fill="#000"><tspan x="0.00" y="-0.00" font-size="29.30">4000</tspan></text><text transform="translate(1304.20,572.65) scale(0.9890,1)" font-family='"Liberation Sans", Arial, sans-serif' font-weight="bold" fill="#000"><tspan x="0.00" y="0.00" font-size="40.72">Wavenumber (cm</tspan><tspan x="337.95" y="-17.10" font-size="28.10">-1</tspan><tspan x="362.93" y="0.00" font-size="40.72">)</tspan></text><text transform="translate(1170.14,409.11) rotate(-90) scale(0.9998,1)" font-family='"Liberation Sans", Arial, sans-serif' font-weight="bold" fill="#000"><tspan x="0.00" y="-0.00" font-size="40.75">Transmission (%)</tspan></text><text transform="translate(1493.62,40.44) scale(1.0898,1)" font-family='"Liberation Serif", "Times New Roman", serif' font-weight="bold" fill="#000"><tspan x="0.00" y="-0.00" font-size="35.16">b)</tspan></text><defs><clipPath id="cclip"><rect x="1228.4" y="617.5" width="569.2" height="459.7"/></clipPath><pattern id="hatch" patternUnits="userSpaceOnUse" width="4" height="4" patternTransform="rotate(25)"><rect width="4" height="4" fill="#f6c6f6"/><rect width="1.7" height="4" fill="#c455c8"/></pattern><clipPath id="iclip"><rect x="1600" y="868.4" width="181.4" height="150"/></clipPath></defs><g clip-path="url(#cclip)"><rect x="1227.5" y="838.3" width="571" height="14.6" fill="url(#hatch)"/><line x1="1227.5" y1="838.8" x2="1798.5" y2="838.8" stroke="#b845be" stroke-width="1.4"/><line x1="1227.5" y1="852.5" x2="1798.5" y2="852.5" stroke="#d070d4" stroke-width="1.2"/><path d="M1222.0 881.2L1229.4 880.6 1236.8 879.8 1244.1 879.0 1251.5 878.1 1258.9 877.2 1266.3 876.2 1273.7 875.2 1281.0 874.1 1288.4 873.0 1295.8 871.9 1303.2 870.8 1310.6 869.7 1317.9 868.6 1325.3 867.5 1332.7 866.5 1340.1 865.5 1347.5 864.5 1354.8 863.6 1362.2 862.6 1369.6 861.7 1377.0 860.7 1384.4 859.8 1391.7 858.9 1399.1 858.0 1406.5 857.1 1413.9 856.3 1421.3 855.4 1428.6 854.6 1436.0 853.9 1443.4 853.1 1450.8 852.4 1458.2 851.7 1465.5 851.0 1472.9 850.4 1480.3 849.7 1487.7 849.1 1495.1 848.5 1502.4 847.8 1509.8 847.2 1517.2 846.6 1524.6 845.9 1531.9 845.3 1539.3 844.6 1546.7 844.0 1554.1 843.3 1561.5 842.6 1568.8 841.8 1576.2 841.1 1583.6 840.4 1591.0 839.7 1598.4 839.0 1605.7 838.3 1613.1 837.6 1620.5 836.8 1627.9 836.1 1635.3 835.3 1642.6 834.5 1650.0 833.8 1657.4 832.9 1664.8 832.1 1672.2 831.3 1679.5 830.4 1686.9 829.5 1694.3 828.5 1701.7 827.6 1709.1 826.6 1716.4 825.5 1723.8 824.5 1731.2 823.4 1738.6 822.3 1746.0 821.2 1753.3 820.1 1760.7 819.0 1768.1 817.9 1775.5 816.8 1782.9 815.7 1790.2 814.7 1797.6 813.6 1805.0 812.6" fill="none" stroke="#6e006e" stroke-width="15.6" stroke-linejoin="round"/><path d="M1222.0 881.2L1229.4 880.6 1236.8 879.8 1244.1 879.0 1251.5 878.1 1258.9 877.2 1266.3 876.2 1273.7 875.2 1281.0 874.1 1288.4 873.0 1295.8 871.9 1303.2 870.8 1310.6 869.7 1317.9 868.6 1325.3 867.5 1332.7 866.5 1340.1 865.5 1347.5 864.5 1354.8 863.6 1362.2 862.6 1369.6 861.7 1377.0 860.7 1384.4 859.8 1391.7 858.9 1399.1 858.0 1406.5 857.1 1413.9 856.3 1421.3 855.4 1428.6 854.6 1436.0 853.9 1443.4 853.1 1450.8 852.4 1458.2 851.7 1465.5 851.0 1472.9 850.4 1480.3 849.7 1487.7 849.1 1495.1 848.5 1502.4 847.8 1509.8 847.2 1517.2 846.6 1524.6 845.9 1531.9 845.3 1539.3 844.6 1546.7 844.0 1554.1 843.3 1561.5 842.6 1568.8 841.8 1576.2 841.1 1583.6 840.4 1591.0 839.7 1598.4 839.0 1605.7 838.3 1613.1 837.6 1620.5 836.8 1627.9 836.1 1635.3 835.3 1642.6 834.5 1650.0 833.8 1657.4 832.9 1664.8 832.1 1672.2 831.3 1679.5 830.4 1686.9 829.5 1694.3 828.5 1701.7 827.6 1709.1 826.6 1716.4 825.5 1723.8 824.5 1731.2 823.4 1738.6 822.3 1746.0 821.2 1753.3 820.1 1760.7 819.0 1768.1 817.9 1775.5 816.8 1782.9 815.7 1790.2 814.7 1797.6 813.6 1805.0 812.6" fill="none" stroke="#870087" stroke-width="13.6" stroke-linejoin="round"/><path d="M1212.7 1108.7L1217.8 1103.9 1222.8 1099.2 1227.8 1094.4 1232.9 1089.5 1237.9 1084.7 1243.0 1079.8 1248.0 1074.9 1253.1 1070.0 1258.1 1065.0 1263.1 1060.1 1268.2 1055.2 1273.2 1050.2 1278.3 1045.3 1283.3 1040.3 1288.4 1035.4 1293.4 1030.5 1298.4 1025.6 1303.5 1020.7 1308.5 1015.9 1313.6 1011.0 1318.6 1006.2 1323.7 1001.4 1328.7 996.7 1333.8 991.9 1338.8 987.2 1343.8 982.6 1348.9 977.9 1353.9 973.3 1359.0 968.8 1364.0 964.2 1369.1 959.8 1374.1 955.3 1379.1 950.9 1384.2 946.5 1389.2 942.2 1394.3 937.9 1399.3 933.6 1404.4 929.4 1409.4 925.2 1414.5 921.1 1419.5 917.0 1424.5 912.9 1429.6 908.9 1434.6 904.9 1439.7 901.0 1444.7 897.1 1449.8 893.2 1454.8 889.3 1459.8 885.5 1464.9 881.7 1469.9 878.0 1475.0 874.3 1480.0 870.6 1485.1 866.9 1490.1 863.2 1495.1 859.6 1500.2 856.0 1505.2 852.4 1510.3 848.9 1515.3 845.3 1520.4 841.8 1525.4 838.3 1530.5 834.8 1535.5 831.3 1540.5 827.8 1545.6 824.3 1550.6 820.8 1555.7 817.3 1560.7 813.8 1565.8 810.3 1570.8 806.8 1575.8 803.3 1580.9 799.8 1585.9 796.3 1591.0 792.7 1596.0 789.2 1601.1 785.6 1606.1 782.0 1611.1 778.4 1616.2 774.7 1621.2 771.0 1626.3 767.3 1631.3 763.6 1636.4 759.8 1641.4 756.0 1646.5 752.1 1651.5 748.2 1656.5 744.3 1661.6 740.3 1666.6 736.2 1671.7 732.1 1676.7 728.0 1681.8 723.8 1686.8 719.5 1691.8 715.2 1696.9 710.8 1701.9 706.4 1707.0 701.9 1712.0 697.3 1717.1 692.6 1722.1 687.9 1727.2 683.1 1732.2 678.3 1737.2 673.3 1742.3 668.3 1747.3 663.2 1752.4 658.0 1757.4 652.8 1762.5 647.4 1767.5 642.0 1772.5 636.4 1777.6 630.8 1782.6 625.1 1787.7 619.4 1792.7 613.5 1797.8 607.5 1802.8 601.5 1807.8 595.3 1812.9 589.1" fill="none" stroke="#0a6a0a" stroke-width="15.4" stroke-linejoin="round"/><path d="M1212.7 1108.7L1217.8 1103.9 1222.8 1099.2 1227.8 1094.4 1232.9 1089.5 1237.9 1084.7 1243.0 1079.8 1248.0 1074.9 1253.1 1070.0 1258.1 1065.0 1263.1 1060.1 1268.2 1055.2 1273.2 1050.2 1278.3 1045.3 1283.3 1040.3 1288.4 1035.4 1293.4 1030.5 1298.4 1025.6 1303.5 1020.7 1308.5 1015.9 1313.6 1011.0 1318.6 1006.2 1323.7 1001.4 1328.7 996.7 1333.8 991.9 1338.8 987.2 1343.8 982.6 1348.9 977.9 1353.9 973.3 1359.0 968.8 1364.0 964.2 1369.1 959.8 1374.1 955.3 1379.1 950.9 1384.2 946.5 1389.2 942.2 1394.3 937.9 1399.3 933.6 1404.4 929.4 1409.4 925.2 1414.5 921.1 1419.5 917.0 1424.5 912.9 1429.6 908.9 1434.6 904.9 1439.7 901.0 1444.7 897.1 1449.8 893.2 1454.8 889.3 1459.8 885.5 1464.9 881.7 1469.9 878.0 1475.0 874.3 1480.0 870.6 1485.1 866.9 1490.1 863.2 1495.1 859.6 1500.2 856.0 1505.2 852.4 1510.3 848.9 1515.3 845.3 1520.4 841.8 1525.4 838.3 1530.5 834.8 1535.5 831.3 1540.5 827.8 1545.6 824.3 1550.6 820.8 1555.7 817.3 1560.7 813.8 1565.8 810.3 1570.8 806.8 1575.8 803.3 1580.9 799.8 1585.9 796.3 1591.0 792.7 1596.0 789.2 1601.1 785.6 1606.1 782.0 1611.1 778.4 1616.2 774.7 1621.2 771.0 1626.3 767.3 1631.3 763.6 1636.4 759.8 1641.4 756.0 1646.5 752.1 1651.5 748.2 1656.5 744.3 1661.6 740.3 1666.6 736.2 1671.7 732.1 1676.7 728.0 1681.8 723.8 1686.8 719.5 1691.8 715.2 1696.9 710.8 1701.9 706.4 1707.0 701.9 1712.0 697.3 1717.1 692.6 1722.1 687.9 1727.2 683.1 1732.2 678.3 1737.2 673.3 1742.3 668.3 1747.3 663.2 1752.4 658.0 1757.4 652.8 1762.5 647.4 1767.5 642.0 1772.5 636.4 1777.6 630.8 1782.6 625.1 1787.7 619.4 1792.7 613.5 1797.8 607.5 1802.8 601.5 1807.8 595.3 1812.9 589.1" fill="none" stroke="#0b880b" stroke-width="13.2" stroke-linejoin="round"/></g><rect x="1590" y="858" width="200" height="170" fill="none"/><line x1="1600" y1="868.4" x2="1781.4" y2="868.4" stroke="#e2e2e2" stroke-width="1"/><line x1="1600" y1="868.4" x2="1600" y2="1018.8" stroke="#a0a0a0" stroke-width="1.1"/><line x1="1600" y1="1018.8" x2="1781.4" y2="1018.8" stroke="#b0b0b0" stroke-width="1.1"/><line x1="1781.4" y1="868.4" x2="1781.4" y2="1019" stroke="#707070" stroke-width="1.3"/><line x1="1600.0" y1="1018.8" x2="1600.0" y2="1016.2" stroke="#777" stroke-width="1.2"/><line x1="1622.7" y1="1018.8" x2="1622.7" y2="1016.2" stroke="#777" stroke-width="1.2"/><line x1="1645.3" y1="1018.8" x2="1645.3" y2="1016.2" stroke="#777" stroke-width="1.2"/><line x1="1668.0" y1="1018.8" x2="1668.0" y2="1016.2" stroke="#777" stroke-width="1.2"/><line x1="1690.7" y1="1018.8" x2="1690.7" y2="1016.2" stroke="#777" stroke-width="1.2"/><line x1="1713.4" y1="1018.8" x2="1713.4" y2="1016.2" stroke="#777" stroke-width="1.2"/><line x1="1736.0" y1="1018.8" x2="1736.0" y2="1016.2" stroke="#777" stroke-width="1.2"/><line x1="1758.7" y1="1018.8" x2="1758.7" y2="1016.2" stroke="#777" stroke-width="1.2"/><line x1="1781.4" y1="1018.8" x2="1781.4" y2="1016.2" stroke="#777" stroke-width="1.2"/><line x1="1600" y1="868.4" x2="1602.5" y2="868.4" stroke="#999" stroke-width="1"/><line x1="1600" y1="880.8" x2="1602.5" y2="880.8" stroke="#999" stroke-width="1"/><line x1="1600" y1="893.2" x2="1602.5" y2="893.2" stroke="#999" stroke-width="1"/><line x1="1600" y1="905.7" x2="1602.5" y2="905.7" stroke="#999" stroke-width="1"/><line x1="1600" y1="918.1" x2="1602.5" y2="918.1" stroke="#999" stroke-width="1"/><line x1="1600" y1="930.5" x2="1602.5" y2="930.5" stroke="#999" stroke-width="1"/><line x1="1600" y1="943.0" x2="1602.5" y2="943.0" stroke="#999" stroke-width="1"/><line x1="1600" y1="955.4" x2="1602.5" y2="955.4" stroke="#999" stroke-width="1"/><line x1="1600" y1="967.8" x2="1602.5" y2="967.8" stroke="#999" stroke-width="1"/><line x1="1600" y1="980.2" x2="1602.5" y2="980.2" stroke="#999" stroke-width="1"/><line x1="1600" y1="992.6" x2="1602.5" y2="992.6" stroke="#999" stroke-width="1"/><line x1="1600" y1="1005.1" x2="1602.5" y2="1005.1" stroke="#999" stroke-width="1"/><line x1="1600" y1="1017.5" x2="1602.5" y2="1017.5" stroke="#999" stroke-width="1"/><g clip-path="url(#iclip)"><path d="M1594.0 1017.4L1596.4 1015.7 1598.9 1014.0 1601.3 1012.2 1603.7 1010.4 1606.2 1008.5 1608.6 1006.6 1611.0 1004.6 1613.4 1002.7 1615.9 1000.7 1618.3 998.7 1620.7 996.7 1623.2 994.7 1625.6 992.7 1628.0 990.7 1630.5 988.7 1632.9 986.7 1635.3 984.8 1637.7 982.9 1640.2 981.0 1642.6 979.1 1645.0 977.2 1647.5 975.3 1649.9 973.4 1652.3 971.5 1654.8 969.6 1657.2 967.8 1659.6 965.9 1662.1 964.0 1664.5 962.2 1666.9 960.4 1669.3 958.5 1671.8 956.7 1674.2 954.9 1676.6 953.1 1679.1 951.3 1681.5 949.5 1683.9 947.7 1686.4 946.0 1688.8 944.2 1691.2 942.5 1693.6 940.8 1696.1 939.1 1698.5 937.5 1700.9 935.9 1703.4 934.3 1705.8 932.8 1708.2 931.2 1710.7 929.7 1713.1 928.1 1715.5 926.5 1717.9 924.9 1720.4 923.3 1722.8 921.6 1725.2 919.9 1727.7 918.1 1730.1 916.3 1732.5 914.4 1735.0 912.5 1737.4 910.5 1739.8 908.4 1742.3 906.3 1744.7 904.1 1747.1 901.9 1749.5 899.7 1752.0 897.5 1754.4 895.3 1756.8 893.1 1759.3 891.0 1761.7 888.8 1764.1 886.7 1766.6 884.5 1769.0 882.3 1771.4 880.1 1773.8 877.9 1776.3 875.6 1778.7 873.3 1781.1 870.9 1783.6 868.4 1786.0 866.0" fill="none" stroke="#4650cc" stroke-width="10.8" stroke-linejoin="round"/><path d="M1594.0 1017.4L1596.4 1015.7 1598.9 1014.0 1601.3 1012.2 1603.7 1010.4 1606.2 1008.5 1608.6 1006.6 1611.0 1004.6 1613.4 1002.7 1615.9 1000.7 1618.3 998.7 1620.7 996.7 1623.2 994.7 1625.6 992.7 1628.0 990.7 1630.5 988.7 1632.9 986.7 1635.3 984.8 1637.7 982.9 1640.2 981.0 1642.6 979.1 1645.0 977.2 1647.5 975.3 1649.9 973.4 1652.3 971.5 1654.8 969.6 1657.2 967.8 1659.6 965.9 1662.1 964.0 1664.5 962.2 1666.9 960.4 1669.3 958.5 1671.8 956.7 1674.2 954.9 1676.6 953.1 1679.1 951.3 1681.5 949.5 1683.9 947.7 1686.4 946.0 1688.8 944.2 1691.2 942.5 1693.6 940.8 1696.1 939.1 1698.5 937.5 1700.9 935.9 1703.4 934.3 1705.8 932.8 1708.2 931.2 1710.7 929.7 1713.1 928.1 1715.5 926.5 1717.9 924.9 1720.4 923.3 1722.8 921.6 1725.2 919.9 1727.7 918.1 1730.1 916.3 1732.5 914.4 1735.0 912.5 1737.4 910.5 1739.8 908.4 1742.3 906.3 1744.7 904.1 1747.1 901.9 1749.5 899.7 1752.0 897.5 1754.4 895.3 1756.8 893.1 1759.3 891.0 1761.7 888.8 1764.1 886.7 1766.6 884.5 1769.0 882.3 1771.4 880.1 1773.8 877.9 1776.3 875.6 1778.7 873.3 1781.1 870.9 1783.6 868.4 1786.0 866.0" fill="none" stroke="#7078dc" stroke-width="7.0" stroke-linejoin="round"/><path d="M1594.0 1016.6L1596.4 1014.9 1598.9 1013.2 1601.3 1011.4 1603.7 1009.6 1606.2 1007.7 1608.6 1005.8 1611.0 1003.8 1613.4 1001.9 1615.9 999.9 1618.3 997.9 1620.7 995.9 1623.2 993.9 1625.6 991.9 1628.0 989.9 1630.5 987.9 1632.9 985.9 1635.3 984.0 1637.7 982.1 1640.2 980.2 1642.6 978.3 1645.0 976.4 1647.5 974.5 1649.9 972.6 1652.3 970.7 1654.8 968.8 1657.2 967.0 1659.6 965.1 1662.1 963.2 1664.5 961.4 1666.9 959.6 1669.3 957.7 1671.8 955.9 1674.2 954.1 1676.6 952.3 1679.1 950.5 1681.5 948.7 1683.9 946.9 1686.4 945.2 1688.8 943.4 1691.2 941.7 1693.6 940.0 1696.1 938.3 1698.5 936.7 1700.9 935.1 1703.4 933.5 1705.8 932.0 1708.2 930.4 1710.7 928.9 1713.1 927.3 1715.5 925.7 1717.9 924.1 1720.4 922.5 1722.8 920.8 1725.2 919.1 1727.7 917.3 1730.1 915.5 1732.5 913.6 1735.0 911.7 1737.4 909.7 1739.8 907.6 1742.3 905.5 1744.7 903.3 1747.1 901.1 1749.5 898.9 1752.0 896.7 1754.4 894.5 1756.8 892.3 1759.3 890.2 1761.7 888.0 1764.1 885.9 1766.6 883.7 1769.0 881.5 1771.4 879.3 1773.8 877.1 1776.3 874.8 1778.7 872.5 1781.1 870.1 1783.6 867.6 1786.0 865.2" fill="none" stroke="#c4c8f6" stroke-width="2.6" stroke-linejoin="round" stroke-dasharray="3 2.5"/></g><rect x="1611.9" y="873.9" width="8.2" height="6.6" fill="none" stroke="#8f8fd0" stroke-width="1"/><text transform="translate(1631.90,880.89) scale(0.9420,1)" font-family='"Liberation Sans", Arial, sans-serif' font-weight="bold" fill="#111"><tspan x="0.00" y="-0.00" font-size="10.56">CuO</tspan></text><text transform="translate(1547.88,872.44) scale(0.9734,1)" font-family='"Liberation Sans", Arial, sans-serif' font-weight="bold" fill="#000"><tspan x="0.00" y="-0.00" font-size="15.92">0.0015</tspan></text><text transform="translate(1548.11,897.29) scale(0.9734,1)" font-family='"Liberation Sans", Arial, sans-serif' font-weight="bold" fill="#000"><tspan x="0.00" y="-0.00" font-size="15.92">0.0010</tspan></text><text transform="translate(1547.88,922.14) scale(0.9734,1)" font-family='"Liberation Sans", Arial, sans-serif' font-weight="bold" fill="#000"><tspan x="0.00" y="-0.00" font-size="15.92">0.0005</tspan></text><text transform="translate(1548.11,946.99) scale(0.9734,1)" font-family='"Liberation Sans", Arial, sans-serif' font-weight="bold" fill="#000"><tspan x="0.00" y="-0.00" font-size="15.92">0.0000</tspan></text><text transform="translate(1542.77,971.84) scale(0.9734,1)" font-family='"Liberation Sans", Arial, sans-serif' font-weight="bold" fill="#000"><tspan x="0.00" y="-0.00" font-size="15.92">-0.0005</tspan></text><text transform="translate(1543.00,996.69) scale(0.9734,1)" font-family='"Liberation Sans", Arial, sans-serif' font-weight="bold" fill="#000"><tspan x="0.00" y="-0.00" font-size="15.92">-0.0010</tspan></text><text transform="translate(1542.77,1021.54) scale(0.9734,1)" font-family='"Liberation Sans", Arial, sans-serif' font-weight="bold" fill="#000"><tspan x="0.00" y="-0.00" font-size="15.92">-0.0015</tspan></text><text transform="translate(1591.80,1034.70) scale(0.9849,1)" font-family='"Liberation Sans", Arial, sans-serif' font-weight="bold" fill="#000"><tspan x="0.00" y="-0.00" font-size="14.06">-4</tspan></text><text transform="translate(1637.39,1034.84) scale(0.9849,1)" font-family='"Liberation Sans", Arial, sans-serif' font-weight="bold" fill="#000"><tspan x="0.00" y="-0.00" font-size="14.06">-2</tspan></text><text transform="translate(1686.86,1034.84) scale(0.9849,1)" font-family='"Liberation Sans", Arial, sans-serif' font-weight="bold" fill="#000"><tspan x="0.00" y="-0.00" font-size="14.06">0</tspan></text><text transform="translate(1732.24,1034.84) scale(0.9849,1)" font-family='"Liberation Sans", Arial, sans-serif' font-weight="bold" fill="#000"><tspan x="0.00" y="-0.00" font-size="14.06">2</tspan></text><text transform="translate(1777.49,1034.70) scale(0.9849,1)" font-family='"Liberation Sans", Arial, sans-serif' font-weight="bold" fill="#000"><tspan x="0.00" y="-0.00" font-size="14.06">4</tspan></text><text transform="translate(1631.28,1060.24) scale(1.0310,1)" font-family='"Liberation Sans", Arial, sans-serif' font-weight="bold" fill="#000"><tspan x="0.00" y="-0.00" font-size="22.67">Voltage (V)</tspan></text><text transform="translate(1536.28,1014.44) rotate(-90) scale(1.0435,1)" font-family='"Liberation Sans", Arial, sans-serif' font-weight="bold" fill="#000"><tspan x="0.00" y="-0.00" font-size="22.46">Current (mA)</tspan></text><polygon points="1270,632.2 1278.6,646.2 1261.4,646.2" fill="none" stroke="#b452b8" stroke-width="1.2"/><polygon points="1269.9,668.6 1271.8,673.6 1277.1,673.9 1272.9,677.2 1274.4,682.3 1269.9,679.4 1265.4,682.3 1266.9,677.2 1262.7,673.9 1268.0,673.6" fill="none" stroke="#6a1a6e" stroke-width="1.3"/><polygon points="1269.9,702.6 1277.5,708.1 1274.6,717.1 1265.2,717.1 1262.3,708.1" fill="none" stroke="#3a8a3a" stroke-width="1.2"/><line x1="1262.3000000000002" y1="711.1" x2="1277.5" y2="711.1" stroke="#3a8a3a" stroke-width="1"/><line x1="1269.9" y1="702.6" x2="1269.9" y2="717.1" stroke="#3a8a3a" stroke-width="1"/><text transform="translate(1309.06,650.54) scale(1.0930,1)" font-family='"Liberation Sans", Arial, sans-serif' font-weight="normal" fill="#111"><tspan x="0.00" y="-0.00" font-size="26.06">10% rGO</tspan></text><text transform="translate(1309.08,684.84) scale(1.0930,1)" font-family='"Liberation Sans", Arial, sans-serif' font-weight="normal" fill="#111"><tspan x="0.00" y="-0.00" font-size="26.06">20% rGO</tspan></text><text transform="translate(1309.36,720.04) scale(1.0930,1)" font-family='"Liberation Sans", Arial, sans-serif' font-weight="normal" fill="#111"><tspan x="0.00" y="-0.00" font-size="26.06">30% rGO</tspan></text><rect x="1227.5" y="616.7" width="571" height="461.3" fill="none" stroke="#000" stroke-width="1.7"/><line x1="1227.0" y1="1078" x2="1227.0" y2="1086.5" stroke="#000" stroke-width="1.7"/><line x1="1298.4" y1="1078" x2="1298.4" y2="1082" stroke="#000" stroke-width="1.7"/><line x1="1369.9" y1="1078" x2="1369.9" y2="1086.5" stroke="#000" stroke-width="1.7"/><line x1="1441.3" y1="1078" x2="1441.3" y2="1082" stroke="#000" stroke-width="1.7"/><line x1="1512.8" y1="1078" x2="1512.8" y2="1086.5" stroke="#000" stroke-width="1.7"/><line x1="1584.2" y1="1078" x2="1584.2" y2="1082" stroke="#000" stroke-width="1.7"/><line x1="1655.7" y1="1078" x2="1655.7" y2="1086.5" stroke="#000" stroke-width="1.7"/><line x1="1727.2" y1="1078" x2="1727.2" y2="1082" stroke="#000" stroke-width="1.7"/><line x1="1798.6" y1="1078" x2="1798.6" y2="1086.5" stroke="#000" stroke-width="1.7"/><line x1="1227.5" y1="1077.8" x2="1219" y2="1077.8" stroke="#000" stroke-width="1.7"/><line x1="1227.5" y1="1020.2" x2="1223" y2="1020.2" stroke="#000" stroke-width="1.7"/><line x1="1227.5" y1="962.5" x2="1219" y2="962.5" stroke="#000" stroke-width="1.7"/><line x1="1227.5" y1="904.9" x2="1223" y2="904.9" stroke="#000" stroke-width="1.7"/><line x1="1227.5" y1="847.2" x2="1219" y2="847.2" stroke="#000" stroke-width="1.7"/><line x1="1227.5" y1="789.6" x2="1223" y2="789.6" stroke="#000" stroke-width="1.7"/><line x1="1227.5" y1="732.0" x2="1219" y2="732.0" stroke="#000" stroke-width="1.7"/><line x1="1227.5" y1="674.3" x2="1223" y2="674.3" stroke="#000" stroke-width="1.7"/><line x1="1227.5" y1="616.6" x2="1219" y2="616.6" stroke="#000" stroke-width="1.7"/><text transform="translate(1126.00,1088.25) scale(1.0090,1)" font-family='"Liberation Sans", Arial, sans-serif' font-weight="bold" fill="#000"><tspan x="0.00" y="-0.00" font-size="30.14">-0.002</tspan></text><text transform="translate(1125.54,972.95) scale(1.0090,1)" font-family='"Liberation Sans", Arial, sans-serif' font-weight="bold" fill="#000"><tspan x="0.00" y="-0.00" font-size="30.14">-0.001</tspan></text><text transform="translate(1136.18,857.65) scale(1.0090,1)" font-family='"Liberation Sans", Arial, sans-serif' font-weight="bold" fill="#000"><tspan x="0.00" y="-0.00" font-size="30.14">0.000</tspan></text><text transform="translate(1135.73,742.35) scale(1.0090,1)" font-family='"Liberation Sans", Arial, sans-serif' font-weight="bold" fill="#000"><tspan x="0.00" y="-0.00" font-size="30.14">0.001</tspan></text><text transform="translate(1136.18,627.05) scale(1.0090,1)" font-family='"Liberation Sans", Arial, sans-serif' font-weight="bold" fill="#000"><tspan x="0.00" y="-0.00" font-size="30.14">0.002</tspan></text><text transform="translate(1208.78,1116.49) scale(1.0011,1)" font-family='"Liberation Sans", Arial, sans-serif' font-weight="bold" fill="#000"><tspan x="0.00" y="-0.00" font-size="30.70">-4</tspan></text><text transform="translate(1352.22,1116.79) scale(1.0011,1)" font-family='"Liberation Sans", Arial, sans-serif' font-weight="bold" fill="#000"><tspan x="0.00" y="-0.00" font-size="30.70">-2</tspan></text><text transform="translate(1504.27,1116.79) scale(1.0011,1)" font-family='"Liberation Sans", Arial, sans-serif' font-weight="bold" fill="#000"><tspan x="0.00" y="-0.00" font-size="30.70">0</tspan></text><text transform="translate(1647.25,1116.79) scale(1.0011,1)" font-family='"Liberation Sans", Arial, sans-serif' font-weight="bold" fill="#000"><tspan x="0.00" y="-0.00" font-size="30.70">2</tspan></text><text transform="translate(1789.92,1116.49) scale(1.0011,1)" font-family='"Liberation Sans", Arial, sans-serif' font-weight="bold" fill="#000"><tspan x="0.00" y="-0.00" font-size="30.70">4</tspan></text><text transform="translate(1378.64,1184.15) scale(1.1077,1)" font-family='"Liberation Sans", Arial, sans-serif' font-weight="bold" fill="#000"><tspan x="0.00" y="-0.00" font-size="47.38">Voltage (V)</tspan></text><text transform="translate(1122.91,986.11) rotate(-90) scale(1.0570,1)" font-family='"Liberation Sans", Arial, sans-serif' font-weight="bold" fill="#000"><tspan x="0.00" y="-0.00" font-size="49.95">Current (A)</tspan></text><text transform="translate(1507.59,652.56) scale(1.1638,1)" font-family='"Liberation Serif", "Times New Roman", serif' font-weight="bold" fill="#000"><tspan x="0.00" y="-0.00" font-size="34.62">c)</tspan></text></svg></body></html>
